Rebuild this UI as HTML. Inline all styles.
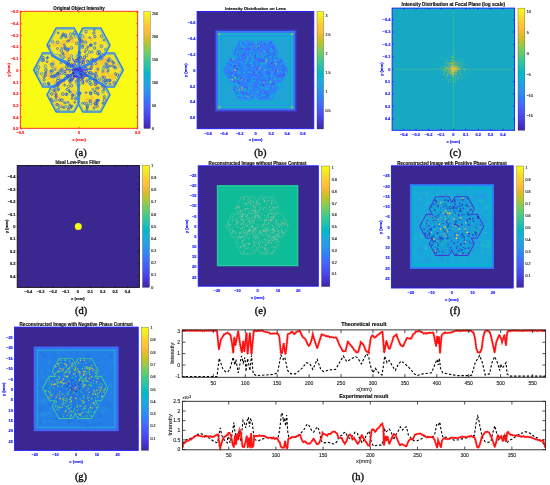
<!DOCTYPE html>
<html><head><meta charset="utf-8"><title>Figure</title>
<style>html,body{margin:0;padding:0;background:#fff;width:550px;height:485px;overflow:hidden}svg{display:block}</style>
</head><body>
<svg width="550" height="485" viewBox="0 0 550 485">
<rect width="550" height="485" fill="#fff"/>
<rect x="20.3" y="11.3" width="117.4" height="117" fill="#f9fb15"/>
<g transform="translate(78.5 70) scale(0.99 1.07) translate(-78.5 -70)">
<polygon points="123.75,70 114.55,54.07 96.16,54.07 86.96,70 96.16,85.93 114.55,85.93" fill="#f4e42a" stroke="#2f81fa" stroke-width="1.5" stroke-linejoin="round"/>
<polygon points="110.32,46.74 101.13,30.81 82.73,30.81 73.53,46.74 82.73,62.67 101.13,62.67" fill="#f4e42a" stroke="#2f81fa" stroke-width="1.5" stroke-linejoin="round"/>
<polygon points="83.47,46.74 74.27,30.81 55.88,30.81 46.68,46.74 55.88,62.67 74.27,62.67" fill="#f4e42a" stroke="#2f81fa" stroke-width="1.5" stroke-linejoin="round"/>
<polygon points="70.04,70 60.84,54.07 42.45,54.07 33.25,70 42.45,85.93 60.84,85.93" fill="#f4e42a" stroke="#2f81fa" stroke-width="1.5" stroke-linejoin="round"/>
<polygon points="83.47,93.26 74.27,77.33 55.87,77.33 46.68,93.26 55.87,109.19 74.27,109.19" fill="#f4e42a" stroke="#2f81fa" stroke-width="1.5" stroke-linejoin="round"/>
<polygon points="110.32,93.26 101.13,77.33 82.73,77.33 73.53,93.26 82.73,109.19 101.13,109.19" fill="#f4e42a" stroke="#2f81fa" stroke-width="1.5" stroke-linejoin="round"/>
<polygon points="122.05,70 113.7,55.54 97.01,55.54 88.66,70 97.01,84.46 113.7,84.46" fill="#f4e42a" stroke="#1caadf" stroke-width="0.5"/>
<polygon points="108.62,46.74 100.28,32.28 83.58,32.28 75.23,46.74 83.58,61.2 100.28,61.2" fill="#f4e42a" stroke="#1caadf" stroke-width="0.5"/>
<polygon points="81.77,46.74 73.42,32.28 56.73,32.28 48.38,46.74 56.72,61.2 73.42,61.2" fill="#f4e42a" stroke="#1caadf" stroke-width="0.5"/>
<polygon points="68.34,70 59.99,55.54 43.3,55.54 34.95,70 43.3,84.46 59.99,84.46" fill="#f4e42a" stroke="#1caadf" stroke-width="0.5"/>
<polygon points="81.77,93.26 73.42,78.8 56.72,78.8 48.38,93.26 56.72,107.72 73.42,107.72" fill="#f4e42a" stroke="#1caadf" stroke-width="0.5"/>
<polygon points="108.62,93.26 100.28,78.8 83.58,78.8 75.23,93.26 83.58,107.72 100.28,107.72" fill="#f4e42a" stroke="#1caadf" stroke-width="0.5"/>
<polygon points="90.16,63.27 78.5,56.54 66.84,63.27 66.84,76.73 78.5,83.46 90.16,76.73" fill="#e8d838"/>
<circle cx="102.37" cy="47.83" r="1.62" fill="#f5ba3a" opacity="0.6"/>
<circle cx="92.22" cy="96.13" r="1.92" fill="#f5ba3a" opacity="0.6"/>
<circle cx="108.89" cy="63.92" r="2.98" fill="#f5ba3a" opacity="0.6"/>
<circle cx="73.56" cy="90.05" r="2.17" fill="#f5ba3a" opacity="0.6"/>
<circle cx="52.85" cy="62.95" r="2.48" fill="#f5ba3a" opacity="0.6"/>
<circle cx="54.34" cy="45.64" r="2.47" fill="#f5ba3a" opacity="0.6"/>
<circle cx="53.05" cy="66.34" r="2.91" fill="#f5ba3a" opacity="0.6"/>
<circle cx="109.05" cy="75.11" r="2.09" fill="#f5ba3a" opacity="0.6"/>
<circle cx="91.38" cy="41.57" r="1.96" fill="#f5ba3a" opacity="0.6"/>
<circle cx="98.54" cy="89.11" r="1.99" fill="#f5ba3a" opacity="0.6"/>
<circle cx="60.7" cy="77.93" r="1.98" fill="#f5ba3a" opacity="0.6"/>
<circle cx="105.42" cy="62.25" r="2.77" fill="#f5ba3a" opacity="0.6"/>
<circle cx="48.91" cy="74.42" r="2.84" fill="#f5ba3a" opacity="0.6"/>
<circle cx="96.88" cy="85.79" r="1.95" fill="#f5ba3a" opacity="0.6"/>
<circle cx="79.26" cy="95.2" r="2" fill="#f5ba3a" opacity="0.6"/>
<circle cx="68.87" cy="40.17" r="2.32" fill="#f5ba3a" opacity="0.6"/>
<circle cx="102.98" cy="73.59" r="2.37" fill="#f5ba3a" opacity="0.6"/>
<circle cx="57.62" cy="74.34" r="2.39" fill="#f5ba3a" opacity="0.6"/>
<circle cx="106.48" cy="71.69" r="1.87" fill="#f5ba3a" opacity="0.6"/>
<circle cx="84.83" cy="42.84" r="1.53" fill="#f5ba3a" opacity="0.6"/>
<circle cx="65.54" cy="56.07" r="1.87" fill="#f5ba3a" opacity="0.6"/>
<circle cx="49.29" cy="77.64" r="1.61" fill="#f5ba3a" opacity="0.6"/>
<circle cx="56.35" cy="100.93" r="2.33" fill="#f5ba3a" opacity="0.6"/>
<circle cx="101.63" cy="47.34" r="1.61" fill="#f5ba3a" opacity="0.6"/>
<circle cx="47.7" cy="72.48" r="1.61" fill="#f5ba3a" opacity="0.6"/>
<circle cx="97.65" cy="65.9" r="2.45" fill="#f5ba3a" opacity="0.6"/>
<circle cx="62.39" cy="67.63" r="1.94" fill="#f5ba3a" opacity="0.6"/>
<circle cx="71.34" cy="41.77" r="2.69" fill="#f5ba3a" opacity="0.6"/>
<circle cx="79.42" cy="43.67" r="2.24" fill="#f5ba3a" opacity="0.6"/>
<circle cx="88.06" cy="98.69" r="2.79" fill="#f5ba3a" opacity="0.6"/>
<circle cx="94.62" cy="74.05" r="1.73" fill="#f5ba3a" opacity="0.6"/>
<circle cx="105.45" cy="71.5" r="2.25" fill="#f5ba3a" opacity="0.6"/>
<circle cx="62.32" cy="81.85" r="2.69" fill="#f5ba3a" opacity="0.6"/>
<circle cx="60.98" cy="102.45" r="1.62" fill="#f5ba3a" opacity="0.6"/>
<circle cx="100.57" cy="62.41" r="2.92" fill="#f5ba3a" opacity="0.6"/>
<circle cx="84.86" cy="40.27" r="1.76" fill="#f5ba3a" opacity="0.6"/>
<circle cx="96.96" cy="70.8" r="2.66" fill="#f5ba3a" opacity="0.6"/>
<circle cx="67.46" cy="56.15" r="2.98" fill="#f5ba3a" opacity="0.6"/>
<circle cx="72.43" cy="42.32" r="2.73" fill="#f5ba3a" opacity="0.6"/>
<circle cx="60.04" cy="69.98" r="1.98" fill="#f5ba3a" opacity="0.6"/>
<circle cx="62.69" cy="103.63" r="1.66" fill="#f5ba3a" opacity="0.6"/>
<circle cx="63.94" cy="44.03" r="2.27" fill="#f5ba3a" opacity="0.6"/>
<circle cx="94.29" cy="100.56" r="2.88" fill="#f5ba3a" opacity="0.6"/>
<circle cx="54.48" cy="90.4" r="1.94" fill="#f5ba3a" opacity="0.6"/>
<circle cx="101.95" cy="79.07" r="2.84" fill="#f5ba3a" opacity="0.6"/>
<circle cx="109.37" cy="58.06" r="1.71" fill="#f5ba3a" opacity="0.6"/>
<circle cx="64.05" cy="51.1" r="2.87" fill="#f5ba3a" opacity="0.6"/>
<circle cx="111.75" cy="79.41" r="1.55" fill="#f5ba3a" opacity="0.6"/>
<circle cx="45.5" cy="74.63" r="1.97" fill="#f5ba3a" opacity="0.6"/>
<circle cx="104.01" cy="58.96" r="2.85" fill="#f5ba3a" opacity="0.6"/>
<circle cx="84.91" cy="45" r="2.71" fill="#f5ba3a" opacity="0.6"/>
<circle cx="113.86" cy="75.83" r="2.86" fill="#f5ba3a" opacity="0.6"/>
<circle cx="116.97" cy="66.18" r="2.76" fill="#f5ba3a" opacity="0.6"/>
<circle cx="58.34" cy="95.97" r="2.62" fill="#f5ba3a" opacity="0.6"/>
<circle cx="55.1" cy="92.08" r="2.53" fill="#f5ba3a" opacity="0.6"/>
<circle cx="56.18" cy="67.92" r="1.77" fill="#f5ba3a" opacity="0.6"/>
<circle cx="52.72" cy="80.66" r="2.15" fill="#f5ba3a" opacity="0.6"/>
<circle cx="95.53" cy="84.65" r="1.74" fill="#f5ba3a" opacity="0.6"/>
<circle cx="56.7" cy="73.77" r="2.57" fill="#f5ba3a" opacity="0.6"/>
<circle cx="61.06" cy="47.05" r="2.5" fill="#f5ba3a" opacity="0.6"/>
<line x1="78.5" y1="70" x2="104.86" y2="55.68" stroke="#3f6eff" stroke-width="2.4" stroke-linecap="round"/>
<line x1="78.5" y1="70" x2="104.86" y2="55.68" stroke="#05b6ce" stroke-width="0.8"/>
<line x1="78.5" y1="70" x2="79.87" y2="40.03" stroke="#3f6eff" stroke-width="2.4" stroke-linecap="round"/>
<line x1="78.5" y1="70" x2="79.87" y2="40.03" stroke="#05b6ce" stroke-width="0.8"/>
<line x1="78.5" y1="70" x2="51.82" y2="56.28" stroke="#3f6eff" stroke-width="2.4" stroke-linecap="round"/>
<line x1="78.5" y1="70" x2="51.82" y2="56.28" stroke="#05b6ce" stroke-width="0.8"/>
<line x1="78.5" y1="70" x2="53.02" y2="85.83" stroke="#3f6eff" stroke-width="2.4" stroke-linecap="round"/>
<line x1="78.5" y1="70" x2="53.02" y2="85.83" stroke="#05b6ce" stroke-width="0.8"/>
<line x1="78.5" y1="70" x2="78.65" y2="100" stroke="#3f6eff" stroke-width="2.4" stroke-linecap="round"/>
<line x1="78.5" y1="70" x2="78.65" y2="100" stroke="#05b6ce" stroke-width="0.8"/>
<line x1="78.5" y1="70" x2="104.55" y2="84.89" stroke="#3f6eff" stroke-width="2.4" stroke-linecap="round"/>
<line x1="78.5" y1="70" x2="104.55" y2="84.89" stroke="#05b6ce" stroke-width="0.8"/>
<line x1="78.5" y1="70" x2="91.48" y2="69.2" stroke="#4367fd" stroke-width="1.2"/>
<line x1="78.5" y1="70" x2="85.09" y2="58.8" stroke="#4367fd" stroke-width="1.2"/>
<line x1="78.5" y1="70" x2="72.21" y2="58.63" stroke="#4367fd" stroke-width="1.2"/>
<line x1="78.5" y1="70" x2="65.51" y2="69.63" stroke="#4367fd" stroke-width="1.2"/>
<line x1="78.5" y1="70" x2="71.53" y2="80.97" stroke="#4367fd" stroke-width="1.2"/>
<line x1="78.5" y1="70" x2="84.04" y2="81.76" stroke="#4367fd" stroke-width="1.2"/>
<circle cx="79.3" cy="69.5" r="1.8" fill="none" stroke="#484aee" stroke-width="0.9"/>
<circle cx="73.5" cy="72.5" r="1.5" fill="#3e26a8"/>
<circle cx="65.37" cy="37.26" r="1.17" fill="none" stroke="#2060e0" stroke-width="0.75"/>
<circle cx="108.27" cy="60.75" r="1.23" fill="none" stroke="#2a72e8" stroke-width="0.75"/>
<circle cx="69.55" cy="80.18" r="1.05" fill="none" stroke="#2a48d0" stroke-width="0.75"/>
<circle cx="81.1" cy="70.08" r="0.97" fill="none" stroke="#2058dc" stroke-width="0.75"/>
<circle cx="95.38" cy="90.94" r="1.18" fill="none" stroke="#1d55d8" stroke-width="0.75"/>
<circle cx="54.82" cy="69.55" r="0.93" fill="none" stroke="#2a72e8" stroke-width="0.75"/>
<circle cx="76.58" cy="45.12" r="1.23" fill="none" stroke="#2060e0" stroke-width="0.75"/>
<circle cx="70.56" cy="75.47" r="1.24" fill="none" stroke="#3040c8" stroke-width="0.75"/>
<circle cx="58.16" cy="83.25" r="1.27" fill="none" stroke="#1d55d8" stroke-width="0.75"/>
<circle cx="95.93" cy="101.58" r="1.29" fill="none" stroke="#2060e0" stroke-width="0.75"/>
<circle cx="66.88" cy="88.22" r="1.13" fill="none" stroke="#2a72e8" stroke-width="0.75"/>
<circle cx="99.9" cy="78.56" r="1.36" fill="none" stroke="#2f86e8" stroke-width="0.75"/>
<circle cx="49.2" cy="47.43" r="0.88" fill="none" stroke="#3a58d8" stroke-width="0.75"/>
<circle cx="52.94" cy="76.29" r="1.29" fill="none" stroke="#2060e0" stroke-width="0.75"/>
<circle cx="94.94" cy="89.65" r="0.82" fill="none" stroke="#2a72e8" stroke-width="0.75"/>
<circle cx="64.74" cy="71.36" r="1.05" fill="none" stroke="#2a48d0" stroke-width="0.75"/>
<circle cx="106.37" cy="81.62" r="1.33" fill="none" stroke="#2060e0" stroke-width="0.75"/>
<circle cx="57.46" cy="107.36" r="1.22" fill="none" stroke="#2f86e8" stroke-width="0.75"/>
<circle cx="103.46" cy="100.94" r="1.05" fill="none" stroke="#1d55d8" stroke-width="0.75"/>
<circle cx="92.95" cy="88.14" r="0.94" fill="none" stroke="#2f86e8" stroke-width="0.75"/>
<circle cx="105.9" cy="63.93" r="0.88" fill="none" stroke="#2f86e8" stroke-width="0.75"/>
<circle cx="87.61" cy="61.69" r="1.1" fill="none" stroke="#2058dc" stroke-width="0.75"/>
<circle cx="55.71" cy="92.59" r="0.96" fill="none" stroke="#1d55d8" stroke-width="0.75"/>
<circle cx="90.04" cy="79.56" r="1.27" fill="none" stroke="#2a72e8" stroke-width="0.75"/>
<circle cx="59.02" cy="73.83" r="1.38" fill="none" stroke="#2a72e8" stroke-width="0.75"/>
<circle cx="57.98" cy="77.76" r="1.36" fill="none" stroke="#2f86e8" stroke-width="0.75"/>
<circle cx="55.95" cy="86.61" r="1.23" fill="none" stroke="#1d55d8" stroke-width="0.75"/>
<circle cx="104.84" cy="97.93" r="1.36" fill="none" stroke="#2060e0" stroke-width="0.75"/>
<circle cx="102.85" cy="76.38" r="0.81" fill="none" stroke="#3a58d8" stroke-width="0.75"/>
<circle cx="67.93" cy="50.46" r="0.82" fill="none" stroke="#2a72e8" stroke-width="0.75"/>
<circle cx="45.61" cy="70.03" r="1.34" fill="none" stroke="#2060e0" stroke-width="0.75"/>
<circle cx="85.07" cy="52.92" r="0.81" fill="none" stroke="#2060e0" stroke-width="0.75"/>
<circle cx="73.28" cy="65.43" r="1.11" fill="none" stroke="#2a48d0" stroke-width="0.75"/>
<circle cx="60.83" cy="60.9" r="0.82" fill="none" stroke="#2f86e8" stroke-width="0.75"/>
<circle cx="104.12" cy="86.6" r="0.92" fill="none" stroke="#3a58d8" stroke-width="0.75"/>
<circle cx="67.42" cy="43.2" r="0.97" fill="none" stroke="#3a58d8" stroke-width="0.75"/>
<circle cx="87.38" cy="104.54" r="1.1" fill="none" stroke="#2a72e8" stroke-width="0.75"/>
<circle cx="108.31" cy="70.99" r="1.04" fill="none" stroke="#2060e0" stroke-width="0.75"/>
<circle cx="108.78" cy="61.76" r="0.92" fill="none" stroke="#1d55d8" stroke-width="0.75"/>
<circle cx="60.88" cy="40.16" r="0.91" fill="none" stroke="#2f86e8" stroke-width="0.75"/>
<circle cx="89.36" cy="72.8" r="0.98" fill="none" stroke="#2058dc" stroke-width="0.75"/>
<circle cx="68.47" cy="63.29" r="1.06" fill="none" stroke="#3040c8" stroke-width="0.75"/>
<circle cx="69.93" cy="102.69" r="1.02" fill="none" stroke="#3a58d8" stroke-width="0.75"/>
<circle cx="86.14" cy="91.16" r="0.81" fill="none" stroke="#2060e0" stroke-width="0.75"/>
<circle cx="77.84" cy="92.24" r="1.2" fill="none" stroke="#2f86e8" stroke-width="0.75"/>
<circle cx="91.2" cy="83.46" r="1.2" fill="none" stroke="#3a58d8" stroke-width="0.75"/>
<circle cx="90.2" cy="82.1" r="1.3" fill="none" stroke="#2f86e8" stroke-width="0.75"/>
<circle cx="107.04" cy="79.54" r="1.01" fill="none" stroke="#2060e0" stroke-width="0.75"/>
<circle cx="64.88" cy="48.69" r="1.19" fill="none" stroke="#1d55d8" stroke-width="0.75"/>
<circle cx="97.33" cy="103.84" r="1.22" fill="none" stroke="#3a58d8" stroke-width="0.75"/>
<circle cx="82.5" cy="38.51" r="1.37" fill="none" stroke="#2f86e8" stroke-width="0.75"/>
<circle cx="108.63" cy="68.6" r="1.14" fill="none" stroke="#2f86e8" stroke-width="0.75"/>
<circle cx="79.43" cy="92.15" r="1.36" fill="none" stroke="#3a58d8" stroke-width="0.75"/>
<circle cx="71.5" cy="56.89" r="1.16" fill="none" stroke="#2f86e8" stroke-width="0.75"/>
<circle cx="95.74" cy="61.12" r="1.34" fill="none" stroke="#3a58d8" stroke-width="0.75"/>
<circle cx="95.6" cy="79.5" r="1.16" fill="none" stroke="#1d55d8" stroke-width="0.75"/>
<circle cx="52.15" cy="43.55" r="1.3" fill="none" stroke="#2f86e8" stroke-width="0.75"/>
<circle cx="80.6" cy="58.07" r="0.98" fill="none" stroke="#3040c8" stroke-width="0.75"/>
<circle cx="79.54" cy="91.42" r="1.16" fill="none" stroke="#2a72e8" stroke-width="0.75"/>
<circle cx="48.5" cy="83.85" r="0.95" fill="none" stroke="#2060e0" stroke-width="0.75"/>
<circle cx="97.82" cy="98.51" r="1.16" fill="none" stroke="#2060e0" stroke-width="0.75"/>
<circle cx="57.66" cy="79.92" r="1.27" fill="none" stroke="#3a58d8" stroke-width="0.75"/>
<circle cx="54.26" cy="75.52" r="1.34" fill="none" stroke="#1d55d8" stroke-width="0.75"/>
<circle cx="97.21" cy="101.11" r="1.1" fill="none" stroke="#1d55d8" stroke-width="0.75"/>
<circle cx="89.58" cy="53.4" r="1.22" fill="none" stroke="#2a72e8" stroke-width="0.75"/>
<circle cx="72.32" cy="93.67" r="1.22" fill="none" stroke="#1d55d8" stroke-width="0.75"/>
<circle cx="104.33" cy="41.94" r="1.03" fill="none" stroke="#3a58d8" stroke-width="0.75"/>
<circle cx="89.89" cy="39.74" r="0.83" fill="none" stroke="#2060e0" stroke-width="0.75"/>
<circle cx="88.12" cy="48.46" r="1.01" fill="none" stroke="#2060e0" stroke-width="0.75"/>
<circle cx="80.91" cy="37.3" r="0.95" fill="none" stroke="#2f86e8" stroke-width="0.75"/>
<circle cx="65.93" cy="92.75" r="1.25" fill="none" stroke="#2a72e8" stroke-width="0.75"/>
<circle cx="55.01" cy="89.74" r="1.03" fill="none" stroke="#2a72e8" stroke-width="0.75"/>
<circle cx="98.27" cy="52.4" r="1" fill="none" stroke="#2f86e8" stroke-width="0.75"/>
<circle cx="42.88" cy="60.68" r="1.33" fill="none" stroke="#2060e0" stroke-width="0.75"/>
<circle cx="87.32" cy="105.19" r="0.93" fill="none" stroke="#2060e0" stroke-width="0.75"/>
<circle cx="96.96" cy="98.5" r="1" fill="none" stroke="#2060e0" stroke-width="0.75"/>
<circle cx="64.24" cy="100.58" r="0.88" fill="none" stroke="#2a72e8" stroke-width="0.75"/>
<circle cx="41.87" cy="60.92" r="1.38" fill="none" stroke="#2f86e8" stroke-width="0.75"/>
<circle cx="78.05" cy="58.95" r="1" fill="none" stroke="#2a48d0" stroke-width="0.75"/>
<circle cx="107.47" cy="66.61" r="1.38" fill="none" stroke="#1d55d8" stroke-width="0.75"/>
<circle cx="85.73" cy="43.93" r="1.25" fill="none" stroke="#2f86e8" stroke-width="0.75"/>
<circle cx="97.95" cy="54.63" r="1.25" fill="none" stroke="#2a72e8" stroke-width="0.75"/>
<circle cx="86.97" cy="107.06" r="0.98" fill="none" stroke="#3a58d8" stroke-width="0.75"/>
<circle cx="62.17" cy="59.42" r="1.05" fill="none" stroke="#2f86e8" stroke-width="0.75"/>
<circle cx="69.44" cy="104.39" r="1.38" fill="none" stroke="#2060e0" stroke-width="0.75"/>
<circle cx="101.9" cy="38.53" r="1.36" fill="none" stroke="#3a58d8" stroke-width="0.75"/>
<circle cx="45.01" cy="66.64" r="1.36" fill="none" stroke="#2f86e8" stroke-width="0.75"/>
<circle cx="58.01" cy="35.38" r="0.83" fill="none" stroke="#1d55d8" stroke-width="0.75"/>
<circle cx="90.94" cy="92.14" r="1.18" fill="none" stroke="#1d55d8" stroke-width="0.75"/>
<circle cx="95.4" cy="101.28" r="1.23" fill="none" stroke="#3a58d8" stroke-width="0.75"/>
<circle cx="93.25" cy="60.02" r="0.93" fill="none" stroke="#1d55d8" stroke-width="0.75"/>
<circle cx="91.32" cy="46.75" r="1.23" fill="none" stroke="#2a72e8" stroke-width="0.75"/>
<circle cx="86.69" cy="56.39" r="1.25" fill="none" stroke="#2a72e8" stroke-width="0.75"/>
<circle cx="88.03" cy="75.45" r="0.8" fill="none" stroke="#2058dc" stroke-width="0.75"/>
<circle cx="71.63" cy="84.7" r="1.21" fill="none" stroke="#3a58d8" stroke-width="0.75"/>
<circle cx="97.83" cy="92.02" r="1.1" fill="none" stroke="#1d55d8" stroke-width="0.75"/>
<circle cx="98.51" cy="92.82" r="0.82" fill="none" stroke="#2a72e8" stroke-width="0.75"/>
<circle cx="106.83" cy="67.21" r="1.06" fill="none" stroke="#2a72e8" stroke-width="0.75"/>
<circle cx="36.88" cy="72.85" r="1.32" fill="none" stroke="#2f86e8" stroke-width="0.75"/>
<circle cx="73.37" cy="36.35" r="1.09" fill="none" stroke="#2f86e8" stroke-width="0.75"/>
<circle cx="69.01" cy="88.79" r="0.87" fill="none" stroke="#2a72e8" stroke-width="0.75"/>
<circle cx="99.55" cy="53.1" r="1.29" fill="none" stroke="#2a72e8" stroke-width="0.75"/>
<circle cx="60.74" cy="63.2" r="1.06" fill="none" stroke="#2a72e8" stroke-width="0.75"/>
<circle cx="55.46" cy="75.17" r="1.25" fill="none" stroke="#3a58d8" stroke-width="0.75"/>
<circle cx="63.12" cy="55.4" r="0.87" fill="none" stroke="#1d55d8" stroke-width="0.75"/>
<circle cx="86.11" cy="34.22" r="1.32" fill="none" stroke="#2a72e8" stroke-width="0.75"/>
<circle cx="92.31" cy="65.35" r="1.06" fill="none" stroke="#1d55d8" stroke-width="0.75"/>
<circle cx="47.46" cy="58.27" r="0.83" fill="none" stroke="#2f86e8" stroke-width="0.75"/>
<circle cx="92.18" cy="53.14" r="1.11" fill="none" stroke="#2f86e8" stroke-width="0.75"/>
<circle cx="60.25" cy="56.66" r="0.9" fill="none" stroke="#2a72e8" stroke-width="0.75"/>
<circle cx="62.69" cy="92.49" r="1.35" fill="none" stroke="#2060e0" stroke-width="0.75"/>
<circle cx="78.6" cy="72.36" r="0.93" fill="none" stroke="#2058dc" stroke-width="0.75"/>
<circle cx="62.71" cy="54.39" r="0.84" fill="none" stroke="#2060e0" stroke-width="0.75"/>
<circle cx="45.43" cy="72.15" r="0.84" fill="none" stroke="#2060e0" stroke-width="0.75"/>
<circle cx="104.2" cy="88.36" r="0.82" fill="none" stroke="#2a72e8" stroke-width="0.75"/>
<circle cx="100.82" cy="57.47" r="1" fill="none" stroke="#2060e0" stroke-width="0.75"/>
<circle cx="69.68" cy="66.79" r="1.17" fill="none" stroke="#2058dc" stroke-width="0.75"/>
<circle cx="95.45" cy="75.68" r="0.93" fill="none" stroke="#1d55d8" stroke-width="0.75"/>
<circle cx="70.46" cy="90.63" r="0.96" fill="none" stroke="#2f86e8" stroke-width="0.75"/>
<circle cx="82.64" cy="48.8" r="1.13" fill="none" stroke="#2a72e8" stroke-width="0.75"/>
<circle cx="90.46" cy="72.39" r="1.33" fill="none" stroke="#2a48d0" stroke-width="0.75"/>
<circle cx="110.23" cy="82.96" r="0.93" fill="none" stroke="#2060e0" stroke-width="0.75"/>
<circle cx="58.93" cy="105.41" r="0.94" fill="none" stroke="#2f86e8" stroke-width="0.75"/>
<circle cx="87.38" cy="103.08" r="1.22" fill="none" stroke="#2060e0" stroke-width="0.75"/>
<circle cx="114.05" cy="63.25" r="1" fill="none" stroke="#3a58d8" stroke-width="0.75"/>
<circle cx="94.39" cy="74.03" r="0.87" fill="none" stroke="#2f86e8" stroke-width="0.75"/>
<circle cx="98.94" cy="98.42" r="0.91" fill="none" stroke="#2060e0" stroke-width="0.75"/>
<circle cx="51.47" cy="92.33" r="1.26" fill="none" stroke="#1d55d8" stroke-width="0.75"/>
<circle cx="102.97" cy="71.29" r="0.93" fill="none" stroke="#2a72e8" stroke-width="0.75"/>
<circle cx="77.33" cy="61.29" r="1.34" fill="none" stroke="#2a48d0" stroke-width="0.75"/>
<circle cx="110.28" cy="66.24" r="0.84" fill="none" stroke="#2a72e8" stroke-width="0.75"/>
<circle cx="85.01" cy="74.65" r="1.33" fill="none" stroke="#2a48d0" stroke-width="0.75"/>
<circle cx="80.82" cy="73.8" r="0.84" fill="none" stroke="#3040c8" stroke-width="0.75"/>
<circle cx="70.2" cy="81.76" r="0.89" fill="none" stroke="#2060e0" stroke-width="0.75"/>
<circle cx="61.1" cy="52.07" r="1.25" fill="none" stroke="#2a72e8" stroke-width="0.75"/>
<circle cx="79.07" cy="77.81" r="0.83" fill="none" stroke="#2a48d0" stroke-width="0.75"/>
<circle cx="48" cy="82.37" r="1.07" fill="none" stroke="#1d55d8" stroke-width="0.75"/>
<circle cx="84.46" cy="58.09" r="1.2" fill="none" stroke="#2a48d0" stroke-width="0.75"/>
<circle cx="109.84" cy="59.45" r="0.83" fill="none" stroke="#2060e0" stroke-width="0.75"/>
<circle cx="75.28" cy="96.78" r="1.25" fill="none" stroke="#2060e0" stroke-width="0.75"/>
<circle cx="66.97" cy="92.57" r="0.85" fill="none" stroke="#1d55d8" stroke-width="0.75"/>
<circle cx="74.53" cy="35.29" r="1.36" fill="none" stroke="#2a72e8" stroke-width="0.75"/>
<circle cx="56.8" cy="102.39" r="1.12" fill="none" stroke="#1d55d8" stroke-width="0.75"/>
<circle cx="86.61" cy="50.74" r="1.23" fill="none" stroke="#2a72e8" stroke-width="0.75"/>
<circle cx="79.75" cy="91.68" r="1.26" fill="none" stroke="#2a72e8" stroke-width="0.75"/>
<circle cx="95.81" cy="63.98" r="1.01" fill="none" stroke="#3a58d8" stroke-width="0.75"/>
<circle cx="103.57" cy="68.71" r="1.26" fill="none" stroke="#2f86e8" stroke-width="0.75"/>
<circle cx="98" cy="69.22" r="1.03" fill="none" stroke="#3a58d8" stroke-width="0.75"/>
<circle cx="69.37" cy="90.23" r="0.85" fill="none" stroke="#1d55d8" stroke-width="0.75"/>
<circle cx="82.99" cy="73.12" r="1.3" fill="none" stroke="#3040c8" stroke-width="0.75"/>
<circle cx="83.28" cy="62.73" r="1.33" fill="none" stroke="#2a48d0" stroke-width="0.75"/>
<circle cx="94.03" cy="35.49" r="1.16" fill="none" stroke="#2060e0" stroke-width="0.75"/>
<circle cx="57.26" cy="49.98" r="0.94" fill="none" stroke="#3a58d8" stroke-width="0.75"/>
<circle cx="76.66" cy="96.54" r="1.33" fill="none" stroke="#2f86e8" stroke-width="0.75"/>
<circle cx="94.5" cy="32.64" r="0.98" fill="none" stroke="#2a72e8" stroke-width="0.75"/>
<circle cx="68.52" cy="85.27" r="1.25" fill="none" stroke="#2a72e8" stroke-width="0.75"/>
<circle cx="59.88" cy="70.71" r="1.05" fill="none" stroke="#2a72e8" stroke-width="0.75"/>
<circle cx="68.22" cy="106.69" r="1.01" fill="none" stroke="#3a58d8" stroke-width="0.75"/>
<circle cx="51.46" cy="71.88" r="1.37" fill="none" stroke="#2f86e8" stroke-width="0.75"/>
<circle cx="70.95" cy="105.11" r="0.81" fill="none" stroke="#1d55d8" stroke-width="0.75"/>
<circle cx="82.55" cy="44.17" r="0.98" fill="none" stroke="#2a72e8" stroke-width="0.75"/>
<circle cx="102" cy="55.26" r="1.14" fill="none" stroke="#2f86e8" stroke-width="0.75"/>
<circle cx="57.46" cy="73.67" r="1.23" fill="none" stroke="#1d55d8" stroke-width="0.75"/>
<circle cx="73.09" cy="93.52" r="0.9" fill="none" stroke="#1d55d8" stroke-width="0.75"/>
<circle cx="58.1" cy="88.67" r="0.88" fill="none" stroke="#2060e0" stroke-width="0.75"/>
<circle cx="70.5" cy="36.53" r="1.29" fill="none" stroke="#2a72e8" stroke-width="0.75"/>
<circle cx="50.93" cy="75.51" r="0.94" fill="none" stroke="#2a72e8" stroke-width="0.75"/>
<circle cx="81.47" cy="79.86" r="0.9" fill="none" stroke="#3040c8" stroke-width="0.75"/>
<circle cx="46.72" cy="62.2" r="0.99" fill="none" stroke="#3a58d8" stroke-width="0.75"/>
<circle cx="58.57" cy="87.69" r="0.89" fill="none" stroke="#2a72e8" stroke-width="0.75"/>
<circle cx="57.42" cy="44.15" r="1.33" fill="none" stroke="#2060e0" stroke-width="0.75"/>
<circle cx="66.53" cy="67.33" r="1.31" fill="none" stroke="#2058dc" stroke-width="0.75"/>
<circle cx="63.87" cy="79.57" r="0.99" fill="none" stroke="#1d55d8" stroke-width="0.75"/>
<circle cx="96.07" cy="73.15" r="1.09" fill="none" stroke="#2060e0" stroke-width="0.75"/>
<circle cx="95.7" cy="83.13" r="1.39" fill="none" stroke="#1d55d8" stroke-width="0.75"/>
<circle cx="61.79" cy="69.43" r="1.19" fill="none" stroke="#2a72e8" stroke-width="0.75"/>
<circle cx="63.12" cy="36.33" r="1.1" fill="none" stroke="#2a72e8" stroke-width="0.75"/>
<circle cx="41.22" cy="73.51" r="1.31" fill="none" stroke="#2f86e8" stroke-width="0.75"/>
<circle cx="96.86" cy="75.71" r="1.18" fill="none" stroke="#2a72e8" stroke-width="0.75"/>
<circle cx="95.22" cy="45.23" r="1.01" fill="none" stroke="#2060e0" stroke-width="0.75"/>
<circle cx="51.3" cy="76.12" r="0.91" fill="none" stroke="#3a58d8" stroke-width="0.75"/>
<circle cx="113.28" cy="62.96" r="0.82" fill="none" stroke="#2a72e8" stroke-width="0.75"/>
<circle cx="60.88" cy="80.44" r="1.33" fill="none" stroke="#1d55d8" stroke-width="0.75"/>
<circle cx="64.12" cy="79.15" r="0.84" fill="none" stroke="#2a72e8" stroke-width="0.75"/>
<circle cx="63.1" cy="37.37" r="1" fill="none" stroke="#3a58d8" stroke-width="0.75"/>
<circle cx="55.95" cy="94.43" r="0.95" fill="none" stroke="#2060e0" stroke-width="0.75"/>
<circle cx="91.02" cy="46.66" r="0.94" fill="none" stroke="#2a72e8" stroke-width="0.75"/>
<circle cx="94.76" cy="49.51" r="1.22" fill="none" stroke="#2060e0" stroke-width="0.75"/>
<circle cx="79.88" cy="53.88" r="0.92" fill="none" stroke="#1d55d8" stroke-width="0.75"/>
<circle cx="105.97" cy="82.78" r="0.93" fill="none" stroke="#2f86e8" stroke-width="0.75"/>
<circle cx="109.57" cy="79.61" r="1.33" fill="none" stroke="#1d55d8" stroke-width="0.75"/>
<circle cx="112.02" cy="61.42" r="0.9" fill="none" stroke="#2060e0" stroke-width="0.75"/>
<circle cx="94.7" cy="80.92" r="0.99" fill="none" stroke="#2f86e8" stroke-width="0.75"/>
<circle cx="81.01" cy="75.83" r="1.11" fill="none" stroke="#2058dc" stroke-width="0.75"/>
<circle cx="81.74" cy="60.39" r="1.16" fill="none" stroke="#2058dc" stroke-width="0.75"/>
<circle cx="114.55" cy="82.01" r="1.27" fill="none" stroke="#3a58d8" stroke-width="0.75"/>
<circle cx="79.27" cy="40.6" r="1.15" fill="none" stroke="#3a58d8" stroke-width="0.75"/>
<circle cx="52.71" cy="64.08" r="0.91" fill="none" stroke="#2a72e8" stroke-width="0.75"/>
<circle cx="82.66" cy="47.41" r="0.92" fill="none" stroke="#2060e0" stroke-width="0.75"/>
<circle cx="57.77" cy="72.73" r="0.97" fill="none" stroke="#1d55d8" stroke-width="0.75"/>
<circle cx="76.08" cy="61.25" r="1.26" fill="none" stroke="#2a48d0" stroke-width="0.75"/>
<circle cx="42.64" cy="58.55" r="1.26" fill="none" stroke="#2060e0" stroke-width="0.75"/>
<circle cx="92.48" cy="74" r="0.9" fill="none" stroke="#2a72e8" stroke-width="0.75"/>
<circle cx="82.55" cy="101.12" r="0.91" fill="none" stroke="#2a72e8" stroke-width="0.75"/>
<circle cx="98.7" cy="86.71" r="0.85" fill="none" stroke="#1d55d8" stroke-width="0.75"/>
<circle cx="95.01" cy="38.85" r="1.21" fill="none" stroke="#1d55d8" stroke-width="0.75"/>
<circle cx="63.61" cy="105.17" r="0.85" fill="none" stroke="#1d55d8" stroke-width="0.75"/>
<circle cx="67.8" cy="64.54" r="1.16" fill="none" stroke="#2a48d0" stroke-width="0.75"/>
<circle cx="43.92" cy="79.14" r="1.15" fill="none" stroke="#2060e0" stroke-width="0.75"/>
<circle cx="57.66" cy="85.1" r="0.93" fill="none" stroke="#3a58d8" stroke-width="0.75"/>
<circle cx="105.59" cy="79.38" r="1.13" fill="none" stroke="#2060e0" stroke-width="0.75"/>
<circle cx="67.6" cy="75.6" r="1.31" fill="none" stroke="#3040c8" stroke-width="0.75"/>
<circle cx="113.14" cy="66.34" r="1.14" fill="none" stroke="#1d55d8" stroke-width="0.75"/>
<circle cx="103.77" cy="78.92" r="1.09" fill="none" stroke="#2f86e8" stroke-width="0.75"/>
<circle cx="70.21" cy="79.57" r="0.99" fill="none" stroke="#2058dc" stroke-width="0.75"/>
<circle cx="38.07" cy="67.35" r="1.36" fill="none" stroke="#2a72e8" stroke-width="0.75"/>
<circle cx="55.44" cy="97.9" r="1.16" fill="none" stroke="#2f86e8" stroke-width="0.75"/>
<circle cx="54.95" cy="75.64" r="0.85" fill="none" stroke="#2a72e8" stroke-width="0.75"/>
<circle cx="65.62" cy="39.11" r="1.05" fill="none" stroke="#2060e0" stroke-width="0.75"/>
<circle cx="61.64" cy="104.37" r="0.96" fill="none" stroke="#2a72e8" stroke-width="0.75"/>
<circle cx="64.59" cy="84.26" r="0.81" fill="none" stroke="#1d55d8" stroke-width="0.75"/>
<circle cx="67.31" cy="51.35" r="1.35" fill="none" stroke="#1d55d8" stroke-width="0.75"/>
<circle cx="107.11" cy="64.66" r="0.99" fill="none" stroke="#2a72e8" stroke-width="0.75"/>
<circle cx="96.53" cy="82.21" r="1.32" fill="none" stroke="#3a58d8" stroke-width="0.75"/>
<circle cx="94.16" cy="105.42" r="1.05" fill="none" stroke="#2060e0" stroke-width="0.75"/>
<circle cx="48.83" cy="82.92" r="0.98" fill="none" stroke="#2a72e8" stroke-width="0.75"/>
<circle cx="67.93" cy="100.21" r="0.83" fill="none" stroke="#3a58d8" stroke-width="0.75"/>
<circle cx="104.25" cy="66.5" r="1.06" fill="none" stroke="#2f86e8" stroke-width="0.75"/>
<circle cx="75.89" cy="69.33" r="0.93" fill="none" stroke="#3040c8" stroke-width="0.75"/>
<circle cx="103.22" cy="90.2" r="1.26" fill="none" stroke="#2f86e8" stroke-width="0.75"/>
<circle cx="50.79" cy="64.62" r="1.1" fill="none" stroke="#2a72e8" stroke-width="0.75"/>
<circle cx="82.3" cy="76.46" r="1.17" fill="none" stroke="#2058dc" stroke-width="0.75"/>
<circle cx="46.81" cy="58.79" r="0.9" fill="none" stroke="#1d55d8" stroke-width="0.75"/>
<circle cx="102.58" cy="85.13" r="1.01" fill="none" stroke="#3a58d8" stroke-width="0.75"/>
<circle cx="105.46" cy="50.86" r="1.01" fill="none" stroke="#2f86e8" stroke-width="0.75"/>
<circle cx="90.61" cy="91.36" r="1.22" fill="none" stroke="#1d55d8" stroke-width="0.75"/>
<circle cx="115.84" cy="73.41" r="1.04" fill="none" stroke="#3a58d8" stroke-width="0.75"/>
<circle cx="64.24" cy="46.39" r="0.89" fill="none" stroke="#3a58d8" stroke-width="0.75"/>
<circle cx="86.22" cy="71.19" r="1.38" fill="none" stroke="#2a48d0" stroke-width="0.75"/>
<circle cx="71.93" cy="96.64" r="0.82" fill="none" stroke="#1d55d8" stroke-width="0.75"/>
<circle cx="96.63" cy="87.25" r="0.85" fill="none" stroke="#2060e0" stroke-width="0.75"/>
<circle cx="92.4" cy="73.33" r="0.82" fill="none" stroke="#2f86e8" stroke-width="0.75"/>
<circle cx="55.69" cy="95.29" r="1.08" fill="none" stroke="#3a58d8" stroke-width="0.75"/>
<circle cx="44.03" cy="83.02" r="1.22" fill="none" stroke="#2f86e8" stroke-width="0.75"/>
<circle cx="68.27" cy="75.43" r="1.28" fill="none" stroke="#2058dc" stroke-width="0.75"/>
<circle cx="91.3" cy="68.09" r="1.22" fill="none" stroke="#3040c8" stroke-width="0.75"/>
<circle cx="61.49" cy="49.92" r="0.81" fill="none" stroke="#2f86e8" stroke-width="0.75"/>
<circle cx="70.86" cy="78.59" r="1.23" fill="none" stroke="#2058dc" stroke-width="0.75"/>
<circle cx="62.06" cy="73.14" r="1.07" fill="none" stroke="#2f86e8" stroke-width="0.75"/>
<circle cx="73.86" cy="70.14" r="1.15" fill="none" stroke="#2a48d0" stroke-width="0.75"/>
<circle cx="71.04" cy="39.92" r="1.3" fill="none" stroke="#2a72e8" stroke-width="0.75"/>
<circle cx="69.04" cy="59.96" r="1.29" fill="none" stroke="#3040c8" stroke-width="0.75"/>
<circle cx="65.83" cy="38.46" r="0.94" fill="none" stroke="#2f86e8" stroke-width="0.75"/>
<circle cx="84.55" cy="101.21" r="0.98" fill="none" stroke="#2060e0" stroke-width="0.75"/>
<circle cx="103.89" cy="81.04" r="1.07" fill="none" stroke="#2a72e8" stroke-width="0.75"/>
<circle cx="99.41" cy="55.17" r="0.92" fill="none" stroke="#1d55d8" stroke-width="0.75"/>
<circle cx="64.87" cy="50.01" r="1.07" fill="none" stroke="#2060e0" stroke-width="0.75"/>
<circle cx="75.58" cy="38.24" r="1.37" fill="none" stroke="#2f86e8" stroke-width="0.75"/>
<circle cx="51.03" cy="97.3" r="1" fill="none" stroke="#1d55d8" stroke-width="0.75"/>
<circle cx="81.9" cy="42.71" r="1.14" fill="none" stroke="#3a58d8" stroke-width="0.75"/>
<circle cx="72.09" cy="103.66" r="0.81" fill="none" stroke="#1d55d8" stroke-width="0.75"/>
<circle cx="85.52" cy="74.88" r="1.33" fill="none" stroke="#2058dc" stroke-width="0.75"/>
<circle cx="68.66" cy="42.47" r="0.84" fill="none" stroke="#1d55d8" stroke-width="0.75"/>
<circle cx="100.79" cy="59.38" r="1.11" fill="none" stroke="#3a58d8" stroke-width="0.75"/>
<circle cx="95.01" cy="78.24" r="1.4" fill="none" stroke="#2060e0" stroke-width="0.75"/>
<circle cx="44.94" cy="73.48" r="0.99" fill="none" stroke="#1d55d8" stroke-width="0.75"/>
<circle cx="67.79" cy="50.6" r="1.39" fill="none" stroke="#2a72e8" stroke-width="0.75"/>
<circle cx="65.55" cy="100.64" r="0.88" fill="none" stroke="#2f86e8" stroke-width="0.75"/>
<circle cx="53.62" cy="88.94" r="1.12" fill="none" stroke="#1d55d8" stroke-width="0.75"/>
<circle cx="64.72" cy="73.2" r="1.13" fill="none" stroke="#3a58d8" stroke-width="0.75"/>
<circle cx="52.15" cy="66.69" r="1.08" fill="none" stroke="#2f86e8" stroke-width="0.75"/>
<circle cx="59.52" cy="98.07" r="1.13" fill="none" stroke="#1d55d8" stroke-width="0.75"/>
<circle cx="86.88" cy="80.42" r="1.11" fill="none" stroke="#2058dc" stroke-width="0.75"/>
<circle cx="101.55" cy="47.82" r="1.37" fill="none" stroke="#2f86e8" stroke-width="0.75"/>
<circle cx="61.81" cy="98.26" r="1.31" fill="none" stroke="#1d55d8" stroke-width="0.75"/>
<circle cx="90.58" cy="47" r="0.97" fill="none" stroke="#1d55d8" stroke-width="0.75"/>
<circle cx="52.06" cy="70.7" r="1.21" fill="none" stroke="#2a72e8" stroke-width="0.75"/>
<circle cx="97.31" cy="98.9" r="0.87" fill="none" stroke="#3a58d8" stroke-width="0.75"/>
<circle cx="102.33" cy="58.96" r="1.23" fill="none" stroke="#2f86e8" stroke-width="0.75"/>
<circle cx="76.87" cy="80.28" r="1.24" fill="none" stroke="#2058dc" stroke-width="0.75"/>
<circle cx="57.47" cy="82.53" r="1.33" fill="none" stroke="#3a58d8" stroke-width="0.75"/>
<circle cx="71.37" cy="49.36" r="1.29" fill="none" stroke="#3a58d8" stroke-width="0.75"/>
<circle cx="44.98" cy="75.39" r="1.02" fill="none" stroke="#1d55d8" stroke-width="0.75"/>
<circle cx="52.65" cy="99.22" r="0.83" fill="none" stroke="#2060e0" stroke-width="0.75"/>
<circle cx="71.5" cy="64.73" r="0.86" fill="none" stroke="#3040c8" stroke-width="0.75"/>
<circle cx="50.45" cy="70.88" r="0.88" fill="none" stroke="#3a58d8" stroke-width="0.75"/>
<circle cx="80.48" cy="42.59" r="0.91" fill="none" stroke="#3a58d8" stroke-width="0.75"/>
<circle cx="65.81" cy="104.16" r="1.11" fill="none" stroke="#2f86e8" stroke-width="0.75"/>
<circle cx="74.74" cy="100.23" r="0.82" fill="none" stroke="#1d55d8" stroke-width="0.75"/>
<circle cx="37.15" cy="70.09" r="1.37" fill="none" stroke="#2f86e8" stroke-width="0.75"/>
<circle cx="91.72" cy="60.44" r="1.07" fill="none" stroke="#3a58d8" stroke-width="0.75"/>
<circle cx="115.22" cy="67.34" r="0.97" fill="none" stroke="#2a72e8" stroke-width="0.75"/>
<circle cx="117.84" cy="74.72" r="1.27" fill="none" stroke="#1d55d8" stroke-width="0.75"/>
<circle cx="115.59" cy="67.93" r="1.31" fill="none" stroke="#2a72e8" stroke-width="0.75"/>
<circle cx="71.88" cy="78.03" r="0.91" fill="none" stroke="#2a48d0" stroke-width="0.75"/>
<circle cx="61.97" cy="38.27" r="1.13" fill="none" stroke="#2060e0" stroke-width="0.75"/>
<circle cx="86.58" cy="101.76" r="1.39" fill="none" stroke="#2f86e8" stroke-width="0.75"/>
<circle cx="58.39" cy="103.03" r="0.94" fill="none" stroke="#2a72e8" stroke-width="0.75"/>
<circle cx="104.49" cy="94.95" r="1.06" fill="none" stroke="#2060e0" stroke-width="0.75"/>
<circle cx="104.82" cy="76.85" r="1.03" fill="none" stroke="#3a58d8" stroke-width="0.75"/>
<circle cx="43.52" cy="76.68" r="0.97" fill="none" stroke="#3a58d8" stroke-width="0.75"/>
<circle cx="63.72" cy="58.09" r="1.08" fill="none" stroke="#2f86e8" stroke-width="0.75"/>
<circle cx="83.1" cy="82.44" r="0.86" fill="none" stroke="#3040c8" stroke-width="0.75"/>
<circle cx="85.99" cy="68.64" r="1.12" fill="none" stroke="#3040c8" stroke-width="0.75"/>
<circle cx="90.66" cy="101.42" r="1.33" fill="none" stroke="#2f86e8" stroke-width="0.75"/>
<circle cx="73.63" cy="70.01" r="1.24" fill="none" stroke="#3040c8" stroke-width="0.75"/>
<circle cx="61.96" cy="70.78" r="1.1" fill="none" stroke="#2a72e8" stroke-width="0.75"/>
<circle cx="110.34" cy="79.85" r="0.89" fill="none" stroke="#1d55d8" stroke-width="0.75"/>
<circle cx="90.33" cy="98.95" r="1.17" fill="none" stroke="#1d55d8" stroke-width="0.75"/>
<circle cx="83.06" cy="76.68" r="1.27" fill="none" stroke="#2a48d0" stroke-width="0.75"/>
<circle cx="82.93" cy="66.19" r="0.72" fill="#4758f8"/>
<circle cx="74.86" cy="71.85" r="1.39" fill="#484ef1"/>
<circle cx="81.81" cy="68.63" r="0.91" fill="#475af9"/>
<circle cx="76.45" cy="76.08" r="1.11" fill="#4742e6"/>
<circle cx="80.02" cy="67.88" r="0.68" fill="#4435d0"/>
<circle cx="79.04" cy="70.78" r="0.7" fill="#463de0"/>
<circle cx="82.95" cy="69.85" r="1.14" fill="#4269fe"/>
<circle cx="75.67" cy="74.4" r="1.05" fill="#465ffb"/>
<circle cx="75.74" cy="75.57" r="1.26" fill="#4367fd"/>
<circle cx="80.93" cy="74.17" r="1.29" fill="#4269fe"/>
<circle cx="81.24" cy="70.92" r="1.1" fill="#422fc0"/>
<circle cx="78.27" cy="70.13" r="0.89" fill="#4851f4"/>
<circle cx="84.26" cy="64.65" r="0.77" fill="#4367fd"/>
<circle cx="86.66" cy="69.65" r="0.85" fill="#3f6eff"/>
<circle cx="73.29" cy="74.62" r="0.61" fill="#4755f6"/>
<circle cx="81.59" cy="69.38" r="1.23" fill="#4852f4"/>
<circle cx="80.16" cy="68.7" r="1.26" fill="#463de0"/>
<circle cx="80.75" cy="77.51" r="0.68" fill="#402bb8"/>
<circle cx="74.18" cy="75.86" r="1.36" fill="#4331c7"/>
<circle cx="80.37" cy="62.88" r="0.74" fill="#473fe2"/>
<circle cx="76.42" cy="72.06" r="1.3" fill="#426afe"/>
<circle cx="76.03" cy="69.64" r="1.35" fill="#4535d2"/>
<circle cx="80.97" cy="74.16" r="1.37" fill="#4433cc"/>
<circle cx="74.11" cy="71.67" r="0.95" fill="#4563fd"/>
<circle cx="73.33" cy="65.9" r="1.14" fill="#4851f3"/>
<circle cx="85.45" cy="70.91" r="0.78" fill="#4758f8"/>
<circle cx="78.24" cy="69.83" r="1.12" fill="#4332ca"/>
<circle cx="69.71" cy="71.74" r="0.77" fill="#4759f8"/>
<circle cx="77.25" cy="76.54" r="1.39" fill="#4742e6"/>
<circle cx="82.58" cy="70.77" r="0.76" fill="#4538d8"/>
</g>
<rect x="20.3" y="11.3" width="117.4" height="117" fill="none" stroke="#ff2020" stroke-width="0.9"/>
<path d="M20.3 128.3v-1.6M20.3 11.3v1.6M79 128.3v-1.6M79 11.3v1.6M137.7 128.3v-1.6M137.7 11.3v1.6M20.3 12.05h1.6M137.7 12.05h-1.6M20.3 23.73h1.6M137.7 23.73h-1.6M20.3 35.41h1.6M137.7 35.41h-1.6M20.3 47.09h1.6M137.7 47.09h-1.6M20.3 58.77h1.6M137.7 58.77h-1.6M20.3 70.45h1.6M137.7 70.45h-1.6M20.3 82.13h1.6M137.7 82.13h-1.6M20.3 93.81h1.6M137.7 93.81h-1.6M20.3 105.49h1.6M137.7 105.49h-1.6M20.3 117.17h1.6M137.7 117.17h-1.6M20.3 128.85h1.6M137.7 128.85h-1.6" stroke="#ff2020" stroke-width="0.7" fill="none"/>
<text x="18.5" y="13.45" font-size="3.9" fill="#ff2020" text-anchor="end" font-family="'Liberation Sans',Arial,sans-serif" font-weight="bold" stroke="#ff2020" stroke-width="0.16">−0.5</text>
<text x="18.5" y="25.13" font-size="3.9" fill="#ff2020" text-anchor="end" font-family="'Liberation Sans',Arial,sans-serif" font-weight="bold" stroke="#ff2020" stroke-width="0.16">−0.4</text>
<text x="18.5" y="36.81" font-size="3.9" fill="#ff2020" text-anchor="end" font-family="'Liberation Sans',Arial,sans-serif" font-weight="bold" stroke="#ff2020" stroke-width="0.16">−0.3</text>
<text x="18.5" y="48.49" font-size="3.9" fill="#ff2020" text-anchor="end" font-family="'Liberation Sans',Arial,sans-serif" font-weight="bold" stroke="#ff2020" stroke-width="0.16">−0.2</text>
<text x="18.5" y="60.17" font-size="3.9" fill="#ff2020" text-anchor="end" font-family="'Liberation Sans',Arial,sans-serif" font-weight="bold" stroke="#ff2020" stroke-width="0.16">−0.1</text>
<text x="18.5" y="71.85" font-size="3.9" fill="#ff2020" text-anchor="end" font-family="'Liberation Sans',Arial,sans-serif" font-weight="bold" stroke="#ff2020" stroke-width="0.16">0</text>
<text x="18.5" y="83.53" font-size="3.9" fill="#ff2020" text-anchor="end" font-family="'Liberation Sans',Arial,sans-serif" font-weight="bold" stroke="#ff2020" stroke-width="0.16">0.1</text>
<text x="18.5" y="95.21" font-size="3.9" fill="#ff2020" text-anchor="end" font-family="'Liberation Sans',Arial,sans-serif" font-weight="bold" stroke="#ff2020" stroke-width="0.16">0.2</text>
<text x="18.5" y="106.89" font-size="3.9" fill="#ff2020" text-anchor="end" font-family="'Liberation Sans',Arial,sans-serif" font-weight="bold" stroke="#ff2020" stroke-width="0.16">0.3</text>
<text x="18.5" y="118.57" font-size="3.9" fill="#ff2020" text-anchor="end" font-family="'Liberation Sans',Arial,sans-serif" font-weight="bold" stroke="#ff2020" stroke-width="0.16">0.4</text>
<text x="18.5" y="130.25" font-size="3.9" fill="#ff2020" text-anchor="end" font-family="'Liberation Sans',Arial,sans-serif" font-weight="bold" stroke="#ff2020" stroke-width="0.16">0.5</text>
<text x="20.3" y="134.3" font-size="3.9" fill="#ff2020" text-anchor="middle" font-family="'Liberation Sans',Arial,sans-serif" font-weight="bold" stroke="#ff2020" stroke-width="0.16">−0.5</text>
<text x="79" y="134.3" font-size="3.9" fill="#ff2020" text-anchor="middle" font-family="'Liberation Sans',Arial,sans-serif" font-weight="bold" stroke="#ff2020" stroke-width="0.16">0</text>
<text x="137.7" y="134.3" font-size="3.9" fill="#ff2020" text-anchor="middle" font-family="'Liberation Sans',Arial,sans-serif" font-weight="bold" stroke="#ff2020" stroke-width="0.16">0.5</text>
<text x="79" y="140.8" font-size="4.2" fill="#ff2020" text-anchor="middle" font-family="'Liberation Sans',Arial,sans-serif" font-weight="bold" stroke="#ff2020" stroke-width="0.16">x (mm)</text>
<text x="10.4" y="70" font-size="4.2" fill="#ff2020" text-anchor="middle" font-family="'Liberation Sans',Arial,sans-serif" font-weight="bold" transform="rotate(-90 10.4 70)" stroke="#ff2020" stroke-width="0.16">y (mm)</text>
<text x="79" y="10" font-size="4.47" fill="#111" text-anchor="middle" font-family="'Liberation Sans',Arial,sans-serif" font-weight="bold" stroke="#111" stroke-width="0.16">Original Object Intensity</text>
<defs><linearGradient id="cba" x1="0" y1="0" x2="0" y2="1"><stop offset="0" stop-color="#f9fb15"/><stop offset="0.03" stop-color="#f6ef20"/><stop offset="0.06" stop-color="#f5e327"/><stop offset="0.09" stop-color="#f9d62d"/><stop offset="0.12" stop-color="#feca33"/><stop offset="0.16" stop-color="#febe3c"/><stop offset="0.19" stop-color="#f1ba37"/><stop offset="0.22" stop-color="#debc2a"/><stop offset="0.25" stop-color="#c8c129"/><stop offset="0.28" stop-color="#afc637"/><stop offset="0.31" stop-color="#94ca4a"/><stop offset="0.34" stop-color="#77cc60"/><stop offset="0.38" stop-color="#5ccc76"/><stop offset="0.41" stop-color="#44ca8a"/><stop offset="0.44" stop-color="#34c79c"/><stop offset="0.47" stop-color="#28c2ab"/><stop offset="0.5" stop-color="#12beb9"/><stop offset="0.53" stop-color="#01b9c6"/><stop offset="0.56" stop-color="#0cb3d3"/><stop offset="0.59" stop-color="#1aacdd"/><stop offset="0.62" stop-color="#21a3e3"/><stop offset="0.66" stop-color="#269ae9"/><stop offset="0.69" stop-color="#2c90f0"/><stop offset="0.72" stop-color="#2e85f8"/><stop offset="0.75" stop-color="#347afd"/><stop offset="0.78" stop-color="#3f6efe"/><stop offset="0.81" stop-color="#4562fc"/><stop offset="0.84" stop-color="#4757f7"/><stop offset="0.88" stop-color="#484cef"/><stop offset="0.91" stop-color="#4741e5"/><stop offset="0.94" stop-color="#4536d5"/><stop offset="0.97" stop-color="#422ebf"/><stop offset="1" stop-color="#3e26a8"/></linearGradient></defs>
<rect x="143.9" y="11.7" width="6.4" height="116.8" fill="url(#cba)" stroke="#333" stroke-width="0.3"/>
<text x="152.1" y="130.3" font-size="3.6" fill="#222" text-anchor="start" font-family="'Liberation Sans',Arial,sans-serif" stroke="#222" stroke-width="0.16">0</text>
<text x="152.1" y="107.2" font-size="3.6" fill="#222" text-anchor="start" font-family="'Liberation Sans',Arial,sans-serif" stroke="#222" stroke-width="0.16">50</text>
<text x="152.1" y="84.1" font-size="3.6" fill="#222" text-anchor="start" font-family="'Liberation Sans',Arial,sans-serif" stroke="#222" stroke-width="0.16">100</text>
<text x="152.1" y="61" font-size="3.6" fill="#222" text-anchor="start" font-family="'Liberation Sans',Arial,sans-serif" stroke="#222" stroke-width="0.16">150</text>
<text x="152.1" y="37.9" font-size="3.6" fill="#222" text-anchor="start" font-family="'Liberation Sans',Arial,sans-serif" stroke="#222" stroke-width="0.16">200</text>
<text x="152.1" y="14.8" font-size="3.6" fill="#222" text-anchor="start" font-family="'Liberation Sans',Arial,sans-serif" stroke="#222" stroke-width="0.16">250</text>
<rect x="197.1" y="11.5" width="116.7" height="117.2" fill="#3a278f"/>
<rect x="215.7" y="30.5" width="80" height="80.3" fill="none" stroke="#484aee" stroke-width="2.0" opacity="0.5"/>
<rect x="216.2" y="31" width="79" height="79.3" fill="#3876fe"/>
<rect x="218.2" y="33" width="75" height="75.3" fill="#22a4d8"/>
<rect x="219.3" y="34.1" width="72.8" height="73.1" fill="none" stroke="#12beb9" stroke-width="1.2"/>
<rect x="220.9" y="35.7" width="69.6" height="69.9" fill="none" stroke="#2e85f8" stroke-width="1.0" opacity="0.6"/>
<rect x="222.7" y="37.5" width="66" height="66.3" fill="none" stroke="#05b6ce" stroke-width="0.8"/>
<rect x="225.7" y="40.5" width="60" height="60.3" fill="none" stroke="#11b1d6" stroke-width="0.5" opacity="0.7"/>
<circle cx="219.3" cy="34.1" r="1.2" fill="#7acc5d"/>
<circle cx="292.1" cy="34.1" r="1.2" fill="#7acc5d"/>
<circle cx="219.3" cy="107.2" r="1.2" fill="#7acc5d"/>
<circle cx="292.1" cy="107.2" r="1.2" fill="#7acc5d"/>
<g transform="translate(255.6 70.4) scale(1 1.04) translate(-255.6 -70.4)">
<polygon points="290.2,70.4 282.4,56.88 266.79,56.88 258.98,70.4 266.79,83.92 282.4,83.92" fill="none" stroke="#01b8ca" stroke-width="0.6" opacity="0.8"/>
<polygon points="280.7,53.95 272.9,40.44 257.29,40.44 249.49,53.95 257.29,67.47 272.9,67.47" fill="none" stroke="#01b8ca" stroke-width="0.6" opacity="0.8"/>
<polygon points="261.71,53.95 253.91,40.44 238.3,40.44 230.5,53.95 238.3,67.47 253.91,67.47" fill="none" stroke="#01b8ca" stroke-width="0.6" opacity="0.8"/>
<polygon points="252.22,70.4 244.41,56.88 228.8,56.88 221,70.4 228.8,83.92 244.41,83.92" fill="none" stroke="#01b8ca" stroke-width="0.6" opacity="0.8"/>
<polygon points="261.71,86.85 253.91,73.33 238.3,73.33 230.5,86.85 238.3,100.36 253.91,100.36" fill="none" stroke="#01b8ca" stroke-width="0.6" opacity="0.8"/>
<polygon points="280.7,86.85 272.9,73.33 257.29,73.33 249.49,86.85 257.29,100.36 272.9,100.36" fill="none" stroke="#01b8ca" stroke-width="0.6" opacity="0.8"/>
<polygon points="288.4,70.4 281.5,58.44 267.69,58.44 260.78,70.4 267.69,82.36 281.5,82.36" fill="#249fe6" stroke="#2d8cf3" stroke-width="0.9"/>
<polygon points="278.9,53.95 272,41.99 258.19,41.99 251.29,53.95 258.19,65.91 272,65.91" fill="#249fe6" stroke="#2d8cf3" stroke-width="0.9"/>
<polygon points="259.91,53.95 253.01,41.99 239.2,41.99 232.3,53.95 239.2,65.91 253.01,65.91" fill="#249fe6" stroke="#2d8cf3" stroke-width="0.9"/>
<polygon points="250.42,70.4 243.51,58.44 229.7,58.44 222.8,70.4 229.7,82.36 243.51,82.36" fill="#249fe6" stroke="#2d8cf3" stroke-width="0.9"/>
<polygon points="259.91,86.85 253.01,74.89 239.2,74.89 232.3,86.85 239.2,98.81 253.01,98.81" fill="#249fe6" stroke="#2d8cf3" stroke-width="0.9"/>
<polygon points="278.9,86.85 272,74.89 258.19,74.89 251.29,86.85 258.19,98.81 272,98.81" fill="#249fe6" stroke="#2d8cf3" stroke-width="0.9"/>
<polygon points="287.6,70.4 281.1,59.13 268.09,59.13 261.58,70.4 268.09,81.67 281.1,81.67" fill="#2f81fa"/>
<polygon points="278.1,53.95 271.6,42.69 258.59,42.69 252.09,53.95 258.59,65.22 271.6,65.22" fill="#2f81fa"/>
<polygon points="259.11,53.95 252.61,42.69 239.6,42.69 233.1,53.95 239.6,65.22 252.61,65.22" fill="#2f81fa"/>
<polygon points="249.62,70.4 243.11,59.13 230.1,59.13 223.6,70.4 230.1,81.67 243.11,81.67" fill="#2f81fa"/>
<polygon points="259.11,86.85 252.61,75.58 239.6,75.58 233.1,86.85 239.6,98.11 252.61,98.11" fill="#2f81fa"/>
<polygon points="278.1,86.85 271.6,75.58 258.59,75.58 252.09,86.85 258.59,98.11 271.6,98.11" fill="#2f81fa"/>
<polygon points="265.11,64.91 255.6,59.42 246.09,64.91 246.09,75.89 255.6,81.38 265.11,75.89" fill="#2f81fa"/>
<circle cx="266.46" cy="58.12" r="0.96" fill="#15afd9"/>
<circle cx="262.38" cy="77.24" r="0.78" fill="#4661fc"/>
<circle cx="260.8" cy="48.54" r="0.9" fill="#18aedb"/>
<circle cx="251.16" cy="63.59" r="1.08" fill="#13b1d7"/>
<circle cx="284.36" cy="73.23" r="1.01" fill="#4561fc"/>
<circle cx="252.07" cy="55.57" r="1.05" fill="#01b9c8"/>
<circle cx="253.35" cy="58.78" r="0.82" fill="#02b7cb"/>
<circle cx="247.92" cy="95.47" r="0.65" fill="#e4bb2c"/>
<circle cx="257.25" cy="74.27" r="0.79" fill="#02bac4"/>
<circle cx="244.41" cy="47.15" r="0.51" fill="#3f6dfe"/>
<circle cx="266.77" cy="50.04" r="0.53" fill="#19addc"/>
<circle cx="270.6" cy="96.42" r="0.65" fill="#4758f8"/>
<circle cx="272.42" cy="88.94" r="0.72" fill="#01b8c9"/>
<circle cx="271.86" cy="84.17" r="0.86" fill="#4660fc"/>
<circle cx="253.13" cy="72.34" r="1.06" fill="#4367fd"/>
<circle cx="255.65" cy="91.62" r="0.63" fill="#4561fc"/>
<circle cx="246.25" cy="94.9" r="1" fill="#1caadf"/>
<circle cx="281.18" cy="67.9" r="0.84" fill="#4368fe"/>
<circle cx="259.93" cy="97.3" r="0.83" fill="#4464fd"/>
<circle cx="269.92" cy="69.54" r="0.71" fill="#0bb3d2"/>
<circle cx="237.8" cy="59.18" r="0.98" fill="#3d71ff"/>
<circle cx="268.37" cy="49.03" r="1.01" fill="#3f6fff"/>
<circle cx="255.87" cy="71.54" r="0.66" fill="#1baade"/>
<circle cx="265.29" cy="76.03" r="1.02" fill="#0db3d3"/>
<circle cx="243.56" cy="51.7" r="0.91" fill="#08b4d0"/>
<circle cx="263.49" cy="43.22" r="0.7" fill="#01b9c6"/>
<circle cx="276.11" cy="84.86" r="0.82" fill="#17aeda"/>
<circle cx="265.39" cy="55.88" r="0.77" fill="#19addb"/>
<circle cx="238.1" cy="94.43" r="0.97" fill="#1baade"/>
<circle cx="230.4" cy="71.83" r="0.74" fill="#10b2d5"/>
<circle cx="250.67" cy="84.29" r="0.52" fill="#1caadf"/>
<circle cx="262.98" cy="85.92" r="0.78" fill="#03b7cb"/>
<circle cx="230.84" cy="59.98" r="0.95" fill="#4757f7"/>
<circle cx="272.62" cy="85.76" r="0.57" fill="#53cc7d"/>
<circle cx="253.86" cy="52.83" r="0.6" fill="#02b7cb"/>
<circle cx="265.89" cy="58.64" r="0.93" fill="#01b9c6"/>
<circle cx="230.13" cy="67.06" r="0.86" fill="#406cfe"/>
<circle cx="261.04" cy="63.55" r="0.5" fill="#b4c534"/>
<circle cx="256.55" cy="47.61" r="0.88" fill="#406dfe"/>
<circle cx="262.39" cy="65.26" r="0.72" fill="#1fa6e2"/>
<circle cx="229.74" cy="79.04" r="0.9" fill="#09b4d1"/>
<circle cx="238.48" cy="66.86" r="0.98" fill="#0db3d3"/>
<circle cx="239.65" cy="76.24" r="1" fill="#475cfa"/>
<circle cx="263.55" cy="89.61" r="0.98" fill="#01bac5"/>
<circle cx="269.01" cy="54.82" r="0.94" fill="#08b4d0"/>
<circle cx="250.67" cy="72.08" r="0.64" fill="#01b8c9"/>
<circle cx="249.76" cy="45.52" r="0.64" fill="#465dfa"/>
<circle cx="269.92" cy="53.82" r="0.94" fill="#4852f4"/>
<circle cx="238.42" cy="52.31" r="1.05" fill="#15afd9"/>
<circle cx="256.93" cy="68.12" r="0.6" fill="#4853f5"/>
<circle cx="243.42" cy="79.47" r="1.03" fill="#406cfe"/>
<circle cx="251.36" cy="71.14" r="0.61" fill="#1babde"/>
<circle cx="250.35" cy="72" r="0.92" fill="#10b2d5"/>
<circle cx="274.97" cy="61.84" r="0.64" fill="#1aabdd"/>
<circle cx="262.67" cy="56.93" r="1.08" fill="#0cb3d3"/>
<circle cx="249.88" cy="69.5" r="0.69" fill="#3f6eff"/>
<circle cx="236.93" cy="76.08" r="1.03" fill="#02bac4"/>
<circle cx="235.91" cy="74.98" r="1.09" fill="#4758f8"/>
<circle cx="248.67" cy="68.05" r="0.55" fill="#1da9e0"/>
<circle cx="271.83" cy="63.68" r="0.98" fill="#4755f6"/>
<circle cx="265.79" cy="88.14" r="0.69" fill="#1aabdd"/>
<circle cx="269.91" cy="70.27" r="0.61" fill="#1aacdd"/>
<circle cx="246.49" cy="67.65" r="0.85" fill="#05b6ce"/>
<circle cx="274.72" cy="55.61" r="0.8" fill="#4852f4"/>
<circle cx="257.28" cy="68.96" r="1" fill="#4757f7"/>
<circle cx="242.59" cy="53.22" r="0.85" fill="#17aeda"/>
<circle cx="254.88" cy="55" r="0.69" fill="#465efb"/>
<circle cx="250.97" cy="81.86" r="1.05" fill="#0eb3d4"/>
<circle cx="282.39" cy="75.9" r="0.69" fill="#465efb"/>
<circle cx="232.98" cy="65.07" r="0.98" fill="#01b8c9"/>
<circle cx="265.08" cy="46.62" r="0.63" fill="#19addc"/>
<circle cx="242.57" cy="53.23" r="0.7" fill="#1ea7e1"/>
<circle cx="266.53" cy="81.99" r="0.81" fill="#1da8e0"/>
<circle cx="251.69" cy="71.94" r="1.08" fill="#4757f7"/>
<circle cx="230.77" cy="73.02" r="0.82" fill="#475af9"/>
<circle cx="229.75" cy="71.46" r="0.96" fill="#4368fe"/>
<circle cx="269.38" cy="54.86" r="0.67" fill="#04b6cd"/>
<circle cx="280.87" cy="67.9" r="0.85" fill="#1babde"/>
<circle cx="268.61" cy="64.27" r="0.56" fill="#18aedb"/>
<circle cx="260.3" cy="47.66" r="1.01" fill="#4851f3"/>
<circle cx="261.69" cy="94.84" r="0.7" fill="#04b6cc"/>
<circle cx="235.15" cy="71.05" r="0.88" fill="#4851f3"/>
<circle cx="254.48" cy="64.31" r="0.9" fill="#426afe"/>
<circle cx="268.75" cy="68.64" r="0.87" fill="#14b0d8"/>
<circle cx="271.32" cy="80.54" r="0.78" fill="#1ea7e1"/>
<circle cx="272.34" cy="92.93" r="1.01" fill="#06b5ce"/>
<circle cx="238" cy="78.16" r="0.54" fill="#4853f5"/>
<circle cx="249.37" cy="81.09" r="0.7" fill="#3e6fff"/>
<circle cx="269.14" cy="94.93" r="0.78" fill="#14b0d8"/>
<circle cx="265.21" cy="90.63" r="0.75" fill="#4466fd"/>
<circle cx="270.29" cy="77.21" r="0.79" fill="#4269fe"/>
<circle cx="272.69" cy="51.17" r="0.51" fill="#0eb2d4"/>
<circle cx="271.23" cy="75.92" r="1" fill="#1da8e0"/>
<circle cx="235.86" cy="89.87" r="0.79" fill="#4561fc"/>
<circle cx="232.42" cy="77.59" r="0.51" fill="#01b8ca"/>
<circle cx="251.4" cy="54.64" r="0.84" fill="#4466fd"/>
<circle cx="259.83" cy="68.29" r="0.74" fill="#f6ba3b"/>
<circle cx="254.67" cy="91.98" r="0.76" fill="#1aabdd"/>
<circle cx="265.74" cy="86.7" r="1.06" fill="#20a4e3"/>
<circle cx="254.64" cy="81.59" r="0.89" fill="#4465fd"/>
<circle cx="245.03" cy="55.48" r="0.57" fill="#3e70ff"/>
<circle cx="234.72" cy="86.42" r="0.84" fill="#06b5cf"/>
<circle cx="273.8" cy="64.29" r="0.57" fill="#475cfa"/>
<circle cx="266.8" cy="88.8" r="0.71" fill="#0eb3d4"/>
<circle cx="234" cy="62.83" r="0.55" fill="#416bfe"/>
<circle cx="253.34" cy="57.27" r="0.95" fill="#1fa6e2"/>
<circle cx="258.03" cy="62.87" r="0.9" fill="#4755f6"/>
<circle cx="251.94" cy="94.11" r="0.65" fill="#76cc61"/>
<circle cx="243.34" cy="79.94" r="0.69" fill="#475dfa"/>
<circle cx="254.56" cy="72.87" r="0.97" fill="#475dfa"/>
<circle cx="264.96" cy="89.33" r="0.57" fill="#4852f4"/>
<circle cx="265.42" cy="63.55" r="1" fill="#12b1d7"/>
<circle cx="264.13" cy="63.43" r="0.84" fill="#4466fd"/>
<circle cx="257.55" cy="92.86" r="0.64" fill="#4368fd"/>
<circle cx="274.66" cy="78.65" r="0.71" fill="#96ca49"/>
<circle cx="243.32" cy="53.31" r="0.5" fill="#01b9c7"/>
<circle cx="252.88" cy="53.26" r="0.61" fill="#4562fc"/>
<circle cx="247.87" cy="61.73" r="1.03" fill="#4367fd"/>
<circle cx="243.98" cy="43.35" r="0.55" fill="#02bac4"/>
<circle cx="252.87" cy="49.06" r="0.88" fill="#4758f8"/>
<circle cx="251.89" cy="57.09" r="0.78" fill="#14b0d8"/>
<circle cx="251.89" cy="79.34" r="0.65" fill="#04b6cd"/>
<circle cx="247.52" cy="61.19" r="1.09" fill="#02b7cb"/>
<circle cx="274.49" cy="53.32" r="1.03" fill="#484ff2"/>
<circle cx="275.35" cy="78.91" r="0.99" fill="#01b9c7"/>
<circle cx="249.22" cy="91.11" r="1.01" fill="#4757f7"/>
<circle cx="245.5" cy="94.63" r="1.01" fill="#02b7cb"/>
<circle cx="282.86" cy="70.57" r="1.04" fill="#4757f7"/>
<circle cx="271.12" cy="86.46" r="0.54" fill="#475bfa"/>
<circle cx="242.26" cy="78.24" r="1.05" fill="#465ffb"/>
<circle cx="266.52" cy="61.92" r="0.76" fill="#cbc129"/>
<circle cx="248.89" cy="49.59" r="0.75" fill="#4757f7"/>
<circle cx="246.05" cy="61.39" r="0.57" fill="#67cd6c"/>
<circle cx="272.34" cy="66.33" r="0.61" fill="#4853f5"/>
<circle cx="258.33" cy="53.55" r="0.86" fill="#0bb3d2"/>
<circle cx="276.95" cy="63.35" r="0.93" fill="#4563fd"/>
<circle cx="241.82" cy="79.22" r="0.85" fill="#88cb53"/>
<circle cx="239.66" cy="65.31" r="0.63" fill="#4367fd"/>
<circle cx="239.61" cy="60.33" r="0.98" fill="#416bfe"/>
<circle cx="239.37" cy="53.77" r="1.06" fill="#4851f3"/>
<circle cx="262.68" cy="59.93" r="1.05" fill="#3c72ff"/>
<circle cx="247.46" cy="87.54" r="0.74" fill="#13b0d7"/>
<circle cx="278.05" cy="65.91" r="0.54" fill="#4851f3"/>
<circle cx="273.44" cy="46.9" r="0.79" fill="#4563fd"/>
<circle cx="257.07" cy="92.5" r="0.82" fill="#01b8c9"/>
<circle cx="245.23" cy="87.56" r="0.87" fill="#15afd9"/>
<circle cx="262.66" cy="63.65" r="0.99" fill="#01b8c9"/>
<circle cx="253.92" cy="78.05" r="1.02" fill="#01b9c6"/>
<circle cx="243.88" cy="92.01" r="0.51" fill="#11b1d6"/>
<circle cx="261.84" cy="76.03" r="0.8" fill="#4759f8"/>
<circle cx="252.69" cy="64.75" r="0.83" fill="#484ef1"/>
<circle cx="267.1" cy="96.97" r="0.7" fill="#3c72ff"/>
<circle cx="230.38" cy="60.84" r="0.55" fill="#03b7cb"/>
<circle cx="266.46" cy="44.28" r="1.1" fill="#04b6cd"/>
<circle cx="239.06" cy="69.21" r="0.87" fill="#01b8c8"/>
<circle cx="259.36" cy="47.27" r="0.8" fill="#b2c535"/>
<circle cx="276.21" cy="71.86" r="0.75" fill="#4564fd"/>
<circle cx="267.24" cy="94.43" r="0.83" fill="#465efb"/>
<circle cx="232.56" cy="69.89" r="0.75" fill="#1da8e0"/>
<circle cx="247.86" cy="78.25" r="0.54" fill="#0eb2d4"/>
<circle cx="269.53" cy="70.85" r="0.52" fill="#4852f4"/>
<circle cx="263.74" cy="51.86" r="0.62" fill="#20a5e2"/>
<circle cx="247.75" cy="57.43" r="0.62" fill="#01b8c9"/>
<circle cx="251.18" cy="65.77" r="0.97" fill="#10b2d5"/>
<circle cx="249.08" cy="89.46" r="0.99" fill="#02b7cb"/>
<circle cx="275.54" cy="74.4" r="0.76" fill="#3e6fff"/>
<circle cx="253.86" cy="56.61" r="0.63" fill="#06b5cf"/>
<circle cx="238.26" cy="83.4" r="0.8" fill="#4850f2"/>
<circle cx="268.34" cy="80.53" r="0.76" fill="#4561fc"/>
<circle cx="236.53" cy="50.84" r="0.77" fill="#475af9"/>
<circle cx="260.71" cy="79.69" r="0.77" fill="#3d70ff"/>
<circle cx="263.63" cy="85.9" r="0.68" fill="#484ff2"/>
<circle cx="268.57" cy="68.81" r="0.54" fill="#484ff2"/>
<circle cx="264.29" cy="73.23" r="0.77" fill="#1aacdd"/>
<circle cx="253.29" cy="57.07" r="0.92" fill="#1ca9df"/>
<circle cx="236.97" cy="91.14" r="0.76" fill="#465dfa"/>
<circle cx="268.46" cy="56.15" r="0.56" fill="#465efb"/>
<circle cx="281.36" cy="74.81" r="0.72" fill="#4853f5"/>
<circle cx="250.01" cy="64.99" r="0.67" fill="#fdbd3d"/>
<circle cx="269.71" cy="67.54" r="0.69" fill="#465ffb"/>
<circle cx="265.79" cy="46.21" r="1.03" fill="#3c72ff"/>
<circle cx="268.55" cy="55.82" r="0.75" fill="#4850f3"/>
<circle cx="244.93" cy="72.83" r="0.67" fill="#19acdc"/>
<circle cx="248.71" cy="72.03" r="0.73" fill="#11b1d6"/>
<circle cx="273.02" cy="82.77" r="0.55" fill="#406dfe"/>
<circle cx="273.92" cy="67.05" r="0.6" fill="#4466fd"/>
<circle cx="252.69" cy="60.53" r="1.09" fill="#03b7cc"/>
<circle cx="253.89" cy="54.69" r="0.87" fill="#12b1d6"/>
<circle cx="235.81" cy="68.87" r="0.63" fill="#09b4d1"/>
<circle cx="235.9" cy="68.44" r="0.59" fill="#13b1d7"/>
<circle cx="260.29" cy="58.21" r="0.73" fill="#17aeda"/>
<circle cx="234.51" cy="77.12" r="0.72" fill="#6ecd67"/>
<circle cx="263" cy="80.56" r="0.78" fill="#4758f8"/>
<circle cx="243.3" cy="51.67" r="0.99" fill="#06b5cf"/>
<circle cx="236.27" cy="58.44" r="1.05" fill="#02bac4"/>
<circle cx="244.01" cy="54.78" r="1.02" fill="#4464fd"/>
<circle cx="269.95" cy="60.34" r="0.51" fill="#01b9c6"/>
<circle cx="251.8" cy="65.24" r="0.94" fill="#0cb3d3"/>
<circle cx="260.71" cy="46.84" r="0.97" fill="#4758f8"/>
<circle cx="233.23" cy="77.24" r="0.55" fill="#426afe"/>
<circle cx="261.24" cy="96.92" r="0.56" fill="#1aacdd"/>
<circle cx="264.89" cy="70.11" r="1.01" fill="#34c79c"/>
<circle cx="236.59" cy="83.43" r="0.85" fill="#13b1d7"/>
<circle cx="279.56" cy="76.24" r="0.51" fill="#05b6ce"/>
<circle cx="268.54" cy="71.93" r="0.81" fill="#4561fc"/>
<circle cx="238.62" cy="52.04" r="0.52" fill="#475af9"/>
<circle cx="232.45" cy="78.17" r="0.79" fill="#4757f7"/>
<circle cx="248.64" cy="66.31" r="1.06" fill="#4853f5"/>
<circle cx="253.98" cy="62.72" r="0.95" fill="#406dfe"/>
<circle cx="237.37" cy="52.74" r="1.01" fill="#08b4d1"/>
<circle cx="257.69" cy="90.71" r="0.73" fill="#02bbc3"/>
<circle cx="268.85" cy="64.1" r="0.88" fill="#3e6fff"/>
<circle cx="256.26" cy="71.68" r="0.5" fill="#02bac4"/>
<circle cx="273.68" cy="75.58" r="0.64" fill="#1ea7e1"/>
<circle cx="268.71" cy="85.41" r="0.74" fill="#1ea7e1"/>
<circle cx="254.23" cy="46.68" r="0.61" fill="#4853f5"/>
<circle cx="258.01" cy="77.81" r="0.63" fill="#bbc430"/>
<circle cx="230.13" cy="74.11" r="0.81" fill="#07b5d0"/>
<circle cx="251.59" cy="47.37" r="1.08" fill="#4661fc"/>
<circle cx="243.47" cy="80.67" r="1.04" fill="#3e6fff"/>
<circle cx="246.33" cy="60.16" r="0.73" fill="#15afd9"/>
<circle cx="282.65" cy="77.18" r="0.57" fill="#4367fd"/>
<circle cx="264.3" cy="89.91" r="1.01" fill="#1fa6e2"/>
<circle cx="280.94" cy="71" r="0.85" fill="#09b4d1"/>
<circle cx="245.39" cy="92.02" r="0.66" fill="#4660fc"/>
<circle cx="258.18" cy="77.42" r="0.65" fill="#01b9c8"/>
<circle cx="251.47" cy="65.24" r="0.54" fill="#13b0d7"/>
<circle cx="274.2" cy="48.81" r="0.76" fill="#01b9c7"/>
<circle cx="266.68" cy="57.26" r="0.56" fill="#01bac5"/>
<circle cx="239.38" cy="88.84" r="0.76" fill="#e4bb2c"/>
<circle cx="280.86" cy="64.18" r="0.91" fill="#05b6cd"/>
<circle cx="238.53" cy="50.55" r="0.85" fill="#1babde"/>
<circle cx="255.61" cy="56.39" r="0.75" fill="#484ef1"/>
<circle cx="256.72" cy="72.18" r="0.92" fill="#1babde"/>
<circle cx="249.4" cy="96.95" r="0.99" fill="#03b7cb"/>
<circle cx="231.7" cy="65.72" r="0.85" fill="#4465fd"/>
<circle cx="253.03" cy="62.26" r="0.65" fill="#01b8c9"/>
<circle cx="256.65" cy="66.56" r="0.81" fill="#01b8c9"/>
<circle cx="274.75" cy="79.84" r="0.78" fill="#4758f8"/>
<circle cx="233.99" cy="76.45" r="0.78" fill="#416cfe"/>
<circle cx="231.78" cy="60.86" r="0.65" fill="#4853f4"/>
<circle cx="260.07" cy="54.43" r="0.71" fill="#4564fd"/>
<circle cx="251.91" cy="68.12" r="0.7" fill="#465ffb"/>
<circle cx="250.67" cy="55.64" r="0.8" fill="#16afd9"/>
<circle cx="237.64" cy="86.44" r="0.83" fill="#78cc5f"/>
<circle cx="242.94" cy="92.16" r="0.92" fill="#4367fd"/>
<circle cx="260.01" cy="82.33" r="0.74" fill="#03bbc2"/>
<circle cx="239.42" cy="83.98" r="0.93" fill="#1fa6e2"/>
<circle cx="246.96" cy="92.61" r="0.91" fill="#1da9e0"/>
<circle cx="253.15" cy="80.86" r="0.96" fill="#01bac5"/>
<circle cx="259.19" cy="72.62" r="0.75" fill="#4755f6"/>
<circle cx="271.91" cy="65.27" r="0.51" fill="#03bbc3"/>
<circle cx="271.41" cy="80.2" r="0.72" fill="#1da8e0"/>
<circle cx="261.87" cy="78.35" r="0.96" fill="#4758f8"/>
<circle cx="263.04" cy="87.41" r="0.99" fill="#0cb3d3"/>
<circle cx="268.15" cy="61.62" r="0.93" fill="#4367fd"/>
<circle cx="274.69" cy="60.72" r="0.84" fill="#18addb"/>
<circle cx="233" cy="80.93" r="0.77" fill="#465efb"/>
<circle cx="265.15" cy="64.54" r="0.79" fill="#11b1d6"/>
<circle cx="275.32" cy="64.45" r="0.87" fill="#04bbc2"/>
<circle cx="281.95" cy="74.9" r="0.6" fill="#03b7cc"/>
<circle cx="249.52" cy="79.8" r="0.97" fill="#4757f7"/>
<circle cx="266.5" cy="81.11" r="0.92" fill="#18addb"/>
<circle cx="252.7" cy="45.72" r="0.99" fill="#4757f7"/>
<circle cx="262.32" cy="85.32" r="0.78" fill="#4368fe"/>
<circle cx="244.44" cy="43.55" r="1.08" fill="#0cb3d3"/>
<circle cx="261.99" cy="64.15" r="0.56" fill="#01b9c7"/>
<circle cx="282.42" cy="66.86" r="1" fill="#1ea7e1"/>
<circle cx="225.54" cy="69.98" r="0.69" fill="#0ab4d2"/>
<circle cx="244.71" cy="69.02" r="0.63" fill="#11b1d6"/>
<circle cx="279.61" cy="79.29" r="0.93" fill="#1aabdd"/>
<circle cx="260.41" cy="52.67" r="0.62" fill="#1da8e0"/>
<circle cx="262.79" cy="49.02" r="0.52" fill="#426afe"/>
<circle cx="243" cy="91.53" r="1" fill="#465efb"/>
<circle cx="259.96" cy="84.88" r="0.84" fill="#475af9"/>
<circle cx="253.38" cy="56.28" r="0.73" fill="#4367fd"/>
<circle cx="255.84" cy="75.08" r="0.83" fill="#4851f3"/>
<circle cx="239.07" cy="92.51" r="0.95" fill="#01b9c8"/>
<circle cx="239.1" cy="90.33" r="0.93" fill="#1aabdd"/>
<circle cx="269.8" cy="52.8" r="0.87" fill="#03b7cc"/>
<circle cx="261.1" cy="53.64" r="0.65" fill="#fbbc3d"/>
<circle cx="278.82" cy="76" r="1.09" fill="#4755f6"/>
<circle cx="256.29" cy="48.74" r="0.77" fill="#07b5d0"/>
<circle cx="249.57" cy="68.67" r="0.51" fill="#3d71ff"/>
<circle cx="246.75" cy="49.91" r="0.82" fill="#4562fc"/>
<circle cx="236.28" cy="83.21" r="0.97" fill="#1ea8e0"/>
<circle cx="262.97" cy="89.02" r="0.93" fill="#4465fd"/>
<circle cx="236.2" cy="50.23" r="0.83" fill="#4854f5"/>
<circle cx="248.91" cy="91.96" r="0.75" fill="#03bbc2"/>
<circle cx="243.11" cy="74.95" r="0.67" fill="#4466fd"/>
<circle cx="253.85" cy="46.19" r="0.77" fill="#01b9c8"/>
<circle cx="275.3" cy="72.1" r="0.95" fill="#475bf9"/>
<circle cx="274.73" cy="56.73" r="0.91" fill="#07b5cf"/>
<circle cx="236.94" cy="65.09" r="0.79" fill="#1babde"/>
<circle cx="231.64" cy="75.96" r="0.99" fill="#475dfa"/>
<circle cx="253.29" cy="51.08" r="0.53" fill="#0db3d3"/>
<circle cx="273.75" cy="48.25" r="0.88" fill="#4850f2"/>
<circle cx="238.22" cy="77.99" r="0.82" fill="#1caadf"/>
<circle cx="264.24" cy="89.88" r="0.99" fill="#406dfe"/>
<circle cx="264.88" cy="92.79" r="1.05" fill="#3d70ff"/>
<circle cx="262.9" cy="60.89" r="1.06" fill="#465dfa"/>
<circle cx="236.14" cy="73.8" r="0.99" fill="#416bfe"/>
<circle cx="264.48" cy="84.44" r="0.51" fill="#1fa6e2"/>
<circle cx="254.36" cy="57.28" r="0.77" fill="#0eb2d4"/>
<circle cx="246.14" cy="92.53" r="0.72" fill="#4851f3"/>
<circle cx="259.85" cy="94.69" r="0.67" fill="#4756f7"/>
<circle cx="283.11" cy="74.98" r="0.57" fill="#475cfa"/>
<circle cx="273.45" cy="53.11" r="0.56" fill="#19acdc"/>
<circle cx="245.03" cy="44.17" r="0.97" fill="#04b6cd"/>
<circle cx="235.55" cy="66.37" r="0.94" fill="#4466fd"/>
<circle cx="249.91" cy="80.43" r="0.52" fill="#04b6cd"/>
<circle cx="276.95" cy="59.79" r="1.05" fill="#4853f5"/>
<circle cx="245.67" cy="50.23" r="0.94" fill="#3f6dfe"/>
<circle cx="247.79" cy="65.35" r="0.7" fill="#1ea7e1"/>
<circle cx="272.6" cy="52.68" r="0.67" fill="#1ea7e1"/>
<circle cx="240.77" cy="72.98" r="0.94" fill="#4562fc"/>
<circle cx="234.95" cy="80.75" r="0.61" fill="#3f6dfe"/>
<circle cx="263.35" cy="83.82" r="0.93" fill="#4851f3"/>
<circle cx="257.98" cy="58.48" r="0.56" fill="#4758f8"/>
<circle cx="255.77" cy="53.62" r="0.82" fill="#3d70ff"/>
<circle cx="252.74" cy="64.39" r="0.55" fill="#09b4d1"/>
<circle cx="245.64" cy="63.59" r="0.97" fill="#09b4d1"/>
<circle cx="259.65" cy="86.19" r="0.59" fill="#406dfe"/>
<circle cx="240.18" cy="73.9" r="0.51" fill="#01bac5"/>
<circle cx="245.22" cy="52.91" r="1.05" fill="#3b72ff"/>
<circle cx="250.62" cy="82.51" r="0.78" fill="#416bfe"/>
<circle cx="247.93" cy="58.48" r="0.82" fill="#3fca8e"/>
<circle cx="240.64" cy="54.84" r="1.01" fill="#484ff2"/>
<circle cx="238.5" cy="71.52" r="0.6" fill="#01bac5"/>
<circle cx="250.25" cy="69.35" r="0.94" fill="#14b0d8"/>
<circle cx="275.15" cy="57.25" r="0.68" fill="#4850f3"/>
<circle cx="260.5" cy="72.14" r="0.58" fill="#3e6fff"/>
<circle cx="260.38" cy="59" r="1.05" fill="#3d70ff"/>
<circle cx="253.04" cy="44.15" r="0.59" fill="#1ea8e1"/>
<circle cx="277.24" cy="70.51" r="0.85" fill="#d7be28"/>
<circle cx="253.7" cy="79.29" r="0.91" fill="#01b8c9"/>
<circle cx="275.74" cy="85.41" r="0.8" fill="#04b6cd"/>
<circle cx="256.59" cy="85.56" r="0.93" fill="#426afe"/>
<circle cx="267.08" cy="52.48" r="1.07" fill="#465dfb"/>
<circle cx="259.57" cy="95.85" r="0.92" fill="#01b8ca"/>
<circle cx="258.57" cy="57.76" r="0.69" fill="#03b7cc"/>
<circle cx="283.44" cy="75.14" r="1.08" fill="#484ef1"/>
<circle cx="276.36" cy="70.52" r="1.01" fill="#4851f3"/>
<circle cx="239.92" cy="56.2" r="0.72" fill="#3e6fff"/>
<circle cx="263.28" cy="64.02" r="0.52" fill="#465ffb"/>
<circle cx="273.71" cy="50.88" r="0.74" fill="#01b9c7"/>
<circle cx="244.33" cy="57.12" r="0.51" fill="#1fa6e1"/>
<circle cx="253.52" cy="50.19" r="0.72" fill="#4854f5"/>
<circle cx="266.83" cy="94.75" r="0.55" fill="#18addb"/>
<circle cx="250.34" cy="52.87" r="0.71" fill="#16afd9"/>
<circle cx="248.11" cy="82.02" r="0.59" fill="#475af9"/>
<circle cx="242.58" cy="80.46" r="0.54" fill="#17aeda"/>
<circle cx="234.72" cy="88.92" r="0.91" fill="#4850f2"/>
<circle cx="250.43" cy="91.67" r="1.1" fill="#0bb3d2"/>
<circle cx="272.15" cy="68.88" r="0.58" fill="#0fb2d4"/>
<circle cx="262.81" cy="76.14" r="0.93" fill="#4466fd"/>
<circle cx="236.75" cy="84.53" r="1.07" fill="#07b5d0"/>
<circle cx="230.4" cy="80.91" r="0.62" fill="#06b5cf"/>
<circle cx="266.55" cy="80.47" r="0.65" fill="#19acdc"/>
<circle cx="249.94" cy="53.53" r="0.54" fill="#01b9c6"/>
<circle cx="269.45" cy="73.2" r="0.92" fill="#475cfa"/>
<circle cx="238.93" cy="53.93" r="1.03" fill="#13b0d7"/>
<circle cx="237.43" cy="81.15" r="0.79" fill="#4466fd"/>
<circle cx="267.11" cy="49.66" r="1.03" fill="#416bfe"/>
<circle cx="264.9" cy="56.42" r="0.8" fill="#04b6cd"/>
<circle cx="267.85" cy="94.49" r="0.88" fill="#3d71ff"/>
<circle cx="274.02" cy="54.35" r="0.53" fill="#4852f4"/>
<circle cx="230.35" cy="69.88" r="0.9" fill="#03bbc3"/>
<circle cx="235.56" cy="52.06" r="0.6" fill="#484ef1"/>
<circle cx="241.76" cy="43.81" r="0.68" fill="#17aeda"/>
<circle cx="276.01" cy="74.58" r="0.81" fill="#4758f8"/>
<circle cx="265.41" cy="57.09" r="0.94" fill="#4561fc"/>
<circle cx="243.47" cy="44.13" r="1.07" fill="#465ffb"/>
<circle cx="253.99" cy="80.48" r="0.89" fill="#4855f6"/>
<circle cx="262.53" cy="61.09" r="1.01" fill="#4756f7"/>
<circle cx="264.87" cy="44.75" r="0.79" fill="#484ff2"/>
<circle cx="257.89" cy="79.77" r="1.02" fill="#0fb2d5"/>
<circle cx="238.51" cy="78.35" r="1.07" fill="#04b6cd"/>
<circle cx="232.06" cy="67.93" r="0.72" fill="#18aedb"/>
<circle cx="262.45" cy="69.11" r="0.71" fill="#484ef1"/>
<circle cx="247.6" cy="80.13" r="0.98" fill="#01b8c8"/>
<circle cx="251.31" cy="51.25" r="0.75" fill="#0ab4d2"/>
<circle cx="245.23" cy="58.15" r="0.66" fill="#4852f4"/>
<circle cx="232.41" cy="76.1" r="0.99" fill="#1fa6e2"/>
<circle cx="253.74" cy="59.23" r="0.92" fill="#1fa6e2"/>
<circle cx="242.4" cy="88.92" r="1.09" fill="#9cc944"/>
<circle cx="236.8" cy="92.11" r="0.72" fill="#4269fe"/>
<circle cx="230.75" cy="74.45" r="0.94" fill="#4850f3"/>
<circle cx="261.59" cy="78.51" r="0.74" fill="#18addb"/>
<circle cx="271.2" cy="49.47" r="0.86" fill="#1caadf"/>
<circle cx="269.3" cy="71.64" r="0.85" fill="#416bfe"/>
<circle cx="257.97" cy="55.54" r="0.79" fill="#14b0d8"/>
<circle cx="273.07" cy="90.03" r="0.74" fill="#465dfb"/>
<circle cx="272.86" cy="57.73" r="0.97" fill="#484ef1"/>
<circle cx="270.72" cy="43.93" r="0.89" fill="#4853f5"/>
<circle cx="253.52" cy="79.64" r="0.7" fill="#1babde"/>
<circle cx="261.12" cy="92.25" r="1.05" fill="#3e6fff"/>
<circle cx="272.15" cy="93.76" r="0.67" fill="#406cfe"/>
<circle cx="250.65" cy="92.43" r="0.74" fill="#4564fd"/>
<circle cx="241.08" cy="78.26" r="0.97" fill="#4466fd"/>
<circle cx="279.47" cy="62.5" r="1.1" fill="#4564fd"/>
<circle cx="261.17" cy="52.77" r="1.09" fill="#416cfe"/>
<circle cx="278.43" cy="66.73" r="0.56" fill="#0fb2d4"/>
<circle cx="254.72" cy="80.38" r="0.95" fill="#05b6ce"/>
<circle cx="244.02" cy="90.42" r="0.56" fill="#0fb2d4"/>
<circle cx="252.99" cy="65.89" r="0.91" fill="#10b2d5"/>
<circle cx="270.04" cy="81.07" r="1.02" fill="#1aabdd"/>
<circle cx="269.02" cy="94.4" r="0.55" fill="#01b9c6"/>
<circle cx="275.38" cy="64.48" r="0.7" fill="#4466fd"/>
<circle cx="264.8" cy="93.68" r="1.07" fill="#1ea7e1"/>
<circle cx="257.36" cy="64.2" r="0.8" fill="#1caadf"/>
<circle cx="271.6" cy="95" r="0.89" fill="#14b0d8"/>
<circle cx="241.29" cy="83.2" r="0.87" fill="#3f6fff"/>
<circle cx="248.55" cy="66.09" r="0.71" fill="#3f6efe"/>
<circle cx="270.37" cy="81.67" r="0.85" fill="#e1bc2b"/>
<circle cx="232.3" cy="79.41" r="0.95" fill="#cfc028"/>
<circle cx="239.87" cy="87.32" r="0.54" fill="#12b1d6"/>
<circle cx="235.27" cy="70.27" r="0.82" fill="#febf3c"/>
<circle cx="245.9" cy="43.78" r="0.93" fill="#20a5e3"/>
<circle cx="251.32" cy="73.73" r="0.77" fill="#1babde"/>
<circle cx="236.95" cy="55.45" r="1.05" fill="#406cfe"/>
<circle cx="237.36" cy="69.27" r="1.09" fill="#484ff2"/>
<circle cx="257.12" cy="69.81" r="0.76" fill="#3d70ff"/>
<circle cx="257.4" cy="80" r="0.81" fill="#4367fd"/>
<circle cx="257.54" cy="90.89" r="0.81" fill="#1baade"/>
<circle cx="229.91" cy="67.92" r="1.08" fill="#01b9c6"/>
<circle cx="234.71" cy="77.86" r="1" fill="#1babde"/>
<circle cx="232.88" cy="73.3" r="0.97" fill="#4755f6"/>
<circle cx="244.99" cy="88.52" r="0.93" fill="#1aabdd"/>
<circle cx="262.71" cy="77.33" r="0.81" fill="#4562fc"/>
<circle cx="263.78" cy="63.79" r="0.96" fill="#19acdc"/>
<circle cx="239.59" cy="75.9" r="0.72" fill="#3d70ff"/>
<circle cx="237.19" cy="76.51" r="1.09" fill="#475bf9"/>
<circle cx="273.05" cy="69.49" r="0.81" fill="#4465fd"/>
<circle cx="262.31" cy="83.51" r="0.89" fill="#4758f8"/>
<circle cx="261.61" cy="65.06" r="0.9" fill="#1da8e0"/>
<circle cx="244.2" cy="72.32" r="0.93" fill="#04b6cc"/>
<circle cx="239.34" cy="55.19" r="1.09" fill="#4854f6"/>
<circle cx="275.49" cy="60.3" r="1.08" fill="#06b5cf"/>
<circle cx="269.74" cy="81.89" r="0.82" fill="#20a5e2"/>
<circle cx="253.39" cy="88.67" r="0.54" fill="#406dfe"/>
<circle cx="270.85" cy="97.28" r="0.55" fill="#4852f4"/>
<circle cx="249.72" cy="65.68" r="0.88" fill="#01b8ca"/>
<circle cx="262.81" cy="94.22" r="0.94" fill="#1caadf"/>
<circle cx="241.59" cy="86.94" r="0.77" fill="#8dcb4f"/>
<circle cx="264.9" cy="52.23" r="1" fill="#19addc"/>
<circle cx="280.87" cy="61.06" r="1.05" fill="#4465fd"/>
<circle cx="276.25" cy="54.8" r="0.96" fill="#1fa6e2"/>
<circle cx="254.97" cy="73.62" r="0.87" fill="#4465fd"/>
<circle cx="273.07" cy="55.29" r="0.53" fill="#11b1d6"/>
<circle cx="259.83" cy="71.6" r="0.66" fill="#4368fe"/>
<circle cx="261.23" cy="73.95" r="0.84" fill="#465efb"/>
<circle cx="251.27" cy="63.18" r="0.87" fill="#06b5cf"/>
<circle cx="248.79" cy="87.43" r="1.06" fill="#42ca8c"/>
<circle cx="267.26" cy="43.57" r="0.79" fill="#1da8e0"/>
<circle cx="250.05" cy="67.32" r="0.66" fill="#475cfa"/>
<circle cx="224.86" cy="70.24" r="0.7" fill="#4367fd"/>
<circle cx="257.69" cy="78.78" r="0.95" fill="#4853f5"/>
<circle cx="276.92" cy="55.15" r="0.69" fill="#1da8e0"/>
<circle cx="273.4" cy="63.81" r="0.92" fill="#1aacdd"/>
<circle cx="239.46" cy="80.93" r="0.64" fill="#01b8c8"/>
<circle cx="275.35" cy="55.58" r="0.62" fill="#475dfa"/>
<circle cx="247.63" cy="55.72" r="0.74" fill="#416bfe"/>
<circle cx="240.55" cy="93.84" r="0.54" fill="#1aacdd"/>
<circle cx="235.38" cy="88.62" r="0.57" fill="#475cfa"/>
<circle cx="260.08" cy="86.87" r="0.71" fill="#12b1d7"/>
<circle cx="268.13" cy="95.25" r="0.69" fill="#4563fd"/>
<circle cx="230.15" cy="64.75" r="1.01" fill="#1aabdd"/>
<circle cx="250.56" cy="64.83" r="0.91" fill="#4465fd"/>
<circle cx="228.11" cy="67.38" r="0.54" fill="#14b0d8"/>
<circle cx="232.78" cy="72.46" r="0.95" fill="#1da8e0"/>
<circle cx="275.85" cy="64.05" r="1" fill="#56cc7b"/>
<circle cx="268.8" cy="90.53" r="0.89" fill="#1fa6e2"/>
<circle cx="282.14" cy="65.73" r="0.9" fill="#465ffb"/>
<circle cx="238.77" cy="95.34" r="0.61" fill="#3f6eff"/>
<circle cx="255.55" cy="55.87" r="0.67" fill="#4853f4"/>
<circle cx="267.34" cy="93.65" r="0.72" fill="#475af9"/>
<circle cx="240.55" cy="54.41" r="0.75" fill="#09b4d1"/>
<circle cx="242.69" cy="52.32" r="0.87" fill="#465ffb"/>
<circle cx="245.5" cy="90" r="1.1" fill="#07b5d0"/>
<circle cx="237.99" cy="50.92" r="0.91" fill="#484ff2"/>
<circle cx="255.65" cy="72.28" r="0.64" fill="#15afd9"/>
<circle cx="245.21" cy="86.79" r="0.79" fill="#484ef1"/>
<circle cx="242.91" cy="69.52" r="0.83" fill="#416bfe"/>
<circle cx="254.3" cy="78.87" r="0.84" fill="#4755f6"/>
<circle cx="273.16" cy="60.11" r="0.53" fill="#4758f8"/>
<circle cx="283.8" cy="67.6" r="0.73" fill="#4850f2"/>
<circle cx="257.51" cy="50.11" r="1.06" fill="#3c72ff"/>
<circle cx="279.89" cy="76.58" r="0.61" fill="#01b9c7"/>
<circle cx="256.89" cy="56.61" r="0.74" fill="#1aacdd"/>
<circle cx="264.65" cy="82.1" r="0.92" fill="#406cfe"/>
<circle cx="273.39" cy="82.88" r="1.06" fill="#4757f7"/>
<circle cx="267.24" cy="71.86" r="0.93" fill="#4563fd"/>
<circle cx="260.94" cy="66.07" r="0.74" fill="#09b4d1"/>
<circle cx="258.25" cy="89.67" r="1.02" fill="#0cb3d3"/>
<circle cx="266.92" cy="88.07" r="0.98" fill="#03b7cc"/>
<circle cx="243.38" cy="76.93" r="0.76" fill="#04b6cd"/>
<circle cx="238.7" cy="75.34" r="0.62" fill="#4564fd"/>
<circle cx="270.16" cy="96.69" r="0.66" fill="#20a5e2"/>
<circle cx="259" cy="60.39" r="0.91" fill="#484ef1"/>
<circle cx="248.9" cy="76.73" r="0.6" fill="#4852f4"/>
<circle cx="271.97" cy="93.59" r="0.86" fill="#09b4d1"/>
<circle cx="244.32" cy="75.67" r="0.62" fill="#02bbc3"/>
<circle cx="263.91" cy="82.25" r="0.74" fill="#bbc430"/>
<circle cx="260.97" cy="68.17" r="0.5" fill="#4853f5"/>
<circle cx="273.91" cy="49.09" r="1.09" fill="#3f6eff"/>
<circle cx="252.7" cy="60.31" r="0.94" fill="#08b5d0"/>
<circle cx="240.73" cy="44.57" r="0.65" fill="#1fa5e2"/>
<circle cx="268.18" cy="51.26" r="0.7" fill="#426afe"/>
<circle cx="247.96" cy="65.35" r="0.75" fill="#4852f4"/>
<circle cx="268.7" cy="90.65" r="0.61" fill="#4660fc"/>
<circle cx="264.03" cy="52.3" r="0.5" fill="#b9c431"/>
<circle cx="232.4" cy="74.2" r="0.66" fill="#04bbc2"/>
<circle cx="247.04" cy="84.79" r="0.59" fill="#4757f7"/>
<circle cx="237.42" cy="82.6" r="0.85" fill="#0eb2d4"/>
<circle cx="246.53" cy="56.33" r="0.56" fill="#02bac4"/>
<circle cx="235.16" cy="86.68" r="0.9" fill="#4563fc"/>
<circle cx="255.86" cy="73.21" r="0.87" fill="#18addb"/>
<circle cx="258.49" cy="59.43" r="0.83" fill="#4368fe"/>
<circle cx="239.2" cy="91.42" r="0.59" fill="#02bac5"/>
<circle cx="239.14" cy="64.6" r="0.75" fill="#4757f7"/>
<circle cx="251.37" cy="47.24" r="0.69" fill="#0fb2d5"/>
<circle cx="255.62" cy="78.59" r="0.61" fill="#1babde"/>
<circle cx="257.52" cy="82.09" r="0.63" fill="#4367fd"/>
<circle cx="249.7" cy="69.91" r="0.77" fill="#484ff2"/>
<circle cx="248.33" cy="87.11" r="0.62" fill="#08b4d0"/>
<circle cx="271.23" cy="43.93" r="0.64" fill="#4466fd"/>
<circle cx="253.38" cy="82.99" r="0.56" fill="#10b2d5"/>
<circle cx="274.05" cy="80.83" r="0.67" fill="#1da8e0"/>
<circle cx="248.79" cy="91.84" r="0.78" fill="#4854f5"/>
<circle cx="262.79" cy="76.64" r="0.75" fill="#01b8c8"/>
<circle cx="261.59" cy="86.57" r="0.81" fill="#05b6cd"/>
<circle cx="268.96" cy="67.73" r="0.79" fill="#4758f8"/>
<circle cx="273.99" cy="65.35" r="0.74" fill="#4563fc"/>
<circle cx="271.01" cy="96.92" r="0.8" fill="#1fa5e2"/>
<circle cx="257.51" cy="47.88" r="1.05" fill="#0db3d4"/>
<circle cx="250.44" cy="64.07" r="0.68" fill="#1baade"/>
<circle cx="247.74" cy="87.66" r="1.06" fill="#465ffb"/>
<circle cx="242.75" cy="47.43" r="0.68" fill="#58cc79"/>
<circle cx="268.59" cy="45.82" r="0.86" fill="#3f6fff"/>
<circle cx="272.13" cy="72.48" r="1.06" fill="#1ea7e1"/>
<circle cx="269.37" cy="53.92" r="0.67" fill="#475cfa"/>
<circle cx="238.96" cy="82.43" r="1.02" fill="#4851f3"/>
<circle cx="251.62" cy="72.56" r="0.72" fill="#1baade"/>
<circle cx="249.5" cy="83.32" r="0.77" fill="#12b1d7"/>
<circle cx="276.07" cy="53.68" r="0.74" fill="#05b6ce"/>
<circle cx="246.05" cy="69.08" r="0.77" fill="#03b7cc"/>
<circle cx="261.62" cy="86.87" r="0.93" fill="#1caadf"/>
<circle cx="231.19" cy="62.91" r="0.94" fill="#0ab4d1"/>
<circle cx="263.34" cy="68.52" r="0.86" fill="#05b6ce"/>
<circle cx="239.17" cy="89.34" r="0.65" fill="#01bac5"/>
<circle cx="257.83" cy="48.3" r="1.05" fill="#20a5e3"/>
<circle cx="254.24" cy="88.63" r="0.77" fill="#3f6eff"/>
<circle cx="243.81" cy="66.4" r="0.89" fill="#0ab4d2"/>
<circle cx="252.26" cy="58.19" r="0.58" fill="#01b8c9"/>
<circle cx="263.04" cy="57.36" r="0.62" fill="#1da8e0"/>
<circle cx="250.69" cy="46.08" r="0.66" fill="#1fa6e2"/>
<circle cx="246.46" cy="78.58" r="0.72" fill="#0fb2d5"/>
<circle cx="245.79" cy="80.34" r="1.04" fill="#1aabdd"/>
<circle cx="241.98" cy="48.65" r="1.04" fill="#01b8ca"/>
<circle cx="229.11" cy="70.1" r="0.56" fill="#475af9"/>
<circle cx="252.95" cy="49.1" r="0.8" fill="#1fa6e1"/>
<circle cx="280.16" cy="75.75" r="0.68" fill="#4269fe"/>
<circle cx="272.2" cy="53.78" r="0.8" fill="#0cb3d3"/>
<circle cx="269.79" cy="82.89" r="0.62" fill="#0ab4d1"/>
<circle cx="273.15" cy="50.28" r="0.99" fill="#465ffb"/>
<circle cx="284.36" cy="67.6" r="0.79" fill="#426afe"/>
<circle cx="243.17" cy="95.73" r="0.62" fill="#1aabdd"/>
<circle cx="256.46" cy="73.52" r="0.96" fill="#1ea7e1"/>
<circle cx="266.73" cy="79.42" r="0.65" fill="#1aabdd"/>
<circle cx="246.75" cy="87.03" r="0.65" fill="#4367fd"/>
<circle cx="256.56" cy="47.66" r="1.01" fill="#1caadf"/>
<circle cx="260.98" cy="60.94" r="0.79" fill="#4465fd"/>
<circle cx="258.5" cy="48.53" r="0.94" fill="#484ff2"/>
<circle cx="239.76" cy="55.34" r="0.9" fill="#02bac5"/>
<circle cx="250.24" cy="64.11" r="0.51" fill="#03b7cc"/>
<circle cx="256.53" cy="90.26" r="0.62" fill="#406cfe"/>
<circle cx="239.86" cy="70.08" r="0.53" fill="#475af9"/>
<circle cx="243.14" cy="56.42" r="0.84" fill="#4561fc"/>
<circle cx="265.46" cy="91.93" r="0.94" fill="#4850f3"/>
<circle cx="254.12" cy="50.06" r="0.86" fill="#3e6fff"/>
<circle cx="259.25" cy="55.24" r="0.68" fill="#465ffb"/>
<circle cx="257.06" cy="93.04" r="0.73" fill="#4563fd"/>
<circle cx="276.03" cy="78.53" r="0.68" fill="#1da8e0"/>
<circle cx="252.43" cy="69.74" r="0.57" fill="#03b7cc"/>
<circle cx="258.62" cy="85.21" r="1.06" fill="#01bac5"/>
<circle cx="271.4" cy="79.25" r="0.8" fill="#15afd9"/>
<circle cx="257.2" cy="87.54" r="0.8" fill="#1fa6e2"/>
<circle cx="273.69" cy="57.51" r="0.92" fill="#03b7cc"/>
<circle cx="254.58" cy="85.1" r="0.78" fill="#4466fd"/>
<circle cx="239.67" cy="76.52" r="0.51" fill="#01b9c6"/>
<circle cx="280.71" cy="74.53" r="0.82" fill="#4368fe"/>
<circle cx="257.02" cy="62.71" r="0.62" fill="#1fa5e2"/>
<circle cx="255.66" cy="84.08" r="1.04" fill="#3f6eff"/>
<circle cx="279.09" cy="60.57" r="0.76" fill="#19addc"/>
<circle cx="266.73" cy="60.59" r="0.94" fill="#45cb89"/>
<circle cx="249.5" cy="77.38" r="0.82" fill="#426afe"/>
<circle cx="256.19" cy="67.08" r="0.54" fill="#4755f6"/>
<circle cx="272.87" cy="67.41" r="0.94" fill="#3f6efe"/>
<circle cx="267.83" cy="73.97" r="0.98" fill="#3c71ff"/>
<circle cx="251.89" cy="87.54" r="1.03" fill="#04b6cd"/>
<circle cx="242.54" cy="89.25" r="0.68" fill="#4759f8"/>
<circle cx="244.36" cy="48.24" r="1.1" fill="#1ca9df"/>
<circle cx="258.54" cy="74.29" r="0.64" fill="#12b1d6"/>
<circle cx="243.15" cy="55.88" r="0.65" fill="#4757f7"/>
<circle cx="269.05" cy="65.27" r="0.69" fill="#4759f8"/>
<circle cx="258.81" cy="56.7" r="0.87" fill="#0cb3d3"/>
<circle cx="267.23" cy="57.87" r="0.7" fill="#4850f3"/>
<circle cx="249.59" cy="74.23" r="1.1" fill="#4464fd"/>
<circle cx="253.42" cy="46.12" r="0.71" fill="#4466fd"/>
<circle cx="258.09" cy="75.62" r="0.85" fill="#4465fd"/>
<circle cx="268.24" cy="94.88" r="1.05" fill="#465efb"/>
<circle cx="240.83" cy="45.12" r="1.07" fill="#01b9c8"/>
<circle cx="285.63" cy="72.6" r="0.78" fill="#18addb"/>
<circle cx="280.4" cy="77.07" r="0.6" fill="#4757f7"/>
<circle cx="281.28" cy="76.91" r="0.66" fill="#1ea7e1"/>
<circle cx="270.07" cy="78.99" r="0.95" fill="#475cfa"/>
<circle cx="236.79" cy="51.28" r="1.1" fill="#08b5d0"/>
<circle cx="252.8" cy="74.02" r="0.99" fill="#475af9"/>
<circle cx="267.71" cy="68.16" r="0.56" fill="#06b5cf"/>
<circle cx="265.68" cy="53.89" r="1.01" fill="#1fa6e1"/>
<circle cx="271.1" cy="50.98" r="0.79" fill="#02bac4"/>
<circle cx="281.45" cy="66.94" r="1.01" fill="#3f6fff"/>
<circle cx="269.93" cy="51.56" r="0.8" fill="#1ea7e1"/>
<circle cx="233.19" cy="75.47" r="1.09" fill="#0db3d3"/>
<circle cx="272.76" cy="63.21" r="1" fill="#475af9"/>
<circle cx="230.39" cy="73.93" r="0.67" fill="#4369fe"/>
<circle cx="271.02" cy="57.22" r="0.85" fill="#01b7ca"/>
<circle cx="244.72" cy="62.22" r="0.76" fill="#10b2d5"/>
<circle cx="268.44" cy="87.26" r="0.65" fill="#03b7cc"/>
<circle cx="237.79" cy="86.93" r="0.67" fill="#406dfe"/>
<circle cx="260.77" cy="79.63" r="0.66" fill="#4756f6"/>
<circle cx="255.33" cy="67.04" r="0.79" fill="#4759f8"/>
<circle cx="251.38" cy="65.89" r="0.56" fill="#09b4d1"/>
<circle cx="240.91" cy="50.82" r="0.66" fill="#02bbc3"/>
<circle cx="257.82" cy="66.39" r="1.07" fill="#4269fe"/>
<circle cx="265.42" cy="80.51" r="0.93" fill="#475cfa"/>
<circle cx="236.01" cy="87.68" r="1.04" fill="#1fa6e2"/>
<circle cx="252.46" cy="64.46" r="0.55" fill="#01bac5"/>
<circle cx="235.41" cy="77.48" r="0.98" fill="#65cd6e"/>
<circle cx="267.1" cy="88.46" r="0.63" fill="#13b0d7"/>
<circle cx="276.13" cy="60.75" r="1.05" fill="#19addc"/>
<circle cx="258.56" cy="77.73" r="1.07" fill="#3d70ff"/>
<circle cx="270.25" cy="95.96" r="1.05" fill="#1da8e0"/>
<circle cx="248.98" cy="79.29" r="0.62" fill="#4660fb"/>
<circle cx="246.66" cy="84.41" r="0.54" fill="#10b2d5"/>
<circle cx="236.58" cy="56.75" r="1.03" fill="#465efb"/>
<circle cx="249.96" cy="65.14" r="0.81" fill="#4851f4"/>
<circle cx="256.49" cy="74.31" r="0.87" fill="#406dfe"/>
<circle cx="231.81" cy="72.41" r="0.97" fill="#4561fc"/>
<circle cx="272.3" cy="83.38" r="0.92" fill="#4466fd"/>
<circle cx="247.37" cy="94.13" r="0.52" fill="#4563fd"/>
<circle cx="273.29" cy="94.31" r="0.75" fill="#1da8e0"/>
<circle cx="261.48" cy="58.89" r="1.03" fill="#426afe"/>
<circle cx="254.69" cy="58.12" r="1.03" fill="#4755f6"/>
<circle cx="240.58" cy="51.52" r="0.74" fill="#03bbc3"/>
<circle cx="271.51" cy="84.79" r="0.76" fill="#416bfe"/>
<circle cx="239.92" cy="72.43" r="1.03" fill="#01b9c7"/>
<circle cx="244.78" cy="62.12" r="0.68" fill="#4757f7"/>
<circle cx="265.65" cy="87.96" r="0.98" fill="#17aeda"/>
<circle cx="234.24" cy="66.9" r="0.86" fill="#484ff2"/>
<circle cx="247.15" cy="93.07" r="0.86" fill="#475bf9"/>
<circle cx="253.24" cy="47.24" r="0.58" fill="#e5bb2c"/>
<circle cx="247.56" cy="79.77" r="1.02" fill="#4852f4"/>
<circle cx="275.79" cy="56.58" r="0.58" fill="#12b1d6"/>
<circle cx="266.52" cy="77.26" r="0.63" fill="#01b9c6"/>
<circle cx="269.94" cy="70.94" r="0.62" fill="#1ca9df"/>
<circle cx="228.96" cy="68.69" r="0.56" fill="#4466fd"/>
<circle cx="269.02" cy="52.82" r="0.77" fill="#4269fe"/>
<circle cx="249.61" cy="84.45" r="0.62" fill="#04b6cd"/>
<circle cx="241.25" cy="78.13" r="0.68" fill="#4758f8"/>
<circle cx="238.72" cy="66.08" r="0.69" fill="#484ef1"/>
<circle cx="235.42" cy="89.47" r="0.93" fill="#3c72ff"/>
<circle cx="249.06" cy="70.12" r="0.51" fill="#4562fc"/>
<circle cx="241.52" cy="49.52" r="1.03" fill="#4756f7"/>
<circle cx="236.8" cy="89.75" r="1.09" fill="#1da8e0"/>
<circle cx="230.32" cy="64.84" r="0.95" fill="#465dfa"/>
<circle cx="286.55" cy="69.67" r="0.91" fill="#406dfe"/>
<circle cx="265.41" cy="47.82" r="0.52" fill="#4465fd"/>
<circle cx="236.3" cy="56.79" r="1.09" fill="#08b5d0"/>
<circle cx="254.03" cy="72.04" r="0.9" fill="#475bf9"/>
<circle cx="280.12" cy="69.28" r="0.91" fill="#3c71ff"/>
<circle cx="234.76" cy="65.86" r="0.8" fill="#4755f6"/>
<circle cx="248.41" cy="91.67" r="0.92" fill="#18addb"/>
<circle cx="261.69" cy="58.12" r="0.72" fill="#1da9e0"/>
<circle cx="272.9" cy="47.91" r="1.05" fill="#4367fd"/>
<circle cx="257.04" cy="91.66" r="1" fill="#1fa6e1"/>
<circle cx="257.95" cy="87.36" r="0.63" fill="#426afe"/>
<circle cx="233.25" cy="59.72" r="0.89" fill="#3cc991"/>
<circle cx="261.55" cy="97.12" r="0.99" fill="#4465fd"/>
<circle cx="273.01" cy="54.21" r="1.08" fill="#4367fd"/>
<circle cx="248.78" cy="49.95" r="0.57" fill="#475cfa"/>
<circle cx="264.32" cy="55.34" r="0.58" fill="#0db3d3"/>
<circle cx="266.4" cy="83.02" r="0.64" fill="#465efb"/>
<circle cx="240.88" cy="94.7" r="1" fill="#01b9c8"/>
<circle cx="262.71" cy="82" r="0.77" fill="#19addc"/>
<circle cx="249.99" cy="58.59" r="1.1" fill="#3f6dfe"/>
<circle cx="240.25" cy="62.1" r="0.98" fill="#17aeda"/>
<circle cx="239.34" cy="44.24" r="0.64" fill="#406dfe"/>
<circle cx="250.72" cy="48.22" r="0.89" fill="#16afd9"/>
</g>
<rect x="197.1" y="11.5" width="116.7" height="117.2" fill="none" stroke="#1a1aff" stroke-width="0.9"/>
<path d="M208.1 128.7v-1.6M208.1 11.5v1.6M223.9 128.7v-1.6M223.9 11.5v1.6M239.7 128.7v-1.6M239.7 11.5v1.6M255.5 128.7v-1.6M255.5 11.5v1.6M271.3 128.7v-1.6M271.3 11.5v1.6M287.1 128.7v-1.6M287.1 11.5v1.6M302.9 128.7v-1.6M302.9 11.5v1.6M197.1 22.9h1.6M313.8 22.9h-1.6M197.1 38.7h1.6M313.8 38.7h-1.6M197.1 54.5h1.6M313.8 54.5h-1.6M197.1 70.3h1.6M313.8 70.3h-1.6M197.1 86.1h1.6M313.8 86.1h-1.6M197.1 101.9h1.6M313.8 101.9h-1.6M197.1 117.7h1.6M313.8 117.7h-1.6" stroke="#1a1aff" stroke-width="0.7" fill="none"/>
<text x="195.3" y="24.3" font-size="3.9" fill="#1a1aff" text-anchor="end" font-family="'Liberation Sans',Arial,sans-serif" font-weight="bold" stroke="#1a1aff" stroke-width="0.16">−0.6</text>
<text x="195.3" y="40.1" font-size="3.9" fill="#1a1aff" text-anchor="end" font-family="'Liberation Sans',Arial,sans-serif" font-weight="bold" stroke="#1a1aff" stroke-width="0.16">−0.4</text>
<text x="195.3" y="55.9" font-size="3.9" fill="#1a1aff" text-anchor="end" font-family="'Liberation Sans',Arial,sans-serif" font-weight="bold" stroke="#1a1aff" stroke-width="0.16">−0.2</text>
<text x="195.3" y="71.7" font-size="3.9" fill="#1a1aff" text-anchor="end" font-family="'Liberation Sans',Arial,sans-serif" font-weight="bold" stroke="#1a1aff" stroke-width="0.16">0</text>
<text x="195.3" y="87.5" font-size="3.9" fill="#1a1aff" text-anchor="end" font-family="'Liberation Sans',Arial,sans-serif" font-weight="bold" stroke="#1a1aff" stroke-width="0.16">0.2</text>
<text x="195.3" y="103.3" font-size="3.9" fill="#1a1aff" text-anchor="end" font-family="'Liberation Sans',Arial,sans-serif" font-weight="bold" stroke="#1a1aff" stroke-width="0.16">0.4</text>
<text x="195.3" y="119.1" font-size="3.9" fill="#1a1aff" text-anchor="end" font-family="'Liberation Sans',Arial,sans-serif" font-weight="bold" stroke="#1a1aff" stroke-width="0.16">0.6</text>
<text x="208.1" y="134.9" font-size="3.9" fill="#1a1aff" text-anchor="middle" font-family="'Liberation Sans',Arial,sans-serif" font-weight="bold" stroke="#1a1aff" stroke-width="0.16">−0.6</text>
<text x="223.9" y="134.9" font-size="3.9" fill="#1a1aff" text-anchor="middle" font-family="'Liberation Sans',Arial,sans-serif" font-weight="bold" stroke="#1a1aff" stroke-width="0.16">−0.4</text>
<text x="239.7" y="134.9" font-size="3.9" fill="#1a1aff" text-anchor="middle" font-family="'Liberation Sans',Arial,sans-serif" font-weight="bold" stroke="#1a1aff" stroke-width="0.16">−0.2</text>
<text x="255.5" y="134.9" font-size="3.9" fill="#1a1aff" text-anchor="middle" font-family="'Liberation Sans',Arial,sans-serif" font-weight="bold" stroke="#1a1aff" stroke-width="0.16">0</text>
<text x="271.3" y="134.9" font-size="3.9" fill="#1a1aff" text-anchor="middle" font-family="'Liberation Sans',Arial,sans-serif" font-weight="bold" stroke="#1a1aff" stroke-width="0.16">0.2</text>
<text x="287.1" y="134.9" font-size="3.9" fill="#1a1aff" text-anchor="middle" font-family="'Liberation Sans',Arial,sans-serif" font-weight="bold" stroke="#1a1aff" stroke-width="0.16">0.4</text>
<text x="302.9" y="134.9" font-size="3.9" fill="#1a1aff" text-anchor="middle" font-family="'Liberation Sans',Arial,sans-serif" font-weight="bold" stroke="#1a1aff" stroke-width="0.16">0.6</text>
<text x="255.5" y="140.7" font-size="4.2" fill="#1a1aff" text-anchor="middle" font-family="'Liberation Sans',Arial,sans-serif" font-weight="bold" stroke="#1a1aff" stroke-width="0.16">x (mm)</text>
<text x="186.8" y="70.3" font-size="4.2" fill="#1a1aff" text-anchor="middle" font-family="'Liberation Sans',Arial,sans-serif" font-weight="bold" transform="rotate(-90 186.8 70.3)" stroke="#1a1aff" stroke-width="0.16">y (mm)</text>
<text x="255.5" y="10.1" font-size="4.33" fill="#111" text-anchor="middle" font-family="'Liberation Sans',Arial,sans-serif" font-weight="bold" stroke="#111" stroke-width="0.16">Intensity Distribution on Lens</text>
<defs><linearGradient id="cbb" x1="0" y1="0" x2="0" y2="1"><stop offset="0" stop-color="#f9fb15"/><stop offset="0.03" stop-color="#f6ef20"/><stop offset="0.06" stop-color="#f5e327"/><stop offset="0.09" stop-color="#f9d62d"/><stop offset="0.12" stop-color="#feca33"/><stop offset="0.16" stop-color="#febe3c"/><stop offset="0.19" stop-color="#f1ba37"/><stop offset="0.22" stop-color="#debc2a"/><stop offset="0.25" stop-color="#c8c129"/><stop offset="0.28" stop-color="#afc637"/><stop offset="0.31" stop-color="#94ca4a"/><stop offset="0.34" stop-color="#77cc60"/><stop offset="0.38" stop-color="#5ccc76"/><stop offset="0.41" stop-color="#44ca8a"/><stop offset="0.44" stop-color="#34c79c"/><stop offset="0.47" stop-color="#28c2ab"/><stop offset="0.5" stop-color="#12beb9"/><stop offset="0.53" stop-color="#01b9c6"/><stop offset="0.56" stop-color="#0cb3d3"/><stop offset="0.59" stop-color="#1aacdd"/><stop offset="0.62" stop-color="#21a3e3"/><stop offset="0.66" stop-color="#269ae9"/><stop offset="0.69" stop-color="#2c90f0"/><stop offset="0.72" stop-color="#2e85f8"/><stop offset="0.75" stop-color="#347afd"/><stop offset="0.78" stop-color="#3f6efe"/><stop offset="0.81" stop-color="#4562fc"/><stop offset="0.84" stop-color="#4757f7"/><stop offset="0.88" stop-color="#484cef"/><stop offset="0.91" stop-color="#4741e5"/><stop offset="0.94" stop-color="#4536d5"/><stop offset="0.97" stop-color="#422ebf"/><stop offset="1" stop-color="#3e26a8"/></linearGradient></defs>
<rect x="317" y="11.7" width="6.6" height="117.3" fill="url(#cbb)" stroke="#333" stroke-width="0.3"/>
<text x="325.4" y="16.9" font-size="3.6" fill="#222" text-anchor="start" font-family="'Liberation Sans',Arial,sans-serif" stroke="#222" stroke-width="0.16">3</text>
<text x="325.4" y="36" font-size="3.6" fill="#222" text-anchor="start" font-family="'Liberation Sans',Arial,sans-serif" stroke="#222" stroke-width="0.16">2.5</text>
<text x="325.4" y="55.1" font-size="3.6" fill="#222" text-anchor="start" font-family="'Liberation Sans',Arial,sans-serif" stroke="#222" stroke-width="0.16">2</text>
<text x="325.4" y="74.2" font-size="3.6" fill="#222" text-anchor="start" font-family="'Liberation Sans',Arial,sans-serif" stroke="#222" stroke-width="0.16">1.5</text>
<text x="325.4" y="93.3" font-size="3.6" fill="#222" text-anchor="start" font-family="'Liberation Sans',Arial,sans-serif" stroke="#222" stroke-width="0.16">1</text>
<text x="325.4" y="112.4" font-size="3.6" fill="#222" text-anchor="start" font-family="'Liberation Sans',Arial,sans-serif" stroke="#222" stroke-width="0.16">0.5</text>
<rect x="392.1" y="8.1" width="122.5" height="122.2" fill="#17a8c4"/>
<defs><radialGradient id="blob"><stop offset="0" stop-color="#f9fb15" stop-opacity="1"/><stop offset="0.3" stop-color="#fec13a" stop-opacity="0.75"/><stop offset="1" stop-color="#71cd64" stop-opacity="0"/></radialGradient></defs>
<line x1="392.1" y1="69.2" x2="514.6" y2="69.2" stroke="#58cc79" stroke-width="0.8" opacity="0.6"/>
<line x1="453.35" y1="8.1" x2="453.35" y2="130.3" stroke="#58cc79" stroke-width="0.8" opacity="0.6"/>
<rect x="451.73" y="75.65" width="1" height="1" fill="#cfc028" opacity="0.32"/>
<rect x="452.8" y="73.81" width="1" height="1" fill="#fec338" opacity="0.44"/>
<rect x="443.67" y="70.07" width="1" height="1" fill="#67cd6c" opacity="0.49"/>
<rect x="442.28" y="67.15" width="1" height="1" fill="#99c946" opacity="0.32"/>
<rect x="448.22" y="65.72" width="1" height="1" fill="#9ac945" opacity="0.56"/>
<rect x="450.25" y="55.6" width="1" height="1" fill="#6ecd66" opacity="0.58"/>
<rect x="455.07" y="62.01" width="1" height="1" fill="#efba35" opacity="0.56"/>
<rect x="456.59" y="71.75" width="1" height="1" fill="#d9be28" opacity="0.49"/>
<rect x="446.44" y="68.41" width="1" height="1" fill="#b7c532" opacity="0.48"/>
<rect x="460.96" y="63.13" width="1" height="1" fill="#cac129" opacity="0.56"/>
<rect x="451.01" y="65.29" width="1" height="1" fill="#fec437" opacity="0.59"/>
<rect x="443.52" y="64.37" width="1" height="1" fill="#5ecd74" opacity="0.55"/>
<rect x="452.34" y="71" width="1" height="1" fill="#fcd030" opacity="0.6"/>
<rect x="452.27" y="70.83" width="1" height="1" fill="#ecba32" opacity="0.53"/>
<rect x="461.48" y="71.16" width="1" height="1" fill="#5ecc74" opacity="0.52"/>
<rect x="466.23" y="56.28" width="1" height="1" fill="#2fc5a2" opacity="0.6"/>
<rect x="460.64" y="72.79" width="1" height="1" fill="#5fcd73" opacity="0.36"/>
<rect x="449.94" y="66.28" width="1" height="1" fill="#b9c430" opacity="0.56"/>
<rect x="466.23" y="65.14" width="1" height="1" fill="#3dc990" opacity="0.44"/>
<rect x="447.44" y="61.83" width="1" height="1" fill="#acc739" opacity="0.49"/>
<rect x="445.95" y="68.4" width="1" height="1" fill="#dcbd29" opacity="0.37"/>
<rect x="460.66" y="67.6" width="1" height="1" fill="#b9c431" opacity="0.3"/>
<rect x="451.7" y="68.07" width="1" height="1" fill="#fec934" opacity="0.49"/>
<rect x="451.08" y="70.92" width="1" height="1" fill="#eabb30" opacity="0.51"/>
<rect x="455.13" y="69.02" width="1" height="1" fill="#fec537" opacity="0.59"/>
<rect x="447.72" y="68.12" width="1" height="1" fill="#ccc028" opacity="0.39"/>
<rect x="448.32" y="65.59" width="1" height="1" fill="#c9c129" opacity="0.53"/>
<rect x="452.75" y="62.7" width="1" height="1" fill="#acc738" opacity="0.54"/>
<rect x="442.9" y="69.44" width="1" height="1" fill="#55cc7c" opacity="0.4"/>
<rect x="456.35" y="62.66" width="1" height="1" fill="#e8bb2f" opacity="0.35"/>
<rect x="444.92" y="57.75" width="1" height="1" fill="#49cb85" opacity="0.37"/>
<rect x="453.64" y="80.52" width="1" height="1" fill="#9cc943" opacity="0.36"/>
<rect x="451.48" y="58.83" width="1" height="1" fill="#77cc60" opacity="0.34"/>
<rect x="452.7" y="75.1" width="1" height="1" fill="#bfc32d" opacity="0.43"/>
<rect x="456.17" y="66.89" width="1" height="1" fill="#b4c533" opacity="0.58"/>
<rect x="459.77" y="68.13" width="1" height="1" fill="#f2ba37" opacity="0.58"/>
<rect x="453.77" y="59.87" width="1" height="1" fill="#a4c83e" opacity="0.39"/>
<rect x="453.19" y="71.12" width="1" height="1" fill="#febf3b" opacity="0.39"/>
<rect x="466.35" y="72.63" width="1" height="1" fill="#60cd73" opacity="0.58"/>
<rect x="459.74" y="63.67" width="1" height="1" fill="#61cd71" opacity="0.52"/>
<rect x="448.41" y="67.45" width="1" height="1" fill="#d9bd28" opacity="0.58"/>
<rect x="450.16" y="72.86" width="1" height="1" fill="#fdbd3d" opacity="0.44"/>
<rect x="450.28" y="72.16" width="1" height="1" fill="#eabb30" opacity="0.55"/>
<rect x="454.77" y="62.72" width="1" height="1" fill="#eeba34" opacity="0.3"/>
<rect x="454.2" y="67.12" width="1" height="1" fill="#ebba32" opacity="0.38"/>
<rect x="446.34" y="72.12" width="1" height="1" fill="#dcbd29" opacity="0.3"/>
<rect x="454.72" y="69.02" width="1" height="1" fill="#f7db2a" opacity="0.56"/>
<rect x="452.43" y="74.27" width="1" height="1" fill="#c4c22b" opacity="0.49"/>
<rect x="450.13" y="71.95" width="1" height="1" fill="#d5be28" opacity="0.34"/>
<rect x="451.5" y="62.49" width="1" height="1" fill="#92ca4c" opacity="0.35"/>
<rect x="443.85" y="61.77" width="1" height="1" fill="#63cd70" opacity="0.54"/>
<rect x="447.15" y="71.31" width="1" height="1" fill="#cbc029" opacity="0.51"/>
<rect x="450.37" y="61.92" width="1" height="1" fill="#9ac945" opacity="0.46"/>
<rect x="459.01" y="71.67" width="1" height="1" fill="#bac430" opacity="0.56"/>
<rect x="443.08" y="78.56" width="1" height="1" fill="#70cd65" opacity="0.38"/>
<rect x="461.37" y="77.02" width="1" height="1" fill="#82cc58" opacity="0.57"/>
<rect x="447.61" y="59.51" width="1" height="1" fill="#8ccb50" opacity="0.33"/>
<rect x="456.47" y="68.81" width="1" height="1" fill="#fec13a" opacity="0.31"/>
<rect x="456.07" y="68.19" width="1" height="1" fill="#bfc32d" opacity="0.55"/>
<rect x="451.8" y="56.89" width="1" height="1" fill="#acc738" opacity="0.47"/>
<rect x="463.66" y="71.21" width="1" height="1" fill="#7acc5d" opacity="0.51"/>
<rect x="453.24" y="67.71" width="1" height="1" fill="#fabb3d" opacity="0.47"/>
<rect x="453.05" y="72.79" width="1" height="1" fill="#cec028" opacity="0.48"/>
<rect x="447.96" y="72.55" width="1" height="1" fill="#c0c32d" opacity="0.41"/>
<rect x="459.48" y="72.53" width="1" height="1" fill="#ecba32" opacity="0.42"/>
<rect x="458.15" y="77.13" width="1" height="1" fill="#b2c635" opacity="0.5"/>
<rect x="443.57" y="69.65" width="1" height="1" fill="#cec028" opacity="0.34"/>
<rect x="454.1" y="64.47" width="1" height="1" fill="#dfbc2a" opacity="0.52"/>
<rect x="455.77" y="70.21" width="1" height="1" fill="#e1bc2b" opacity="0.37"/>
<rect x="458.06" y="67.13" width="1" height="1" fill="#ecba33" opacity="0.42"/>
<rect x="448.43" y="66.1" width="1" height="1" fill="#bac430" opacity="0.31"/>
<rect x="449.89" y="71.39" width="1" height="1" fill="#dcbd29" opacity="0.4"/>
<rect x="465.25" y="84.4" width="1" height="1" fill="#2fc5a2" opacity="0.48"/>
<rect x="458.97" y="58.3" width="1" height="1" fill="#6fcd66" opacity="0.44"/>
<rect x="456.93" y="63.55" width="1" height="1" fill="#e1bc2b" opacity="0.59"/>
<rect x="453.46" y="73.42" width="1" height="1" fill="#f5ba3a" opacity="0.5"/>
<rect x="455.79" y="64.86" width="1" height="1" fill="#bbc42f" opacity="0.38"/>
<rect x="454.47" y="57.05" width="1" height="1" fill="#4ccb83" opacity="0.56"/>
<rect x="443.54" y="73.57" width="1" height="1" fill="#4bcb84" opacity="0.33"/>
<rect x="451.27" y="74.6" width="1" height="1" fill="#d7be28" opacity="0.5"/>
<rect x="445.41" y="69.24" width="1" height="1" fill="#91ca4c" opacity="0.48"/>
<rect x="446.54" y="73.86" width="1" height="1" fill="#77cc60" opacity="0.38"/>
<rect x="463.17" y="77.52" width="1" height="1" fill="#87cb54" opacity="0.33"/>
<rect x="444.98" y="76.65" width="1" height="1" fill="#9dc943" opacity="0.39"/>
<rect x="446.18" y="59" width="1" height="1" fill="#4dcc82" opacity="0.53"/>
<rect x="449.09" y="61.57" width="1" height="1" fill="#77cc5f" opacity="0.45"/>
<rect x="450.9" y="59.1" width="1" height="1" fill="#9ac945" opacity="0.35"/>
<rect x="450.07" y="65.71" width="1" height="1" fill="#fec537" opacity="0.5"/>
<rect x="453.53" y="73.58" width="1" height="1" fill="#f3ba39" opacity="0.48"/>
<rect x="448.53" y="62.95" width="1" height="1" fill="#a4c83e" opacity="0.35"/>
<rect x="452.89" y="59.94" width="1" height="1" fill="#c3c22b" opacity="0.41"/>
<rect x="454.28" y="68.45" width="1" height="1" fill="#fec13a" opacity="0.37"/>
<rect x="449.29" y="73.34" width="1" height="1" fill="#c6c22a" opacity="0.46"/>
<rect x="445.26" y="78.75" width="1" height="1" fill="#35c79a" opacity="0.38"/>
<rect x="454.89" y="66.8" width="1" height="1" fill="#d9bd28" opacity="0.36"/>
<rect x="452.35" y="56.76" width="1" height="1" fill="#8ecb4f" opacity="0.48"/>
<rect x="455.82" y="70.08" width="1" height="1" fill="#f8ba3d" opacity="0.36"/>
<rect x="454.98" y="71.07" width="1" height="1" fill="#fdcc32" opacity="0.58"/>
<rect x="444.72" y="65.91" width="1" height="1" fill="#b8c431" opacity="0.59"/>
<rect x="448.91" y="80.97" width="1" height="1" fill="#57cc7a" opacity="0.48"/>
<rect x="464" y="68.87" width="1" height="1" fill="#90ca4d" opacity="0.45"/>
<rect x="448.72" y="69.75" width="1" height="1" fill="#eabb30" opacity="0.31"/>
<rect x="448.57" y="63.11" width="1" height="1" fill="#c8c129" opacity="0.59"/>
<rect x="460.44" y="77.37" width="1" height="1" fill="#83cc57" opacity="0.32"/>
<rect x="453.12" y="71.3" width="1" height="1" fill="#fbbc3d" opacity="0.58"/>
<rect x="459.73" y="61.42" width="1" height="1" fill="#59cc79" opacity="0.56"/>
<rect x="462.1" y="64.13" width="1" height="1" fill="#a9c73a" opacity="0.4"/>
<rect x="464.6" y="63.33" width="1" height="1" fill="#51cc7f" opacity="0.53"/>
<rect x="454.34" y="69.92" width="1" height="1" fill="#dabd28" opacity="0.36"/>
<rect x="450.13" y="67.28" width="1" height="1" fill="#eeba34" opacity="0.49"/>
<rect x="442.19" y="71.13" width="1" height="1" fill="#6dcd67" opacity="0.35"/>
<rect x="451.67" y="62.6" width="1" height="1" fill="#bdc42f" opacity="0.46"/>
<rect x="452.93" y="69.17" width="1" height="1" fill="#f7ba3c" opacity="0.53"/>
<rect x="454.47" y="69.47" width="1" height="1" fill="#e5bb2d" opacity="0.42"/>
<rect x="456.12" y="69.16" width="1" height="1" fill="#f1ba37" opacity="0.32"/>
<rect x="443.72" y="69.72" width="1" height="1" fill="#5bcc76" opacity="0.42"/>
<rect x="469.48" y="71.51" width="1" height="1" fill="#2fc5a2" opacity="0.33"/>
<rect x="457.48" y="76.5" width="1" height="1" fill="#87cb54" opacity="0.34"/>
<rect x="452.52" y="80.87" width="1" height="1" fill="#60cd72" opacity="0.58"/>
<rect x="452.85" y="73.81" width="1" height="1" fill="#f9bb3d" opacity="0.49"/>
<rect x="461.04" y="74.17" width="1" height="1" fill="#cec028" opacity="0.48"/>
<rect x="456.45" y="69.1" width="1" height="1" fill="#bbc42f" opacity="0.32"/>
<rect x="456.37" y="66.15" width="1" height="1" fill="#fec835" opacity="0.44"/>
<rect x="466.24" y="61.05" width="1" height="1" fill="#2fc5a2" opacity="0.39"/>
<rect x="455.48" y="67.78" width="1" height="1" fill="#e5bb2d" opacity="0.55"/>
<rect x="447.52" y="70.26" width="1" height="1" fill="#fcbd3d" opacity="0.35"/>
<rect x="451.61" y="56.41" width="1" height="1" fill="#69cd6a" opacity="0.58"/>
<rect x="448.82" y="71.1" width="1" height="1" fill="#fabb3d" opacity="0.44"/>
<rect x="451.1" y="67.09" width="1" height="1" fill="#fec736" opacity="0.42"/>
<rect x="458.66" y="77.13" width="1" height="1" fill="#47cb87" opacity="0.44"/>
<rect x="451.55" y="66.06" width="1" height="1" fill="#ddbd29" opacity="0.55"/>
<rect x="462.38" y="59.59" width="1" height="1" fill="#4ecc81" opacity="0.57"/>
<rect x="449.71" y="74.1" width="1" height="1" fill="#93ca4b" opacity="0.42"/>
<rect x="459.51" y="73.87" width="1" height="1" fill="#70cd65" opacity="0.32"/>
<rect x="452.97" y="70.75" width="1" height="1" fill="#e0bc2a" opacity="0.49"/>
<rect x="457.54" y="69.04" width="1" height="1" fill="#fec537" opacity="0.37"/>
<rect x="442.93" y="74.18" width="1" height="1" fill="#84cc56" opacity="0.54"/>
<rect x="454.39" y="72.46" width="1" height="1" fill="#bac430" opacity="0.55"/>
<rect x="457.41" y="68.53" width="1" height="1" fill="#fec13a" opacity="0.33"/>
<rect x="454.93" y="80.75" width="1" height="1" fill="#75cc62" opacity="0.49"/>
<rect x="457" y="64.38" width="1" height="1" fill="#dbbd29" opacity="0.43"/>
<rect x="451.02" y="61.51" width="1" height="1" fill="#91ca4c" opacity="0.46"/>
<rect x="452.49" y="66.12" width="1" height="1" fill="#ecba32" opacity="0.45"/>
<rect x="452.73" y="61.39" width="1" height="1" fill="#cec028" opacity="0.48"/>
<rect x="459.17" y="68.67" width="1" height="1" fill="#c2c22b" opacity="0.33"/>
<rect x="463.07" y="67.89" width="1" height="1" fill="#bcc42f" opacity="0.6"/>
<rect x="460.16" y="65.33" width="1" height="1" fill="#a4c83e" opacity="0.58"/>
<rect x="459.96" y="66.37" width="1" height="1" fill="#dabd28" opacity="0.42"/>
<rect x="457.59" y="66.11" width="1" height="1" fill="#febe3c" opacity="0.36"/>
<rect x="452.45" y="76.85" width="1" height="1" fill="#c0c32d" opacity="0.31"/>
<rect x="451.73" y="75.53" width="1" height="1" fill="#adc638" opacity="0.52"/>
<rect x="452.14" y="71.65" width="1" height="1" fill="#e2bc2b" opacity="0.42"/>
<rect x="453.72" y="66.84" width="1" height="1" fill="#f8da2b" opacity="0.59"/>
<rect x="450.17" y="71.47" width="1" height="1" fill="#d9be28" opacity="0.44"/>
<rect x="446.93" y="67.1" width="1" height="1" fill="#f2ba38" opacity="0.39"/>
<rect x="461.78" y="61" width="1" height="1" fill="#51cc7f" opacity="0.37"/>
<rect x="456.29" y="68.92" width="1" height="1" fill="#f3ba39" opacity="0.46"/>
<rect x="456.27" y="70.67" width="1" height="1" fill="#e7bb2e" opacity="0.59"/>
<rect x="454.57" y="68.47" width="1" height="1" fill="#e7bb2e" opacity="0.3"/>
<rect x="451.74" y="70.49" width="1" height="1" fill="#febf3b" opacity="0.33"/>
<rect x="453.05" y="80.4" width="1" height="1" fill="#62cd70" opacity="0.38"/>
<rect x="445.54" y="67.41" width="1" height="1" fill="#e9bb2f" opacity="0.54"/>
<rect x="453.49" y="66.58" width="1" height="1" fill="#fcbd3d" opacity="0.55"/>
<rect x="452.12" y="72.58" width="1" height="1" fill="#b3c534" opacity="0.49"/>
<rect x="458.92" y="64.64" width="1" height="1" fill="#d0bf27" opacity="0.58"/>
<rect x="447.48" y="64.66" width="1" height="1" fill="#c7c12a" opacity="0.35"/>
<rect x="454.36" y="68.26" width="1" height="1" fill="#fbbc3d" opacity="0.41"/>
<rect x="455.18" y="61.96" width="1" height="1" fill="#f0ba36" opacity="0.35"/>
<rect x="446.22" y="67.78" width="1" height="1" fill="#ebba32" opacity="0.55"/>
<rect x="451.62" y="67.65" width="1" height="1" fill="#fec437" opacity="0.46"/>
<rect x="450.94" y="78.74" width="1" height="1" fill="#c2c22c" opacity="0.33"/>
<rect x="447.45" y="74.35" width="1" height="1" fill="#e2bc2b" opacity="0.59"/>
<rect x="457.8" y="82.47" width="1" height="1" fill="#2fc5a2" opacity="0.41"/>
<rect x="450.76" y="73.43" width="1" height="1" fill="#fec03a" opacity="0.58"/>
<rect x="448.72" y="72.01" width="1" height="1" fill="#acc738" opacity="0.38"/>
<rect x="456.98" y="70.94" width="1" height="1" fill="#bfc32d" opacity="0.32"/>
<rect x="452.31" y="56.3" width="1" height="1" fill="#74cd62" opacity="0.55"/>
<rect x="455.43" y="68.59" width="1" height="1" fill="#e5bb2d" opacity="0.44"/>
<rect x="453.69" y="70.2" width="1" height="1" fill="#f7dc2a" opacity="0.34"/>
<rect x="461.79" y="87.06" width="1" height="1" fill="#2fc5a2" opacity="0.49"/>
<rect x="453.11" y="67.95" width="1" height="1" fill="#f2ba38" opacity="0.55"/>
<rect x="468.62" y="73.69" width="1" height="1" fill="#31c6a0" opacity="0.41"/>
<rect x="458.52" y="68.62" width="1" height="1" fill="#a6c83d" opacity="0.34"/>
<rect x="455.26" y="68.46" width="1" height="1" fill="#dfbc2a" opacity="0.58"/>
<rect x="457.7" y="68.09" width="1" height="1" fill="#cfc028" opacity="0.59"/>
<rect x="451.22" y="63.3" width="1" height="1" fill="#97ca48" opacity="0.4"/>
<rect x="454.53" y="60.44" width="1" height="1" fill="#a4c83e" opacity="0.46"/>
<rect x="440.84" y="66.06" width="1" height="1" fill="#3eca8f" opacity="0.48"/>
<rect x="455.22" y="65.37" width="1" height="1" fill="#fec934" opacity="0.55"/>
<rect x="453.53" y="69.08" width="1" height="1" fill="#f5e426" opacity="0.42"/>
<rect x="453.67" y="69.42" width="1" height="1" fill="#f7db2b" opacity="0.54"/>
<rect x="449.72" y="61.41" width="1" height="1" fill="#d3bf27" opacity="0.33"/>
<rect x="449.44" y="70.02" width="1" height="1" fill="#f7ba3c" opacity="0.4"/>
<rect x="448.87" y="72.76" width="1" height="1" fill="#c3c22b" opacity="0.48"/>
<rect x="464.76" y="63.65" width="1" height="1" fill="#88cb53" opacity="0.39"/>
<rect x="452.44" y="72.01" width="1" height="1" fill="#f2ba37" opacity="0.52"/>
<rect x="449.61" y="64.51" width="1" height="1" fill="#fec03a" opacity="0.44"/>
<rect x="439.85" y="66.1" width="1" height="1" fill="#98c947" opacity="0.46"/>
<rect x="451.03" y="67.04" width="1" height="1" fill="#f5ba3a" opacity="0.55"/>
<rect x="464.73" y="73.35" width="1" height="1" fill="#4dcb82" opacity="0.59"/>
<rect x="454.66" y="76.7" width="1" height="1" fill="#dcbd29" opacity="0.43"/>
<rect x="451.37" y="62.72" width="1" height="1" fill="#b4c533" opacity="0.45"/>
<rect x="446.28" y="75.48" width="1" height="1" fill="#c9c129" opacity="0.48"/>
<rect x="446.19" y="69.9" width="1" height="1" fill="#93ca4b" opacity="0.32"/>
<rect x="452.52" y="70.26" width="1" height="1" fill="#fec239" opacity="0.58"/>
<rect x="451.89" y="56.53" width="1" height="1" fill="#96ca48" opacity="0.57"/>
<rect x="451.49" y="65.7" width="1" height="1" fill="#feca33" opacity="0.41"/>
<rect x="456.97" y="65.3" width="1" height="1" fill="#b3c534" opacity="0.55"/>
<rect x="454.19" y="69.49" width="1" height="1" fill="#f8ba3d" opacity="0.3"/>
<rect x="454.96" y="73.46" width="1" height="1" fill="#cec028" opacity="0.45"/>
<rect x="446.26" y="61.8" width="1" height="1" fill="#8ccb50" opacity="0.33"/>
<rect x="451.87" y="66.17" width="1" height="1" fill="#f3ba39" opacity="0.53"/>
<rect x="453.67" y="69.06" width="1" height="1" fill="#fec438" opacity="0.43"/>
<rect x="455.55" y="63.53" width="1" height="1" fill="#c9c129" opacity="0.47"/>
<rect x="454.78" y="74.89" width="1" height="1" fill="#91ca4c" opacity="0.49"/>
<rect x="451.3" y="67.34" width="1" height="1" fill="#d8be28" opacity="0.37"/>
<rect x="457.9" y="62.38" width="1" height="1" fill="#90ca4d" opacity="0.59"/>
<rect x="448.55" y="67.92" width="1" height="1" fill="#d0bf27" opacity="0.57"/>
<rect x="452.03" y="64.21" width="1" height="1" fill="#fabb3d" opacity="0.57"/>
<rect x="452.52" y="64.33" width="1" height="1" fill="#b2c635" opacity="0.43"/>
<rect x="457.39" y="81.06" width="1" height="1" fill="#37c897" opacity="0.55"/>
<rect x="463.35" y="78.53" width="1" height="1" fill="#39c994" opacity="0.36"/>
<rect x="445.96" y="68.71" width="1" height="1" fill="#e9bb30" opacity="0.55"/>
<rect x="449.49" y="69.18" width="1" height="1" fill="#d8be28" opacity="0.38"/>
<rect x="451.16" y="71.36" width="1" height="1" fill="#d8be28" opacity="0.43"/>
<rect x="453.14" y="78.78" width="1" height="1" fill="#62cd70" opacity="0.5"/>
<rect x="457.72" y="78.38" width="1" height="1" fill="#6ecd67" opacity="0.46"/>
<rect x="447.98" y="63.64" width="1" height="1" fill="#82cc57" opacity="0.54"/>
<rect x="444.32" y="69.23" width="1" height="1" fill="#85cb55" opacity="0.57"/>
<rect x="454.96" y="80.5" width="1" height="1" fill="#aec637" opacity="0.4"/>
<rect x="448.79" y="69.13" width="1" height="1" fill="#fbbc3d" opacity="0.4"/>
<rect x="450.16" y="67.15" width="1" height="1" fill="#f6ba3c" opacity="0.56"/>
<rect x="440.28" y="65.53" width="1" height="1" fill="#51cc7f" opacity="0.45"/>
<rect x="454.81" y="64.78" width="1" height="1" fill="#b6c532" opacity="0.53"/>
<rect x="448.39" y="81.67" width="1" height="1" fill="#81cc58" opacity="0.46"/>
<rect x="458.4" y="59.44" width="1" height="1" fill="#60cd72" opacity="0.3"/>
<rect x="452.29" y="62.69" width="1" height="1" fill="#cdc028" opacity="0.47"/>
<rect x="451.76" y="66.06" width="1" height="1" fill="#d0bf27" opacity="0.47"/>
<rect x="452.22" y="64.75" width="1" height="1" fill="#e0bc2a" opacity="0.36"/>
<rect x="450.11" y="67.27" width="1" height="1" fill="#c6c22a" opacity="0.44"/>
<rect x="453.13" y="71.5" width="1" height="1" fill="#fabb3d" opacity="0.58"/>
<rect x="446.34" y="68.06" width="1" height="1" fill="#8dcb50" opacity="0.38"/>
<rect x="455.88" y="67.53" width="1" height="1" fill="#fccf31" opacity="0.44"/>
<rect x="451.57" y="85.31" width="1" height="1" fill="#2fc5a2" opacity="0.47"/>
<rect x="454.29" y="73.09" width="1" height="1" fill="#fec636" opacity="0.54"/>
<rect x="455.28" y="67" width="1" height="1" fill="#fec239" opacity="0.53"/>
<rect x="459" y="68.53" width="1" height="1" fill="#e9bb30" opacity="0.35"/>
<rect x="451.91" y="76.39" width="1" height="1" fill="#a3c83f" opacity="0.56"/>
<rect x="442.94" y="68.44" width="1" height="1" fill="#84cc56" opacity="0.54"/>
<rect x="451.83" y="65.14" width="1" height="1" fill="#bbc42f" opacity="0.35"/>
<rect x="455.48" y="79.33" width="1" height="1" fill="#7ccc5c" opacity="0.59"/>
<rect x="451.96" y="62.49" width="1" height="1" fill="#8ecb4e" opacity="0.47"/>
<rect x="456.7" y="66.62" width="1" height="1" fill="#bfc32d" opacity="0.59"/>
<rect x="442.25" y="69.73" width="1" height="1" fill="#50cc7f" opacity="0.46"/>
<rect x="449.79" y="66.36" width="1" height="1" fill="#c4c22a" opacity="0.49"/>
<rect x="453.35" y="69.29" width="1" height="1" fill="#e9bb2f" opacity="0.54"/>
<rect x="432.85" y="74.4" width="1" height="1" fill="#2fc5a2" opacity="0.38"/>
<rect x="458.14" y="68.77" width="1" height="1" fill="#eeba34" opacity="0.35"/>
<rect x="451.35" y="85.16" width="1" height="1" fill="#2fc5a2" opacity="0.54"/>
<rect x="455.26" y="62.07" width="1" height="1" fill="#d4bf28" opacity="0.4"/>
<rect x="454.85" y="67.65" width="1" height="1" fill="#e5bb2d" opacity="0.42"/>
<rect x="444.96" y="68.03" width="1" height="1" fill="#bec32e" opacity="0.39"/>
<rect x="450.39" y="69.37" width="1" height="1" fill="#fdbd3d" opacity="0.38"/>
<rect x="445.15" y="63" width="1" height="1" fill="#b5c533" opacity="0.46"/>
<rect x="452.01" y="70.89" width="1" height="1" fill="#fdcc32" opacity="0.45"/>
<rect x="451.39" y="63.88" width="1" height="1" fill="#d6be28" opacity="0.34"/>
<rect x="455.9" y="74.11" width="1" height="1" fill="#fcbc3d" opacity="0.34"/>
<rect x="447.99" y="69.33" width="1" height="1" fill="#fec13a" opacity="0.42"/>
<rect x="463.84" y="68.76" width="1" height="1" fill="#b0c636" opacity="0.57"/>
<rect x="452.39" y="76.16" width="1" height="1" fill="#9ec942" opacity="0.39"/>
<rect x="455.48" y="78.24" width="1" height="1" fill="#4fcc81" opacity="0.59"/>
<rect x="452.57" y="67.22" width="1" height="1" fill="#fcd12f" opacity="0.45"/>
<rect x="461.3" y="73.53" width="1" height="1" fill="#94ca4a" opacity="0.59"/>
<rect x="445.71" y="66.25" width="1" height="1" fill="#adc638" opacity="0.51"/>
<rect x="447.22" y="73.31" width="1" height="1" fill="#c9c129" opacity="0.31"/>
<rect x="452.47" y="63.69" width="1" height="1" fill="#dabd28" opacity="0.38"/>
<rect x="446.58" y="60" width="1" height="1" fill="#bfc32d" opacity="0.44"/>
<rect x="457.68" y="69.02" width="1" height="1" fill="#e8bb2f" opacity="0.48"/>
<rect x="456.43" y="69.14" width="1" height="1" fill="#efba35" opacity="0.38"/>
<rect x="447.41" y="66.35" width="1" height="1" fill="#c9c129" opacity="0.31"/>
<rect x="452.89" y="62.52" width="1" height="1" fill="#e6bb2d" opacity="0.38"/>
<rect x="455.99" y="70.25" width="1" height="1" fill="#fbbc3d" opacity="0.52"/>
<rect x="451.69" y="69.63" width="1" height="1" fill="#fec13a" opacity="0.43"/>
<rect x="446.11" y="67.19" width="1" height="1" fill="#efba35" opacity="0.36"/>
<rect x="456.04" y="58.94" width="1" height="1" fill="#c9c129" opacity="0.34"/>
<rect x="455.53" y="66.74" width="1" height="1" fill="#f9bb3d" opacity="0.58"/>
<rect x="453.92" y="64.55" width="1" height="1" fill="#bec32e" opacity="0.36"/>
<rect x="447.85" y="71.36" width="1" height="1" fill="#cec028" opacity="0.58"/>
<rect x="458.65" y="68.37" width="1" height="1" fill="#c5c22a" opacity="0.59"/>
<rect x="456.83" y="68.12" width="1" height="1" fill="#ccc028" opacity="0.58"/>
<rect x="452.34" y="73.86" width="1" height="1" fill="#b9c430" opacity="0.46"/>
<rect x="446.64" y="73.31" width="1" height="1" fill="#99c946" opacity="0.55"/>
<rect x="453.08" y="56.67" width="1" height="1" fill="#37c897" opacity="0.38"/>
<rect x="467.75" y="68.19" width="1" height="1" fill="#6fcd66" opacity="0.47"/>
<rect x="467.09" y="69.6" width="1" height="1" fill="#32c69f" opacity="0.39"/>
<rect x="457.35" y="82.7" width="1" height="1" fill="#31c69f" opacity="0.5"/>
<rect x="451.96" y="72.53" width="1" height="1" fill="#f8ba3d" opacity="0.48"/>
<rect x="451.46" y="68.58" width="1" height="1" fill="#f8d92c" opacity="0.4"/>
<rect x="457.46" y="69.39" width="1" height="1" fill="#e6bb2d" opacity="0.42"/>
<rect x="450.95" y="75.96" width="1" height="1" fill="#dabd28" opacity="0.43"/>
<rect x="449.58" y="69.06" width="1" height="1" fill="#d1bf27" opacity="0.55"/>
<rect x="447.06" y="73.97" width="1" height="1" fill="#ddbd29" opacity="0.41"/>
<rect x="452.21" y="69.41" width="1" height="1" fill="#fec735" opacity="0.44"/>
<rect x="445.84" y="70.9" width="1" height="1" fill="#d5be28" opacity="0.36"/>
<rect x="462.65" y="77.3" width="1" height="1" fill="#36c799" opacity="0.54"/>
<rect x="439.91" y="68.12" width="1" height="1" fill="#89cb52" opacity="0.56"/>
<rect x="458.84" y="70.78" width="1" height="1" fill="#96ca48" opacity="0.53"/>
<rect x="452.42" y="57.12" width="1" height="1" fill="#b7c532" opacity="0.5"/>
<rect x="450.31" y="67.9" width="1" height="1" fill="#fcd030" opacity="0.33"/>
<rect x="452.51" y="78.83" width="1" height="1" fill="#49cb85" opacity="0.36"/>
<rect x="460.4" y="70.52" width="1" height="1" fill="#e7bb2e" opacity="0.36"/>
<rect x="452.5" y="59.66" width="1" height="1" fill="#c2c22c" opacity="0.51"/>
<rect x="434.81" y="67.98" width="1" height="1" fill="#2fc5a2" opacity="0.48"/>
<rect x="451.48" y="71.57" width="1" height="1" fill="#febe3c" opacity="0.34"/>
<rect x="456.82" y="56.45" width="1" height="1" fill="#3fca8e" opacity="0.37"/>
<rect x="451.75" y="71.34" width="1" height="1" fill="#f8ba3d" opacity="0.51"/>
<rect x="447.13" y="78.19" width="1" height="1" fill="#a1c840" opacity="0.39"/>
<rect x="452.65" y="59.37" width="1" height="1" fill="#8bcb51" opacity="0.59"/>
<rect x="453.47" y="71.62" width="1" height="1" fill="#e8bb2f" opacity="0.48"/>
<rect x="461.75" y="65.63" width="1" height="1" fill="#91ca4c" opacity="0.5"/>
<rect x="447.23" y="63.58" width="1" height="1" fill="#bac430" opacity="0.45"/>
<rect x="456.92" y="79.35" width="1" height="1" fill="#57cc7a" opacity="0.55"/>
<rect x="442.51" y="69.36" width="1" height="1" fill="#5ccc76" opacity="0.38"/>
<rect x="452.82" y="68.6" width="1" height="1" fill="#f8ba3d" opacity="0.36"/>
<rect x="444.79" y="71.04" width="1" height="1" fill="#8bcb50" opacity="0.5"/>
<rect x="452.68" y="68.39" width="1" height="1" fill="#fec636" opacity="0.45"/>
<rect x="452.43" y="74" width="1" height="1" fill="#e6bb2d" opacity="0.48"/>
<rect x="457.84" y="62.62" width="1" height="1" fill="#9dc943" opacity="0.32"/>
<rect x="447.58" y="74.8" width="1" height="1" fill="#9ac945" opacity="0.3"/>
<rect x="464.21" y="70" width="1" height="1" fill="#7ecc5a" opacity="0.37"/>
<rect x="451.31" y="66.96" width="1" height="1" fill="#feca34" opacity="0.37"/>
<rect x="456.2" y="72.85" width="1" height="1" fill="#bbc42f" opacity="0.56"/>
<rect x="449.61" y="66.93" width="1" height="1" fill="#e7bb2e" opacity="0.51"/>
<rect x="454.36" y="55.08" width="1" height="1" fill="#66cd6d" opacity="0.49"/>
<rect x="452.26" y="74.22" width="1" height="1" fill="#a6c73c" opacity="0.35"/>
<rect x="461.72" y="74.75" width="1" height="1" fill="#70cd65" opacity="0.56"/>
<rect x="448" y="57.12" width="1" height="1" fill="#31c69f" opacity="0.38"/>
<rect x="444.11" y="72.86" width="1" height="1" fill="#c6c22a" opacity="0.52"/>
<rect x="450.82" y="62.95" width="1" height="1" fill="#cfc028" opacity="0.52"/>
<rect x="448.68" y="73.14" width="1" height="1" fill="#dbbd29" opacity="0.37"/>
<rect x="462.25" y="68.7" width="1" height="1" fill="#96ca49" opacity="0.36"/>
<rect x="436.44" y="71.39" width="1" height="1" fill="#4fcc81" opacity="0.48"/>
<rect x="455.76" y="66.09" width="1" height="1" fill="#fec239" opacity="0.55"/>
<rect x="453.24" y="62.23" width="1" height="1" fill="#a2c840" opacity="0.5"/>
<rect x="450.85" y="62.81" width="1" height="1" fill="#bbc430" opacity="0.39"/>
<rect x="449.54" y="63.3" width="1" height="1" fill="#d2bf27" opacity="0.43"/>
<rect x="447.55" y="68.14" width="1" height="1" fill="#fec13a" opacity="0.57"/>
<rect x="452.1" y="72.9" width="1" height="1" fill="#fabb3d" opacity="0.55"/>
<rect x="455.21" y="78.81" width="1" height="1" fill="#89cb52" opacity="0.41"/>
<rect x="443.93" y="71.67" width="1" height="1" fill="#bac430" opacity="0.59"/>
<rect x="454.5" y="65.26" width="1" height="1" fill="#f3ba39" opacity="0.56"/>
<rect x="451.71" y="62.22" width="1" height="1" fill="#afc637" opacity="0.49"/>
<rect x="452.71" y="84.9" width="1" height="1" fill="#4bcb83" opacity="0.44"/>
<rect x="446.92" y="73.94" width="1" height="1" fill="#81cc58" opacity="0.56"/>
<rect x="453.02" y="65.99" width="1" height="1" fill="#fdcb33" opacity="0.3"/>
<rect x="450.59" y="68.87" width="1" height="1" fill="#f6ba3b" opacity="0.57"/>
<rect x="448.15" y="79.66" width="1" height="1" fill="#56cc7b" opacity="0.57"/>
<rect x="468.19" y="76.83" width="1" height="1" fill="#2fc5a2" opacity="0.38"/>
<rect x="458.96" y="74.09" width="1" height="1" fill="#dabd28" opacity="0.48"/>
<rect x="453.46" y="56.57" width="1" height="1" fill="#71cd64" opacity="0.49"/>
<rect x="436" y="79.77" width="1" height="1" fill="#30c5a1" opacity="0.3"/>
<rect x="454.1" y="67.93" width="1" height="1" fill="#e9bb2f" opacity="0.53"/>
<rect x="450.38" y="72.84" width="1" height="1" fill="#fbbc3d" opacity="0.36"/>
<rect x="448.89" y="71.05" width="1" height="1" fill="#acc738" opacity="0.51"/>
<rect x="448.82" y="80.31" width="1" height="1" fill="#3eca8f" opacity="0.43"/>
<rect x="459.02" y="67.76" width="1" height="1" fill="#9fc942" opacity="0.37"/>
<rect x="450.5" y="82.07" width="1" height="1" fill="#2fc5a2" opacity="0.56"/>
<rect x="455.52" y="63.24" width="1" height="1" fill="#95ca49" opacity="0.35"/>
<rect x="455.95" y="69.21" width="1" height="1" fill="#fec537" opacity="0.56"/>
<rect x="457.17" y="61.65" width="1" height="1" fill="#dabd28" opacity="0.51"/>
<rect x="451.56" y="69.35" width="1" height="1" fill="#e1bc2b" opacity="0.37"/>
<rect x="465.35" y="80.59" width="1" height="1" fill="#2fc5a2" opacity="0.52"/>
<rect x="454.87" y="82.1" width="1" height="1" fill="#8fcb4e" opacity="0.38"/>
<rect x="454.5" y="60.7" width="1" height="1" fill="#a1c840" opacity="0.48"/>
<rect x="442.75" y="69.67" width="1" height="1" fill="#51cc7f" opacity="0.58"/>
<rect x="453.03" y="81.6" width="1" height="1" fill="#86cb54" opacity="0.59"/>
<rect x="451.14" y="63.58" width="1" height="1" fill="#f8ba3d" opacity="0.33"/>
<rect x="450.91" y="67.43" width="1" height="1" fill="#fad62d" opacity="0.39"/>
<rect x="458.46" y="68.87" width="1" height="1" fill="#ebba31" opacity="0.6"/>
<rect x="460.2" y="59.11" width="1" height="1" fill="#86cb55" opacity="0.42"/>
<rect x="448.32" y="68.46" width="1" height="1" fill="#f9bb3d" opacity="0.4"/>
<rect x="444.1" y="66.07" width="1" height="1" fill="#6acd6a" opacity="0.38"/>
<rect x="455.08" y="78.14" width="1" height="1" fill="#d0bf27" opacity="0.42"/>
<rect x="441.08" y="58.42" width="1" height="1" fill="#37c897" opacity="0.53"/>
<rect x="455.5" y="76.09" width="1" height="1" fill="#bdc32e" opacity="0.44"/>
<rect x="462.59" y="62.45" width="1" height="1" fill="#9ec943" opacity="0.34"/>
<rect x="442.16" y="57.69" width="1" height="1" fill="#2fc5a2" opacity="0.35"/>
<rect x="445.78" y="76" width="1" height="1" fill="#97ca48" opacity="0.42"/>
<rect x="435.4" y="61.52" width="1" height="1" fill="#2fc5a2" opacity="0.54"/>
<rect x="450.74" y="60.1" width="1" height="1" fill="#c2c22c" opacity="0.56"/>
<rect x="452.13" y="65.23" width="1" height="1" fill="#ecba32" opacity="0.33"/>
<rect x="452.27" y="55.07" width="1" height="1" fill="#31c5a1" opacity="0.33"/>
<rect x="442.61" y="68.97" width="1" height="1" fill="#6bcd69" opacity="0.52"/>
<rect x="450.1" y="79.81" width="1" height="1" fill="#3dc990" opacity="0.48"/>
<rect x="444.45" y="68.9" width="1" height="1" fill="#b8c431" opacity="0.41"/>
<rect x="453.65" y="65.03" width="1" height="1" fill="#b5c533" opacity="0.59"/>
<rect x="456.06" y="71.19" width="1" height="1" fill="#fabb3d" opacity="0.35"/>
<rect x="450.16" y="63.27" width="1" height="1" fill="#e0bc2a" opacity="0.58"/>
<rect x="446.54" y="62.13" width="1" height="1" fill="#81cc58" opacity="0.49"/>
<rect x="446.4" y="64.77" width="1" height="1" fill="#d6be28" opacity="0.36"/>
<rect x="454.59" y="68.46" width="1" height="1" fill="#edba33" opacity="0.6"/>
<rect x="452.45" y="67.41" width="1" height="1" fill="#feca34" opacity="0.3"/>
<rect x="448.08" y="82.66" width="1" height="1" fill="#70cd65" opacity="0.34"/>
<rect x="459.14" y="77.66" width="1" height="1" fill="#45cb88" opacity="0.32"/>
<rect x="452.87" y="74.88" width="1" height="1" fill="#c7c12a" opacity="0.47"/>
<rect x="458.46" y="66.77" width="1" height="1" fill="#cec028" opacity="0.56"/>
<rect x="456" y="67.8" width="1" height="1" fill="#fdcb33" opacity="0.55"/>
<rect x="451.35" y="71.31" width="1" height="1" fill="#fdcc32" opacity="0.43"/>
<rect x="454.92" y="72.87" width="1" height="1" fill="#fec03b" opacity="0.34"/>
<rect x="447.27" y="63.14" width="1" height="1" fill="#b2c534" opacity="0.42"/>
<rect x="454.08" y="63.25" width="1" height="1" fill="#b7c531" opacity="0.57"/>
<rect x="443.56" y="67.09" width="1" height="1" fill="#a1c840" opacity="0.33"/>
<rect x="456.17" y="73.66" width="1" height="1" fill="#fdbd3d" opacity="0.54"/>
<rect x="464.14" y="74.52" width="1" height="1" fill="#50cc80" opacity="0.3"/>
<rect x="454.69" y="67.84" width="1" height="1" fill="#fbbc3d" opacity="0.57"/>
<rect x="449.16" y="79.37" width="1" height="1" fill="#6ccd68" opacity="0.6"/>
<rect x="459.27" y="60.79" width="1" height="1" fill="#5ecc74" opacity="0.51"/>
<rect x="444.5" y="69.61" width="1" height="1" fill="#8ecb4f" opacity="0.36"/>
<rect x="450.79" y="70.98" width="1" height="1" fill="#fbd22f" opacity="0.45"/>
<rect x="450.89" y="71.83" width="1" height="1" fill="#ddbd29" opacity="0.55"/>
<circle cx="453.35" cy="69.2" r="4.0" fill="url(#blob)"/>
<circle cx="453.35" cy="69.2" r="1.1" fill="#f7b030"/>
<rect x="392.1" y="8.1" width="122.5" height="122.2" fill="none" stroke="#1a1aff" stroke-width="0.9"/>
<path d="M403.75 130.3v-1.6M403.75 8.1v1.6M416.15 130.3v-1.6M416.15 8.1v1.6M428.55 130.3v-1.6M428.55 8.1v1.6M440.95 130.3v-1.6M440.95 8.1v1.6M453.35 130.3v-1.6M453.35 8.1v1.6M465.75 130.3v-1.6M465.75 8.1v1.6M478.15 130.3v-1.6M478.15 8.1v1.6M490.55 130.3v-1.6M490.55 8.1v1.6M502.95 130.3v-1.6M502.95 8.1v1.6M392.1 19.6h1.6M514.6 19.6h-1.6M392.1 32h1.6M514.6 32h-1.6M392.1 44.4h1.6M514.6 44.4h-1.6M392.1 56.8h1.6M514.6 56.8h-1.6M392.1 69.2h1.6M514.6 69.2h-1.6M392.1 81.6h1.6M514.6 81.6h-1.6M392.1 94h1.6M514.6 94h-1.6M392.1 106.4h1.6M514.6 106.4h-1.6M392.1 118.8h1.6M514.6 118.8h-1.6" stroke="#1a1aff" stroke-width="0.7" fill="none"/>
<text x="390.3" y="21" font-size="3.9" fill="#1a1aff" text-anchor="end" font-family="'Liberation Sans',Arial,sans-serif" font-weight="bold" stroke="#1a1aff" stroke-width="0.16">−0.4</text>
<text x="390.3" y="33.4" font-size="3.9" fill="#1a1aff" text-anchor="end" font-family="'Liberation Sans',Arial,sans-serif" font-weight="bold" stroke="#1a1aff" stroke-width="0.16">−0.3</text>
<text x="390.3" y="45.8" font-size="3.9" fill="#1a1aff" text-anchor="end" font-family="'Liberation Sans',Arial,sans-serif" font-weight="bold" stroke="#1a1aff" stroke-width="0.16">−0.2</text>
<text x="390.3" y="58.2" font-size="3.9" fill="#1a1aff" text-anchor="end" font-family="'Liberation Sans',Arial,sans-serif" font-weight="bold" stroke="#1a1aff" stroke-width="0.16">−0.1</text>
<text x="390.3" y="70.6" font-size="3.9" fill="#1a1aff" text-anchor="end" font-family="'Liberation Sans',Arial,sans-serif" font-weight="bold" stroke="#1a1aff" stroke-width="0.16">0</text>
<text x="390.3" y="83" font-size="3.9" fill="#1a1aff" text-anchor="end" font-family="'Liberation Sans',Arial,sans-serif" font-weight="bold" stroke="#1a1aff" stroke-width="0.16">0.1</text>
<text x="390.3" y="95.4" font-size="3.9" fill="#1a1aff" text-anchor="end" font-family="'Liberation Sans',Arial,sans-serif" font-weight="bold" stroke="#1a1aff" stroke-width="0.16">0.2</text>
<text x="390.3" y="107.8" font-size="3.9" fill="#1a1aff" text-anchor="end" font-family="'Liberation Sans',Arial,sans-serif" font-weight="bold" stroke="#1a1aff" stroke-width="0.16">0.3</text>
<text x="390.3" y="120.2" font-size="3.9" fill="#1a1aff" text-anchor="end" font-family="'Liberation Sans',Arial,sans-serif" font-weight="bold" stroke="#1a1aff" stroke-width="0.16">0.4</text>
<text x="403.75" y="136.3" font-size="3.9" fill="#1a1aff" text-anchor="middle" font-family="'Liberation Sans',Arial,sans-serif" font-weight="bold" stroke="#1a1aff" stroke-width="0.16">−0.4</text>
<text x="416.15" y="136.3" font-size="3.9" fill="#1a1aff" text-anchor="middle" font-family="'Liberation Sans',Arial,sans-serif" font-weight="bold" stroke="#1a1aff" stroke-width="0.16">−0.3</text>
<text x="428.55" y="136.3" font-size="3.9" fill="#1a1aff" text-anchor="middle" font-family="'Liberation Sans',Arial,sans-serif" font-weight="bold" stroke="#1a1aff" stroke-width="0.16">−0.2</text>
<text x="440.95" y="136.3" font-size="3.9" fill="#1a1aff" text-anchor="middle" font-family="'Liberation Sans',Arial,sans-serif" font-weight="bold" stroke="#1a1aff" stroke-width="0.16">−0.1</text>
<text x="453.35" y="136.3" font-size="3.9" fill="#1a1aff" text-anchor="middle" font-family="'Liberation Sans',Arial,sans-serif" font-weight="bold" stroke="#1a1aff" stroke-width="0.16">0</text>
<text x="465.75" y="136.3" font-size="3.9" fill="#1a1aff" text-anchor="middle" font-family="'Liberation Sans',Arial,sans-serif" font-weight="bold" stroke="#1a1aff" stroke-width="0.16">0.1</text>
<text x="478.15" y="136.3" font-size="3.9" fill="#1a1aff" text-anchor="middle" font-family="'Liberation Sans',Arial,sans-serif" font-weight="bold" stroke="#1a1aff" stroke-width="0.16">0.2</text>
<text x="490.55" y="136.3" font-size="3.9" fill="#1a1aff" text-anchor="middle" font-family="'Liberation Sans',Arial,sans-serif" font-weight="bold" stroke="#1a1aff" stroke-width="0.16">0.3</text>
<text x="502.95" y="136.3" font-size="3.9" fill="#1a1aff" text-anchor="middle" font-family="'Liberation Sans',Arial,sans-serif" font-weight="bold" stroke="#1a1aff" stroke-width="0.16">0.4</text>
<text x="453.35" y="142.8" font-size="4.2" fill="#1a1aff" text-anchor="middle" font-family="'Liberation Sans',Arial,sans-serif" font-weight="bold" stroke="#1a1aff" stroke-width="0.16">x (mm)</text>
<text x="382.9" y="69.2" font-size="4.2" fill="#1a1aff" text-anchor="middle" font-family="'Liberation Sans',Arial,sans-serif" font-weight="bold" transform="rotate(-90 382.9 69.2)" stroke="#1a1aff" stroke-width="0.16">y (mm)</text>
<text x="453.35" y="6.1" font-size="4.66" fill="#111" text-anchor="middle" font-family="'Liberation Sans',Arial,sans-serif" font-weight="bold" stroke="#111" stroke-width="0.16">Intensity Distribution at Focal Plane (log scale)</text>
<defs><linearGradient id="cbc" x1="0" y1="0" x2="0" y2="1"><stop offset="0" stop-color="#f9fb15"/><stop offset="0.03" stop-color="#f6ef20"/><stop offset="0.06" stop-color="#f5e327"/><stop offset="0.09" stop-color="#f9d62d"/><stop offset="0.12" stop-color="#feca33"/><stop offset="0.16" stop-color="#febe3c"/><stop offset="0.19" stop-color="#f1ba37"/><stop offset="0.22" stop-color="#debc2a"/><stop offset="0.25" stop-color="#c8c129"/><stop offset="0.28" stop-color="#afc637"/><stop offset="0.31" stop-color="#94ca4a"/><stop offset="0.34" stop-color="#77cc60"/><stop offset="0.38" stop-color="#5ccc76"/><stop offset="0.41" stop-color="#44ca8a"/><stop offset="0.44" stop-color="#34c79c"/><stop offset="0.47" stop-color="#28c2ab"/><stop offset="0.5" stop-color="#12beb9"/><stop offset="0.53" stop-color="#01b9c6"/><stop offset="0.56" stop-color="#0cb3d3"/><stop offset="0.59" stop-color="#1aacdd"/><stop offset="0.62" stop-color="#21a3e3"/><stop offset="0.66" stop-color="#269ae9"/><stop offset="0.69" stop-color="#2c90f0"/><stop offset="0.72" stop-color="#2e85f8"/><stop offset="0.75" stop-color="#347afd"/><stop offset="0.78" stop-color="#3f6efe"/><stop offset="0.81" stop-color="#4562fc"/><stop offset="0.84" stop-color="#4757f7"/><stop offset="0.88" stop-color="#484cef"/><stop offset="0.91" stop-color="#4741e5"/><stop offset="0.94" stop-color="#4536d5"/><stop offset="0.97" stop-color="#422ebf"/><stop offset="1" stop-color="#3e26a8"/></linearGradient></defs>
<rect x="518" y="8.1" width="6.9" height="122.2" fill="url(#cbc)" stroke="#333" stroke-width="0.3"/>
<text x="526.7" y="12.9" font-size="3.6" fill="#222" text-anchor="start" font-family="'Liberation Sans',Arial,sans-serif" stroke="#222" stroke-width="0.16">10</text>
<text x="526.7" y="33.8" font-size="3.6" fill="#222" text-anchor="start" font-family="'Liberation Sans',Arial,sans-serif" stroke="#222" stroke-width="0.16">5</text>
<text x="526.7" y="54.7" font-size="3.6" fill="#222" text-anchor="start" font-family="'Liberation Sans',Arial,sans-serif" stroke="#222" stroke-width="0.16">0</text>
<text x="526.7" y="75.6" font-size="3.6" fill="#222" text-anchor="start" font-family="'Liberation Sans',Arial,sans-serif" stroke="#222" stroke-width="0.16">−5</text>
<text x="526.7" y="96.5" font-size="3.6" fill="#222" text-anchor="start" font-family="'Liberation Sans',Arial,sans-serif" stroke="#222" stroke-width="0.16">−10</text>
<text x="526.7" y="117.4" font-size="3.6" fill="#222" text-anchor="start" font-family="'Liberation Sans',Arial,sans-serif" stroke="#222" stroke-width="0.16">−15</text>
<rect x="17.2" y="165.5" width="122.2" height="121.9" fill="#3a278f"/>
<circle cx="78.3" cy="226.6" r="3.5" fill="#f9fb15"/>
<rect x="17.2" y="165.5" width="122.2" height="121.9" fill="none" stroke="#111" stroke-width="0.9"/>
<path d="M28.3 287.4v-1.6M28.3 165.5v1.6M40.7 287.4v-1.6M40.7 165.5v1.6M53.1 287.4v-1.6M53.1 165.5v1.6M65.5 287.4v-1.6M65.5 165.5v1.6M77.9 287.4v-1.6M77.9 165.5v1.6M90.3 287.4v-1.6M90.3 165.5v1.6M102.7 287.4v-1.6M102.7 165.5v1.6M115.1 287.4v-1.6M115.1 165.5v1.6M127.5 287.4v-1.6M127.5 165.5v1.6M17.2 176.9h1.6M139.4 176.9h-1.6M17.2 189.3h1.6M139.4 189.3h-1.6M17.2 201.7h1.6M139.4 201.7h-1.6M17.2 214.1h1.6M139.4 214.1h-1.6M17.2 226.5h1.6M139.4 226.5h-1.6M17.2 238.9h1.6M139.4 238.9h-1.6M17.2 251.3h1.6M139.4 251.3h-1.6M17.2 263.7h1.6M139.4 263.7h-1.6M17.2 276.1h1.6M139.4 276.1h-1.6" stroke="#111" stroke-width="0.7" fill="none"/>
<text x="15.4" y="178.3" font-size="3.9" fill="#111" text-anchor="end" font-family="'Liberation Sans',Arial,sans-serif" font-weight="bold" stroke="#111" stroke-width="0.16">−0.4</text>
<text x="15.4" y="190.7" font-size="3.9" fill="#111" text-anchor="end" font-family="'Liberation Sans',Arial,sans-serif" font-weight="bold" stroke="#111" stroke-width="0.16">−0.3</text>
<text x="15.4" y="203.1" font-size="3.9" fill="#111" text-anchor="end" font-family="'Liberation Sans',Arial,sans-serif" font-weight="bold" stroke="#111" stroke-width="0.16">−0.2</text>
<text x="15.4" y="215.5" font-size="3.9" fill="#111" text-anchor="end" font-family="'Liberation Sans',Arial,sans-serif" font-weight="bold" stroke="#111" stroke-width="0.16">−0.1</text>
<text x="15.4" y="227.9" font-size="3.9" fill="#111" text-anchor="end" font-family="'Liberation Sans',Arial,sans-serif" font-weight="bold" stroke="#111" stroke-width="0.16">0</text>
<text x="15.4" y="240.3" font-size="3.9" fill="#111" text-anchor="end" font-family="'Liberation Sans',Arial,sans-serif" font-weight="bold" stroke="#111" stroke-width="0.16">0.1</text>
<text x="15.4" y="252.7" font-size="3.9" fill="#111" text-anchor="end" font-family="'Liberation Sans',Arial,sans-serif" font-weight="bold" stroke="#111" stroke-width="0.16">0.2</text>
<text x="15.4" y="265.1" font-size="3.9" fill="#111" text-anchor="end" font-family="'Liberation Sans',Arial,sans-serif" font-weight="bold" stroke="#111" stroke-width="0.16">0.3</text>
<text x="15.4" y="277.5" font-size="3.9" fill="#111" text-anchor="end" font-family="'Liberation Sans',Arial,sans-serif" font-weight="bold" stroke="#111" stroke-width="0.16">0.4</text>
<text x="28.3" y="293.4" font-size="3.9" fill="#111" text-anchor="middle" font-family="'Liberation Sans',Arial,sans-serif" font-weight="bold" stroke="#111" stroke-width="0.16">−0.4</text>
<text x="40.7" y="293.4" font-size="3.9" fill="#111" text-anchor="middle" font-family="'Liberation Sans',Arial,sans-serif" font-weight="bold" stroke="#111" stroke-width="0.16">−0.3</text>
<text x="53.1" y="293.4" font-size="3.9" fill="#111" text-anchor="middle" font-family="'Liberation Sans',Arial,sans-serif" font-weight="bold" stroke="#111" stroke-width="0.16">−0.2</text>
<text x="65.5" y="293.4" font-size="3.9" fill="#111" text-anchor="middle" font-family="'Liberation Sans',Arial,sans-serif" font-weight="bold" stroke="#111" stroke-width="0.16">−0.1</text>
<text x="77.9" y="293.4" font-size="3.9" fill="#111" text-anchor="middle" font-family="'Liberation Sans',Arial,sans-serif" font-weight="bold" stroke="#111" stroke-width="0.16">0</text>
<text x="90.3" y="293.4" font-size="3.9" fill="#111" text-anchor="middle" font-family="'Liberation Sans',Arial,sans-serif" font-weight="bold" stroke="#111" stroke-width="0.16">0.1</text>
<text x="102.7" y="293.4" font-size="3.9" fill="#111" text-anchor="middle" font-family="'Liberation Sans',Arial,sans-serif" font-weight="bold" stroke="#111" stroke-width="0.16">0.2</text>
<text x="115.1" y="293.4" font-size="3.9" fill="#111" text-anchor="middle" font-family="'Liberation Sans',Arial,sans-serif" font-weight="bold" stroke="#111" stroke-width="0.16">0.3</text>
<text x="127.5" y="293.4" font-size="3.9" fill="#111" text-anchor="middle" font-family="'Liberation Sans',Arial,sans-serif" font-weight="bold" stroke="#111" stroke-width="0.16">0.4</text>
<text x="77.9" y="300.2" font-size="4.2" fill="#111" text-anchor="middle" font-family="'Liberation Sans',Arial,sans-serif" font-weight="bold" stroke="#111" stroke-width="0.16">x (mm)</text>
<text x="8.2" y="226.5" font-size="4.2" fill="#111" text-anchor="middle" font-family="'Liberation Sans',Arial,sans-serif" font-weight="bold" transform="rotate(-90 8.2 226.5)" stroke="#111" stroke-width="0.16">y (mm)</text>
<text x="77.9" y="164.3" font-size="4.5" fill="#111" text-anchor="middle" font-family="'Liberation Sans',Arial,sans-serif" font-weight="bold" stroke="#111" stroke-width="0.16">Ideal Low-Pass Filter</text>
<defs><linearGradient id="cbd" x1="0" y1="0" x2="0" y2="1"><stop offset="0" stop-color="#f9fb15"/><stop offset="0.03" stop-color="#f6ef20"/><stop offset="0.06" stop-color="#f5e327"/><stop offset="0.09" stop-color="#f9d62d"/><stop offset="0.12" stop-color="#feca33"/><stop offset="0.16" stop-color="#febe3c"/><stop offset="0.19" stop-color="#f1ba37"/><stop offset="0.22" stop-color="#debc2a"/><stop offset="0.25" stop-color="#c8c129"/><stop offset="0.28" stop-color="#afc637"/><stop offset="0.31" stop-color="#94ca4a"/><stop offset="0.34" stop-color="#77cc60"/><stop offset="0.38" stop-color="#5ccc76"/><stop offset="0.41" stop-color="#44ca8a"/><stop offset="0.44" stop-color="#34c79c"/><stop offset="0.47" stop-color="#28c2ab"/><stop offset="0.5" stop-color="#12beb9"/><stop offset="0.53" stop-color="#01b9c6"/><stop offset="0.56" stop-color="#0cb3d3"/><stop offset="0.59" stop-color="#1aacdd"/><stop offset="0.62" stop-color="#21a3e3"/><stop offset="0.66" stop-color="#269ae9"/><stop offset="0.69" stop-color="#2c90f0"/><stop offset="0.72" stop-color="#2e85f8"/><stop offset="0.75" stop-color="#347afd"/><stop offset="0.78" stop-color="#3f6efe"/><stop offset="0.81" stop-color="#4562fc"/><stop offset="0.84" stop-color="#4757f7"/><stop offset="0.88" stop-color="#484cef"/><stop offset="0.91" stop-color="#4741e5"/><stop offset="0.94" stop-color="#4536d5"/><stop offset="0.97" stop-color="#422ebf"/><stop offset="1" stop-color="#3e26a8"/></linearGradient></defs>
<rect x="142.5" y="165.3" width="7" height="122.1" fill="url(#cbd)" stroke="#333" stroke-width="0.3"/>
<text x="151.3" y="288.5" font-size="3.6" fill="#222" text-anchor="start" font-family="'Liberation Sans',Arial,sans-serif" stroke="#222" stroke-width="0.16">0</text>
<text x="151.3" y="276.34" font-size="3.6" fill="#222" text-anchor="start" font-family="'Liberation Sans',Arial,sans-serif" stroke="#222" stroke-width="0.16">0.1</text>
<text x="151.3" y="264.18" font-size="3.6" fill="#222" text-anchor="start" font-family="'Liberation Sans',Arial,sans-serif" stroke="#222" stroke-width="0.16">0.2</text>
<text x="151.3" y="252.02" font-size="3.6" fill="#222" text-anchor="start" font-family="'Liberation Sans',Arial,sans-serif" stroke="#222" stroke-width="0.16">0.3</text>
<text x="151.3" y="239.86" font-size="3.6" fill="#222" text-anchor="start" font-family="'Liberation Sans',Arial,sans-serif" stroke="#222" stroke-width="0.16">0.4</text>
<text x="151.3" y="227.7" font-size="3.6" fill="#222" text-anchor="start" font-family="'Liberation Sans',Arial,sans-serif" stroke="#222" stroke-width="0.16">0.5</text>
<text x="151.3" y="215.54" font-size="3.6" fill="#222" text-anchor="start" font-family="'Liberation Sans',Arial,sans-serif" stroke="#222" stroke-width="0.16">0.6</text>
<text x="151.3" y="203.38" font-size="3.6" fill="#222" text-anchor="start" font-family="'Liberation Sans',Arial,sans-serif" stroke="#222" stroke-width="0.16">0.7</text>
<text x="151.3" y="191.22" font-size="3.6" fill="#222" text-anchor="start" font-family="'Liberation Sans',Arial,sans-serif" stroke="#222" stroke-width="0.16">0.8</text>
<text x="151.3" y="179.06" font-size="3.6" fill="#222" text-anchor="start" font-family="'Liberation Sans',Arial,sans-serif" stroke="#222" stroke-width="0.16">0.9</text>
<text x="151.3" y="166.9" font-size="3.6" fill="#222" text-anchor="start" font-family="'Liberation Sans',Arial,sans-serif" stroke="#222" stroke-width="0.16">1</text>
<rect x="198.2" y="165.8" width="120.1" height="120.4" fill="#3a278f"/>
<rect x="216.8" y="185" width="81.6" height="81.3" fill="#0fbc98"/>
<rect x="217.7" y="185.9" width="79.8" height="79.5" fill="none" stroke="#40d8a0" stroke-width="0.8" opacity="0.7"/>
<g transform="translate(257.2 225.4) scale(1 1.06) translate(-257.2 -225.4)">
<polygon points="288.4,225.4 282.06,214.42 269.38,214.42 263.03,225.4 269.38,236.38 282.06,236.38" fill="none" stroke="#86c8a4" stroke-width="0.7" opacity="0.55"/>
<polygon points="279.14,209.36 272.8,198.38 260.12,198.38 253.78,209.36 260.12,220.35 272.8,220.35" fill="none" stroke="#86c8a4" stroke-width="0.7" opacity="0.55"/>
<polygon points="260.62,209.36 254.28,198.38 241.6,198.38 235.26,209.36 241.6,220.35 254.28,220.35" fill="none" stroke="#86c8a4" stroke-width="0.7" opacity="0.55"/>
<polygon points="251.37,225.4 245.02,214.42 232.34,214.42 226,225.4 232.34,236.38 245.02,236.38" fill="none" stroke="#86c8a4" stroke-width="0.7" opacity="0.55"/>
<polygon points="260.62,241.44 254.28,230.45 241.6,230.45 235.26,241.44 241.6,252.42 254.28,252.42" fill="none" stroke="#86c8a4" stroke-width="0.7" opacity="0.55"/>
<polygon points="279.14,241.44 272.8,230.45 260.12,230.45 253.78,241.44 260.12,252.42 272.8,252.42" fill="none" stroke="#86c8a4" stroke-width="0.7" opacity="0.55"/>
<circle cx="264.87" cy="240.49" r="0.48" fill="#9cc4a2" opacity="0.75"/>
<circle cx="272.17" cy="251.75" r="0.6" fill="#9cc4a2" opacity="0.75"/>
<circle cx="255.27" cy="209.59" r="0.47" fill="#9cc4a2" opacity="0.75"/>
<circle cx="259.93" cy="230.01" r="0.51" fill="#9cc4a2" opacity="0.75"/>
<circle cx="243.44" cy="251.38" r="0.7" fill="#9cc4a2" opacity="0.75"/>
<circle cx="273.78" cy="204.16" r="0.57" fill="#9cc4a2" opacity="0.75"/>
<circle cx="264.53" cy="202.11" r="0.62" fill="#9cc4a2" opacity="0.75"/>
<circle cx="239.07" cy="207.65" r="0.45" fill="#5fb598" opacity="0.75"/>
<circle cx="259.65" cy="236.5" r="0.41" fill="#9cc4a2" opacity="0.75"/>
<circle cx="248.54" cy="204.56" r="0.45" fill="#9cc4a2" opacity="0.75"/>
<circle cx="244.8" cy="231.83" r="0.53" fill="#9cc4a2" opacity="0.75"/>
<circle cx="247.08" cy="213.54" r="0.42" fill="#5fb598" opacity="0.75"/>
<circle cx="277.08" cy="224.2" r="0.37" fill="#9cc4a2" opacity="0.75"/>
<circle cx="245.71" cy="224.23" r="0.65" fill="#9cc4a2" opacity="0.75"/>
<circle cx="272.79" cy="246.92" r="0.43" fill="#5fb598" opacity="0.75"/>
<circle cx="248.85" cy="230.3" r="0.74" fill="#9cc4a2" opacity="0.75"/>
<circle cx="238.26" cy="241.36" r="0.63" fill="#9cc4a2" opacity="0.75"/>
<circle cx="247.49" cy="216.34" r="0.75" fill="#9cc4a2" opacity="0.75"/>
<circle cx="258.74" cy="242.6" r="0.71" fill="#9cc4a2" opacity="0.75"/>
<circle cx="264.12" cy="251.49" r="0.4" fill="#9cc4a2" opacity="0.75"/>
<circle cx="247.21" cy="251.87" r="0.63" fill="#9cc4a2" opacity="0.75"/>
<circle cx="260.02" cy="213.7" r="0.39" fill="#5fb598" opacity="0.75"/>
<circle cx="245.77" cy="205.27" r="0.72" fill="#9cc4a2" opacity="0.75"/>
<circle cx="251.33" cy="209.01" r="0.38" fill="#5fb598" opacity="0.75"/>
<circle cx="263.06" cy="245.76" r="0.75" fill="#5fb598" opacity="0.75"/>
<circle cx="254.43" cy="220.52" r="0.64" fill="#9cc4a2" opacity="0.75"/>
<circle cx="228.04" cy="225" r="0.6" fill="#5fb598" opacity="0.75"/>
<circle cx="265.34" cy="243.37" r="0.55" fill="#9cc4a2" opacity="0.75"/>
<circle cx="232.65" cy="221.32" r="0.41" fill="#5fb598" opacity="0.75"/>
<circle cx="244.4" cy="222.48" r="0.63" fill="#5fb598" opacity="0.75"/>
<circle cx="256.46" cy="239.72" r="0.41" fill="#9cc4a2" opacity="0.75"/>
<circle cx="255.89" cy="212.36" r="0.62" fill="#9cc4a2" opacity="0.75"/>
<circle cx="251.2" cy="203.34" r="0.54" fill="#9cc4a2" opacity="0.75"/>
<circle cx="248.55" cy="243.25" r="0.66" fill="#5fb598" opacity="0.75"/>
<circle cx="274.35" cy="237.54" r="0.64" fill="#9cc4a2" opacity="0.75"/>
<circle cx="267.43" cy="241.6" r="0.55" fill="#9cc4a2" opacity="0.75"/>
<circle cx="248.68" cy="238.16" r="0.54" fill="#9cc4a2" opacity="0.75"/>
<circle cx="243.53" cy="224.51" r="0.54" fill="#5fb598" opacity="0.75"/>
<circle cx="274.03" cy="237.31" r="0.67" fill="#9cc4a2" opacity="0.75"/>
<circle cx="241.64" cy="236.11" r="0.62" fill="#5fb598" opacity="0.75"/>
<circle cx="254.89" cy="245.16" r="0.49" fill="#5fb598" opacity="0.75"/>
<circle cx="266.4" cy="243.97" r="0.73" fill="#9cc4a2" opacity="0.75"/>
<circle cx="247.71" cy="234.39" r="0.6" fill="#9cc4a2" opacity="0.75"/>
<circle cx="272.04" cy="245.88" r="0.54" fill="#9cc4a2" opacity="0.75"/>
<circle cx="247.84" cy="246.8" r="0.69" fill="#9cc4a2" opacity="0.75"/>
<circle cx="258.33" cy="227.23" r="0.71" fill="#9cc4a2" opacity="0.75"/>
<circle cx="284.49" cy="223.98" r="0.67" fill="#9cc4a2" opacity="0.75"/>
<circle cx="269.14" cy="239.11" r="0.42" fill="#5fb598" opacity="0.75"/>
<circle cx="271.57" cy="204.92" r="0.58" fill="#9cc4a2" opacity="0.75"/>
<circle cx="274.7" cy="230.44" r="0.71" fill="#9cc4a2" opacity="0.75"/>
<circle cx="267.53" cy="220.46" r="0.62" fill="#5fb598" opacity="0.75"/>
<circle cx="264.92" cy="242.54" r="0.48" fill="#9cc4a2" opacity="0.75"/>
<circle cx="265.74" cy="239.15" r="0.57" fill="#9cc4a2" opacity="0.75"/>
<circle cx="253.52" cy="234.77" r="0.56" fill="#5fb598" opacity="0.75"/>
<circle cx="239.67" cy="237" r="0.63" fill="#9cc4a2" opacity="0.75"/>
<circle cx="255.43" cy="208.32" r="0.62" fill="#9cc4a2" opacity="0.75"/>
<circle cx="245.8" cy="205.53" r="0.5" fill="#9cc4a2" opacity="0.75"/>
<circle cx="255.04" cy="217.93" r="0.5" fill="#5fb598" opacity="0.75"/>
<circle cx="264.18" cy="231.03" r="0.51" fill="#5fb598" opacity="0.75"/>
<circle cx="243.38" cy="219.79" r="0.47" fill="#9cc4a2" opacity="0.75"/>
<circle cx="264.29" cy="200.12" r="0.48" fill="#9cc4a2" opacity="0.75"/>
<circle cx="260.02" cy="215.38" r="0.7" fill="#5fb598" opacity="0.75"/>
<circle cx="277.08" cy="220.35" r="0.52" fill="#9cc4a2" opacity="0.75"/>
<circle cx="276.73" cy="234.28" r="0.7" fill="#5fb598" opacity="0.75"/>
<circle cx="249.05" cy="203.07" r="0.45" fill="#9cc4a2" opacity="0.75"/>
<circle cx="263.19" cy="229.38" r="0.55" fill="#9cc4a2" opacity="0.75"/>
<circle cx="263.98" cy="216.11" r="0.43" fill="#9cc4a2" opacity="0.75"/>
<circle cx="232.73" cy="229.51" r="0.4" fill="#9cc4a2" opacity="0.75"/>
<circle cx="264.39" cy="202.98" r="0.59" fill="#9cc4a2" opacity="0.75"/>
<circle cx="265.28" cy="249.82" r="0.72" fill="#5fb598" opacity="0.75"/>
<circle cx="249.45" cy="221.14" r="0.62" fill="#9cc4a2" opacity="0.75"/>
<circle cx="240.12" cy="212.39" r="0.65" fill="#9cc4a2" opacity="0.75"/>
<circle cx="263.18" cy="210.41" r="0.7" fill="#9cc4a2" opacity="0.75"/>
<circle cx="287.21" cy="225.17" r="0.63" fill="#5fb598" opacity="0.75"/>
<circle cx="251.93" cy="214.12" r="0.63" fill="#5fb598" opacity="0.75"/>
<circle cx="287.42" cy="224.89" r="0.49" fill="#9cc4a2" opacity="0.75"/>
<circle cx="243.87" cy="223.96" r="0.5" fill="#5fb598" opacity="0.75"/>
<circle cx="233.61" cy="232.99" r="0.36" fill="#9cc4a2" opacity="0.75"/>
<circle cx="253.67" cy="212.49" r="0.47" fill="#9cc4a2" opacity="0.75"/>
<circle cx="274.78" cy="245.79" r="0.7" fill="#9cc4a2" opacity="0.75"/>
<circle cx="274.79" cy="209.53" r="0.39" fill="#9cc4a2" opacity="0.75"/>
<circle cx="242.7" cy="203.86" r="0.49" fill="#5fb598" opacity="0.75"/>
<circle cx="263.94" cy="223.82" r="0.53" fill="#9cc4a2" opacity="0.75"/>
<circle cx="266.24" cy="231.88" r="0.56" fill="#9cc4a2" opacity="0.75"/>
<circle cx="272.39" cy="201.57" r="0.51" fill="#9cc4a2" opacity="0.75"/>
<circle cx="273.45" cy="212.96" r="0.73" fill="#5fb598" opacity="0.75"/>
<circle cx="259.29" cy="215.17" r="0.39" fill="#9cc4a2" opacity="0.75"/>
<circle cx="244.52" cy="227.26" r="0.66" fill="#9cc4a2" opacity="0.75"/>
<circle cx="254.97" cy="216.73" r="0.65" fill="#5fb598" opacity="0.75"/>
<circle cx="272.49" cy="231.07" r="0.41" fill="#5fb598" opacity="0.75"/>
<circle cx="281.41" cy="228.24" r="0.43" fill="#9cc4a2" opacity="0.75"/>
<circle cx="252.69" cy="230.12" r="0.65" fill="#5fb598" opacity="0.75"/>
<circle cx="270.19" cy="233.65" r="0.47" fill="#9cc4a2" opacity="0.75"/>
<circle cx="250.05" cy="218.65" r="0.64" fill="#9cc4a2" opacity="0.75"/>
<circle cx="244.5" cy="245.99" r="0.53" fill="#5fb598" opacity="0.75"/>
<circle cx="269.34" cy="221.21" r="0.4" fill="#5fb598" opacity="0.75"/>
<circle cx="243.87" cy="242.92" r="0.7" fill="#5fb598" opacity="0.75"/>
<circle cx="255.85" cy="228.46" r="0.45" fill="#9cc4a2" opacity="0.75"/>
<circle cx="235.58" cy="230.76" r="0.53" fill="#9cc4a2" opacity="0.75"/>
<circle cx="240.35" cy="245.34" r="0.72" fill="#9cc4a2" opacity="0.75"/>
<circle cx="275.41" cy="235.61" r="0.69" fill="#9cc4a2" opacity="0.75"/>
<circle cx="270.46" cy="202.6" r="0.55" fill="#5fb598" opacity="0.75"/>
<circle cx="244.25" cy="251.48" r="0.4" fill="#9cc4a2" opacity="0.75"/>
<circle cx="235.34" cy="232.3" r="0.69" fill="#9cc4a2" opacity="0.75"/>
<circle cx="251.83" cy="204.26" r="0.66" fill="#5fb598" opacity="0.75"/>
<circle cx="232.75" cy="217.86" r="0.66" fill="#9cc4a2" opacity="0.75"/>
<circle cx="261.9" cy="240.52" r="0.65" fill="#9cc4a2" opacity="0.75"/>
<circle cx="252.94" cy="213.83" r="0.44" fill="#9cc4a2" opacity="0.75"/>
<circle cx="263.45" cy="224.75" r="0.72" fill="#9cc4a2" opacity="0.75"/>
<circle cx="235.43" cy="233.6" r="0.36" fill="#9cc4a2" opacity="0.75"/>
<circle cx="260.63" cy="232.94" r="0.75" fill="#9cc4a2" opacity="0.75"/>
<circle cx="242.43" cy="228.62" r="0.55" fill="#9cc4a2" opacity="0.75"/>
<circle cx="241.86" cy="241.04" r="0.6" fill="#9cc4a2" opacity="0.75"/>
<circle cx="240.63" cy="217.36" r="0.55" fill="#5fb598" opacity="0.75"/>
<circle cx="271.97" cy="205.39" r="0.7" fill="#5fb598" opacity="0.75"/>
<circle cx="270.51" cy="235.07" r="0.64" fill="#5fb598" opacity="0.75"/>
<circle cx="263.06" cy="209.09" r="0.43" fill="#9cc4a2" opacity="0.75"/>
<circle cx="280.72" cy="224.18" r="0.46" fill="#9cc4a2" opacity="0.75"/>
<circle cx="246.17" cy="243.9" r="0.73" fill="#9cc4a2" opacity="0.75"/>
<circle cx="264.99" cy="216.31" r="0.68" fill="#5fb598" opacity="0.75"/>
<circle cx="240.67" cy="215" r="0.51" fill="#9cc4a2" opacity="0.75"/>
<circle cx="264.3" cy="215.96" r="0.42" fill="#9cc4a2" opacity="0.75"/>
<circle cx="250.07" cy="202.71" r="0.63" fill="#9cc4a2" opacity="0.75"/>
<circle cx="277.86" cy="234.63" r="0.59" fill="#9cc4a2" opacity="0.75"/>
<circle cx="276.2" cy="221.24" r="0.61" fill="#5fb598" opacity="0.75"/>
<circle cx="279.14" cy="226.49" r="0.66" fill="#9cc4a2" opacity="0.75"/>
<circle cx="262.98" cy="229.97" r="0.58" fill="#9cc4a2" opacity="0.75"/>
<circle cx="272.19" cy="218.88" r="0.46" fill="#9cc4a2" opacity="0.75"/>
<circle cx="281.49" cy="224.21" r="0.38" fill="#9cc4a2" opacity="0.75"/>
<circle cx="264.65" cy="220.95" r="0.73" fill="#9cc4a2" opacity="0.75"/>
<circle cx="249.38" cy="218.27" r="0.57" fill="#9cc4a2" opacity="0.75"/>
<circle cx="241.85" cy="211.51" r="0.7" fill="#9cc4a2" opacity="0.75"/>
<circle cx="240.67" cy="224.28" r="0.52" fill="#9cc4a2" opacity="0.75"/>
<circle cx="268.91" cy="236.25" r="0.74" fill="#5fb598" opacity="0.75"/>
<circle cx="244.16" cy="236.29" r="0.41" fill="#5fb598" opacity="0.75"/>
<circle cx="271.51" cy="204.39" r="0.61" fill="#9cc4a2" opacity="0.75"/>
<circle cx="248.73" cy="213.66" r="0.63" fill="#9cc4a2" opacity="0.75"/>
<circle cx="255.21" cy="211.87" r="0.65" fill="#9cc4a2" opacity="0.75"/>
<circle cx="271.7" cy="239" r="0.58" fill="#9cc4a2" opacity="0.75"/>
<circle cx="236.19" cy="209.21" r="0.71" fill="#5fb598" opacity="0.75"/>
<circle cx="266.3" cy="221.07" r="0.65" fill="#9cc4a2" opacity="0.75"/>
<circle cx="258.38" cy="216.04" r="0.64" fill="#9cc4a2" opacity="0.75"/>
<circle cx="282.08" cy="224.85" r="0.57" fill="#9cc4a2" opacity="0.75"/>
<circle cx="241.94" cy="219.63" r="0.54" fill="#9cc4a2" opacity="0.75"/>
<circle cx="237.19" cy="225.94" r="0.38" fill="#9cc4a2" opacity="0.75"/>
<circle cx="251.11" cy="227.35" r="0.44" fill="#9cc4a2" opacity="0.75"/>
<circle cx="232.74" cy="228.02" r="0.48" fill="#9cc4a2" opacity="0.75"/>
<circle cx="283.49" cy="231.53" r="0.36" fill="#5fb598" opacity="0.75"/>
<circle cx="256.36" cy="229.86" r="0.37" fill="#5fb598" opacity="0.75"/>
<circle cx="249.5" cy="233.21" r="0.52" fill="#9cc4a2" opacity="0.75"/>
<circle cx="271.28" cy="251.17" r="0.52" fill="#9cc4a2" opacity="0.75"/>
<circle cx="245.19" cy="222.22" r="0.37" fill="#9cc4a2" opacity="0.75"/>
<circle cx="277.57" cy="208.18" r="0.35" fill="#9cc4a2" opacity="0.75"/>
<circle cx="252.75" cy="230.2" r="0.63" fill="#5fb598" opacity="0.75"/>
<circle cx="238.47" cy="212.05" r="0.42" fill="#9cc4a2" opacity="0.75"/>
<circle cx="249.32" cy="200.35" r="0.73" fill="#9cc4a2" opacity="0.75"/>
<circle cx="252.24" cy="213.79" r="0.4" fill="#9cc4a2" opacity="0.75"/>
<circle cx="272.94" cy="228.9" r="0.7" fill="#9cc4a2" opacity="0.75"/>
<circle cx="281.92" cy="235.02" r="0.62" fill="#5fb598" opacity="0.75"/>
<circle cx="273.41" cy="230.06" r="0.6" fill="#9cc4a2" opacity="0.75"/>
<circle cx="253.59" cy="245.17" r="0.54" fill="#9cc4a2" opacity="0.75"/>
<circle cx="271.43" cy="237.95" r="0.54" fill="#9cc4a2" opacity="0.75"/>
<circle cx="242.7" cy="244.87" r="0.74" fill="#9cc4a2" opacity="0.75"/>
<circle cx="249.86" cy="202.33" r="0.55" fill="#5fb598" opacity="0.75"/>
<circle cx="242.39" cy="236.38" r="0.55" fill="#9cc4a2" opacity="0.75"/>
<circle cx="273.66" cy="228.97" r="0.62" fill="#9cc4a2" opacity="0.75"/>
<circle cx="234.12" cy="216.49" r="0.43" fill="#9cc4a2" opacity="0.75"/>
<circle cx="264.19" cy="208.62" r="0.54" fill="#9cc4a2" opacity="0.75"/>
<circle cx="252.76" cy="216.81" r="0.49" fill="#5fb598" opacity="0.75"/>
<circle cx="262.47" cy="245.8" r="0.55" fill="#9cc4a2" opacity="0.75"/>
<circle cx="271.35" cy="200.15" r="0.53" fill="#9cc4a2" opacity="0.75"/>
<circle cx="259.09" cy="204.88" r="0.55" fill="#9cc4a2" opacity="0.75"/>
<circle cx="270.27" cy="222.04" r="0.58" fill="#9cc4a2" opacity="0.75"/>
<circle cx="283.1" cy="222.97" r="0.62" fill="#9cc4a2" opacity="0.75"/>
<circle cx="253.09" cy="221.74" r="0.63" fill="#9cc4a2" opacity="0.75"/>
<circle cx="263.19" cy="200.66" r="0.61" fill="#9cc4a2" opacity="0.75"/>
<circle cx="276.81" cy="220.37" r="0.54" fill="#9cc4a2" opacity="0.75"/>
<circle cx="250.51" cy="207.65" r="0.36" fill="#9cc4a2" opacity="0.75"/>
<circle cx="243.29" cy="206.75" r="0.53" fill="#5fb598" opacity="0.75"/>
<circle cx="261.1" cy="216.48" r="0.67" fill="#5fb598" opacity="0.75"/>
<circle cx="272.87" cy="209.27" r="0.67" fill="#5fb598" opacity="0.75"/>
<circle cx="247.95" cy="209.69" r="0.43" fill="#9cc4a2" opacity="0.75"/>
<circle cx="279.03" cy="232.77" r="0.41" fill="#5fb598" opacity="0.75"/>
<circle cx="251.01" cy="203.13" r="0.43" fill="#9cc4a2" opacity="0.75"/>
<circle cx="277.9" cy="224.78" r="0.41" fill="#5fb598" opacity="0.75"/>
<circle cx="268.61" cy="248.06" r="0.43" fill="#9cc4a2" opacity="0.75"/>
<circle cx="264.88" cy="244.14" r="0.59" fill="#5fb598" opacity="0.75"/>
<circle cx="257.93" cy="230.81" r="0.37" fill="#9cc4a2" opacity="0.75"/>
<circle cx="237.53" cy="218.48" r="0.56" fill="#9cc4a2" opacity="0.75"/>
<circle cx="245.47" cy="218.09" r="0.56" fill="#5fb598" opacity="0.75"/>
<circle cx="255.71" cy="238.09" r="0.68" fill="#5fb598" opacity="0.75"/>
<circle cx="269.23" cy="236.02" r="0.48" fill="#9cc4a2" opacity="0.75"/>
<circle cx="259.49" cy="244.04" r="0.54" fill="#9cc4a2" opacity="0.75"/>
<circle cx="248.64" cy="231.24" r="0.6" fill="#9cc4a2" opacity="0.75"/>
<circle cx="268.4" cy="226.79" r="0.65" fill="#5fb598" opacity="0.75"/>
<circle cx="243.73" cy="199.05" r="0.64" fill="#9cc4a2" opacity="0.75"/>
<circle cx="262.22" cy="241.6" r="0.48" fill="#5fb598" opacity="0.75"/>
<circle cx="270.58" cy="213.34" r="0.61" fill="#9cc4a2" opacity="0.75"/>
<circle cx="273.01" cy="236" r="0.7" fill="#9cc4a2" opacity="0.75"/>
<circle cx="268.91" cy="246.51" r="0.56" fill="#9cc4a2" opacity="0.75"/>
<circle cx="272.09" cy="232.33" r="0.68" fill="#9cc4a2" opacity="0.75"/>
<circle cx="239.03" cy="226.44" r="0.65" fill="#5fb598" opacity="0.75"/>
<circle cx="250.35" cy="205.32" r="0.56" fill="#9cc4a2" opacity="0.75"/>
<circle cx="266.75" cy="250.33" r="0.54" fill="#9cc4a2" opacity="0.75"/>
<circle cx="282.79" cy="232.48" r="0.67" fill="#5fb598" opacity="0.75"/>
<circle cx="250.13" cy="201" r="0.36" fill="#9cc4a2" opacity="0.75"/>
<circle cx="268.98" cy="228.73" r="0.54" fill="#9cc4a2" opacity="0.75"/>
<circle cx="270.63" cy="217.54" r="0.53" fill="#9cc4a2" opacity="0.75"/>
<circle cx="245.07" cy="210.9" r="0.45" fill="#5fb598" opacity="0.75"/>
<circle cx="264.82" cy="250.19" r="0.58" fill="#5fb598" opacity="0.75"/>
<circle cx="236.45" cy="233.69" r="0.43" fill="#9cc4a2" opacity="0.75"/>
<circle cx="273.83" cy="208.22" r="0.6" fill="#5fb598" opacity="0.75"/>
<circle cx="229.91" cy="229.51" r="0.52" fill="#9cc4a2" opacity="0.75"/>
<circle cx="271.43" cy="220.21" r="0.5" fill="#9cc4a2" opacity="0.75"/>
<circle cx="252.54" cy="227.2" r="0.74" fill="#9cc4a2" opacity="0.75"/>
<circle cx="243.52" cy="231.97" r="0.69" fill="#5fb598" opacity="0.75"/>
<circle cx="261.1" cy="231.86" r="0.52" fill="#9cc4a2" opacity="0.75"/>
<circle cx="263.1" cy="234.53" r="0.68" fill="#5fb598" opacity="0.75"/>
<circle cx="269.07" cy="239.68" r="0.51" fill="#9cc4a2" opacity="0.75"/>
<circle cx="229.83" cy="224.45" r="0.64" fill="#9cc4a2" opacity="0.75"/>
<circle cx="245.87" cy="247.26" r="0.46" fill="#9cc4a2" opacity="0.75"/>
<circle cx="240.29" cy="237.68" r="0.62" fill="#9cc4a2" opacity="0.75"/>
<circle cx="278.46" cy="223.95" r="0.72" fill="#9cc4a2" opacity="0.75"/>
<circle cx="235.48" cy="232.62" r="0.54" fill="#5fb598" opacity="0.75"/>
<circle cx="271.94" cy="245.14" r="0.41" fill="#9cc4a2" opacity="0.75"/>
<circle cx="276.15" cy="238.7" r="0.74" fill="#9cc4a2" opacity="0.75"/>
<circle cx="249.36" cy="222.82" r="0.41" fill="#9cc4a2" opacity="0.75"/>
<circle cx="268.46" cy="240.56" r="0.36" fill="#5fb598" opacity="0.75"/>
<circle cx="231.23" cy="219.36" r="0.51" fill="#5fb598" opacity="0.75"/>
<circle cx="259.91" cy="217.61" r="0.68" fill="#9cc4a2" opacity="0.75"/>
<circle cx="233.34" cy="231.46" r="0.47" fill="#9cc4a2" opacity="0.75"/>
<circle cx="249.36" cy="236.86" r="0.46" fill="#9cc4a2" opacity="0.75"/>
<circle cx="273.41" cy="239.21" r="0.45" fill="#9cc4a2" opacity="0.75"/>
<circle cx="244.47" cy="201.49" r="0.53" fill="#9cc4a2" opacity="0.75"/>
<circle cx="255.89" cy="216.3" r="0.74" fill="#9cc4a2" opacity="0.75"/>
<circle cx="272.01" cy="251.51" r="0.4" fill="#5fb598" opacity="0.75"/>
<circle cx="249.84" cy="212.33" r="0.47" fill="#9cc4a2" opacity="0.75"/>
<circle cx="257.12" cy="237.68" r="0.47" fill="#5fb598" opacity="0.75"/>
<circle cx="275.23" cy="230.12" r="0.72" fill="#9cc4a2" opacity="0.75"/>
<circle cx="244.47" cy="215.23" r="0.39" fill="#9cc4a2" opacity="0.75"/>
<circle cx="278.92" cy="226.6" r="0.63" fill="#9cc4a2" opacity="0.75"/>
<circle cx="240.84" cy="235.77" r="0.46" fill="#9cc4a2" opacity="0.75"/>
<circle cx="231.99" cy="224" r="0.37" fill="#9cc4a2" opacity="0.75"/>
<circle cx="273.79" cy="216.73" r="0.68" fill="#9cc4a2" opacity="0.75"/>
<circle cx="254.59" cy="218.09" r="0.54" fill="#9cc4a2" opacity="0.75"/>
<circle cx="253.62" cy="223.65" r="0.64" fill="#9cc4a2" opacity="0.75"/>
<circle cx="250.51" cy="242.77" r="0.5" fill="#5fb598" opacity="0.75"/>
<circle cx="253.12" cy="231.24" r="0.47" fill="#9cc4a2" opacity="0.75"/>
<circle cx="282.31" cy="234.46" r="0.61" fill="#5fb598" opacity="0.75"/>
<circle cx="251.79" cy="248.75" r="0.37" fill="#9cc4a2" opacity="0.75"/>
<circle cx="273.19" cy="249.85" r="0.7" fill="#9cc4a2" opacity="0.75"/>
<circle cx="252.3" cy="211.1" r="0.51" fill="#9cc4a2" opacity="0.75"/>
<circle cx="255.32" cy="212.08" r="0.47" fill="#9cc4a2" opacity="0.75"/>
<circle cx="267.59" cy="201.9" r="0.72" fill="#9cc4a2" opacity="0.75"/>
<circle cx="236.56" cy="222.76" r="0.74" fill="#9cc4a2" opacity="0.75"/>
<circle cx="263.37" cy="202.71" r="0.38" fill="#9cc4a2" opacity="0.75"/>
<circle cx="237.53" cy="220.97" r="0.5" fill="#9cc4a2" opacity="0.75"/>
<circle cx="242.64" cy="241.24" r="0.38" fill="#5fb598" opacity="0.75"/>
<circle cx="249.27" cy="242.57" r="0.71" fill="#9cc4a2" opacity="0.75"/>
<circle cx="235.48" cy="226.54" r="0.38" fill="#5fb598" opacity="0.75"/>
<circle cx="266.15" cy="217.6" r="0.42" fill="#9cc4a2" opacity="0.75"/>
<circle cx="249.01" cy="224.01" r="0.44" fill="#9cc4a2" opacity="0.75"/>
<circle cx="241.03" cy="229.69" r="0.36" fill="#9cc4a2" opacity="0.75"/>
<circle cx="242.42" cy="228.23" r="0.66" fill="#9cc4a2" opacity="0.75"/>
<circle cx="271.64" cy="202.54" r="0.55" fill="#9cc4a2" opacity="0.75"/>
<circle cx="256.02" cy="238.24" r="0.67" fill="#5fb598" opacity="0.75"/>
<circle cx="252.14" cy="225.66" r="0.7" fill="#9cc4a2" opacity="0.75"/>
<circle cx="264.1" cy="243.68" r="0.41" fill="#5fb598" opacity="0.75"/>
<circle cx="229.5" cy="225.43" r="0.38" fill="#5fb598" opacity="0.75"/>
<circle cx="244.58" cy="222.28" r="0.47" fill="#5fb598" opacity="0.75"/>
<circle cx="249.12" cy="227.28" r="0.46" fill="#5fb598" opacity="0.75"/>
<circle cx="244.83" cy="204.6" r="0.55" fill="#9cc4a2" opacity="0.75"/>
<circle cx="254" cy="240.14" r="0.55" fill="#9cc4a2" opacity="0.75"/>
<circle cx="258.99" cy="218.46" r="0.41" fill="#9cc4a2" opacity="0.75"/>
<circle cx="260.43" cy="245.97" r="0.56" fill="#9cc4a2" opacity="0.75"/>
<circle cx="234.61" cy="216.1" r="0.49" fill="#9cc4a2" opacity="0.75"/>
<circle cx="256.84" cy="229.51" r="0.43" fill="#9cc4a2" opacity="0.75"/>
<circle cx="238.94" cy="222.53" r="0.45" fill="#5fb598" opacity="0.75"/>
<circle cx="247.35" cy="203.17" r="0.43" fill="#9cc4a2" opacity="0.75"/>
<circle cx="243.21" cy="243.1" r="0.38" fill="#9cc4a2" opacity="0.75"/>
<circle cx="272.25" cy="210.56" r="0.57" fill="#9cc4a2" opacity="0.75"/>
<circle cx="277.74" cy="233.25" r="0.4" fill="#5fb598" opacity="0.75"/>
<circle cx="250.25" cy="233.44" r="0.47" fill="#9cc4a2" opacity="0.75"/>
<circle cx="241.33" cy="210.64" r="0.51" fill="#5fb598" opacity="0.75"/>
<circle cx="280.69" cy="221.57" r="0.65" fill="#5fb598" opacity="0.75"/>
<circle cx="272.16" cy="229.22" r="0.57" fill="#9cc4a2" opacity="0.75"/>
<circle cx="277.42" cy="225.05" r="0.55" fill="#9cc4a2" opacity="0.75"/>
<circle cx="262.74" cy="201.53" r="0.62" fill="#5fb598" opacity="0.75"/>
<circle cx="271" cy="232.35" r="0.72" fill="#5fb598" opacity="0.75"/>
<circle cx="264.19" cy="208.02" r="0.61" fill="#5fb598" opacity="0.75"/>
<circle cx="254.72" cy="234.69" r="0.47" fill="#9cc4a2" opacity="0.75"/>
<circle cx="273.08" cy="210.34" r="0.42" fill="#5fb598" opacity="0.75"/>
<circle cx="273.31" cy="226.38" r="0.55" fill="#9cc4a2" opacity="0.75"/>
<circle cx="282.28" cy="223.25" r="0.74" fill="#9cc4a2" opacity="0.75"/>
<circle cx="248.01" cy="199.14" r="0.43" fill="#5fb598" opacity="0.75"/>
<circle cx="252.53" cy="232.99" r="0.6" fill="#9cc4a2" opacity="0.75"/>
<circle cx="266.6" cy="205.11" r="0.7" fill="#9cc4a2" opacity="0.75"/>
<circle cx="234.66" cy="224.85" r="0.46" fill="#9cc4a2" opacity="0.75"/>
<circle cx="268.88" cy="222.1" r="0.43" fill="#9cc4a2" opacity="0.75"/>
<circle cx="261.77" cy="251.12" r="0.54" fill="#9cc4a2" opacity="0.75"/>
<circle cx="256.81" cy="227.65" r="0.4" fill="#9cc4a2" opacity="0.75"/>
<circle cx="282.17" cy="228.85" r="0.58" fill="#5fb598" opacity="0.75"/>
<circle cx="267.33" cy="220.38" r="0.67" fill="#5fb598" opacity="0.75"/>
<circle cx="274.94" cy="246.36" r="0.58" fill="#5fb598" opacity="0.75"/>
<circle cx="244.32" cy="200.93" r="0.48" fill="#9cc4a2" opacity="0.75"/>
<circle cx="242.17" cy="216.51" r="0.71" fill="#9cc4a2" opacity="0.75"/>
<circle cx="265.27" cy="234.18" r="0.6" fill="#9cc4a2" opacity="0.75"/>
<circle cx="274.04" cy="215.19" r="0.37" fill="#9cc4a2" opacity="0.75"/>
<circle cx="232.42" cy="233.64" r="0.67" fill="#5fb598" opacity="0.75"/>
<circle cx="278.69" cy="230.55" r="0.52" fill="#5fb598" opacity="0.75"/>
<circle cx="249.97" cy="233.91" r="0.37" fill="#5fb598" opacity="0.75"/>
<circle cx="271.18" cy="210.47" r="0.62" fill="#5fb598" opacity="0.75"/>
<circle cx="251.48" cy="214.75" r="0.53" fill="#9cc4a2" opacity="0.75"/>
<circle cx="270.73" cy="219.82" r="0.68" fill="#9cc4a2" opacity="0.75"/>
<circle cx="244.81" cy="205.44" r="0.42" fill="#5fb598" opacity="0.75"/>
<circle cx="281.93" cy="225.8" r="0.7" fill="#9cc4a2" opacity="0.75"/>
<circle cx="232.5" cy="220.17" r="0.57" fill="#9cc4a2" opacity="0.75"/>
<circle cx="261.25" cy="212.29" r="0.47" fill="#5fb598" opacity="0.75"/>
<circle cx="232.73" cy="226.12" r="0.46" fill="#5fb598" opacity="0.75"/>
<circle cx="253.3" cy="211.18" r="0.51" fill="#9cc4a2" opacity="0.75"/>
<circle cx="252.7" cy="207.26" r="0.73" fill="#9cc4a2" opacity="0.75"/>
<circle cx="249.82" cy="233.75" r="0.39" fill="#9cc4a2" opacity="0.75"/>
<circle cx="276.6" cy="227.21" r="0.49" fill="#9cc4a2" opacity="0.75"/>
<circle cx="284.59" cy="223.28" r="0.41" fill="#5fb598" opacity="0.75"/>
<circle cx="253.65" cy="251.46" r="0.45" fill="#5fb598" opacity="0.75"/>
<circle cx="261.82" cy="225.41" r="0.44" fill="#9cc4a2" opacity="0.75"/>
<circle cx="243.73" cy="240.64" r="0.35" fill="#9cc4a2" opacity="0.75"/>
<circle cx="241.99" cy="223.56" r="0.73" fill="#9cc4a2" opacity="0.75"/>
<circle cx="273.33" cy="231.94" r="0.45" fill="#9cc4a2" opacity="0.75"/>
<circle cx="269.37" cy="239.69" r="0.61" fill="#9cc4a2" opacity="0.75"/>
<circle cx="231.6" cy="222.05" r="0.42" fill="#9cc4a2" opacity="0.75"/>
<circle cx="264.66" cy="247.7" r="0.63" fill="#9cc4a2" opacity="0.75"/>
<circle cx="232.57" cy="230.42" r="0.57" fill="#9cc4a2" opacity="0.75"/>
<circle cx="241.72" cy="216.43" r="0.57" fill="#9cc4a2" opacity="0.75"/>
<circle cx="247" cy="231.12" r="0.72" fill="#5fb598" opacity="0.75"/>
<circle cx="265.88" cy="224.7" r="0.58" fill="#9cc4a2" opacity="0.75"/>
<circle cx="243.6" cy="215.03" r="0.51" fill="#5fb598" opacity="0.75"/>
<circle cx="252.21" cy="220.07" r="0.58" fill="#5fb598" opacity="0.75"/>
<circle cx="266.88" cy="241.44" r="0.53" fill="#9cc4a2" opacity="0.75"/>
<circle cx="279.23" cy="235.47" r="0.64" fill="#9cc4a2" opacity="0.75"/>
<circle cx="252.26" cy="246.47" r="0.49" fill="#9cc4a2" opacity="0.75"/>
<circle cx="268.17" cy="215.41" r="0.43" fill="#5fb598" opacity="0.75"/>
<circle cx="271.67" cy="225.72" r="0.47" fill="#5fb598" opacity="0.75"/>
<circle cx="270.4" cy="232.54" r="0.37" fill="#5fb598" opacity="0.75"/>
<circle cx="275.35" cy="242.34" r="0.54" fill="#5fb598" opacity="0.75"/>
<circle cx="259.4" cy="224.06" r="0.39" fill="#9cc4a2" opacity="0.75"/>
<circle cx="240.86" cy="245.94" r="0.67" fill="#9cc4a2" opacity="0.75"/>
<circle cx="266.62" cy="218.22" r="0.39" fill="#9cc4a2" opacity="0.75"/>
<circle cx="266.23" cy="208.49" r="0.66" fill="#5fb598" opacity="0.75"/>
<circle cx="266.97" cy="230.48" r="0.38" fill="#9cc4a2" opacity="0.75"/>
<circle cx="272.39" cy="225.64" r="0.72" fill="#9cc4a2" opacity="0.75"/>
<circle cx="253.14" cy="213.32" r="0.38" fill="#5fb598" opacity="0.75"/>
<circle cx="271.88" cy="217.46" r="0.68" fill="#9cc4a2" opacity="0.75"/>
<circle cx="263.24" cy="241.48" r="0.63" fill="#5fb598" opacity="0.75"/>
<circle cx="253.74" cy="237.02" r="0.68" fill="#9cc4a2" opacity="0.75"/>
<circle cx="254.59" cy="221.56" r="0.64" fill="#5fb598" opacity="0.75"/>
<circle cx="276.1" cy="223.94" r="0.67" fill="#9cc4a2" opacity="0.75"/>
<circle cx="275.62" cy="242.09" r="0.51" fill="#5fb598" opacity="0.75"/>
<circle cx="264.91" cy="246.29" r="0.75" fill="#5fb598" opacity="0.75"/>
<circle cx="264.32" cy="238.88" r="0.55" fill="#5fb598" opacity="0.75"/>
<circle cx="279.1" cy="232.72" r="0.7" fill="#9cc4a2" opacity="0.75"/>
<circle cx="232.25" cy="217.25" r="0.4" fill="#9cc4a2" opacity="0.75"/>
<circle cx="244.72" cy="239.68" r="0.4" fill="#9cc4a2" opacity="0.75"/>
<circle cx="250.26" cy="204.56" r="0.58" fill="#9cc4a2" opacity="0.75"/>
<circle cx="269.01" cy="207.74" r="0.61" fill="#5fb598" opacity="0.75"/>
<circle cx="251.12" cy="222.34" r="0.73" fill="#9cc4a2" opacity="0.75"/>
<circle cx="254.44" cy="242.1" r="0.73" fill="#9cc4a2" opacity="0.75"/>
<circle cx="269.27" cy="247.88" r="0.49" fill="#5fb598" opacity="0.75"/>
<circle cx="268.62" cy="241.79" r="0.74" fill="#9cc4a2" opacity="0.75"/>
<circle cx="275.49" cy="220.16" r="0.67" fill="#5fb598" opacity="0.75"/>
<circle cx="267.17" cy="235.28" r="0.48" fill="#9cc4a2" opacity="0.75"/>
<circle cx="253.67" cy="206.1" r="0.73" fill="#9cc4a2" opacity="0.75"/>
<circle cx="246.43" cy="209.82" r="0.4" fill="#5fb598" opacity="0.75"/>
<circle cx="268.55" cy="242.21" r="0.58" fill="#9cc4a2" opacity="0.75"/>
<circle cx="237.99" cy="227.49" r="0.67" fill="#9cc4a2" opacity="0.75"/>
<circle cx="278.43" cy="217.02" r="0.41" fill="#9cc4a2" opacity="0.75"/>
<circle cx="231.91" cy="231.99" r="0.65" fill="#9cc4a2" opacity="0.75"/>
<circle cx="248.61" cy="203.18" r="0.55" fill="#9cc4a2" opacity="0.75"/>
<circle cx="235.29" cy="220.74" r="0.75" fill="#9cc4a2" opacity="0.75"/>
<circle cx="273.24" cy="224.01" r="0.46" fill="#5fb598" opacity="0.75"/>
<circle cx="276.13" cy="222.36" r="0.73" fill="#9cc4a2" opacity="0.75"/>
<circle cx="283.33" cy="232.14" r="0.5" fill="#5fb598" opacity="0.75"/>
<circle cx="259.51" cy="204.85" r="0.62" fill="#9cc4a2" opacity="0.75"/>
<circle cx="252.61" cy="221.68" r="0.66" fill="#9cc4a2" opacity="0.75"/>
<circle cx="277.34" cy="208.53" r="0.57" fill="#9cc4a2" opacity="0.75"/>
<circle cx="244.39" cy="245.16" r="0.66" fill="#9cc4a2" opacity="0.75"/>
<circle cx="230.42" cy="227.71" r="0.39" fill="#9cc4a2" opacity="0.75"/>
<circle cx="239.7" cy="235.71" r="0.37" fill="#5fb598" opacity="0.75"/>
<circle cx="263.09" cy="200.09" r="0.43" fill="#9cc4a2" opacity="0.75"/>
<circle cx="271.57" cy="219.62" r="0.45" fill="#9cc4a2" opacity="0.75"/>
<circle cx="246.01" cy="247.65" r="0.6" fill="#9cc4a2" opacity="0.75"/>
<circle cx="274.59" cy="213.52" r="0.57" fill="#5fb598" opacity="0.75"/>
<circle cx="268.29" cy="201.91" r="0.41" fill="#9cc4a2" opacity="0.75"/>
<circle cx="265.98" cy="251.36" r="0.43" fill="#9cc4a2" opacity="0.75"/>
<circle cx="258.02" cy="223.5" r="0.35" fill="#5fb598" opacity="0.75"/>
<circle cx="253.65" cy="203.63" r="0.74" fill="#9cc4a2" opacity="0.75"/>
<circle cx="243.36" cy="222.25" r="0.68" fill="#9cc4a2" opacity="0.75"/>
<circle cx="241.2" cy="212.31" r="0.43" fill="#5fb598" opacity="0.75"/>
<circle cx="247.37" cy="207.24" r="0.4" fill="#9cc4a2" opacity="0.75"/>
<circle cx="268.55" cy="223.01" r="0.62" fill="#9cc4a2" opacity="0.75"/>
<circle cx="246.47" cy="237.01" r="0.44" fill="#9cc4a2" opacity="0.75"/>
<circle cx="254.26" cy="248.6" r="0.6" fill="#9cc4a2" opacity="0.75"/>
<circle cx="243.82" cy="210.69" r="0.59" fill="#5fb598" opacity="0.75"/>
<circle cx="277.29" cy="225.55" r="0.36" fill="#5fb598" opacity="0.75"/>
<circle cx="247.64" cy="225.83" r="0.74" fill="#9cc4a2" opacity="0.75"/>
<circle cx="278.78" cy="229.75" r="0.58" fill="#9cc4a2" opacity="0.75"/>
<circle cx="254.17" cy="235.19" r="0.7" fill="#9cc4a2" opacity="0.75"/>
<circle cx="264.38" cy="219.5" r="0.39" fill="#9cc4a2" opacity="0.75"/>
<circle cx="252.6" cy="202.42" r="0.53" fill="#9cc4a2" opacity="0.75"/>
<circle cx="253.4" cy="249.05" r="0.43" fill="#5fb598" opacity="0.75"/>
<circle cx="245.1" cy="216.99" r="0.56" fill="#9cc4a2" opacity="0.75"/>
<circle cx="263.65" cy="231.04" r="0.65" fill="#9cc4a2" opacity="0.75"/>
<circle cx="236.94" cy="222.02" r="0.72" fill="#5fb598" opacity="0.75"/>
<circle cx="243.75" cy="235.17" r="0.45" fill="#9cc4a2" opacity="0.75"/>
<circle cx="269.28" cy="226.03" r="0.37" fill="#5fb598" opacity="0.75"/>
<circle cx="264.65" cy="247.08" r="0.74" fill="#9cc4a2" opacity="0.75"/>
<circle cx="237.07" cy="223.81" r="0.74" fill="#9cc4a2" opacity="0.75"/>
<circle cx="245.94" cy="233.2" r="0.7" fill="#5fb598" opacity="0.75"/>
<circle cx="249.12" cy="243.11" r="0.72" fill="#9cc4a2" opacity="0.75"/>
<circle cx="250.35" cy="247.67" r="0.55" fill="#9cc4a2" opacity="0.75"/>
<circle cx="272.64" cy="239.58" r="0.73" fill="#9cc4a2" opacity="0.75"/>
<circle cx="254.56" cy="211.54" r="0.58" fill="#9cc4a2" opacity="0.75"/>
<circle cx="236.82" cy="219.89" r="0.42" fill="#9cc4a2" opacity="0.75"/>
<circle cx="284.15" cy="219.28" r="0.47" fill="#9cc4a2" opacity="0.75"/>
<circle cx="241.93" cy="232.85" r="0.51" fill="#9cc4a2" opacity="0.75"/>
<circle cx="253.29" cy="232.49" r="0.64" fill="#9cc4a2" opacity="0.75"/>
<circle cx="254.36" cy="212.07" r="0.73" fill="#5fb598" opacity="0.75"/>
<circle cx="267.12" cy="209.41" r="0.45" fill="#9cc4a2" opacity="0.75"/>
<circle cx="257.16" cy="230.45" r="0.63" fill="#5fb598" opacity="0.75"/>
<circle cx="274.59" cy="213.32" r="0.41" fill="#9cc4a2" opacity="0.75"/>
<circle cx="247.14" cy="232.38" r="0.6" fill="#9cc4a2" opacity="0.75"/>
<circle cx="228.83" cy="225.37" r="0.72" fill="#9cc4a2" opacity="0.75"/>
<circle cx="243.06" cy="227.03" r="0.63" fill="#9cc4a2" opacity="0.75"/>
<circle cx="239.79" cy="222.66" r="0.71" fill="#5fb598" opacity="0.75"/>
<circle cx="245.46" cy="209.66" r="0.74" fill="#9cc4a2" opacity="0.75"/>
<circle cx="274.84" cy="210.11" r="0.68" fill="#5fb598" opacity="0.75"/>
<circle cx="270.92" cy="224.84" r="0.39" fill="#9cc4a2" opacity="0.75"/>
<circle cx="271.52" cy="239.84" r="0.62" fill="#5fb598" opacity="0.75"/>
<circle cx="282.89" cy="228.97" r="0.36" fill="#5fb598" opacity="0.75"/>
<circle cx="249.92" cy="229.97" r="0.61" fill="#9cc4a2" opacity="0.75"/>
<circle cx="242.22" cy="222.75" r="0.41" fill="#9cc4a2" opacity="0.75"/>
<circle cx="241.43" cy="217.17" r="0.55" fill="#9cc4a2" opacity="0.75"/>
<circle cx="285.72" cy="224.59" r="0.71" fill="#5fb598" opacity="0.75"/>
<circle cx="262.97" cy="214.31" r="0.42" fill="#9cc4a2" opacity="0.75"/>
<circle cx="250.5" cy="213.99" r="0.59" fill="#5fb598" opacity="0.75"/>
<circle cx="265.58" cy="247.56" r="0.74" fill="#5fb598" opacity="0.75"/>
<circle cx="275.33" cy="212.62" r="0.37" fill="#9cc4a2" opacity="0.75"/>
<circle cx="262.47" cy="208.43" r="0.41" fill="#5fb598" opacity="0.75"/>
<circle cx="240.25" cy="207.01" r="0.38" fill="#5fb598" opacity="0.75"/>
<circle cx="267.46" cy="230.66" r="0.6" fill="#9cc4a2" opacity="0.75"/>
<circle cx="243.58" cy="239.79" r="0.73" fill="#5fb598" opacity="0.75"/>
<circle cx="233.42" cy="231.14" r="0.64" fill="#9cc4a2" opacity="0.75"/>
<circle cx="269.99" cy="239.9" r="0.57" fill="#9cc4a2" opacity="0.75"/>
<circle cx="265.26" cy="237.31" r="0.36" fill="#9cc4a2" opacity="0.75"/>
<circle cx="255.06" cy="228.22" r="0.63" fill="#9cc4a2" opacity="0.75"/>
<circle cx="247.63" cy="223.85" r="0.53" fill="#5fb598" opacity="0.75"/>
<circle cx="258.57" cy="246.54" r="0.5" fill="#5fb598" opacity="0.75"/>
<circle cx="244.85" cy="229.13" r="0.67" fill="#5fb598" opacity="0.75"/>
<circle cx="263.78" cy="235.1" r="0.44" fill="#9cc4a2" opacity="0.75"/>
<circle cx="245.48" cy="211.62" r="0.54" fill="#9cc4a2" opacity="0.75"/>
<circle cx="255.35" cy="231.7" r="0.38" fill="#9cc4a2" opacity="0.75"/>
<circle cx="266.23" cy="202.55" r="0.45" fill="#5fb598" opacity="0.75"/>
<circle cx="253.84" cy="229.16" r="0.66" fill="#9cc4a2" opacity="0.75"/>
<circle cx="257.12" cy="212.59" r="0.59" fill="#9cc4a2" opacity="0.75"/>
<circle cx="236.07" cy="219.17" r="0.56" fill="#9cc4a2" opacity="0.75"/>
<circle cx="247.94" cy="237.57" r="0.49" fill="#5fb598" opacity="0.75"/>
<circle cx="240.28" cy="211.74" r="0.7" fill="#9cc4a2" opacity="0.75"/>
<circle cx="281.85" cy="221.79" r="0.4" fill="#5fb598" opacity="0.75"/>
<circle cx="242.07" cy="224.16" r="0.53" fill="#9cc4a2" opacity="0.75"/>
<circle cx="256.27" cy="203.53" r="0.59" fill="#9cc4a2" opacity="0.75"/>
<circle cx="267.63" cy="239.18" r="0.71" fill="#9cc4a2" opacity="0.75"/>
<circle cx="255.78" cy="227.73" r="0.69" fill="#9cc4a2" opacity="0.75"/>
<circle cx="246.65" cy="236.9" r="0.38" fill="#9cc4a2" opacity="0.75"/>
<circle cx="248.95" cy="232.67" r="0.56" fill="#5fb598" opacity="0.75"/>
<circle cx="264.32" cy="236.01" r="0.58" fill="#5fb598" opacity="0.75"/>
<circle cx="270.27" cy="238.14" r="0.43" fill="#9cc4a2" opacity="0.75"/>
<circle cx="240.39" cy="232.52" r="0.58" fill="#9cc4a2" opacity="0.75"/>
<circle cx="273.07" cy="208.35" r="0.63" fill="#9cc4a2" opacity="0.75"/>
<circle cx="256.71" cy="226.88" r="0.39" fill="#5fb598" opacity="0.75"/>
<circle cx="271.07" cy="241.95" r="0.67" fill="#9cc4a2" opacity="0.75"/>
<circle cx="253.64" cy="229.55" r="0.68" fill="#9cc4a2" opacity="0.75"/>
<circle cx="266.68" cy="227.88" r="0.62" fill="#9cc4a2" opacity="0.75"/>
<circle cx="235.15" cy="224.56" r="0.47" fill="#9cc4a2" opacity="0.75"/>
<circle cx="264.4" cy="237.81" r="0.45" fill="#9cc4a2" opacity="0.75"/>
<circle cx="252.6" cy="251.2" r="0.56" fill="#5fb598" opacity="0.75"/>
<circle cx="246.82" cy="242.24" r="0.42" fill="#9cc4a2" opacity="0.75"/>
<circle cx="259.18" cy="235.85" r="0.47" fill="#9cc4a2" opacity="0.75"/>
<circle cx="265.78" cy="248.19" r="0.42" fill="#9cc4a2" opacity="0.75"/>
<circle cx="256.8" cy="224.99" r="0.41" fill="#9cc4a2" opacity="0.75"/>
<circle cx="267.02" cy="229.26" r="0.74" fill="#9cc4a2" opacity="0.75"/>
<circle cx="245.89" cy="225.38" r="0.65" fill="#9cc4a2" opacity="0.75"/>
<circle cx="244.63" cy="244.86" r="0.55" fill="#9cc4a2" opacity="0.75"/>
<circle cx="241.06" cy="235.85" r="0.73" fill="#9cc4a2" opacity="0.75"/>
<circle cx="261.47" cy="250.14" r="0.73" fill="#5fb598" opacity="0.75"/>
<circle cx="255.75" cy="214.71" r="0.7" fill="#9cc4a2" opacity="0.75"/>
<circle cx="242.17" cy="216.9" r="0.74" fill="#9cc4a2" opacity="0.75"/>
<circle cx="248.11" cy="209.79" r="0.58" fill="#9cc4a2" opacity="0.75"/>
<circle cx="244.3" cy="233.45" r="0.53" fill="#5fb598" opacity="0.75"/>
<circle cx="258.68" cy="210.98" r="0.74" fill="#5fb598" opacity="0.75"/>
<circle cx="232.57" cy="221.61" r="0.41" fill="#9cc4a2" opacity="0.75"/>
<circle cx="273.8" cy="228.07" r="0.63" fill="#9cc4a2" opacity="0.75"/>
<circle cx="281.86" cy="220.67" r="0.71" fill="#5fb598" opacity="0.75"/>
<circle cx="272" cy="244.81" r="0.4" fill="#9cc4a2" opacity="0.75"/>
<circle cx="245.01" cy="199.36" r="0.62" fill="#5fb598" opacity="0.75"/>
<circle cx="252.63" cy="226.69" r="0.75" fill="#9cc4a2" opacity="0.75"/>
<circle cx="254.29" cy="213.57" r="0.68" fill="#9cc4a2" opacity="0.75"/>
<circle cx="285.14" cy="223.86" r="0.49" fill="#9cc4a2" opacity="0.75"/>
<circle cx="245.2" cy="242.72" r="0.39" fill="#9cc4a2" opacity="0.75"/>
<circle cx="241.24" cy="220.58" r="0.52" fill="#9cc4a2" opacity="0.75"/>
<circle cx="258.67" cy="236.21" r="0.43" fill="#9cc4a2" opacity="0.75"/>
<circle cx="267.94" cy="226.73" r="0.4" fill="#9cc4a2" opacity="0.75"/>
<circle cx="248.88" cy="203.4" r="0.45" fill="#5fb598" opacity="0.75"/>
<circle cx="268.1" cy="215.24" r="0.52" fill="#9cc4a2" opacity="0.75"/>
<circle cx="240.57" cy="213.77" r="0.57" fill="#5fb598" opacity="0.75"/>
<circle cx="256.75" cy="207.28" r="0.68" fill="#5fb598" opacity="0.75"/>
<circle cx="279.19" cy="224.34" r="0.7" fill="#5fb598" opacity="0.75"/>
<circle cx="281.56" cy="230.28" r="0.7" fill="#9cc4a2" opacity="0.75"/>
<circle cx="244.18" cy="238.69" r="0.59" fill="#9cc4a2" opacity="0.75"/>
<circle cx="278.22" cy="231.23" r="0.72" fill="#9cc4a2" opacity="0.75"/>
<circle cx="239.04" cy="208.83" r="0.75" fill="#9cc4a2" opacity="0.75"/>
<circle cx="229.97" cy="226.76" r="0.49" fill="#5fb598" opacity="0.75"/>
<circle cx="237.32" cy="222" r="0.58" fill="#9cc4a2" opacity="0.75"/>
<circle cx="256.69" cy="243.12" r="0.4" fill="#5fb598" opacity="0.75"/>
<circle cx="280.01" cy="224.32" r="0.43" fill="#9cc4a2" opacity="0.75"/>
<circle cx="266.91" cy="250.9" r="0.68" fill="#9cc4a2" opacity="0.75"/>
<circle cx="247.69" cy="215.73" r="0.54" fill="#9cc4a2" opacity="0.75"/>
<circle cx="236.68" cy="208.24" r="0.72" fill="#9cc4a2" opacity="0.75"/>
<circle cx="258.21" cy="217.46" r="0.62" fill="#9cc4a2" opacity="0.75"/>
<circle cx="242.66" cy="219.91" r="0.63" fill="#9cc4a2" opacity="0.75"/>
<circle cx="272.14" cy="241.18" r="0.42" fill="#9cc4a2" opacity="0.75"/>
<circle cx="264.36" cy="223.91" r="0.65" fill="#5fb598" opacity="0.75"/>
<circle cx="271.06" cy="220.91" r="0.56" fill="#9cc4a2" opacity="0.75"/>
<circle cx="238.13" cy="207.89" r="0.72" fill="#9cc4a2" opacity="0.75"/>
<circle cx="243.4" cy="242.95" r="0.74" fill="#9cc4a2" opacity="0.75"/>
<circle cx="256.73" cy="204.83" r="0.7" fill="#5fb598" opacity="0.75"/>
<circle cx="228.9" cy="222.85" r="0.58" fill="#9cc4a2" opacity="0.75"/>
<circle cx="239.79" cy="234.08" r="0.42" fill="#9cc4a2" opacity="0.75"/>
<circle cx="248.38" cy="212.79" r="0.36" fill="#5fb598" opacity="0.75"/>
<circle cx="244.87" cy="232.1" r="0.51" fill="#9cc4a2" opacity="0.75"/>
<circle cx="257.4" cy="224.64" r="0.53" fill="#5fb598" opacity="0.75"/>
<circle cx="268.47" cy="223.73" r="0.64" fill="#9cc4a2" opacity="0.75"/>
<circle cx="285.08" cy="221.57" r="0.61" fill="#9cc4a2" opacity="0.75"/>
<circle cx="264.79" cy="230.98" r="0.73" fill="#9cc4a2" opacity="0.75"/>
<circle cx="275.28" cy="238.62" r="0.71" fill="#9cc4a2" opacity="0.75"/>
<circle cx="238.07" cy="220.21" r="0.41" fill="#5fb598" opacity="0.75"/>
<circle cx="268.89" cy="214.72" r="0.43" fill="#9cc4a2" opacity="0.75"/>
<circle cx="248.33" cy="221.41" r="0.45" fill="#9cc4a2" opacity="0.75"/>
<circle cx="268.17" cy="250.83" r="0.67" fill="#5fb598" opacity="0.75"/>
<circle cx="269.74" cy="207.88" r="0.71" fill="#9cc4a2" opacity="0.75"/>
<circle cx="262.24" cy="234.39" r="0.61" fill="#9cc4a2" opacity="0.75"/>
<circle cx="243.93" cy="249.67" r="0.75" fill="#9cc4a2" opacity="0.75"/>
<circle cx="264.06" cy="238.5" r="0.61" fill="#9cc4a2" opacity="0.75"/>
<circle cx="243.93" cy="232.77" r="0.48" fill="#9cc4a2" opacity="0.75"/>
<circle cx="271.99" cy="214.31" r="0.54" fill="#9cc4a2" opacity="0.75"/>
<circle cx="242.55" cy="214.82" r="0.5" fill="#9cc4a2" opacity="0.75"/>
<circle cx="255.41" cy="229.27" r="0.61" fill="#9cc4a2" opacity="0.75"/>
<circle cx="266.92" cy="210.55" r="0.4" fill="#9cc4a2" opacity="0.75"/>
<circle cx="262.32" cy="231.56" r="0.62" fill="#5fb598" opacity="0.75"/>
<circle cx="256.98" cy="220.51" r="0.52" fill="#9cc4a2" opacity="0.75"/>
<circle cx="255.4" cy="217.39" r="0.6" fill="#9cc4a2" opacity="0.75"/>
<circle cx="273.43" cy="230.09" r="0.54" fill="#5fb598" opacity="0.75"/>
<circle cx="258.85" cy="240.92" r="0.5" fill="#9cc4a2" opacity="0.75"/>
<circle cx="260.16" cy="230.92" r="0.36" fill="#9cc4a2" opacity="0.75"/>
<circle cx="261.95" cy="201.36" r="0.43" fill="#9cc4a2" opacity="0.75"/>
<circle cx="247.81" cy="202.24" r="0.42" fill="#9cc4a2" opacity="0.75"/>
<circle cx="276.89" cy="240.87" r="0.72" fill="#9cc4a2" opacity="0.75"/>
<circle cx="273.66" cy="218.35" r="0.55" fill="#9cc4a2" opacity="0.75"/>
<circle cx="239.45" cy="235.89" r="0.46" fill="#5fb598" opacity="0.75"/>
<circle cx="269.46" cy="211.26" r="0.64" fill="#9cc4a2" opacity="0.75"/>
<circle cx="275.32" cy="230.92" r="0.36" fill="#9cc4a2" opacity="0.75"/>
<circle cx="271.62" cy="221.36" r="0.36" fill="#5fb598" opacity="0.75"/>
<circle cx="262.21" cy="213.06" r="0.36" fill="#9cc4a2" opacity="0.75"/>
<circle cx="240.38" cy="228.42" r="0.56" fill="#9cc4a2" opacity="0.75"/>
<circle cx="263.9" cy="250.96" r="0.47" fill="#5fb598" opacity="0.75"/>
<circle cx="263.69" cy="225.38" r="0.73" fill="#5fb598" opacity="0.75"/>
<circle cx="266.62" cy="233.38" r="0.56" fill="#5fb598" opacity="0.75"/>
<circle cx="251.45" cy="210.84" r="0.63" fill="#9cc4a2" opacity="0.75"/>
<circle cx="268.58" cy="218.34" r="0.41" fill="#9cc4a2" opacity="0.75"/>
<circle cx="248.4" cy="237.04" r="0.39" fill="#9cc4a2" opacity="0.75"/>
<circle cx="266.94" cy="224.79" r="0.59" fill="#9cc4a2" opacity="0.75"/>
<circle cx="247.91" cy="241.07" r="0.38" fill="#9cc4a2" opacity="0.75"/>
<circle cx="268.39" cy="220.77" r="0.53" fill="#5fb598" opacity="0.75"/>
<circle cx="259.47" cy="247.76" r="0.71" fill="#5fb598" opacity="0.75"/>
<circle cx="276.38" cy="227.46" r="0.45" fill="#5fb598" opacity="0.75"/>
<circle cx="267.46" cy="234.25" r="0.46" fill="#9cc4a2" opacity="0.75"/>
<circle cx="250.31" cy="201.98" r="0.56" fill="#9cc4a2" opacity="0.75"/>
<circle cx="257.1" cy="241.3" r="0.57" fill="#9cc4a2" opacity="0.75"/>
<circle cx="247.57" cy="209.33" r="0.67" fill="#9cc4a2" opacity="0.75"/>
<circle cx="242.58" cy="239.78" r="0.66" fill="#9cc4a2" opacity="0.75"/>
<circle cx="282.47" cy="231.2" r="0.35" fill="#9cc4a2" opacity="0.75"/>
<circle cx="239.73" cy="232.25" r="0.7" fill="#9cc4a2" opacity="0.75"/>
<circle cx="242.06" cy="225" r="0.45" fill="#9cc4a2" opacity="0.75"/>
<circle cx="230.58" cy="229.12" r="0.48" fill="#9cc4a2" opacity="0.75"/>
<circle cx="268.16" cy="213.98" r="0.47" fill="#9cc4a2" opacity="0.75"/>
<circle cx="262.3" cy="227.09" r="0.75" fill="#9cc4a2" opacity="0.75"/>
<circle cx="275.24" cy="230.16" r="0.4" fill="#9cc4a2" opacity="0.75"/>
<circle cx="265.82" cy="229.38" r="0.48" fill="#9cc4a2" opacity="0.75"/>
<circle cx="281.79" cy="232.2" r="0.55" fill="#9cc4a2" opacity="0.75"/>
<circle cx="249.47" cy="201.3" r="0.68" fill="#5fb598" opacity="0.75"/>
<circle cx="273.72" cy="238.51" r="0.42" fill="#9cc4a2" opacity="0.75"/>
<circle cx="255.34" cy="211.1" r="0.39" fill="#9cc4a2" opacity="0.75"/>
<circle cx="254.91" cy="207.31" r="0.6" fill="#5fb598" opacity="0.75"/>
<circle cx="271.54" cy="218.34" r="0.45" fill="#5fb598" opacity="0.75"/>
<circle cx="255.58" cy="236.88" r="0.71" fill="#9cc4a2" opacity="0.75"/>
<circle cx="243.05" cy="231.29" r="0.4" fill="#9cc4a2" opacity="0.75"/>
<circle cx="238.74" cy="208.01" r="0.64" fill="#9cc4a2" opacity="0.75"/>
<circle cx="260.04" cy="220.89" r="0.6" fill="#5fb598" opacity="0.75"/>
<circle cx="247.4" cy="200.83" r="0.36" fill="#9cc4a2" opacity="0.75"/>
<circle cx="248.59" cy="246.36" r="0.45" fill="#9cc4a2" opacity="0.75"/>
<circle cx="237.5" cy="221.12" r="0.69" fill="#5fb598" opacity="0.75"/>
<circle cx="236.43" cy="209.78" r="0.51" fill="#9cc4a2" opacity="0.75"/>
<circle cx="246.9" cy="204.55" r="0.57" fill="#9cc4a2" opacity="0.75"/>
<circle cx="268.42" cy="226.82" r="0.47" fill="#5fb598" opacity="0.75"/>
<circle cx="244.15" cy="210.09" r="0.47" fill="#9cc4a2" opacity="0.75"/>
<circle cx="258.61" cy="210.13" r="0.62" fill="#5fb598" opacity="0.75"/>
<circle cx="274.18" cy="210.85" r="0.37" fill="#9cc4a2" opacity="0.75"/>
<circle cx="283.97" cy="223.64" r="0.61" fill="#9cc4a2" opacity="0.75"/>
<circle cx="281.2" cy="223.16" r="0.39" fill="#9cc4a2" opacity="0.75"/>
<circle cx="259.76" cy="210.34" r="0.49" fill="#9cc4a2" opacity="0.75"/>
<circle cx="273.27" cy="217.15" r="0.74" fill="#9cc4a2" opacity="0.75"/>
<circle cx="242.76" cy="220.24" r="0.52" fill="#5fb598" opacity="0.75"/>
<circle cx="249.11" cy="230.56" r="0.72" fill="#9cc4a2" opacity="0.75"/>
<circle cx="268.97" cy="237.04" r="0.54" fill="#9cc4a2" opacity="0.75"/>
<circle cx="275.3" cy="222.92" r="0.39" fill="#9cc4a2" opacity="0.75"/>
<circle cx="260.43" cy="231.53" r="0.63" fill="#9cc4a2" opacity="0.75"/>
<circle cx="245.19" cy="235.65" r="0.58" fill="#5fb598" opacity="0.75"/>
<circle cx="277.59" cy="229.04" r="0.6" fill="#9cc4a2" opacity="0.75"/>
<circle cx="242.02" cy="200.48" r="0.7" fill="#5fb598" opacity="0.75"/>
<circle cx="241.6" cy="202.14" r="0.53" fill="#5fb598" opacity="0.75"/>
<circle cx="264.68" cy="202.34" r="0.73" fill="#9cc4a2" opacity="0.75"/>
<circle cx="278" cy="234.77" r="0.75" fill="#9cc4a2" opacity="0.75"/>
<circle cx="271.59" cy="210.89" r="0.7" fill="#9cc4a2" opacity="0.75"/>
<circle cx="252.38" cy="217.9" r="0.66" fill="#9cc4a2" opacity="0.75"/>
<circle cx="250.46" cy="251.13" r="0.46" fill="#9cc4a2" opacity="0.75"/>
<circle cx="253.21" cy="244.07" r="0.4" fill="#9cc4a2" opacity="0.75"/>
<circle cx="265.36" cy="199.36" r="0.42" fill="#5fb598" opacity="0.75"/>
<circle cx="239.14" cy="230.26" r="0.57" fill="#5fb598" opacity="0.75"/>
<circle cx="275.26" cy="208.74" r="0.74" fill="#9cc4a2" opacity="0.75"/>
<circle cx="241.58" cy="217.73" r="0.42" fill="#5fb598" opacity="0.75"/>
<circle cx="254.64" cy="220.41" r="0.4" fill="#9cc4a2" opacity="0.75"/>
<circle cx="283.72" cy="232.14" r="0.69" fill="#9cc4a2" opacity="0.75"/>
<circle cx="243.36" cy="215.67" r="0.46" fill="#9cc4a2" opacity="0.75"/>
<circle cx="257.68" cy="204.22" r="0.39" fill="#5fb598" opacity="0.75"/>
<circle cx="266.96" cy="248.32" r="0.65" fill="#9cc4a2" opacity="0.75"/>
<circle cx="282.08" cy="231.46" r="0.66" fill="#9cc4a2" opacity="0.75"/>
<circle cx="250" cy="229.14" r="0.69" fill="#9cc4a2" opacity="0.75"/>
<circle cx="260.67" cy="205.21" r="0.5" fill="#5fb598" opacity="0.75"/>
<circle cx="259.72" cy="225.23" r="0.53" fill="#9cc4a2" opacity="0.75"/>
<circle cx="238.31" cy="221.83" r="0.63" fill="#9cc4a2" opacity="0.75"/>
<circle cx="278.18" cy="234.23" r="0.58" fill="#9cc4a2" opacity="0.75"/>
</g>
<rect x="198.2" y="165.8" width="120.1" height="120.4" fill="none" stroke="#1a1aff" stroke-width="0.9"/>
<path d="M216.92 286.2v-1.6M216.92 165.8v1.6M237.26 286.2v-1.6M237.26 165.8v1.6M257.6 286.2v-1.6M257.6 165.8v1.6M277.94 286.2v-1.6M277.94 165.8v1.6M298.28 286.2v-1.6M298.28 165.8v1.6M198.2 175.5h1.6M318.3 175.5h-1.6M198.2 185.67h1.6M318.3 185.67h-1.6M198.2 195.84h1.6M318.3 195.84h-1.6M198.2 206.01h1.6M318.3 206.01h-1.6M198.2 216.18h1.6M318.3 216.18h-1.6M198.2 226.35h1.6M318.3 226.35h-1.6M198.2 236.52h1.6M318.3 236.52h-1.6M198.2 246.69h1.6M318.3 246.69h-1.6M198.2 256.86h1.6M318.3 256.86h-1.6M198.2 267.03h1.6M318.3 267.03h-1.6M198.2 277.2h1.6M318.3 277.2h-1.6" stroke="#1a1aff" stroke-width="0.7" fill="none"/>
<text x="196.4" y="176.9" font-size="3.9" fill="#1a1aff" text-anchor="end" font-family="'Liberation Sans',Arial,sans-serif" font-weight="bold" stroke="#1a1aff" stroke-width="0.16">−25</text>
<text x="196.4" y="187.07" font-size="3.9" fill="#1a1aff" text-anchor="end" font-family="'Liberation Sans',Arial,sans-serif" font-weight="bold" stroke="#1a1aff" stroke-width="0.16">−20</text>
<text x="196.4" y="197.24" font-size="3.9" fill="#1a1aff" text-anchor="end" font-family="'Liberation Sans',Arial,sans-serif" font-weight="bold" stroke="#1a1aff" stroke-width="0.16">−15</text>
<text x="196.4" y="207.41" font-size="3.9" fill="#1a1aff" text-anchor="end" font-family="'Liberation Sans',Arial,sans-serif" font-weight="bold" stroke="#1a1aff" stroke-width="0.16">−10</text>
<text x="196.4" y="217.58" font-size="3.9" fill="#1a1aff" text-anchor="end" font-family="'Liberation Sans',Arial,sans-serif" font-weight="bold" stroke="#1a1aff" stroke-width="0.16">−5</text>
<text x="196.4" y="227.75" font-size="3.9" fill="#1a1aff" text-anchor="end" font-family="'Liberation Sans',Arial,sans-serif" font-weight="bold" stroke="#1a1aff" stroke-width="0.16">0</text>
<text x="196.4" y="237.92" font-size="3.9" fill="#1a1aff" text-anchor="end" font-family="'Liberation Sans',Arial,sans-serif" font-weight="bold" stroke="#1a1aff" stroke-width="0.16">5</text>
<text x="196.4" y="248.09" font-size="3.9" fill="#1a1aff" text-anchor="end" font-family="'Liberation Sans',Arial,sans-serif" font-weight="bold" stroke="#1a1aff" stroke-width="0.16">10</text>
<text x="196.4" y="258.26" font-size="3.9" fill="#1a1aff" text-anchor="end" font-family="'Liberation Sans',Arial,sans-serif" font-weight="bold" stroke="#1a1aff" stroke-width="0.16">15</text>
<text x="196.4" y="268.43" font-size="3.9" fill="#1a1aff" text-anchor="end" font-family="'Liberation Sans',Arial,sans-serif" font-weight="bold" stroke="#1a1aff" stroke-width="0.16">20</text>
<text x="196.4" y="278.6" font-size="3.9" fill="#1a1aff" text-anchor="end" font-family="'Liberation Sans',Arial,sans-serif" font-weight="bold" stroke="#1a1aff" stroke-width="0.16">25</text>
<text x="216.92" y="292.2" font-size="3.9" fill="#1a1aff" text-anchor="middle" font-family="'Liberation Sans',Arial,sans-serif" font-weight="bold" stroke="#1a1aff" stroke-width="0.16">−20</text>
<text x="237.26" y="292.2" font-size="3.9" fill="#1a1aff" text-anchor="middle" font-family="'Liberation Sans',Arial,sans-serif" font-weight="bold" stroke="#1a1aff" stroke-width="0.16">−10</text>
<text x="257.6" y="292.2" font-size="3.9" fill="#1a1aff" text-anchor="middle" font-family="'Liberation Sans',Arial,sans-serif" font-weight="bold" stroke="#1a1aff" stroke-width="0.16">0</text>
<text x="277.94" y="292.2" font-size="3.9" fill="#1a1aff" text-anchor="middle" font-family="'Liberation Sans',Arial,sans-serif" font-weight="bold" stroke="#1a1aff" stroke-width="0.16">10</text>
<text x="298.28" y="292.2" font-size="3.9" fill="#1a1aff" text-anchor="middle" font-family="'Liberation Sans',Arial,sans-serif" font-weight="bold" stroke="#1a1aff" stroke-width="0.16">20</text>
<text x="257.6" y="299" font-size="4.2" fill="#1a1aff" text-anchor="middle" font-family="'Liberation Sans',Arial,sans-serif" font-weight="bold" stroke="#1a1aff" stroke-width="0.16">x (mm)</text>
<text x="188.2" y="226.35" font-size="4.2" fill="#1a1aff" text-anchor="middle" font-family="'Liberation Sans',Arial,sans-serif" font-weight="bold" transform="rotate(-90 188.2 226.35)" stroke="#1a1aff" stroke-width="0.16">y (mm)</text>
<text x="257.6" y="164.6" font-size="4.54" fill="#111" text-anchor="middle" font-family="'Liberation Sans',Arial,sans-serif" font-weight="bold" stroke="#111" stroke-width="0.16">Reconstructed Image without Phase Contrast</text>
<defs><linearGradient id="cbe" x1="0" y1="0" x2="0" y2="1"><stop offset="0" stop-color="#f9fb15"/><stop offset="0.03" stop-color="#f6ef20"/><stop offset="0.06" stop-color="#f5e327"/><stop offset="0.09" stop-color="#f9d62d"/><stop offset="0.12" stop-color="#feca33"/><stop offset="0.16" stop-color="#febe3c"/><stop offset="0.19" stop-color="#f1ba37"/><stop offset="0.22" stop-color="#debc2a"/><stop offset="0.25" stop-color="#c8c129"/><stop offset="0.28" stop-color="#afc637"/><stop offset="0.31" stop-color="#94ca4a"/><stop offset="0.34" stop-color="#77cc60"/><stop offset="0.38" stop-color="#5ccc76"/><stop offset="0.41" stop-color="#44ca8a"/><stop offset="0.44" stop-color="#34c79c"/><stop offset="0.47" stop-color="#28c2ab"/><stop offset="0.5" stop-color="#12beb9"/><stop offset="0.53" stop-color="#01b9c6"/><stop offset="0.56" stop-color="#0cb3d3"/><stop offset="0.59" stop-color="#1aacdd"/><stop offset="0.62" stop-color="#21a3e3"/><stop offset="0.66" stop-color="#269ae9"/><stop offset="0.69" stop-color="#2c90f0"/><stop offset="0.72" stop-color="#2e85f8"/><stop offset="0.75" stop-color="#347afd"/><stop offset="0.78" stop-color="#3f6efe"/><stop offset="0.81" stop-color="#4562fc"/><stop offset="0.84" stop-color="#4757f7"/><stop offset="0.88" stop-color="#484cef"/><stop offset="0.91" stop-color="#4741e5"/><stop offset="0.94" stop-color="#4536d5"/><stop offset="0.97" stop-color="#422ebf"/><stop offset="1" stop-color="#3e26a8"/></linearGradient></defs>
<rect x="321.5" y="166" width="8.4" height="120.6" fill="url(#cbe)" stroke="#333" stroke-width="0.3"/>
<text x="331.7" y="275.3" font-size="3.6" fill="#222" text-anchor="start" font-family="'Liberation Sans',Arial,sans-serif" stroke="#222" stroke-width="0.16">0.1</text>
<text x="331.7" y="263.5" font-size="3.6" fill="#222" text-anchor="start" font-family="'Liberation Sans',Arial,sans-serif" stroke="#222" stroke-width="0.16">0.2</text>
<text x="331.7" y="251.7" font-size="3.6" fill="#222" text-anchor="start" font-family="'Liberation Sans',Arial,sans-serif" stroke="#222" stroke-width="0.16">0.3</text>
<text x="331.7" y="239.9" font-size="3.6" fill="#222" text-anchor="start" font-family="'Liberation Sans',Arial,sans-serif" stroke="#222" stroke-width="0.16">0.4</text>
<text x="331.7" y="228.1" font-size="3.6" fill="#222" text-anchor="start" font-family="'Liberation Sans',Arial,sans-serif" stroke="#222" stroke-width="0.16">0.5</text>
<text x="331.7" y="216.3" font-size="3.6" fill="#222" text-anchor="start" font-family="'Liberation Sans',Arial,sans-serif" stroke="#222" stroke-width="0.16">0.6</text>
<text x="331.7" y="204.5" font-size="3.6" fill="#222" text-anchor="start" font-family="'Liberation Sans',Arial,sans-serif" stroke="#222" stroke-width="0.16">0.7</text>
<text x="331.7" y="192.7" font-size="3.6" fill="#222" text-anchor="start" font-family="'Liberation Sans',Arial,sans-serif" stroke="#222" stroke-width="0.16">0.8</text>
<text x="331.7" y="180.9" font-size="3.6" fill="#222" text-anchor="start" font-family="'Liberation Sans',Arial,sans-serif" stroke="#222" stroke-width="0.16">0.9</text>
<text x="331.7" y="169.1" font-size="3.6" fill="#222" text-anchor="start" font-family="'Liberation Sans',Arial,sans-serif" stroke="#222" stroke-width="0.16">1</text>
<rect x="391.4" y="165.8" width="121.8" height="122.2" fill="#3a278f"/>
<rect x="409.9" y="184.2" width="84" height="84.7" fill="#2f81fa"/>
<rect x="411.9" y="186.2" width="80" height="80.7" fill="#17a9da"/>
<rect x="413.7" y="188" width="76.4" height="77.1" fill="none" stroke="#01b9c6" stroke-width="1.6" opacity="0.85"/>
<circle cx="473.61" cy="250.6" r="1.73" fill="#2a8ee8" opacity="0.35"/>
<circle cx="414.93" cy="238.71" r="1.71" fill="#30c0c0" opacity="0.35"/>
<circle cx="442.51" cy="246.73" r="1.41" fill="#30c0c0" opacity="0.35"/>
<circle cx="468.91" cy="220.13" r="1.81" fill="#30c0c0" opacity="0.35"/>
<circle cx="429.18" cy="230.56" r="2.21" fill="#2a8ee8" opacity="0.35"/>
<circle cx="474.35" cy="240.42" r="2.27" fill="#2a8ee8" opacity="0.35"/>
<circle cx="421.79" cy="248.98" r="2.21" fill="#2a8ee8" opacity="0.35"/>
<circle cx="421.84" cy="203.93" r="1.95" fill="#2a8ee8" opacity="0.35"/>
<circle cx="485.3" cy="233.17" r="1.3" fill="#30c0c0" opacity="0.35"/>
<circle cx="441.57" cy="258.88" r="2.36" fill="#2a8ee8" opacity="0.35"/>
<circle cx="462.6" cy="241.33" r="2.21" fill="#30c0c0" opacity="0.35"/>
<circle cx="417" cy="216.19" r="1.9" fill="#2a8ee8" opacity="0.35"/>
<circle cx="458.5" cy="195.9" r="2.32" fill="#2a8ee8" opacity="0.35"/>
<circle cx="423.55" cy="238.71" r="1.47" fill="#2a8ee8" opacity="0.35"/>
<circle cx="450.7" cy="199.52" r="1.31" fill="#30c0c0" opacity="0.35"/>
<circle cx="466.57" cy="190.14" r="2.17" fill="#2a8ee8" opacity="0.35"/>
<circle cx="439.54" cy="256.76" r="1.93" fill="#2a8ee8" opacity="0.35"/>
<circle cx="442.83" cy="218.27" r="1.19" fill="#30c0c0" opacity="0.35"/>
<circle cx="418.88" cy="220.79" r="2.12" fill="#2a8ee8" opacity="0.35"/>
<circle cx="487.49" cy="207.52" r="2.47" fill="#30c0c0" opacity="0.35"/>
<circle cx="464.5" cy="255.65" r="1.67" fill="#30c0c0" opacity="0.35"/>
<circle cx="473.81" cy="227.8" r="1.71" fill="#30c0c0" opacity="0.35"/>
<circle cx="445.17" cy="195.62" r="2.12" fill="#2a8ee8" opacity="0.35"/>
<circle cx="450.99" cy="247.77" r="1.26" fill="#2a8ee8" opacity="0.35"/>
<circle cx="424.04" cy="233.23" r="1.54" fill="#2a8ee8" opacity="0.35"/>
<circle cx="448.31" cy="258.49" r="1.38" fill="#2a8ee8" opacity="0.35"/>
<circle cx="479.97" cy="234.93" r="1.4" fill="#2a8ee8" opacity="0.35"/>
<circle cx="450.31" cy="199.82" r="1.57" fill="#2a8ee8" opacity="0.35"/>
<circle cx="474.45" cy="213.36" r="1.99" fill="#30c0c0" opacity="0.35"/>
<circle cx="483.21" cy="217.29" r="1.9" fill="#2a8ee8" opacity="0.35"/>
<circle cx="444.37" cy="225.65" r="2.19" fill="#30c0c0" opacity="0.35"/>
<circle cx="436.42" cy="189.66" r="1.67" fill="#2a8ee8" opacity="0.35"/>
<circle cx="417.13" cy="246.99" r="1.17" fill="#30c0c0" opacity="0.35"/>
<circle cx="441.69" cy="259.3" r="2.28" fill="#2a8ee8" opacity="0.35"/>
<circle cx="429.15" cy="259.97" r="1.92" fill="#2a8ee8" opacity="0.35"/>
<circle cx="472.79" cy="249.97" r="1.74" fill="#2a8ee8" opacity="0.35"/>
<circle cx="422.31" cy="216.24" r="1.22" fill="#30c0c0" opacity="0.35"/>
<circle cx="459.79" cy="199.98" r="1.94" fill="#2a8ee8" opacity="0.35"/>
<circle cx="422.7" cy="237.42" r="1.69" fill="#30c0c0" opacity="0.35"/>
<circle cx="461.46" cy="241.59" r="1.19" fill="#30c0c0" opacity="0.35"/>
<circle cx="421.08" cy="235.37" r="2.37" fill="#30c0c0" opacity="0.35"/>
<circle cx="481" cy="222.96" r="2.04" fill="#30c0c0" opacity="0.35"/>
<circle cx="425.04" cy="259.67" r="2.36" fill="#2a8ee8" opacity="0.35"/>
<circle cx="472.51" cy="222.6" r="1.41" fill="#30c0c0" opacity="0.35"/>
<circle cx="419.61" cy="248.97" r="2.47" fill="#2a8ee8" opacity="0.35"/>
<circle cx="484.44" cy="195.45" r="2.29" fill="#2a8ee8" opacity="0.35"/>
<circle cx="486.4" cy="221.37" r="2.38" fill="#2a8ee8" opacity="0.35"/>
<circle cx="421.24" cy="250.18" r="1.96" fill="#2a8ee8" opacity="0.35"/>
<circle cx="417.32" cy="202.14" r="1.56" fill="#2a8ee8" opacity="0.35"/>
<circle cx="488.38" cy="246.36" r="2.42" fill="#30c0c0" opacity="0.35"/>
<circle cx="440.32" cy="195" r="2.1" fill="#2a8ee8" opacity="0.35"/>
<circle cx="455.39" cy="223.86" r="1.74" fill="#2a8ee8" opacity="0.35"/>
<circle cx="420.37" cy="228.06" r="1.05" fill="#2a8ee8" opacity="0.35"/>
<circle cx="426.02" cy="210.24" r="1.23" fill="#2a8ee8" opacity="0.35"/>
<circle cx="443.63" cy="205.86" r="1.33" fill="#2a8ee8" opacity="0.35"/>
<circle cx="482.28" cy="220.51" r="1.24" fill="#2a8ee8" opacity="0.35"/>
<circle cx="432.68" cy="231.96" r="2.18" fill="#2a8ee8" opacity="0.35"/>
<circle cx="428.82" cy="213.5" r="1.57" fill="#2a8ee8" opacity="0.35"/>
<circle cx="444.32" cy="263.71" r="1.83" fill="#30c0c0" opacity="0.35"/>
<circle cx="467.91" cy="237.39" r="2.21" fill="#2a8ee8" opacity="0.35"/>
<circle cx="464.23" cy="261.85" r="1.25" fill="#30c0c0" opacity="0.35"/>
<circle cx="443.37" cy="193.76" r="1.06" fill="#30c0c0" opacity="0.35"/>
<circle cx="423.38" cy="242.32" r="1.15" fill="#2a8ee8" opacity="0.35"/>
<circle cx="417.28" cy="229.74" r="2.18" fill="#2a8ee8" opacity="0.35"/>
<circle cx="456.73" cy="258.09" r="1.44" fill="#2a8ee8" opacity="0.35"/>
<circle cx="468.49" cy="253.76" r="1.25" fill="#30c0c0" opacity="0.35"/>
<circle cx="423.78" cy="197.58" r="2.47" fill="#2a8ee8" opacity="0.35"/>
<circle cx="482.97" cy="245.23" r="2.01" fill="#30c0c0" opacity="0.35"/>
<circle cx="463.07" cy="210.64" r="1.67" fill="#2a8ee8" opacity="0.35"/>
<circle cx="478.49" cy="247.38" r="2.18" fill="#2a8ee8" opacity="0.35"/>
<circle cx="458.72" cy="208.24" r="2.19" fill="#30c0c0" opacity="0.35"/>
<circle cx="488.54" cy="242.1" r="2.03" fill="#30c0c0" opacity="0.35"/>
<circle cx="421.83" cy="233.67" r="1.05" fill="#2a8ee8" opacity="0.35"/>
<circle cx="423.57" cy="260.05" r="1.04" fill="#30c0c0" opacity="0.35"/>
<circle cx="485.04" cy="221.74" r="2.25" fill="#2a8ee8" opacity="0.35"/>
<circle cx="425.22" cy="189.93" r="1.1" fill="#2a8ee8" opacity="0.35"/>
<circle cx="476.2" cy="195.74" r="1.89" fill="#2a8ee8" opacity="0.35"/>
<circle cx="424.7" cy="220.52" r="1.27" fill="#30c0c0" opacity="0.35"/>
<circle cx="443.31" cy="233.56" r="1.85" fill="#30c0c0" opacity="0.35"/>
<circle cx="450.45" cy="209.38" r="1.21" fill="#30c0c0" opacity="0.35"/>
<circle cx="429.15" cy="222.7" r="2.21" fill="#2a8ee8" opacity="0.35"/>
<circle cx="485.06" cy="249.67" r="1.77" fill="#2a8ee8" opacity="0.35"/>
<circle cx="458.76" cy="224.59" r="2.29" fill="#2a8ee8" opacity="0.35"/>
<circle cx="466.28" cy="249.83" r="1.71" fill="#30c0c0" opacity="0.35"/>
<circle cx="481.45" cy="200.73" r="2.38" fill="#30c0c0" opacity="0.35"/>
<circle cx="478.17" cy="214.43" r="1.38" fill="#2a8ee8" opacity="0.35"/>
<circle cx="442.35" cy="253.07" r="1.54" fill="#2a8ee8" opacity="0.35"/>
<circle cx="437.46" cy="195.37" r="1.93" fill="#30c0c0" opacity="0.35"/>
<circle cx="483.47" cy="195.86" r="1.57" fill="#2a8ee8" opacity="0.35"/>
<circle cx="482.27" cy="251.72" r="1.78" fill="#30c0c0" opacity="0.35"/>
<circle cx="453.4" cy="247.2" r="1.73" fill="#2a8ee8" opacity="0.35"/>
<circle cx="488.49" cy="252.08" r="1.89" fill="#30c0c0" opacity="0.35"/>
<circle cx="462.96" cy="248.79" r="1.1" fill="#2a8ee8" opacity="0.35"/>
<circle cx="423" cy="234.25" r="2.08" fill="#2a8ee8" opacity="0.35"/>
<circle cx="452.28" cy="197.69" r="2.03" fill="#30c0c0" opacity="0.35"/>
<circle cx="421.31" cy="262.41" r="2" fill="#2a8ee8" opacity="0.35"/>
<circle cx="440.88" cy="201.02" r="2.09" fill="#30c0c0" opacity="0.35"/>
<circle cx="427.86" cy="202.95" r="1.94" fill="#30c0c0" opacity="0.35"/>
<circle cx="469.58" cy="223.4" r="1.17" fill="#30c0c0" opacity="0.35"/>
<circle cx="448.61" cy="249.24" r="1.86" fill="#30c0c0" opacity="0.35"/>
<circle cx="486.76" cy="235.96" r="2.37" fill="#2a8ee8" opacity="0.35"/>
<circle cx="415.01" cy="255.12" r="1.04" fill="#30c0c0" opacity="0.35"/>
<circle cx="448.63" cy="193.78" r="1.41" fill="#30c0c0" opacity="0.35"/>
<circle cx="443.32" cy="235.8" r="1.15" fill="#30c0c0" opacity="0.35"/>
<circle cx="442.51" cy="251.41" r="1.22" fill="#30c0c0" opacity="0.35"/>
<circle cx="449.61" cy="219.41" r="1.03" fill="#2a8ee8" opacity="0.35"/>
<circle cx="476.92" cy="196.96" r="1.67" fill="#2a8ee8" opacity="0.35"/>
<circle cx="488.46" cy="261.62" r="2.02" fill="#2a8ee8" opacity="0.35"/>
<circle cx="420.11" cy="198.24" r="2.06" fill="#30c0c0" opacity="0.35"/>
<circle cx="488.09" cy="253.57" r="1.66" fill="#2a8ee8" opacity="0.35"/>
<circle cx="455" cy="215.04" r="1.82" fill="#30c0c0" opacity="0.35"/>
<circle cx="448.42" cy="262.5" r="2.08" fill="#2a8ee8" opacity="0.35"/>
<circle cx="470.17" cy="238.62" r="1.93" fill="#2a8ee8" opacity="0.35"/>
<circle cx="479.94" cy="226.2" r="1.81" fill="#2a8ee8" opacity="0.35"/>
<circle cx="417.52" cy="190.24" r="1.31" fill="#2a8ee8" opacity="0.35"/>
<circle cx="426.3" cy="193.55" r="2.09" fill="#30c0c0" opacity="0.35"/>
<circle cx="480.17" cy="205.46" r="2.09" fill="#2a8ee8" opacity="0.35"/>
<circle cx="421.57" cy="254.56" r="1.54" fill="#2a8ee8" opacity="0.35"/>
<circle cx="428.46" cy="258.25" r="1.33" fill="#2a8ee8" opacity="0.35"/>
<circle cx="455.38" cy="216.03" r="1.98" fill="#2a8ee8" opacity="0.35"/>
<circle cx="446.72" cy="232.87" r="1.93" fill="#30c0c0" opacity="0.35"/>
<circle cx="434.82" cy="236.87" r="2.46" fill="#2a8ee8" opacity="0.35"/>
<circle cx="462.56" cy="251.72" r="1.38" fill="#2a8ee8" opacity="0.35"/>
<circle cx="486.7" cy="211.66" r="1.64" fill="#2a8ee8" opacity="0.35"/>
<circle cx="488.39" cy="229.92" r="2.34" fill="#2a8ee8" opacity="0.35"/>
<circle cx="435.44" cy="237.74" r="1.48" fill="#30c0c0" opacity="0.35"/>
<circle cx="452.47" cy="195.04" r="1.17" fill="#2a8ee8" opacity="0.35"/>
<circle cx="454.39" cy="202.39" r="1.39" fill="#2a8ee8" opacity="0.35"/>
<circle cx="434.58" cy="212.3" r="1.58" fill="#2a8ee8" opacity="0.35"/>
<circle cx="478" cy="242.78" r="2.11" fill="#2a8ee8" opacity="0.35"/>
<circle cx="451.57" cy="243.49" r="2.34" fill="#2a8ee8" opacity="0.35"/>
<circle cx="416.01" cy="193" r="1.77" fill="#30c0c0" opacity="0.35"/>
<circle cx="426.25" cy="247.75" r="1.96" fill="#30c0c0" opacity="0.35"/>
<circle cx="481.58" cy="197.22" r="2.19" fill="#2a8ee8" opacity="0.35"/>
<circle cx="423.68" cy="218.98" r="1.73" fill="#2a8ee8" opacity="0.35"/>
<circle cx="435.3" cy="202.31" r="1.2" fill="#2a8ee8" opacity="0.35"/>
<circle cx="416.66" cy="205.45" r="1.49" fill="#2a8ee8" opacity="0.35"/>
<circle cx="466.29" cy="234.92" r="1.73" fill="#2a8ee8" opacity="0.35"/>
<circle cx="460.38" cy="203.61" r="1.27" fill="#2a8ee8" opacity="0.35"/>
<circle cx="464.42" cy="199.6" r="1.33" fill="#2a8ee8" opacity="0.35"/>
<g transform="translate(451.8 226.2) scale(1 1.06) translate(-451.8 -226.2)">
<polygon points="483.8,226.2 477.3,214.93 464.29,214.93 457.78,226.2 464.29,237.47 477.3,237.47" fill="#1a9ddc" stroke="#4536d3" stroke-width="1.0"/>
<polygon points="474.3,209.75 467.8,198.49 454.79,198.49 448.29,209.75 454.79,221.02 467.8,221.02" fill="#1a9ddc" stroke="#4536d3" stroke-width="1.0"/>
<polygon points="455.31,209.75 448.81,198.49 435.8,198.49 429.3,209.75 435.8,221.02 448.81,221.02" fill="#1a9ddc" stroke="#4536d3" stroke-width="1.0"/>
<polygon points="445.82,226.2 439.31,214.93 426.3,214.93 419.8,226.2 426.3,237.47 439.31,237.47" fill="#1a9ddc" stroke="#4536d3" stroke-width="1.0"/>
<polygon points="455.31,242.65 448.81,231.38 435.8,231.38 429.3,242.65 435.8,253.91 448.81,253.91" fill="#1a9ddc" stroke="#4536d3" stroke-width="1.0"/>
<polygon points="474.3,242.65 467.8,231.38 454.79,231.38 448.29,242.65 454.79,253.91 467.8,253.91" fill="#1a9ddc" stroke="#4536d3" stroke-width="1.0"/>
<polygon points="483.1,226.2 476.95,215.54 464.64,215.54 458.48,226.2 464.64,236.86 476.95,236.86" fill="#1a9ddc"/>
<polygon points="473.6,209.75 467.45,199.09 455.14,199.09 448.99,209.75 455.14,220.41 467.45,220.41" fill="#1a9ddc"/>
<polygon points="454.61,209.75 448.46,199.09 436.15,199.09 430,209.75 436.15,220.41 448.46,220.41" fill="#1a9ddc"/>
<polygon points="445.12,226.2 438.96,215.54 426.65,215.54 420.5,226.2 426.65,236.86 438.96,236.86" fill="#1a9ddc"/>
<polygon points="454.61,242.65 448.46,231.99 436.15,231.99 430,242.65 436.15,253.31 448.46,253.31" fill="#1a9ddc"/>
<polygon points="473.6,242.65 467.45,231.99 455.14,231.99 448.99,242.65 455.14,253.31 467.45,253.31" fill="#1a9ddc"/>
<polygon points="461.31,220.71 451.8,215.22 442.29,220.71 442.29,231.69 451.8,237.18 461.31,231.69" fill="#1a9ddc"/>
<circle cx="455.89" cy="235.64" r="0.6" fill="#2450d8"/>
<circle cx="457.71" cy="232.35" r="0.86" fill="#2060e0"/>
<circle cx="466.97" cy="220.24" r="0.8" fill="#3040b8"/>
<circle cx="445.18" cy="231.13" r="0.63" fill="#3040b8"/>
<circle cx="427.45" cy="235.43" r="0.74" fill="#2a3cc0"/>
<circle cx="477.59" cy="217.49" r="0.87" fill="#2a3cc0"/>
<circle cx="451.74" cy="210.4" r="0.98" fill="#0bbdbd"/>
<circle cx="478.01" cy="218.31" r="1" fill="#2a3cc0"/>
<circle cx="442.88" cy="239.81" r="0.49" fill="#2ac3a9"/>
<circle cx="443.64" cy="252.12" r="0.69" fill="#2450d8"/>
<circle cx="446.12" cy="231.9" r="0.6" fill="#3040b8"/>
<circle cx="439.31" cy="231.92" r="0.52" fill="#2450d8"/>
<circle cx="456.65" cy="237.54" r="1" fill="#fccf31"/>
<circle cx="449.79" cy="215.17" r="0.87" fill="#24c1ae"/>
<circle cx="458.66" cy="224.99" r="0.61" fill="#e1bc2b"/>
<circle cx="460.62" cy="235.14" r="0.51" fill="#2450d8"/>
<circle cx="452.77" cy="216.68" r="0.66" fill="#2060e0"/>
<circle cx="443" cy="252.48" r="0.78" fill="#2060e0"/>
<circle cx="457.35" cy="201.56" r="0.45" fill="#2060e0"/>
<circle cx="441.99" cy="235.85" r="0.69" fill="#1dc0b2"/>
<circle cx="459" cy="228.54" r="0.83" fill="#f5e725"/>
<circle cx="472.89" cy="233.14" r="0.61" fill="#14bfb8"/>
<circle cx="436.71" cy="244.22" r="0.92" fill="#2dc4a5"/>
<circle cx="459.43" cy="220.96" r="0.92" fill="#02bbc3"/>
<circle cx="449.91" cy="207.37" r="0.91" fill="#2a3cc0"/>
<circle cx="442.64" cy="217.86" r="0.55" fill="#10beba"/>
<circle cx="443.5" cy="242.56" r="0.5" fill="#3040b8"/>
<circle cx="460.63" cy="212.08" r="0.9" fill="#3040b8"/>
<circle cx="455.74" cy="226.31" r="0.76" fill="#f8ba3d"/>
<circle cx="462.93" cy="235.09" r="0.82" fill="#2450d8"/>
<circle cx="462.53" cy="206.55" r="0.97" fill="#0ebebb"/>
<circle cx="456.21" cy="225.04" r="0.49" fill="#2060e0"/>
<circle cx="440.93" cy="237.01" r="0.64" fill="#3040b8"/>
<circle cx="448.02" cy="243.3" r="0.71" fill="#2450d8"/>
<circle cx="440.68" cy="228.91" r="0.89" fill="#feca33"/>
<circle cx="438.77" cy="232.61" r="0.49" fill="#01b9c8"/>
<circle cx="452.56" cy="207.96" r="0.68" fill="#27c2ac"/>
<circle cx="433.09" cy="220.63" r="0.6" fill="#2a3cc0"/>
<circle cx="457.84" cy="236.07" r="0.59" fill="#2060e0"/>
<circle cx="458.11" cy="226.08" r="1" fill="#3040b8"/>
<circle cx="447.54" cy="249.84" r="0.7" fill="#01b9c6"/>
<circle cx="432.56" cy="239.11" r="0.97" fill="#2450d8"/>
<circle cx="437.9" cy="213.44" r="0.81" fill="#08bcbf"/>
<circle cx="447.86" cy="206.77" r="0.94" fill="#0dbdbc"/>
<circle cx="434.7" cy="221.8" r="0.9" fill="#2060e0"/>
<circle cx="468.16" cy="235.94" r="0.69" fill="#16bfb7"/>
<circle cx="439.95" cy="240.47" r="0.95" fill="#18bfb6"/>
<circle cx="445.79" cy="217.12" r="0.65" fill="#f7ba3c"/>
<circle cx="445.95" cy="212.51" r="0.52" fill="#f8d92b"/>
<circle cx="457.94" cy="236.18" r="0.84" fill="#01b8ca"/>
<circle cx="458.83" cy="226.29" r="0.86" fill="#3040b8"/>
<circle cx="423.98" cy="228.42" r="0.47" fill="#2450d8"/>
<circle cx="433.31" cy="213.73" r="0.77" fill="#2cc4a6"/>
<circle cx="442.21" cy="202.98" r="0.83" fill="#21c1b1"/>
<circle cx="460.25" cy="199.72" r="0.49" fill="#11beba"/>
<circle cx="460.87" cy="232.48" r="0.53" fill="#28c3aa"/>
<circle cx="459.77" cy="207.56" r="0.82" fill="#2450d8"/>
<circle cx="440.05" cy="207.1" r="0.47" fill="#bcc42f"/>
<circle cx="444.29" cy="230.26" r="0.72" fill="#2060e0"/>
<circle cx="461.75" cy="248.76" r="0.74" fill="#2a3cc0"/>
<circle cx="458.56" cy="227.73" r="0.72" fill="#2450d8"/>
<circle cx="435.69" cy="204.98" r="0.84" fill="#2450d8"/>
<circle cx="431.1" cy="217.08" r="0.75" fill="#2a3cc0"/>
<circle cx="438.08" cy="244.11" r="0.99" fill="#3040b8"/>
<circle cx="470.87" cy="223.17" r="0.68" fill="#2a3cc0"/>
<circle cx="445.75" cy="227.36" r="0.62" fill="#2bc3a8"/>
<circle cx="456.98" cy="215.13" r="0.64" fill="#27c2ac"/>
<circle cx="460.65" cy="218.58" r="0.98" fill="#febe3c"/>
<circle cx="455.67" cy="232.4" r="0.48" fill="#2450d8"/>
<circle cx="435.6" cy="249.94" r="0.95" fill="#fec934"/>
<circle cx="446.93" cy="226.74" r="0.66" fill="#3040b8"/>
<circle cx="426.65" cy="226.94" r="0.46" fill="#3040b8"/>
<circle cx="441.06" cy="233.39" r="0.69" fill="#1ec0b2"/>
<circle cx="463.72" cy="200.63" r="0.47" fill="#2060e0"/>
<circle cx="466.55" cy="244.23" r="0.81" fill="#0dbdbb"/>
<circle cx="464.22" cy="239.39" r="0.72" fill="#2060e0"/>
<circle cx="469" cy="233.3" r="0.81" fill="#3040b8"/>
<circle cx="435.49" cy="203.5" r="0.83" fill="#02bac4"/>
<circle cx="434.96" cy="250.56" r="0.77" fill="#3040b8"/>
<circle cx="460.6" cy="243.36" r="0.62" fill="#2450d8"/>
<circle cx="445.41" cy="241.67" r="0.64" fill="#2fc5a3"/>
<circle cx="456.03" cy="211.64" r="0.5" fill="#2a3cc0"/>
<circle cx="436.24" cy="234.78" r="0.99" fill="#1fc0b2"/>
<circle cx="443.21" cy="213.72" r="0.72" fill="#acc739"/>
<circle cx="445.48" cy="235.02" r="0.73" fill="#2fc5a3"/>
<circle cx="432.6" cy="231.7" r="0.9" fill="#08bcbf"/>
<circle cx="434.72" cy="226.92" r="0.68" fill="#2a3cc0"/>
<circle cx="433.64" cy="235.1" r="0.75" fill="#2a3cc0"/>
<circle cx="463.99" cy="214.94" r="0.85" fill="#2060e0"/>
<circle cx="461.98" cy="248.35" r="0.54" fill="#2a3cc0"/>
<circle cx="456.21" cy="252.81" r="0.88" fill="#3040b8"/>
<circle cx="470.2" cy="224.23" r="0.58" fill="#2450d8"/>
<circle cx="460.85" cy="243.52" r="0.97" fill="#2a3cc0"/>
<circle cx="471.23" cy="218.06" r="0.84" fill="#11beb9"/>
<circle cx="432.66" cy="216.37" r="0.5" fill="#2060e0"/>
<circle cx="445.85" cy="214.84" r="0.91" fill="#2450d8"/>
<circle cx="466.78" cy="206.49" r="0.92" fill="#2a3cc0"/>
<circle cx="471.77" cy="223.53" r="1" fill="#24c1ae"/>
<circle cx="447.29" cy="215.34" r="0.6" fill="#2a3cc0"/>
<circle cx="446.39" cy="210.93" r="0.78" fill="#c2c22c"/>
<circle cx="463.4" cy="246.28" r="0.67" fill="#2450d8"/>
<circle cx="440.11" cy="222.36" r="0.65" fill="#27c2ac"/>
<circle cx="437.34" cy="241.28" r="0.91" fill="#2060e0"/>
<circle cx="435.65" cy="210.15" r="0.57" fill="#01b9c7"/>
<circle cx="453.7" cy="211.67" r="0.55" fill="#2450d8"/>
<circle cx="435.25" cy="201.66" r="0.98" fill="#3040b8"/>
<circle cx="453.1" cy="228.62" r="0.65" fill="#2ac3a9"/>
<circle cx="460.19" cy="239.26" r="0.46" fill="#05bbc1"/>
<circle cx="448.82" cy="245.95" r="0.79" fill="#0ebebb"/>
<circle cx="439.97" cy="241.2" r="0.48" fill="#3040b8"/>
<circle cx="455.04" cy="224.4" r="0.92" fill="#2a3cc0"/>
<circle cx="453.28" cy="225.78" r="0.54" fill="#fcbd3d"/>
<circle cx="457.81" cy="226.91" r="0.78" fill="#25c2ad"/>
<circle cx="472.95" cy="233.7" r="0.9" fill="#2060e0"/>
<circle cx="442.74" cy="250.23" r="0.78" fill="#2450d8"/>
<circle cx="441.06" cy="238.07" r="0.47" fill="#2450d8"/>
<circle cx="464.5" cy="239.07" r="0.84" fill="#2060e0"/>
<circle cx="469.25" cy="240.69" r="0.85" fill="#2450d8"/>
<circle cx="471.7" cy="208.86" r="0.75" fill="#a2c83f"/>
<circle cx="458.35" cy="249.22" r="0.94" fill="#2060e0"/>
<circle cx="425.03" cy="227.65" r="0.62" fill="#2cc4a7"/>
<circle cx="475.98" cy="233.94" r="0.72" fill="#3040b8"/>
<circle cx="423.8" cy="228.5" r="0.77" fill="#2060e0"/>
<circle cx="438.52" cy="223.06" r="0.62" fill="#2060e0"/>
<circle cx="468.1" cy="251.49" r="0.78" fill="#2a3cc0"/>
<circle cx="472.96" cy="234.77" r="0.9" fill="#2450d8"/>
<circle cx="457.06" cy="234.73" r="0.98" fill="#febe3c"/>
<circle cx="445.8" cy="248.17" r="0.51" fill="#3040b8"/>
<circle cx="435.22" cy="221.43" r="0.96" fill="#2ac3a9"/>
<circle cx="443.59" cy="229.52" r="0.72" fill="#2060e0"/>
<circle cx="443.56" cy="242.18" r="0.74" fill="#08bcbf"/>
<circle cx="463.22" cy="252.07" r="0.95" fill="#3040b8"/>
<circle cx="459.19" cy="213.18" r="0.83" fill="#06bcc0"/>
<circle cx="471.4" cy="210.27" r="0.69" fill="#2450d8"/>
<circle cx="462.26" cy="233.41" r="0.81" fill="#2a3cc0"/>
<circle cx="432.65" cy="224.91" r="0.93" fill="#01b8ca"/>
<circle cx="446.92" cy="222.76" r="0.81" fill="#3040b8"/>
<circle cx="446.93" cy="217.5" r="0.61" fill="#2060e0"/>
<circle cx="443.54" cy="207.57" r="0.69" fill="#2a3cc0"/>
<circle cx="429.28" cy="233.18" r="0.81" fill="#3040b8"/>
<circle cx="428.8" cy="225.75" r="0.73" fill="#2a3cc0"/>
<circle cx="439.21" cy="244.61" r="0.46" fill="#26c2ac"/>
<circle cx="454.55" cy="236.18" r="0.48" fill="#2450d8"/>
<circle cx="451.64" cy="235.2" r="0.48" fill="#13beb8"/>
<circle cx="459.03" cy="250.18" r="0.6" fill="#2060e0"/>
<circle cx="447.08" cy="221.37" r="0.73" fill="#3040b8"/>
<circle cx="459.84" cy="210.71" r="0.85" fill="#2450d8"/>
<circle cx="434.1" cy="226.25" r="0.51" fill="#2a3cc0"/>
<circle cx="426.56" cy="223.85" r="0.65" fill="#2a3cc0"/>
<circle cx="448.24" cy="224.35" r="0.89" fill="#2450d8"/>
<circle cx="448.7" cy="229.92" r="0.46" fill="#2060e0"/>
<circle cx="447.48" cy="237.54" r="0.95" fill="#2a3cc0"/>
<circle cx="438" cy="207.2" r="0.92" fill="#3040b8"/>
<circle cx="450.57" cy="212.42" r="0.59" fill="#2060e0"/>
<circle cx="439.61" cy="236.29" r="0.56" fill="#3040b8"/>
<circle cx="455.04" cy="205.1" r="0.79" fill="#2a3cc0"/>
<circle cx="435.7" cy="240.33" r="0.82" fill="#3040b8"/>
<circle cx="441.17" cy="239.84" r="0.62" fill="#2a3cc0"/>
<circle cx="476.86" cy="224.99" r="0.46" fill="#3040b8"/>
<circle cx="429.94" cy="235.4" r="0.74" fill="#2a3cc0"/>
<circle cx="463.75" cy="237.1" r="0.58" fill="#2060e0"/>
<circle cx="471.22" cy="222.47" r="0.96" fill="#01b8c9"/>
<circle cx="454.2" cy="242.34" r="0.92" fill="#3040b8"/>
<circle cx="437.77" cy="219.32" r="0.84" fill="#ecba32"/>
<circle cx="459.05" cy="211.87" r="0.81" fill="#2060e0"/>
<circle cx="449.45" cy="206.53" r="0.95" fill="#2cc4a6"/>
<circle cx="448.96" cy="237.47" r="0.93" fill="#2060e0"/>
<circle cx="430.75" cy="235.99" r="0.71" fill="#12beb9"/>
<circle cx="455.9" cy="209.09" r="0.66" fill="#2a3cc0"/>
<circle cx="427.33" cy="221.07" r="0.71" fill="#3040b8"/>
<circle cx="469.88" cy="219.29" r="0.95" fill="#2a3cc0"/>
<circle cx="455.82" cy="229.68" r="0.62" fill="#2ec4a4"/>
<circle cx="425.32" cy="232.31" r="0.6" fill="#3040b8"/>
<circle cx="452.82" cy="209.03" r="0.81" fill="#2a3cc0"/>
<circle cx="463.82" cy="253" r="0.71" fill="#0dbdbb"/>
<circle cx="439.01" cy="226.14" r="0.79" fill="#2450d8"/>
<circle cx="432.14" cy="243.88" r="0.93" fill="#2060e0"/>
<circle cx="441.73" cy="243.63" r="0.68" fill="#15bfb8"/>
<circle cx="445.04" cy="205.89" r="0.58" fill="#3040b8"/>
<circle cx="447.36" cy="210.16" r="0.46" fill="#3040b8"/>
<circle cx="473.27" cy="221.36" r="0.82" fill="#2060e0"/>
<circle cx="443.43" cy="202.73" r="0.63" fill="#20c1b1"/>
<circle cx="461.94" cy="224.65" r="0.88" fill="#2a3cc0"/>
<circle cx="448.54" cy="215.74" r="0.51" fill="#f9bb3d"/>
<circle cx="449.77" cy="238.48" r="0.75" fill="#2a3cc0"/>
<circle cx="474.99" cy="230.41" r="0.46" fill="#f7dc2a"/>
<circle cx="431.96" cy="210.4" r="0.87" fill="#09bcbe"/>
<circle cx="461.62" cy="236.72" r="0.55" fill="#3040b8"/>
<circle cx="464.77" cy="248.22" r="0.94" fill="#1dc0b3"/>
<circle cx="459.76" cy="201.62" r="0.47" fill="#2060e0"/>
<circle cx="468.43" cy="204.09" r="0.5" fill="#01b8c9"/>
<circle cx="436.82" cy="246.78" r="0.58" fill="#3040b8"/>
<circle cx="443.99" cy="233.45" r="0.64" fill="#bfc32e"/>
<circle cx="433.55" cy="240.8" r="0.98" fill="#3040b8"/>
<circle cx="446.19" cy="207.53" r="0.62" fill="#2450d8"/>
<circle cx="463.18" cy="237.33" r="0.58" fill="#12beb9"/>
<circle cx="454.77" cy="213.76" r="0.7" fill="#2a3cc0"/>
<circle cx="436.26" cy="251.54" r="0.66" fill="#2a3cc0"/>
<circle cx="429.9" cy="219" r="0.89" fill="#01b8ca"/>
<circle cx="434.32" cy="207.57" r="0.84" fill="#0dbdbb"/>
<circle cx="455.99" cy="221.88" r="0.96" fill="#2a3cc0"/>
<circle cx="462.92" cy="237.71" r="0.69" fill="#04b6cd"/>
<circle cx="433.26" cy="205.71" r="0.83" fill="#2450d8"/>
<circle cx="426.9" cy="218.42" r="0.53" fill="#27c2ab"/>
<circle cx="472.63" cy="242.24" r="0.73" fill="#2060e0"/>
<circle cx="429.07" cy="233.85" r="0.8" fill="#2a3cc0"/>
<circle cx="452.34" cy="218.08" r="0.46" fill="#c8c129"/>
<circle cx="441.63" cy="237.69" r="0.75" fill="#2060e0"/>
<circle cx="440.3" cy="213.07" r="0.7" fill="#2450d8"/>
<circle cx="474.46" cy="232.7" r="0.99" fill="#01b8c9"/>
<circle cx="447.83" cy="208.84" r="0.55" fill="#2060e0"/>
<circle cx="435.23" cy="244.26" r="0.57" fill="#18bfb6"/>
<circle cx="432.69" cy="235.33" r="0.92" fill="#05bbc1"/>
<circle cx="430.83" cy="219.16" r="0.76" fill="#0bbdbc"/>
<circle cx="457.37" cy="207.93" r="0.83" fill="#2450d8"/>
<circle cx="448.39" cy="214.7" r="0.97" fill="#f1ba37"/>
<circle cx="471.12" cy="235.53" r="0.62" fill="#21c1b0"/>
<circle cx="468.95" cy="235.62" r="0.87" fill="#2060e0"/>
<circle cx="435.62" cy="235.8" r="0.81" fill="#09bcbe"/>
<circle cx="449.04" cy="209.23" r="0.83" fill="#2060e0"/>
<circle cx="447.88" cy="207.01" r="0.47" fill="#2a3cc0"/>
<circle cx="452.2" cy="217.18" r="0.81" fill="#03b7cc"/>
<circle cx="477" cy="230.72" r="0.79" fill="#05b6ce"/>
<circle cx="435.31" cy="246" r="0.76" fill="#2450d8"/>
<circle cx="463.3" cy="209.31" r="0.93" fill="#2450d8"/>
<circle cx="451.15" cy="211.23" r="0.8" fill="#2bc3a8"/>
<circle cx="428.63" cy="230.61" r="0.52" fill="#2450d8"/>
<circle cx="461.95" cy="215.78" r="0.55" fill="#3040b8"/>
<circle cx="429.94" cy="228.81" r="0.83" fill="#2060e0"/>
<circle cx="450.42" cy="223.42" r="0.56" fill="#2060e0"/>
<circle cx="446.37" cy="209.74" r="0.52" fill="#2450d8"/>
<circle cx="465.33" cy="230.02" r="0.71" fill="#2060e0"/>
<circle cx="445.29" cy="226.9" r="0.98" fill="#fec537"/>
<circle cx="464.95" cy="247.36" r="0.95" fill="#2060e0"/>
<circle cx="480.31" cy="226.58" r="0.64" fill="#21c1b1"/>
<circle cx="448.25" cy="215.08" r="0.56" fill="#2a3cc0"/>
<circle cx="452.53" cy="213.29" r="0.86" fill="#01b8c9"/>
<circle cx="451.42" cy="240.3" r="0.67" fill="#3040b8"/>
<circle cx="468.46" cy="212.83" r="0.58" fill="#3040b8"/>
<circle cx="464.52" cy="242.7" r="0.59" fill="#3040b8"/>
<circle cx="441.48" cy="230.43" r="0.99" fill="#20c1b1"/>
<circle cx="466.47" cy="217.81" r="0.46" fill="#2fc5a3"/>
<circle cx="442.52" cy="244.28" r="0.99" fill="#01b8ca"/>
<circle cx="453.69" cy="209.9" r="0.65" fill="#3040b8"/>
<circle cx="472.69" cy="218.98" r="0.75" fill="#2a3cc0"/>
<circle cx="470.62" cy="241.13" r="0.52" fill="#2dc4a5"/>
<circle cx="460.37" cy="252.04" r="0.57" fill="#febe3c"/>
<circle cx="472.24" cy="228.77" r="0.63" fill="#16bfb7"/>
<circle cx="431.95" cy="243.87" r="0.69" fill="#3040b8"/>
<circle cx="469.69" cy="215.61" r="0.98" fill="#2060e0"/>
<circle cx="437.18" cy="226.92" r="0.83" fill="#11beba"/>
<circle cx="446.07" cy="235.07" r="0.86" fill="#d4bf28"/>
<circle cx="448.13" cy="221.54" r="0.6" fill="#cdc028"/>
<circle cx="448.15" cy="245.63" r="0.54" fill="#2a3cc0"/>
<circle cx="465.07" cy="215.47" r="0.49" fill="#2450d8"/>
<circle cx="430.74" cy="229.64" r="0.96" fill="#3040b8"/>
<circle cx="449.98" cy="213.86" r="0.86" fill="#f9d72c"/>
<circle cx="451.86" cy="220.47" r="0.95" fill="#19bfb5"/>
<circle cx="447.78" cy="225.95" r="0.77" fill="#01b9c8"/>
<circle cx="450" cy="210.51" r="0.71" fill="#2450d8"/>
<circle cx="464.09" cy="236.64" r="0.92" fill="#2a3cc0"/>
<circle cx="470.53" cy="213.97" r="0.98" fill="#05b6ce"/>
<circle cx="442.92" cy="230.09" r="0.52" fill="#3040b8"/>
<circle cx="459.7" cy="218.45" r="0.97" fill="#20c1b1"/>
<circle cx="441.95" cy="229.91" r="0.57" fill="#2a3cc0"/>
<circle cx="443.41" cy="204.34" r="0.77" fill="#04b6cd"/>
<circle cx="468.24" cy="215.06" r="0.82" fill="#2a3cc0"/>
<circle cx="448.29" cy="202.25" r="0.94" fill="#2a3cc0"/>
<circle cx="435.87" cy="251.18" r="0.52" fill="#2450d8"/>
<circle cx="453.3" cy="207.52" r="0.72" fill="#2060e0"/>
<circle cx="456.94" cy="209.24" r="0.53" fill="#2450d8"/>
<circle cx="439.01" cy="215.01" r="0.49" fill="#3040b8"/>
<circle cx="465.46" cy="240.91" r="0.64" fill="#fdcd32"/>
<circle cx="436.81" cy="248.07" r="0.68" fill="#2060e0"/>
<circle cx="424.28" cy="227.75" r="0.55" fill="#2bc3a8"/>
<circle cx="431.91" cy="236.19" r="0.82" fill="#2a3cc0"/>
<circle cx="425.33" cy="233.71" r="0.92" fill="#2a3cc0"/>
<circle cx="439.47" cy="210.14" r="0.55" fill="#02b7cb"/>
<circle cx="449.99" cy="210.54" r="0.64" fill="#03bbc3"/>
<circle cx="463.75" cy="250.01" r="0.61" fill="#01b9c7"/>
<circle cx="437.3" cy="218.37" r="0.94" fill="#08bcbf"/>
<circle cx="439.6" cy="245.64" r="0.83" fill="#05b6ce"/>
<circle cx="448.12" cy="216.7" r="0.83" fill="#1ac0b5"/>
<circle cx="439.28" cy="224.34" r="0.89" fill="#e1bc2b"/>
<circle cx="462.32" cy="205.91" r="0.87" fill="#2a3cc0"/>
<circle cx="447.7" cy="214.1" r="0.89" fill="#efba35"/>
<circle cx="457.94" cy="238.3" r="0.58" fill="#2a3cc0"/>
<circle cx="462.43" cy="224.93" r="0.45" fill="#02bbc3"/>
<circle cx="431.53" cy="232.12" r="0.58" fill="#cbc029"/>
<circle cx="450.81" cy="209.64" r="0.65" fill="#2a3cc0"/>
<circle cx="450.79" cy="246.58" r="0.91" fill="#2450d8"/>
<circle cx="468.3" cy="210.73" r="0.95" fill="#18bfb6"/>
<circle cx="452.9" cy="208.3" r="0.47" fill="#2450d8"/>
<circle cx="468.6" cy="207.9" r="0.7" fill="#2060e0"/>
<circle cx="464.01" cy="213.21" r="0.69" fill="#2ac3a9"/>
<circle cx="428.99" cy="232.62" r="0.73" fill="#2060e0"/>
<circle cx="464.72" cy="215.5" r="0.47" fill="#08bcbf"/>
<circle cx="440.5" cy="203.99" r="0.92" fill="#b5c533"/>
<circle cx="460.49" cy="247.62" r="0.92" fill="#2450d8"/>
<circle cx="480.87" cy="225.27" r="0.63" fill="#3040b8"/>
<circle cx="454.46" cy="201.91" r="0.68" fill="#3040b8"/>
<circle cx="436.64" cy="249.9" r="0.76" fill="#2060e0"/>
<circle cx="443.54" cy="226.45" r="0.72" fill="#1ec0b2"/>
<circle cx="466.99" cy="239.74" r="0.49" fill="#2450d8"/>
<circle cx="428.38" cy="224" r="0.64" fill="#2ec4a5"/>
<circle cx="461.51" cy="206.37" r="0.81" fill="#2060e0"/>
<circle cx="441.13" cy="230.84" r="0.86" fill="#05b6cd"/>
<circle cx="467.77" cy="214.35" r="0.81" fill="#3040b8"/>
<circle cx="437.7" cy="248.2" r="0.9" fill="#2450d8"/>
<circle cx="457.56" cy="232.41" r="0.51" fill="#07bcbf"/>
<circle cx="447.71" cy="231.49" r="0.63" fill="#f8d92b"/>
<circle cx="438.23" cy="216.26" r="0.89" fill="#2450d8"/>
<circle cx="444.81" cy="218.55" r="0.48" fill="#05b6cd"/>
<circle cx="467.35" cy="200.26" r="0.75" fill="#2a3cc0"/>
<circle cx="468.7" cy="225.18" r="0.88" fill="#2a3cc0"/>
<circle cx="440.31" cy="236.58" r="0.51" fill="#23c1af"/>
<circle cx="432.09" cy="233.36" r="0.57" fill="#04b6cd"/>
<circle cx="458.34" cy="216.2" r="0.7" fill="#2060e0"/>
<circle cx="454.47" cy="233.69" r="0.6" fill="#2450d8"/>
<circle cx="477.63" cy="231.17" r="0.61" fill="#1ec0b2"/>
<circle cx="451.27" cy="208.19" r="0.64" fill="#2060e0"/>
<circle cx="476.81" cy="236.23" r="0.65" fill="#08bcbe"/>
<circle cx="457.86" cy="241.51" r="0.56" fill="#3040b8"/>
<circle cx="437.22" cy="233.7" r="0.55" fill="#3040b8"/>
<circle cx="461.48" cy="247.12" r="0.72" fill="#01b9c8"/>
<circle cx="440.44" cy="237.81" r="1" fill="#2a3cc0"/>
<circle cx="436.39" cy="210.35" r="0.8" fill="#10beba"/>
<circle cx="437.47" cy="232.8" r="0.8" fill="#2a3cc0"/>
<circle cx="473.4" cy="221.24" r="0.59" fill="#2a3cc0"/>
<circle cx="440.83" cy="218.31" r="0.97" fill="#2ec4a4"/>
<circle cx="445.48" cy="201.49" r="0.75" fill="#2a3cc0"/>
<circle cx="470.26" cy="210.88" r="0.97" fill="#2450d8"/>
<circle cx="434.2" cy="248.67" r="0.48" fill="#2a3cc0"/>
<circle cx="434.03" cy="238.2" r="0.86" fill="#fabb3d"/>
<circle cx="439.51" cy="250.21" r="0.67" fill="#2450d8"/>
<circle cx="445.87" cy="247.05" r="0.64" fill="#23c1af"/>
<circle cx="454.74" cy="202.79" r="0.85" fill="#2a3cc0"/>
<circle cx="443.16" cy="223.39" r="0.74" fill="#3040b8"/>
<circle cx="453.91" cy="208.59" r="0.79" fill="#2a3cc0"/>
<circle cx="435.75" cy="220.74" r="0.63" fill="#3040b8"/>
<circle cx="470.68" cy="242.02" r="0.56" fill="#3040b8"/>
<circle cx="467.88" cy="218.94" r="0.48" fill="#3040b8"/>
<circle cx="460.16" cy="209.8" r="0.8" fill="#2a3cc0"/>
<circle cx="432.6" cy="217.86" r="0.66" fill="#3040b8"/>
<circle cx="429.59" cy="232.34" r="0.67" fill="#2060e0"/>
<circle cx="449.42" cy="238.19" r="0.91" fill="#0dbdbb"/>
<circle cx="435.44" cy="217.06" r="0.67" fill="#3040b8"/>
<circle cx="445.16" cy="205.07" r="0.56" fill="#2450d8"/>
<circle cx="468.18" cy="232.87" r="0.62" fill="#3040b8"/>
<circle cx="433.3" cy="235.23" r="0.71" fill="#2450d8"/>
<circle cx="424.23" cy="224.13" r="0.92" fill="#1cc0b3"/>
<circle cx="456.56" cy="246.98" r="0.81" fill="#2450d8"/>
<circle cx="473.61" cy="232.15" r="1" fill="#22c1af"/>
<circle cx="431.49" cy="207.94" r="0.73" fill="#3040b8"/>
<circle cx="462.73" cy="199.88" r="0.84" fill="#f5e227"/>
<circle cx="480.23" cy="227.57" r="0.84" fill="#26c2ac"/>
<circle cx="440.29" cy="237.11" r="0.86" fill="#2450d8"/>
<circle cx="448.02" cy="220.01" r="0.59" fill="#2a3cc0"/>
<circle cx="467.36" cy="232.03" r="0.85" fill="#f5e526"/>
<circle cx="434.74" cy="210.83" r="0.85" fill="#3040b8"/>
<circle cx="444.9" cy="212.19" r="0.94" fill="#2ec5a4"/>
<circle cx="441.61" cy="236.28" r="0.58" fill="#2a3cc0"/>
<circle cx="443.71" cy="251.99" r="0.7" fill="#2bc3a7"/>
<circle cx="436.3" cy="202.86" r="0.85" fill="#3040b8"/>
<circle cx="475.68" cy="232.59" r="0.97" fill="#3040b8"/>
<circle cx="424.57" cy="228.76" r="0.61" fill="#2a3cc0"/>
<circle cx="447.99" cy="226.36" r="0.94" fill="#3040b8"/>
<circle cx="476.41" cy="235.34" r="0.56" fill="#2a3cc0"/>
<circle cx="459.55" cy="219.96" r="0.92" fill="#2060e0"/>
<circle cx="454.51" cy="207.35" r="0.81" fill="#2450d8"/>
<circle cx="445.39" cy="219.56" r="0.58" fill="#febe3c"/>
<circle cx="442.53" cy="242.86" r="0.9" fill="#22c1af"/>
<circle cx="456.8" cy="224.98" r="0.93" fill="#2450d8"/>
<circle cx="447.31" cy="201.76" r="0.53" fill="#2060e0"/>
<circle cx="457.19" cy="245.09" r="0.68" fill="#2450d8"/>
<circle cx="468.15" cy="235.7" r="0.78" fill="#2060e0"/>
<circle cx="446.13" cy="217.57" r="0.52" fill="#2450d8"/>
<circle cx="437.94" cy="211.37" r="0.93" fill="#08bcbf"/>
<circle cx="426.54" cy="222.82" r="0.46" fill="#0dbdbb"/>
<circle cx="457.01" cy="231.23" r="0.53" fill="#02bac3"/>
<circle cx="443.83" cy="201.4" r="0.69" fill="#2450d8"/>
<circle cx="467.6" cy="222.3" r="0.86" fill="#2060e0"/>
<circle cx="446.53" cy="218.65" r="1" fill="#0ebebb"/>
<circle cx="435.73" cy="247.24" r="0.97" fill="#04b6cd"/>
<circle cx="442.62" cy="238.16" r="0.89" fill="#3040b8"/>
<circle cx="458.85" cy="209.9" r="0.95" fill="#05bbc1"/>
<circle cx="467.87" cy="249.58" r="1" fill="#1ec0b2"/>
<circle cx="463.71" cy="242.25" r="0.5" fill="#3040b8"/>
<circle cx="462.78" cy="201.25" r="0.98" fill="#3040b8"/>
<circle cx="464.32" cy="208.59" r="0.67" fill="#0ebebb"/>
<circle cx="465.2" cy="228.94" r="0.85" fill="#c7c12a"/>
<circle cx="440.65" cy="209.16" r="0.57" fill="#2060e0"/>
<circle cx="436.75" cy="240.14" r="0.79" fill="#28c2ab"/>
<circle cx="438.41" cy="239.12" r="0.87" fill="#2450d8"/>
<circle cx="423.74" cy="221.54" r="0.61" fill="#2ac3a9"/>
<circle cx="458.84" cy="215.48" r="0.88" fill="#2a3cc0"/>
<circle cx="442.77" cy="230.4" r="0.65" fill="#02b7ca"/>
<circle cx="465.91" cy="222.86" r="0.73" fill="#f5e825"/>
<circle cx="443.57" cy="222.14" r="0.57" fill="#11beb9"/>
<circle cx="446.28" cy="247.86" r="0.66" fill="#0ebdbb"/>
<circle cx="455.19" cy="201.01" r="0.96" fill="#2060e0"/>
<circle cx="463.23" cy="244.01" r="0.86" fill="#14beb8"/>
<circle cx="461.91" cy="250.64" r="0.47" fill="#2450d8"/>
<circle cx="468.76" cy="246.86" r="0.89" fill="#3040b8"/>
<circle cx="446.94" cy="229.96" r="0.78" fill="#b9c430"/>
<circle cx="434.09" cy="236.79" r="0.56" fill="#2060e0"/>
<circle cx="443.18" cy="200.34" r="0.8" fill="#05bbc1"/>
<circle cx="465.52" cy="236.82" r="0.62" fill="#2cc4a7"/>
<circle cx="437.7" cy="240.13" r="0.98" fill="#23c1af"/>
<circle cx="436.54" cy="200.39" r="0.83" fill="#22c1b0"/>
<circle cx="449.03" cy="248.79" r="0.62" fill="#2060e0"/>
<circle cx="471.97" cy="207.75" r="0.49" fill="#3040b8"/>
<circle cx="445.76" cy="239.97" r="0.99" fill="#22c1b0"/>
<circle cx="431.11" cy="228.27" r="0.92" fill="#2450d8"/>
<circle cx="459.61" cy="204.8" r="0.61" fill="#3040b8"/>
<circle cx="437.82" cy="218.72" r="0.51" fill="#2450d8"/>
<circle cx="427.62" cy="230.78" r="0.67" fill="#2060e0"/>
<circle cx="461.91" cy="233.93" r="0.95" fill="#2060e0"/>
<circle cx="454.46" cy="215.62" r="0.75" fill="#28c2ab"/>
<circle cx="447.18" cy="234.67" r="0.84" fill="#2450d8"/>
<circle cx="431.49" cy="217.07" r="0.83" fill="#febd3c"/>
<circle cx="466.35" cy="206.91" r="0.77" fill="#3040b8"/>
<circle cx="475.21" cy="231.7" r="0.92" fill="#3040b8"/>
<circle cx="476.46" cy="227.61" r="0.6" fill="#2a3cc0"/>
<circle cx="450.06" cy="230.23" r="0.72" fill="#2060e0"/>
<circle cx="454.06" cy="219.42" r="0.8" fill="#efba35"/>
<circle cx="436.99" cy="218.39" r="0.65" fill="#2a3cc0"/>
<circle cx="431.49" cy="217.45" r="0.75" fill="#2060e0"/>
<circle cx="475.18" cy="229.55" r="0.45" fill="#25c2ae"/>
<circle cx="435.12" cy="229.38" r="0.89" fill="#2ec5a3"/>
</g>
<rect x="391.4" y="165.8" width="121.8" height="122.2" fill="none" stroke="#1a1aff" stroke-width="0.9"/>
<path d="M410.9 288v-1.6M410.9 165.8v1.6M431.4 288v-1.6M431.4 165.8v1.6M451.9 288v-1.6M451.9 165.8v1.6M472.4 288v-1.6M472.4 165.8v1.6M492.9 288v-1.6M492.9 165.8v1.6M391.4 176.05h1.6M513.2 176.05h-1.6M391.4 186.3h1.6M513.2 186.3h-1.6M391.4 196.55h1.6M513.2 196.55h-1.6M391.4 206.8h1.6M513.2 206.8h-1.6M391.4 217.05h1.6M513.2 217.05h-1.6M391.4 227.3h1.6M513.2 227.3h-1.6M391.4 237.55h1.6M513.2 237.55h-1.6M391.4 247.8h1.6M513.2 247.8h-1.6M391.4 258.05h1.6M513.2 258.05h-1.6M391.4 268.3h1.6M513.2 268.3h-1.6M391.4 278.55h1.6M513.2 278.55h-1.6" stroke="#1a1aff" stroke-width="0.7" fill="none"/>
<text x="389.6" y="177.45" font-size="3.9" fill="#1a1aff" text-anchor="end" font-family="'Liberation Sans',Arial,sans-serif" font-weight="bold" stroke="#1a1aff" stroke-width="0.16">−25</text>
<text x="389.6" y="187.7" font-size="3.9" fill="#1a1aff" text-anchor="end" font-family="'Liberation Sans',Arial,sans-serif" font-weight="bold" stroke="#1a1aff" stroke-width="0.16">−20</text>
<text x="389.6" y="197.95" font-size="3.9" fill="#1a1aff" text-anchor="end" font-family="'Liberation Sans',Arial,sans-serif" font-weight="bold" stroke="#1a1aff" stroke-width="0.16">−15</text>
<text x="389.6" y="208.2" font-size="3.9" fill="#1a1aff" text-anchor="end" font-family="'Liberation Sans',Arial,sans-serif" font-weight="bold" stroke="#1a1aff" stroke-width="0.16">−10</text>
<text x="389.6" y="218.45" font-size="3.9" fill="#1a1aff" text-anchor="end" font-family="'Liberation Sans',Arial,sans-serif" font-weight="bold" stroke="#1a1aff" stroke-width="0.16">−5</text>
<text x="389.6" y="228.7" font-size="3.9" fill="#1a1aff" text-anchor="end" font-family="'Liberation Sans',Arial,sans-serif" font-weight="bold" stroke="#1a1aff" stroke-width="0.16">0</text>
<text x="389.6" y="238.95" font-size="3.9" fill="#1a1aff" text-anchor="end" font-family="'Liberation Sans',Arial,sans-serif" font-weight="bold" stroke="#1a1aff" stroke-width="0.16">5</text>
<text x="389.6" y="249.2" font-size="3.9" fill="#1a1aff" text-anchor="end" font-family="'Liberation Sans',Arial,sans-serif" font-weight="bold" stroke="#1a1aff" stroke-width="0.16">10</text>
<text x="389.6" y="259.45" font-size="3.9" fill="#1a1aff" text-anchor="end" font-family="'Liberation Sans',Arial,sans-serif" font-weight="bold" stroke="#1a1aff" stroke-width="0.16">15</text>
<text x="389.6" y="269.7" font-size="3.9" fill="#1a1aff" text-anchor="end" font-family="'Liberation Sans',Arial,sans-serif" font-weight="bold" stroke="#1a1aff" stroke-width="0.16">20</text>
<text x="389.6" y="279.95" font-size="3.9" fill="#1a1aff" text-anchor="end" font-family="'Liberation Sans',Arial,sans-serif" font-weight="bold" stroke="#1a1aff" stroke-width="0.16">25</text>
<text x="410.9" y="294" font-size="3.9" fill="#1a1aff" text-anchor="middle" font-family="'Liberation Sans',Arial,sans-serif" font-weight="bold" stroke="#1a1aff" stroke-width="0.16">−20</text>
<text x="431.4" y="294" font-size="3.9" fill="#1a1aff" text-anchor="middle" font-family="'Liberation Sans',Arial,sans-serif" font-weight="bold" stroke="#1a1aff" stroke-width="0.16">−10</text>
<text x="451.9" y="294" font-size="3.9" fill="#1a1aff" text-anchor="middle" font-family="'Liberation Sans',Arial,sans-serif" font-weight="bold" stroke="#1a1aff" stroke-width="0.16">0</text>
<text x="472.4" y="294" font-size="3.9" fill="#1a1aff" text-anchor="middle" font-family="'Liberation Sans',Arial,sans-serif" font-weight="bold" stroke="#1a1aff" stroke-width="0.16">10</text>
<text x="492.9" y="294" font-size="3.9" fill="#1a1aff" text-anchor="middle" font-family="'Liberation Sans',Arial,sans-serif" font-weight="bold" stroke="#1a1aff" stroke-width="0.16">20</text>
<text x="451.9" y="300.8" font-size="4.2" fill="#1a1aff" text-anchor="middle" font-family="'Liberation Sans',Arial,sans-serif" font-weight="bold" stroke="#1a1aff" stroke-width="0.16">x (mm)</text>
<text x="381.7" y="227.3" font-size="4.2" fill="#1a1aff" text-anchor="middle" font-family="'Liberation Sans',Arial,sans-serif" font-weight="bold" transform="rotate(-90 381.7 227.3)" stroke="#1a1aff" stroke-width="0.16">y (mm)</text>
<text x="451.9" y="164.6" font-size="4.54" fill="#111" text-anchor="middle" font-family="'Liberation Sans',Arial,sans-serif" font-weight="bold" stroke="#111" stroke-width="0.16">Reconstructed Image with Positive Phase Contrast</text>
<defs><linearGradient id="cbf" x1="0" y1="0" x2="0" y2="1"><stop offset="0" stop-color="#f9fb15"/><stop offset="0.03" stop-color="#f6ef20"/><stop offset="0.06" stop-color="#f5e327"/><stop offset="0.09" stop-color="#f9d62d"/><stop offset="0.12" stop-color="#feca33"/><stop offset="0.16" stop-color="#febe3c"/><stop offset="0.19" stop-color="#f1ba37"/><stop offset="0.22" stop-color="#debc2a"/><stop offset="0.25" stop-color="#c8c129"/><stop offset="0.28" stop-color="#afc637"/><stop offset="0.31" stop-color="#94ca4a"/><stop offset="0.34" stop-color="#77cc60"/><stop offset="0.38" stop-color="#5ccc76"/><stop offset="0.41" stop-color="#44ca8a"/><stop offset="0.44" stop-color="#34c79c"/><stop offset="0.47" stop-color="#28c2ab"/><stop offset="0.5" stop-color="#12beb9"/><stop offset="0.53" stop-color="#01b9c6"/><stop offset="0.56" stop-color="#0cb3d3"/><stop offset="0.59" stop-color="#1aacdd"/><stop offset="0.62" stop-color="#21a3e3"/><stop offset="0.66" stop-color="#269ae9"/><stop offset="0.69" stop-color="#2c90f0"/><stop offset="0.72" stop-color="#2e85f8"/><stop offset="0.75" stop-color="#347afd"/><stop offset="0.78" stop-color="#3f6efe"/><stop offset="0.81" stop-color="#4562fc"/><stop offset="0.84" stop-color="#4757f7"/><stop offset="0.88" stop-color="#484cef"/><stop offset="0.91" stop-color="#4741e5"/><stop offset="0.94" stop-color="#4536d5"/><stop offset="0.97" stop-color="#422ebf"/><stop offset="1" stop-color="#3e26a8"/></linearGradient></defs>
<rect x="516.7" y="166" width="7" height="121.4" fill="url(#cbf)" stroke="#333" stroke-width="0.3"/>
<text x="525.5" y="276.7" font-size="3.6" fill="#222" text-anchor="start" font-family="'Liberation Sans',Arial,sans-serif" stroke="#222" stroke-width="0.16">0.1</text>
<text x="525.5" y="264.7" font-size="3.6" fill="#222" text-anchor="start" font-family="'Liberation Sans',Arial,sans-serif" stroke="#222" stroke-width="0.16">0.2</text>
<text x="525.5" y="252.7" font-size="3.6" fill="#222" text-anchor="start" font-family="'Liberation Sans',Arial,sans-serif" stroke="#222" stroke-width="0.16">0.3</text>
<text x="525.5" y="240.7" font-size="3.6" fill="#222" text-anchor="start" font-family="'Liberation Sans',Arial,sans-serif" stroke="#222" stroke-width="0.16">0.4</text>
<text x="525.5" y="228.7" font-size="3.6" fill="#222" text-anchor="start" font-family="'Liberation Sans',Arial,sans-serif" stroke="#222" stroke-width="0.16">0.5</text>
<text x="525.5" y="216.7" font-size="3.6" fill="#222" text-anchor="start" font-family="'Liberation Sans',Arial,sans-serif" stroke="#222" stroke-width="0.16">0.6</text>
<text x="525.5" y="204.7" font-size="3.6" fill="#222" text-anchor="start" font-family="'Liberation Sans',Arial,sans-serif" stroke="#222" stroke-width="0.16">0.7</text>
<text x="525.5" y="192.7" font-size="3.6" fill="#222" text-anchor="start" font-family="'Liberation Sans',Arial,sans-serif" stroke="#222" stroke-width="0.16">0.8</text>
<text x="525.5" y="180.7" font-size="3.6" fill="#222" text-anchor="start" font-family="'Liberation Sans',Arial,sans-serif" stroke="#222" stroke-width="0.16">0.9</text>
<text x="525.5" y="168.7" font-size="3.6" fill="#222" text-anchor="start" font-family="'Liberation Sans',Arial,sans-serif" stroke="#222" stroke-width="0.16">1</text>
<rect x="14.6" y="327.1" width="123.6" height="123.3" fill="#3a278f"/>
<rect x="33.7" y="346.5" width="84.9" height="84.7" fill="#4367fd"/>
<rect x="35.7" y="348.5" width="80.9" height="80.7" fill="#2480e6"/>
<rect x="37.5" y="350.3" width="77.3" height="77.1" fill="none" stroke="#2a9ee0" stroke-width="1.6" opacity="0.85"/>
<circle cx="62.96" cy="362.77" r="1.98" fill="#2068e0" opacity="0.3"/>
<circle cx="78.84" cy="378.82" r="1.09" fill="#2a9ae0" opacity="0.3"/>
<circle cx="41.51" cy="383.89" r="1.1" fill="#2068e0" opacity="0.3"/>
<circle cx="70.5" cy="413.27" r="1.19" fill="#2068e0" opacity="0.3"/>
<circle cx="85.69" cy="422.29" r="1.87" fill="#2068e0" opacity="0.3"/>
<circle cx="111.82" cy="354.98" r="2.29" fill="#2068e0" opacity="0.3"/>
<circle cx="49.5" cy="360.3" r="1.46" fill="#2a9ae0" opacity="0.3"/>
<circle cx="52.24" cy="394.95" r="1.96" fill="#2068e0" opacity="0.3"/>
<circle cx="79.73" cy="356.19" r="1.09" fill="#2068e0" opacity="0.3"/>
<circle cx="89.66" cy="383.44" r="1.47" fill="#2a9ae0" opacity="0.3"/>
<circle cx="72.64" cy="373.89" r="2.19" fill="#2a9ae0" opacity="0.3"/>
<circle cx="56.98" cy="394.41" r="1.79" fill="#2a9ae0" opacity="0.3"/>
<circle cx="93.34" cy="373.01" r="2.47" fill="#2068e0" opacity="0.3"/>
<circle cx="70.02" cy="408.06" r="1.23" fill="#2068e0" opacity="0.3"/>
<circle cx="41.64" cy="401.42" r="2.15" fill="#2a9ae0" opacity="0.3"/>
<circle cx="104.27" cy="374.94" r="2.04" fill="#2a9ae0" opacity="0.3"/>
<circle cx="82.13" cy="385.58" r="2.26" fill="#2a9ae0" opacity="0.3"/>
<circle cx="74.21" cy="401.11" r="1.09" fill="#2a9ae0" opacity="0.3"/>
<circle cx="87.17" cy="425.68" r="2.23" fill="#2068e0" opacity="0.3"/>
<circle cx="67.6" cy="401.45" r="1.03" fill="#2068e0" opacity="0.3"/>
<circle cx="51.29" cy="360.25" r="1.09" fill="#2a9ae0" opacity="0.3"/>
<circle cx="48.39" cy="370" r="1.59" fill="#2a9ae0" opacity="0.3"/>
<circle cx="44.74" cy="385.05" r="1.82" fill="#2a9ae0" opacity="0.3"/>
<circle cx="100.06" cy="416.04" r="1.42" fill="#2068e0" opacity="0.3"/>
<circle cx="65.57" cy="417.55" r="2.44" fill="#2068e0" opacity="0.3"/>
<circle cx="51.9" cy="368.83" r="1.35" fill="#2068e0" opacity="0.3"/>
<circle cx="82.83" cy="371.13" r="1.01" fill="#2068e0" opacity="0.3"/>
<circle cx="66.36" cy="393.81" r="2.43" fill="#2a9ae0" opacity="0.3"/>
<circle cx="77.31" cy="397.63" r="2.01" fill="#2068e0" opacity="0.3"/>
<circle cx="106.08" cy="409.76" r="2.31" fill="#2a9ae0" opacity="0.3"/>
<circle cx="68.09" cy="381.3" r="1.16" fill="#2a9ae0" opacity="0.3"/>
<circle cx="43.36" cy="356.53" r="1.31" fill="#2068e0" opacity="0.3"/>
<circle cx="64.17" cy="355.43" r="1" fill="#2068e0" opacity="0.3"/>
<circle cx="46.3" cy="378.66" r="1.04" fill="#2a9ae0" opacity="0.3"/>
<circle cx="84.69" cy="362.6" r="1.38" fill="#2068e0" opacity="0.3"/>
<circle cx="65.98" cy="360.68" r="2.27" fill="#2a9ae0" opacity="0.3"/>
<circle cx="73.6" cy="387.64" r="1.13" fill="#2068e0" opacity="0.3"/>
<circle cx="64.36" cy="371.28" r="2.24" fill="#2068e0" opacity="0.3"/>
<circle cx="40.43" cy="422.54" r="1.79" fill="#2068e0" opacity="0.3"/>
<circle cx="79.38" cy="353.52" r="1.79" fill="#2a9ae0" opacity="0.3"/>
<circle cx="103.36" cy="403.51" r="1.39" fill="#2068e0" opacity="0.3"/>
<circle cx="51.21" cy="409.16" r="1.8" fill="#2a9ae0" opacity="0.3"/>
<circle cx="63.39" cy="368.16" r="2.22" fill="#2a9ae0" opacity="0.3"/>
<circle cx="102.56" cy="411.71" r="2.23" fill="#2a9ae0" opacity="0.3"/>
<circle cx="55.68" cy="390.17" r="1.53" fill="#2068e0" opacity="0.3"/>
<circle cx="40.79" cy="372.37" r="1.39" fill="#2a9ae0" opacity="0.3"/>
<circle cx="110.34" cy="384.91" r="2.41" fill="#2a9ae0" opacity="0.3"/>
<circle cx="110.23" cy="378.74" r="1.33" fill="#2068e0" opacity="0.3"/>
<circle cx="53.43" cy="366.77" r="1.94" fill="#2a9ae0" opacity="0.3"/>
<circle cx="101.65" cy="387.32" r="1.98" fill="#2a9ae0" opacity="0.3"/>
<circle cx="45.05" cy="400.85" r="2.36" fill="#2a9ae0" opacity="0.3"/>
<circle cx="94.89" cy="387.21" r="1.27" fill="#2a9ae0" opacity="0.3"/>
<circle cx="63.61" cy="411.32" r="2.46" fill="#2068e0" opacity="0.3"/>
<circle cx="68.76" cy="422.23" r="2.09" fill="#2068e0" opacity="0.3"/>
<circle cx="48.22" cy="362.79" r="2.36" fill="#2a9ae0" opacity="0.3"/>
<circle cx="49.65" cy="413.24" r="2.47" fill="#2a9ae0" opacity="0.3"/>
<circle cx="64.95" cy="392.48" r="1.2" fill="#2068e0" opacity="0.3"/>
<circle cx="111.42" cy="400.03" r="1.79" fill="#2a9ae0" opacity="0.3"/>
<circle cx="71.19" cy="416.62" r="2.24" fill="#2068e0" opacity="0.3"/>
<circle cx="57.56" cy="373.38" r="1.36" fill="#2a9ae0" opacity="0.3"/>
<circle cx="58.13" cy="382.8" r="1.2" fill="#2a9ae0" opacity="0.3"/>
<circle cx="65.2" cy="385.72" r="1.88" fill="#2a9ae0" opacity="0.3"/>
<circle cx="70.21" cy="420.05" r="1.75" fill="#2a9ae0" opacity="0.3"/>
<circle cx="77.91" cy="352.9" r="1.66" fill="#2068e0" opacity="0.3"/>
<circle cx="38.99" cy="411.2" r="1.26" fill="#2068e0" opacity="0.3"/>
<circle cx="93.02" cy="393.07" r="1.49" fill="#2a9ae0" opacity="0.3"/>
<circle cx="80.3" cy="410.09" r="1.16" fill="#2a9ae0" opacity="0.3"/>
<circle cx="57.31" cy="372.19" r="2.16" fill="#2a9ae0" opacity="0.3"/>
<circle cx="80.77" cy="408.27" r="2.37" fill="#2068e0" opacity="0.3"/>
<circle cx="84.58" cy="389.26" r="1.77" fill="#2a9ae0" opacity="0.3"/>
<circle cx="72.58" cy="391.34" r="1.72" fill="#2a9ae0" opacity="0.3"/>
<circle cx="91.07" cy="416.98" r="2.41" fill="#2068e0" opacity="0.3"/>
<circle cx="80.61" cy="421.96" r="2.26" fill="#2068e0" opacity="0.3"/>
<circle cx="47.81" cy="384.53" r="1.11" fill="#2068e0" opacity="0.3"/>
<circle cx="44.18" cy="401.51" r="2.18" fill="#2a9ae0" opacity="0.3"/>
<circle cx="50.27" cy="404.99" r="1.99" fill="#2068e0" opacity="0.3"/>
<circle cx="104.82" cy="423.78" r="1.33" fill="#2a9ae0" opacity="0.3"/>
<circle cx="68.53" cy="387.9" r="2.48" fill="#2a9ae0" opacity="0.3"/>
<circle cx="50.79" cy="383.73" r="1.77" fill="#2068e0" opacity="0.3"/>
<circle cx="53.36" cy="375.29" r="2.08" fill="#2068e0" opacity="0.3"/>
<circle cx="80.2" cy="384.4" r="1.03" fill="#2068e0" opacity="0.3"/>
<circle cx="85.43" cy="389.77" r="1.1" fill="#2a9ae0" opacity="0.3"/>
<circle cx="97.75" cy="424.09" r="1.16" fill="#2068e0" opacity="0.3"/>
<circle cx="41.67" cy="409.69" r="1.41" fill="#2068e0" opacity="0.3"/>
<circle cx="70.33" cy="419.58" r="2.23" fill="#2068e0" opacity="0.3"/>
<circle cx="49.89" cy="420.16" r="1.86" fill="#2a9ae0" opacity="0.3"/>
<circle cx="45.4" cy="355.8" r="2.03" fill="#2068e0" opacity="0.3"/>
<circle cx="44.12" cy="421.59" r="1.95" fill="#2a9ae0" opacity="0.3"/>
<circle cx="44.97" cy="415.46" r="1.1" fill="#2a9ae0" opacity="0.3"/>
<circle cx="72.69" cy="376.83" r="1.83" fill="#2a9ae0" opacity="0.3"/>
<circle cx="58.76" cy="361.15" r="1.79" fill="#2068e0" opacity="0.3"/>
<circle cx="46.9" cy="363.56" r="1.08" fill="#2068e0" opacity="0.3"/>
<circle cx="62.07" cy="374.28" r="2.14" fill="#2068e0" opacity="0.3"/>
<circle cx="76.16" cy="364.79" r="1.52" fill="#2068e0" opacity="0.3"/>
<circle cx="57.46" cy="352.65" r="2.1" fill="#2a9ae0" opacity="0.3"/>
<circle cx="52.89" cy="386.96" r="2.4" fill="#2068e0" opacity="0.3"/>
<circle cx="100.04" cy="383.78" r="1.74" fill="#2a9ae0" opacity="0.3"/>
<circle cx="68.14" cy="389.35" r="2.03" fill="#2a9ae0" opacity="0.3"/>
<circle cx="64.37" cy="413.67" r="2.06" fill="#2a9ae0" opacity="0.3"/>
<circle cx="69.01" cy="377.46" r="1.08" fill="#2068e0" opacity="0.3"/>
<circle cx="44" cy="406.84" r="1.38" fill="#2068e0" opacity="0.3"/>
<circle cx="45.03" cy="414.34" r="2.31" fill="#2a9ae0" opacity="0.3"/>
<circle cx="59.82" cy="369.59" r="1.44" fill="#2068e0" opacity="0.3"/>
<circle cx="50.5" cy="384.8" r="1.39" fill="#2a9ae0" opacity="0.3"/>
<circle cx="111.55" cy="392.37" r="1.37" fill="#2a9ae0" opacity="0.3"/>
<circle cx="61.89" cy="378.14" r="1" fill="#2068e0" opacity="0.3"/>
<circle cx="74.25" cy="389.06" r="1.3" fill="#2a9ae0" opacity="0.3"/>
<circle cx="39.07" cy="371.23" r="1.13" fill="#2068e0" opacity="0.3"/>
<circle cx="41.82" cy="353.18" r="1.46" fill="#2068e0" opacity="0.3"/>
<circle cx="82.56" cy="391.03" r="2.13" fill="#2a9ae0" opacity="0.3"/>
<circle cx="92.33" cy="417.17" r="1.58" fill="#2068e0" opacity="0.3"/>
<circle cx="112.46" cy="362.66" r="2.09" fill="#2a9ae0" opacity="0.3"/>
<circle cx="41.98" cy="413.9" r="2.34" fill="#2a9ae0" opacity="0.3"/>
<circle cx="93.67" cy="412.17" r="1.21" fill="#2a9ae0" opacity="0.3"/>
<circle cx="76.48" cy="413.87" r="2.21" fill="#2a9ae0" opacity="0.3"/>
<circle cx="82.45" cy="418.19" r="2.02" fill="#2a9ae0" opacity="0.3"/>
<circle cx="55.92" cy="353.83" r="1.2" fill="#2068e0" opacity="0.3"/>
<circle cx="46.56" cy="413.94" r="1.84" fill="#2a9ae0" opacity="0.3"/>
<circle cx="85.6" cy="402.35" r="1.73" fill="#2068e0" opacity="0.3"/>
<circle cx="98.45" cy="407.4" r="1.75" fill="#2a9ae0" opacity="0.3"/>
<circle cx="88.08" cy="356.43" r="2.11" fill="#2068e0" opacity="0.3"/>
<circle cx="44.28" cy="371.34" r="2.09" fill="#2068e0" opacity="0.3"/>
<circle cx="94.11" cy="424.39" r="1.74" fill="#2068e0" opacity="0.3"/>
<circle cx="74.58" cy="402.57" r="2.15" fill="#2a9ae0" opacity="0.3"/>
<circle cx="86.84" cy="357.29" r="1.22" fill="#2068e0" opacity="0.3"/>
<circle cx="94.37" cy="374.24" r="1.85" fill="#2068e0" opacity="0.3"/>
<circle cx="43.24" cy="371.58" r="2.01" fill="#2a9ae0" opacity="0.3"/>
<circle cx="89.31" cy="373.23" r="1.77" fill="#2068e0" opacity="0.3"/>
<circle cx="73.63" cy="360.35" r="2.34" fill="#2068e0" opacity="0.3"/>
<circle cx="111.96" cy="421.44" r="1.03" fill="#2068e0" opacity="0.3"/>
<circle cx="100.11" cy="423.82" r="1.67" fill="#2068e0" opacity="0.3"/>
<circle cx="54.42" cy="422.14" r="1.32" fill="#2a9ae0" opacity="0.3"/>
<circle cx="49.32" cy="390.65" r="2.43" fill="#2068e0" opacity="0.3"/>
<circle cx="100.13" cy="389.5" r="2.33" fill="#2a9ae0" opacity="0.3"/>
<circle cx="56.03" cy="418.56" r="1.73" fill="#2068e0" opacity="0.3"/>
<circle cx="38.97" cy="388.23" r="1.68" fill="#2068e0" opacity="0.3"/>
<circle cx="49.24" cy="377.19" r="1.47" fill="#2a9ae0" opacity="0.3"/>
<circle cx="38.83" cy="407.58" r="2.26" fill="#2068e0" opacity="0.3"/>
<circle cx="108.09" cy="404.76" r="2.35" fill="#2068e0" opacity="0.3"/>
<circle cx="66.58" cy="380.85" r="2.5" fill="#2a9ae0" opacity="0.3"/>
<g transform="translate(75.3 388.6) scale(1 1.06) translate(-75.3 -388.6)">
<polygon points="107.8,388.6 101.19,377.16 87.98,377.16 81.38,388.6 87.98,400.04 101.19,400.04" fill="#2278e4" stroke="#3bc992" stroke-width="1.15"/>
<polygon points="98.16,371.9 91.55,360.45 78.34,360.45 71.73,371.9 78.34,383.34 91.55,383.34" fill="#2278e4" stroke="#3bc992" stroke-width="1.15"/>
<polygon points="78.87,371.9 72.26,360.45 59.05,360.45 52.44,371.9 59.05,383.34 72.26,383.34" fill="#2278e4" stroke="#3bc992" stroke-width="1.15"/>
<polygon points="69.22,388.6 62.62,377.16 49.41,377.16 42.8,388.6 49.41,400.04 62.62,400.04" fill="#2278e4" stroke="#3bc992" stroke-width="1.15"/>
<polygon points="78.87,405.3 72.26,393.86 59.05,393.86 52.44,405.3 59.05,416.75 72.26,416.75" fill="#2278e4" stroke="#3bc992" stroke-width="1.15"/>
<polygon points="98.16,405.3 91.55,393.86 78.34,393.86 71.73,405.3 78.34,416.75 91.55,416.75" fill="#2278e4" stroke="#3bc992" stroke-width="1.15"/>
<polygon points="107.2,388.6 100.89,377.68 88.28,377.68 81.98,388.6 88.28,399.52 100.89,399.52" fill="#2278e4"/>
<polygon points="97.56,371.9 91.25,360.97 78.64,360.97 72.33,371.9 78.64,382.82 91.25,382.82" fill="#2278e4"/>
<polygon points="78.27,371.9 71.96,360.97 59.35,360.97 53.04,371.9 59.35,382.82 71.96,382.82" fill="#2278e4"/>
<polygon points="68.62,388.6 62.32,377.68 49.71,377.68 43.4,388.6 49.71,399.52 62.32,399.52" fill="#2278e4"/>
<polygon points="78.27,405.3 71.96,394.38 59.35,394.38 53.04,405.3 59.35,416.23 71.96,416.23" fill="#2278e4"/>
<polygon points="97.56,405.3 91.25,394.38 78.64,394.38 72.33,405.3 78.64,416.23 91.25,416.23" fill="#2278e4"/>
<polygon points="84.89,383.06 75.3,377.52 65.71,383.06 65.71,394.14 75.3,399.68 84.89,394.14" fill="#2278e4"/>
<circle cx="59.01" cy="373.37" r="0.51" fill="#bbc42f"/>
<circle cx="76.01" cy="368.44" r="0.6" fill="#19bfb5"/>
<circle cx="83.81" cy="415.47" r="0.53" fill="#04bbc2"/>
<circle cx="103.95" cy="391.8" r="0.65" fill="#eabb30"/>
<circle cx="90.4" cy="385.41" r="0.65" fill="#06bcc0"/>
<circle cx="91.72" cy="397.99" r="0.7" fill="#24c1ae"/>
<circle cx="73.49" cy="378.44" r="0.74" fill="#02bac3"/>
<circle cx="62.16" cy="404.14" r="0.53" fill="#7fcc5a"/>
<circle cx="85.44" cy="375.65" r="0.43" fill="#7ecc5b"/>
<circle cx="79.03" cy="381.73" r="0.72" fill="#6ccd68"/>
<circle cx="75.11" cy="370.4" r="0.55" fill="#9fc942"/>
<circle cx="72.05" cy="365.17" r="0.48" fill="#5acc78"/>
<circle cx="65.03" cy="362.02" r="0.85" fill="#01bac5"/>
<circle cx="58.34" cy="372.89" r="0.72" fill="#2bc3a7"/>
<circle cx="79.83" cy="413.77" r="0.45" fill="#acc738"/>
<circle cx="91.53" cy="382.93" r="0.49" fill="#59cc78"/>
<circle cx="69.7" cy="390.17" r="0.81" fill="#2fc5a3"/>
<circle cx="67.3" cy="378.08" r="0.82" fill="#0ebdbb"/>
<circle cx="75.52" cy="397.03" r="0.51" fill="#422ebe"/>
<circle cx="60.42" cy="372.25" r="0.41" fill="#3ac994"/>
<circle cx="68.78" cy="385.08" r="0.53" fill="#422ebe"/>
<circle cx="101.02" cy="386.86" r="0.69" fill="#41ca8c"/>
<circle cx="76.75" cy="400.43" r="0.48" fill="#3ac994"/>
<circle cx="84.88" cy="405.81" r="0.73" fill="#7bcc5d"/>
<circle cx="72.53" cy="391.95" r="0.77" fill="#422ebe"/>
<circle cx="84.76" cy="375.85" r="0.57" fill="#1bc0b4"/>
<circle cx="84.16" cy="401.51" r="0.77" fill="#5fcd73"/>
<circle cx="76.89" cy="393.99" r="0.66" fill="#39c895"/>
<circle cx="68.03" cy="370.63" r="0.72" fill="#42ca8b"/>
<circle cx="62.4" cy="386.04" r="0.62" fill="#75cc61"/>
<circle cx="100.25" cy="386.99" r="0.53" fill="#01bac5"/>
<circle cx="58.06" cy="372.16" r="0.71" fill="#aec637"/>
<circle cx="70.1" cy="372.82" r="0.84" fill="#5fcd73"/>
<circle cx="64.77" cy="383.44" r="0.6" fill="#ddbd29"/>
<circle cx="87.17" cy="368.98" r="0.4" fill="#3bc992"/>
<circle cx="94.61" cy="404.14" r="0.75" fill="#8fcb4e"/>
<circle cx="75.62" cy="369.44" r="0.7" fill="#aac73a"/>
<circle cx="96.1" cy="371.1" r="0.55" fill="#d4bf28"/>
<circle cx="57.19" cy="405.53" r="0.77" fill="#06bcc0"/>
<circle cx="75.02" cy="368.28" r="0.53" fill="#c4c22b"/>
<circle cx="57.32" cy="383.21" r="0.56" fill="#67cd6c"/>
<circle cx="52.31" cy="381.67" r="0.55" fill="#fbbc3d"/>
<circle cx="85.99" cy="380.71" r="0.81" fill="#45cb88"/>
<circle cx="67.1" cy="377.66" r="0.83" fill="#38c896"/>
<circle cx="60.99" cy="378.95" r="0.43" fill="#2ec4a4"/>
<circle cx="65.98" cy="409.5" r="0.53" fill="#43ca8a"/>
<circle cx="96.23" cy="384.21" r="0.62" fill="#13beb8"/>
<circle cx="46" cy="386.88" r="0.55" fill="#01b8c8"/>
<circle cx="55.35" cy="379.78" r="0.48" fill="#23c1af"/>
<circle cx="69.5" cy="408.87" r="0.44" fill="#1cc0b4"/>
<circle cx="91.37" cy="414.51" r="0.66" fill="#bec32e"/>
<circle cx="64.84" cy="373.8" r="0.65" fill="#6dcd68"/>
<circle cx="59.84" cy="402.68" r="0.48" fill="#2ac3a8"/>
<circle cx="63.37" cy="374.02" r="0.45" fill="#0ebdbb"/>
<circle cx="58" cy="386.99" r="0.44" fill="#89cb53"/>
<circle cx="67.92" cy="372.42" r="0.62" fill="#0bbdbd"/>
<circle cx="70.75" cy="388.18" r="0.66" fill="#422ebe"/>
<circle cx="94.97" cy="404.1" r="0.63" fill="#01bac5"/>
<circle cx="96.28" cy="406.33" r="0.58" fill="#adc638"/>
<circle cx="82.27" cy="377.41" r="0.79" fill="#33c69d"/>
<circle cx="63.57" cy="379.62" r="0.74" fill="#fdbd3d"/>
<circle cx="55.63" cy="405.04" r="0.72" fill="#ecba32"/>
<circle cx="60.02" cy="361.57" r="0.58" fill="#fabb3d"/>
<circle cx="49.07" cy="388.5" r="0.65" fill="#03bbc2"/>
<circle cx="88.94" cy="385.15" r="0.75" fill="#86cb55"/>
<circle cx="58.02" cy="383.19" r="0.57" fill="#c9c129"/>
<circle cx="83.12" cy="399.92" r="0.5" fill="#dbbd28"/>
<circle cx="91.42" cy="411.15" r="0.59" fill="#2ec5a4"/>
<circle cx="85.99" cy="363.98" r="0.79" fill="#40ca8d"/>
<circle cx="79.65" cy="380.34" r="0.79" fill="#e0bc2a"/>
<circle cx="90.77" cy="369.05" r="0.55" fill="#31c6a0"/>
<circle cx="58.88" cy="372.05" r="0.77" fill="#a1c840"/>
<circle cx="80.39" cy="377.31" r="0.73" fill="#33c79d"/>
<circle cx="75.78" cy="371.14" r="0.42" fill="#02bac4"/>
<circle cx="95.35" cy="398.57" r="0.65" fill="#02bac3"/>
<circle cx="73.66" cy="409.34" r="0.82" fill="#0ebdbb"/>
<circle cx="99.1" cy="385.29" r="0.49" fill="#edba33"/>
<circle cx="59.7" cy="406.66" r="0.66" fill="#5bcc76"/>
<circle cx="81.55" cy="396.4" r="0.45" fill="#07bcbf"/>
<circle cx="56.95" cy="380.07" r="0.65" fill="#d8be28"/>
<circle cx="59.37" cy="395.06" r="0.57" fill="#f1ba37"/>
<circle cx="85.16" cy="369.32" r="0.64" fill="#38c896"/>
<circle cx="86.89" cy="368.13" r="0.83" fill="#9bc945"/>
<circle cx="63.09" cy="369.32" r="0.47" fill="#f1ba37"/>
<circle cx="94.49" cy="391.72" r="0.76" fill="#7acc5d"/>
<circle cx="68.49" cy="391.86" r="0.77" fill="#1ec0b2"/>
<circle cx="84.35" cy="362.02" r="0.61" fill="#edba34"/>
<circle cx="69.44" cy="374.51" r="0.58" fill="#2ec4a4"/>
<circle cx="63.1" cy="392.92" r="0.43" fill="#81cc58"/>
<circle cx="66.45" cy="368.92" r="0.8" fill="#01b9c7"/>
<circle cx="90.12" cy="369.34" r="0.48" fill="#b3c534"/>
<circle cx="70.34" cy="409.42" r="0.66" fill="#9dc943"/>
<circle cx="69.2" cy="413.48" r="0.4" fill="#18bfb6"/>
<circle cx="72.76" cy="366.67" r="0.41" fill="#fcbd3d"/>
<circle cx="84.44" cy="415.24" r="0.42" fill="#d5be28"/>
<circle cx="48.59" cy="396.54" r="0.52" fill="#b9c431"/>
<circle cx="66.9" cy="388.89" r="0.52" fill="#29c3aa"/>
<circle cx="49.87" cy="387.98" r="0.83" fill="#01b8c8"/>
<circle cx="101.57" cy="396.42" r="0.65" fill="#3cc991"/>
<circle cx="93.88" cy="370.53" r="0.75" fill="#2fc5a3"/>
<circle cx="69.09" cy="411.11" r="0.56" fill="#e7bb2e"/>
<circle cx="56.98" cy="382.08" r="0.79" fill="#31c69f"/>
<circle cx="76.46" cy="381.03" r="0.54" fill="#34c79b"/>
<circle cx="89.92" cy="414.42" r="0.63" fill="#19bfb5"/>
<circle cx="81.77" cy="391.85" r="0.65" fill="#62cd70"/>
<circle cx="83.56" cy="376" r="0.55" fill="#fcbd3d"/>
<circle cx="70.1" cy="393.97" r="0.62" fill="#422ebe"/>
<circle cx="70.47" cy="398.92" r="0.51" fill="#9cc944"/>
<circle cx="71.84" cy="384.59" r="0.46" fill="#422ebe"/>
<circle cx="74.62" cy="371.39" r="0.79" fill="#aec637"/>
<circle cx="92.43" cy="406.8" r="0.66" fill="#78cc5f"/>
<circle cx="72.59" cy="367.77" r="0.43" fill="#94ca4a"/>
<circle cx="51.15" cy="384.09" r="0.73" fill="#42ca8c"/>
<circle cx="48.76" cy="384.83" r="0.55" fill="#2cc4a6"/>
<circle cx="84.17" cy="361.45" r="0.44" fill="#c7c12a"/>
<circle cx="90.48" cy="406.65" r="0.84" fill="#e4bb2c"/>
<circle cx="75.56" cy="380.66" r="0.59" fill="#01b9c6"/>
<circle cx="90.39" cy="409.07" r="0.62" fill="#11beba"/>
<circle cx="91.95" cy="366.42" r="0.52" fill="#77cc60"/>
<circle cx="56.34" cy="373.19" r="0.52" fill="#0abdbd"/>
<circle cx="75.69" cy="376.84" r="0.58" fill="#cac129"/>
<circle cx="86.98" cy="414.3" r="0.79" fill="#08bcbe"/>
<circle cx="50.28" cy="390.6" r="0.73" fill="#2dc4a5"/>
<circle cx="84.16" cy="379.49" r="0.44" fill="#3dc991"/>
<circle cx="99.54" cy="392.19" r="0.55" fill="#7ccc5c"/>
<circle cx="80.5" cy="413.46" r="0.64" fill="#2fc5a2"/>
<circle cx="83.74" cy="381.73" r="0.82" fill="#98ca47"/>
<circle cx="94.65" cy="373.31" r="0.74" fill="#1fc0b2"/>
<circle cx="66.22" cy="405.8" r="0.71" fill="#62cd71"/>
<circle cx="71.55" cy="367.59" r="0.59" fill="#cec028"/>
<circle cx="96.09" cy="372.59" r="0.55" fill="#c9c129"/>
<circle cx="80.88" cy="399.24" r="0.52" fill="#5acc77"/>
<circle cx="82.84" cy="384.2" r="0.82" fill="#47cb87"/>
<circle cx="49.71" cy="379.31" r="0.43" fill="#34c79c"/>
<circle cx="57.38" cy="394.03" r="0.55" fill="#75cc61"/>
<circle cx="81.09" cy="369.37" r="0.46" fill="#02bac5"/>
<circle cx="83.36" cy="386.97" r="0.77" fill="#bfc32d"/>
<circle cx="58.63" cy="365.81" r="0.66" fill="#30c5a1"/>
<circle cx="68.93" cy="373.28" r="0.67" fill="#e0bc2a"/>
<circle cx="79.35" cy="378.87" r="0.52" fill="#35c799"/>
<circle cx="84.76" cy="384.94" r="0.75" fill="#e4bb2c"/>
<circle cx="45.66" cy="390.65" r="0.84" fill="#8ecb4f"/>
<circle cx="69.19" cy="371.55" r="0.64" fill="#03bbc2"/>
<circle cx="55.77" cy="395.63" r="0.4" fill="#d3bf27"/>
<circle cx="75.75" cy="397.8" r="0.75" fill="#fdbd3d"/>
<circle cx="62.91" cy="375.62" r="0.5" fill="#02bac5"/>
<circle cx="93.69" cy="402.6" r="0.41" fill="#62cd70"/>
<circle cx="91.24" cy="386.34" r="0.63" fill="#07bcbf"/>
<circle cx="91.01" cy="385.51" r="0.82" fill="#74cd62"/>
<circle cx="64.61" cy="404.83" r="0.48" fill="#40ca8d"/>
<circle cx="87.98" cy="411.05" r="0.47" fill="#e5bb2d"/>
<circle cx="89.06" cy="373.39" r="0.51" fill="#27c2ac"/>
<circle cx="78.8" cy="384.44" r="0.69" fill="#422ebe"/>
<circle cx="94.05" cy="390.11" r="0.76" fill="#97ca48"/>
<circle cx="60.04" cy="397.83" r="0.81" fill="#debc2a"/>
<circle cx="59.72" cy="371.45" r="0.43" fill="#1fc0b2"/>
<circle cx="91.3" cy="377.35" r="0.79" fill="#c4c22b"/>
<circle cx="83.8" cy="401.13" r="0.58" fill="#42ca8b"/>
<circle cx="73.32" cy="410.68" r="0.68" fill="#89cb53"/>
<circle cx="88.15" cy="411.84" r="0.52" fill="#85cb56"/>
<circle cx="71.22" cy="403.2" r="0.49" fill="#2fc5a2"/>
<circle cx="79.87" cy="376.1" r="0.53" fill="#0abdbd"/>
<circle cx="56.58" cy="396.57" r="0.66" fill="#f0ba36"/>
<circle cx="65.22" cy="365.32" r="0.79" fill="#e1bc2b"/>
<circle cx="87.82" cy="397.3" r="0.77" fill="#99c946"/>
<circle cx="88.11" cy="403.99" r="0.62" fill="#05bbc1"/>
<circle cx="66.42" cy="409.24" r="0.71" fill="#24c1af"/>
<circle cx="84.02" cy="409.73" r="0.66" fill="#09bdbe"/>
<circle cx="83.85" cy="374.78" r="0.8" fill="#e5bb2d"/>
<circle cx="92.03" cy="369.42" r="0.79" fill="#f0ba36"/>
<circle cx="63.54" cy="383.64" r="0.85" fill="#5ccc76"/>
<circle cx="61.17" cy="402.62" r="0.45" fill="#01b8c9"/>
<circle cx="66.72" cy="376.95" r="0.81" fill="#dfbc2a"/>
<circle cx="105.46" cy="388.84" r="0.44" fill="#d7be28"/>
<circle cx="98.14" cy="396.29" r="0.44" fill="#f6ba3b"/>
<circle cx="71.17" cy="406.35" r="0.72" fill="#46cb88"/>
<circle cx="65.34" cy="401.9" r="0.41" fill="#e7bb2e"/>
<circle cx="77.76" cy="370.18" r="0.71" fill="#b9c430"/>
<circle cx="74.75" cy="407.89" r="0.5" fill="#6bcd69"/>
<circle cx="54.79" cy="388.25" r="0.41" fill="#15bfb7"/>
<circle cx="65.37" cy="410.17" r="0.8" fill="#b6c532"/>
<circle cx="61.24" cy="370.06" r="0.46" fill="#7acc5e"/>
<circle cx="88.27" cy="388.49" r="0.71" fill="#dfbc2a"/>
<circle cx="49.95" cy="397.47" r="0.63" fill="#9dc943"/>
<circle cx="88.12" cy="407.25" r="0.62" fill="#19bfb5"/>
<circle cx="83.62" cy="379.22" r="0.5" fill="#3dc990"/>
<circle cx="68.88" cy="381.75" r="0.73" fill="#79cc5e"/>
<circle cx="56.2" cy="373.21" r="0.52" fill="#5fcd73"/>
<circle cx="101.38" cy="388.68" r="0.63" fill="#c2c22b"/>
<circle cx="67.45" cy="413.56" r="0.56" fill="#d8be28"/>
<circle cx="57.98" cy="386.06" r="0.69" fill="#c1c32c"/>
<circle cx="77.35" cy="405.14" r="0.71" fill="#3dc991"/>
<circle cx="91.74" cy="398.11" r="0.72" fill="#96ca48"/>
<circle cx="65.45" cy="377.33" r="0.59" fill="#1dc0b3"/>
<circle cx="85.84" cy="404.33" r="0.57" fill="#72cd63"/>
<circle cx="53.82" cy="384.62" r="0.85" fill="#cbc129"/>
<circle cx="93.07" cy="393.75" r="0.82" fill="#ccc028"/>
<circle cx="50.99" cy="386.13" r="0.57" fill="#7ecc5b"/>
<circle cx="88.51" cy="410.94" r="0.45" fill="#37c898"/>
<circle cx="58.89" cy="377.33" r="0.81" fill="#d9be28"/>
<circle cx="76.74" cy="366.56" r="0.55" fill="#2ac3a8"/>
<circle cx="64.12" cy="368.4" r="0.54" fill="#01b8ca"/>
<circle cx="49.41" cy="381.08" r="0.74" fill="#28c2ab"/>
<circle cx="90.46" cy="384.37" r="0.67" fill="#0cbdbc"/>
<circle cx="55.55" cy="397.57" r="0.68" fill="#1cc0b3"/>
<circle cx="68.74" cy="407.52" r="0.72" fill="#bdc32e"/>
<circle cx="87.87" cy="388.63" r="0.68" fill="#16bfb7"/>
<circle cx="83.9" cy="386.21" r="0.68" fill="#83cc57"/>
<circle cx="52.02" cy="395.34" r="0.68" fill="#f5ba3a"/>
<circle cx="69.11" cy="404.26" r="0.61" fill="#29c3aa"/>
<circle cx="101.82" cy="384.05" r="0.61" fill="#72cd63"/>
<circle cx="80.11" cy="404.79" r="0.82" fill="#bdc32f"/>
<circle cx="70.18" cy="370.96" r="0.64" fill="#0cbdbc"/>
<circle cx="89.74" cy="413.31" r="0.48" fill="#24c1ae"/>
<circle cx="93.11" cy="401.61" r="0.69" fill="#3eca8f"/>
<circle cx="84.5" cy="385.6" r="0.79" fill="#a2c83f"/>
<circle cx="63.15" cy="396.94" r="0.77" fill="#02bbc3"/>
<circle cx="49.16" cy="383.37" r="0.47" fill="#6acd6a"/>
<circle cx="93.65" cy="402.45" r="0.56" fill="#28c3aa"/>
<circle cx="83.72" cy="372.35" r="0.6" fill="#a5c83d"/>
<circle cx="70.33" cy="385.69" r="0.85" fill="#23c1af"/>
<circle cx="83.2" cy="382.71" r="0.62" fill="#35c79a"/>
<circle cx="54.7" cy="398.64" r="0.47" fill="#1bc0b4"/>
<circle cx="93.38" cy="381.37" r="0.63" fill="#a0c841"/>
<circle cx="103.94" cy="389.85" r="0.55" fill="#5bcc77"/>
<circle cx="49.37" cy="393.45" r="0.49" fill="#01b9c7"/>
<circle cx="77.97" cy="402.72" r="0.48" fill="#10beba"/>
<circle cx="76.09" cy="397.65" r="0.55" fill="#ecba32"/>
<circle cx="96.68" cy="390.01" r="0.44" fill="#3bc992"/>
<circle cx="56.46" cy="400.58" r="0.49" fill="#e7bb2e"/>
<circle cx="68.31" cy="405.68" r="0.68" fill="#5fcd73"/>
<circle cx="60.63" cy="382.08" r="0.6" fill="#dbbd29"/>
<circle cx="70.14" cy="401.49" r="0.53" fill="#d2bf27"/>
<circle cx="65.69" cy="373.34" r="0.76" fill="#a3c83f"/>
<circle cx="57.39" cy="404.3" r="0.66" fill="#08bcbf"/>
<circle cx="103.9" cy="390.36" r="0.84" fill="#1cc0b4"/>
<circle cx="57.03" cy="408.2" r="0.7" fill="#64cd6f"/>
<circle cx="68.28" cy="369.88" r="0.74" fill="#bdc32e"/>
<circle cx="95.42" cy="397.33" r="0.62" fill="#35c79a"/>
<circle cx="73.3" cy="392.63" r="0.41" fill="#24c2ae"/>
<circle cx="65.75" cy="397.62" r="0.61" fill="#20c1b1"/>
<circle cx="73.23" cy="375.23" r="0.61" fill="#22c1af"/>
<circle cx="78.44" cy="364.24" r="0.62" fill="#ebba31"/>
<circle cx="96.99" cy="379.16" r="0.7" fill="#1fc0b2"/>
<circle cx="67.25" cy="372.58" r="0.42" fill="#2bc3a8"/>
<circle cx="70.5" cy="368.18" r="0.75" fill="#02bbc3"/>
<circle cx="61.08" cy="372.02" r="0.5" fill="#eaba30"/>
<circle cx="62.42" cy="387.27" r="0.45" fill="#e1bc2b"/>
<circle cx="70.65" cy="397.52" r="0.65" fill="#d7be28"/>
<circle cx="85.65" cy="379.66" r="0.72" fill="#61cd71"/>
<circle cx="85.44" cy="372.35" r="0.71" fill="#c7c12a"/>
<circle cx="57.99" cy="406.56" r="0.85" fill="#3cc991"/>
<circle cx="65.32" cy="366.02" r="0.47" fill="#bcc42f"/>
<circle cx="82.34" cy="406.88" r="0.4" fill="#10beba"/>
<circle cx="86.25" cy="414.2" r="0.52" fill="#89cb52"/>
<circle cx="94.02" cy="410.62" r="0.79" fill="#28c2ab"/>
<circle cx="77.3" cy="404.32" r="0.59" fill="#93ca4b"/>
<circle cx="71.31" cy="413.47" r="0.79" fill="#3bc992"/>
<circle cx="78.88" cy="373.29" r="0.52" fill="#61cd71"/>
<circle cx="58.02" cy="365.16" r="0.64" fill="#b2c635"/>
<circle cx="73.16" cy="365.49" r="0.62" fill="#1bc0b4"/>
<circle cx="74.74" cy="388.48" r="0.76" fill="#422ebe"/>
<circle cx="77.87" cy="412.19" r="0.81" fill="#01b9c7"/>
<circle cx="73.22" cy="392.67" r="0.54" fill="#a8c73b"/>
<circle cx="86.04" cy="410.74" r="0.65" fill="#8dcb4f"/>
<circle cx="67.17" cy="383.32" r="0.76" fill="#dbbd29"/>
<circle cx="84.21" cy="397.45" r="0.76" fill="#24c1af"/>
<circle cx="75.99" cy="387.6" r="0.82" fill="#f1ba37"/>
<circle cx="89.48" cy="396.74" r="0.43" fill="#d0bf27"/>
<circle cx="64.81" cy="412.11" r="0.42" fill="#01b9c6"/>
<circle cx="66.6" cy="386.94" r="0.67" fill="#422ebe"/>
<circle cx="76.96" cy="406.19" r="0.82" fill="#37c897"/>
<circle cx="56.5" cy="384.39" r="0.62" fill="#31c6a0"/>
<circle cx="70.26" cy="392.11" r="0.53" fill="#422ebe"/>
<circle cx="96.6" cy="382.34" r="0.78" fill="#f6ba3b"/>
<circle cx="75.54" cy="373.76" r="0.49" fill="#69cd6b"/>
<circle cx="85.35" cy="407.58" r="0.75" fill="#20c1b1"/>
<circle cx="64.31" cy="376.71" r="0.7" fill="#f5ba3a"/>
<circle cx="62.25" cy="394.22" r="0.71" fill="#62cd71"/>
<circle cx="84.06" cy="407.07" r="0.71" fill="#ecba33"/>
<circle cx="100.36" cy="391.55" r="0.53" fill="#c7c12a"/>
<circle cx="85.57" cy="407.39" r="0.54" fill="#05bbc1"/>
<circle cx="101.94" cy="395.86" r="0.81" fill="#edba33"/>
<circle cx="82.89" cy="396.84" r="0.47" fill="#46cb88"/>
<circle cx="88.07" cy="394.86" r="0.58" fill="#a2c83f"/>
<circle cx="87.06" cy="369.91" r="0.69" fill="#c1c32d"/>
<circle cx="86.16" cy="385.86" r="0.44" fill="#debd29"/>
<circle cx="85.42" cy="380.08" r="0.59" fill="#02bac3"/>
<circle cx="79.34" cy="372.87" r="0.77" fill="#f7ba3c"/>
<circle cx="62.43" cy="383.52" r="0.85" fill="#29c3aa"/>
<circle cx="63.5" cy="384.09" r="0.53" fill="#e1bc2b"/>
<circle cx="95.47" cy="393.5" r="0.62" fill="#02bac5"/>
<circle cx="102.51" cy="385.12" r="0.62" fill="#2dc4a5"/>
<circle cx="69.61" cy="362.73" r="0.64" fill="#72cd64"/>
<circle cx="84.69" cy="369.9" r="0.52" fill="#3bc993"/>
<circle cx="89.56" cy="371.85" r="0.5" fill="#01b8c8"/>
<circle cx="90.48" cy="368.28" r="0.67" fill="#19bfb5"/>
<circle cx="89.18" cy="411.71" r="0.82" fill="#01b9c7"/>
<circle cx="90.23" cy="361.58" r="0.55" fill="#88cb53"/>
<circle cx="83.66" cy="402.2" r="0.73" fill="#e6bb2d"/>
<circle cx="63.02" cy="403.51" r="0.53" fill="#c3c22b"/>
<circle cx="66.69" cy="393.47" r="0.44" fill="#37c898"/>
<circle cx="71.32" cy="400.1" r="0.67" fill="#5ecc74"/>
<circle cx="66.41" cy="398.02" r="0.63" fill="#d1bf27"/>
<circle cx="83.73" cy="383.27" r="0.46" fill="#1abfb5"/>
<circle cx="67.87" cy="407.21" r="0.57" fill="#06bcc0"/>
<circle cx="79.64" cy="375.11" r="0.48" fill="#17bfb6"/>
<circle cx="88.51" cy="409.88" r="0.78" fill="#26c2ad"/>
<circle cx="64.38" cy="395.48" r="0.47" fill="#f2ba37"/>
<circle cx="81.87" cy="376.16" r="0.45" fill="#bfc32d"/>
<circle cx="70.66" cy="413.83" r="0.45" fill="#77cc60"/>
<circle cx="67.28" cy="400.61" r="0.64" fill="#9fc941"/>
<circle cx="81.92" cy="414.35" r="0.49" fill="#7fcc5a"/>
<circle cx="95.29" cy="374.52" r="0.46" fill="#f1ba37"/>
<circle cx="70.26" cy="394.23" r="0.63" fill="#01b8c9"/>
<circle cx="79.97" cy="373.9" r="0.82" fill="#e7bb2d"/>
<circle cx="87.3" cy="415.49" r="0.66" fill="#0bbdbd"/>
<circle cx="65.35" cy="361.63" r="0.74" fill="#8bcb51"/>
<circle cx="78.79" cy="407.93" r="0.41" fill="#bcc42f"/>
<circle cx="55.83" cy="404.86" r="0.53" fill="#01bac5"/>
<circle cx="82.25" cy="400.15" r="0.66" fill="#c9c129"/>
<circle cx="73.05" cy="369.53" r="0.75" fill="#01b9c6"/>
<circle cx="59.36" cy="404.92" r="0.51" fill="#46cb88"/>
<circle cx="94.26" cy="385.98" r="0.42" fill="#32c69f"/>
<circle cx="92.99" cy="371.24" r="0.77" fill="#e9bb30"/>
<circle cx="80.47" cy="414.4" r="0.61" fill="#01b8c9"/>
<circle cx="100.33" cy="390.02" r="0.82" fill="#a7c73c"/>
<circle cx="73.78" cy="394.41" r="0.44" fill="#422ebe"/>
<circle cx="66.38" cy="392.79" r="0.73" fill="#05bbc1"/>
<circle cx="68.96" cy="389.72" r="0.55" fill="#422ebe"/>
<circle cx="49.7" cy="397.23" r="0.49" fill="#98c946"/>
<circle cx="81.62" cy="378.52" r="0.84" fill="#37c897"/>
<circle cx="99.1" cy="387.71" r="0.62" fill="#e5bb2d"/>
<circle cx="79.67" cy="373.1" r="0.81" fill="#2fc5a3"/>
<circle cx="93.45" cy="383.79" r="0.49" fill="#3bc993"/>
<circle cx="55.86" cy="367.85" r="0.75" fill="#dcbd29"/>
<circle cx="79.03" cy="412.69" r="0.56" fill="#fbbc3d"/>
<circle cx="81.67" cy="381.93" r="0.7" fill="#03bbc2"/>
<circle cx="59.52" cy="392.79" r="0.77" fill="#3fca8e"/>
<circle cx="86.33" cy="381.65" r="0.74" fill="#38c897"/>
<circle cx="71.94" cy="366.48" r="0.67" fill="#ebba31"/>
<circle cx="59.43" cy="378.98" r="0.75" fill="#13beb8"/>
<circle cx="93.91" cy="402.22" r="0.83" fill="#f9bb3d"/>
<circle cx="86.8" cy="375.52" r="0.45" fill="#37c898"/>
<circle cx="81.25" cy="405.36" r="0.51" fill="#0bbdbc"/>
<circle cx="59.51" cy="364.17" r="0.49" fill="#86cb55"/>
<circle cx="74.09" cy="367.06" r="0.62" fill="#32c69f"/>
<circle cx="58.3" cy="365.4" r="0.72" fill="#e6bb2d"/>
<circle cx="89.42" cy="368.78" r="0.76" fill="#42ca8b"/>
<circle cx="51.88" cy="385.17" r="0.77" fill="#67cd6c"/>
<circle cx="97.55" cy="396.94" r="0.69" fill="#18bfb6"/>
<circle cx="72.2" cy="378.19" r="0.67" fill="#37c897"/>
<circle cx="96.3" cy="387.14" r="0.4" fill="#5bcc77"/>
<circle cx="83.63" cy="365.38" r="0.45" fill="#20c1b1"/>
<circle cx="89.19" cy="392.07" r="0.67" fill="#99c946"/>
<circle cx="60.12" cy="382.87" r="0.5" fill="#edba34"/>
<circle cx="53.71" cy="388.02" r="0.68" fill="#68cd6c"/>
<circle cx="63.47" cy="414.81" r="0.52" fill="#23c1af"/>
<circle cx="86.24" cy="369.83" r="0.7" fill="#02bbc3"/>
<circle cx="73.83" cy="374.71" r="0.71" fill="#ebba31"/>
<circle cx="59.56" cy="369.21" r="0.48" fill="#fabb3d"/>
<circle cx="90.02" cy="375.18" r="0.56" fill="#f3ba38"/>
<circle cx="95.26" cy="378.26" r="0.67" fill="#1ec0b2"/>
<circle cx="96.9" cy="390.33" r="0.62" fill="#27c2ab"/>
<circle cx="54.88" cy="384.39" r="0.84" fill="#ecba32"/>
<circle cx="79.94" cy="365.07" r="0.47" fill="#58cc79"/>
<circle cx="54.51" cy="406.18" r="0.48" fill="#24c1af"/>
<circle cx="89.06" cy="368.89" r="0.76" fill="#9dc943"/>
<circle cx="82.36" cy="388.31" r="0.45" fill="#3cc992"/>
<circle cx="60.6" cy="369.49" r="0.63" fill="#f7ba3d"/>
<circle cx="82.61" cy="402.1" r="0.8" fill="#01b9c6"/>
<circle cx="95.55" cy="393.99" r="0.68" fill="#fabb3d"/>
<circle cx="90.43" cy="382.63" r="0.56" fill="#2fc5a3"/>
<circle cx="101.96" cy="387.08" r="0.57" fill="#d6be28"/>
<circle cx="66.66" cy="366.73" r="0.81" fill="#9fc942"/>
<circle cx="71.77" cy="389.62" r="0.84" fill="#422ebe"/>
<circle cx="63.66" cy="402.33" r="0.78" fill="#2bc3a8"/>
<circle cx="67.59" cy="404.94" r="0.6" fill="#3eca8f"/>
<circle cx="104.81" cy="388.26" r="0.73" fill="#01b8c8"/>
<circle cx="76.17" cy="390.58" r="0.55" fill="#422ebe"/>
<circle cx="59.08" cy="409.21" r="0.83" fill="#04bbc2"/>
<circle cx="88.23" cy="368.78" r="0.66" fill="#01b9c7"/>
<circle cx="80.27" cy="390.09" r="0.58" fill="#2fc5a2"/>
<circle cx="88.47" cy="362.79" r="0.53" fill="#12beb9"/>
<circle cx="74.88" cy="388.65" r="0.64" fill="#fcbc3d"/>
<circle cx="60.98" cy="364.03" r="0.69" fill="#31c6a0"/>
<circle cx="69.17" cy="365" r="0.57" fill="#33c69d"/>
<circle cx="81.27" cy="412.07" r="0.71" fill="#76cc60"/>
<circle cx="52.37" cy="393.33" r="0.66" fill="#37c897"/>
<circle cx="91.33" cy="366.78" r="0.56" fill="#bbc42f"/>
<circle cx="68.07" cy="383.43" r="0.79" fill="#422ebe"/>
<circle cx="97.38" cy="390.27" r="0.73" fill="#95ca49"/>
<circle cx="93.3" cy="378.11" r="0.42" fill="#a3c83f"/>
<circle cx="58.42" cy="377.88" r="0.84" fill="#08bcbf"/>
<circle cx="46.28" cy="389.73" r="0.54" fill="#08bcbe"/>
<circle cx="59" cy="383.54" r="0.54" fill="#6ccd69"/>
<circle cx="83.92" cy="379.79" r="0.52" fill="#a3c83f"/>
<circle cx="70.95" cy="388.91" r="0.83" fill="#422ebe"/>
<circle cx="84.5" cy="373.38" r="0.49" fill="#23c1af"/>
<circle cx="86.9" cy="373.87" r="0.78" fill="#36c898"/>
<circle cx="83.18" cy="372.39" r="0.54" fill="#e2bc2b"/>
<circle cx="76.62" cy="384.29" r="0.61" fill="#31c6a0"/>
<circle cx="62.65" cy="398.19" r="0.74" fill="#9fc942"/>
<circle cx="50.62" cy="394.73" r="0.81" fill="#90ca4d"/>
<circle cx="104.95" cy="389.5" r="0.68" fill="#e4bb2c"/>
<circle cx="60.25" cy="386.42" r="0.42" fill="#2cc4a7"/>
<circle cx="77.5" cy="365.75" r="0.56" fill="#0fbeba"/>
<circle cx="61.88" cy="382.53" r="0.51" fill="#c1c32c"/>
<circle cx="61.54" cy="371.92" r="0.74" fill="#20c1b1"/>
<circle cx="48.51" cy="391.61" r="0.76" fill="#94ca4a"/>
<circle cx="97.38" cy="395.75" r="0.69" fill="#2fc5a3"/>
<circle cx="79.86" cy="398.37" r="0.71" fill="#1ec0b2"/>
<circle cx="55.88" cy="402.27" r="0.82" fill="#19bfb6"/>
<circle cx="72.76" cy="391.72" r="0.58" fill="#19bfb5"/>
<circle cx="82.63" cy="386.58" r="0.48" fill="#29c3aa"/>
<circle cx="62.98" cy="371.85" r="0.63" fill="#3eca8f"/>
<circle cx="57.2" cy="389.41" r="0.46" fill="#63cd6f"/>
<circle cx="67.71" cy="394.17" r="0.59" fill="#eeba34"/>
<circle cx="78.98" cy="388.04" r="0.7" fill="#1fc0b2"/>
<circle cx="62.01" cy="406.29" r="0.66" fill="#edba34"/>
<circle cx="99.43" cy="384.7" r="0.75" fill="#05bbc1"/>
<circle cx="71.39" cy="403.9" r="0.7" fill="#27c2ac"/>
<circle cx="65.71" cy="400" r="0.8" fill="#34c79b"/>
<circle cx="82.86" cy="411.35" r="0.77" fill="#3dc990"/>
<circle cx="96.18" cy="389.75" r="0.46" fill="#32c69e"/>
<circle cx="90.82" cy="404.41" r="0.68" fill="#64cd6f"/>
<circle cx="92.18" cy="386.99" r="0.67" fill="#10beba"/>
<circle cx="93.82" cy="402.16" r="0.5" fill="#69cd6b"/>
<circle cx="92.57" cy="394.18" r="0.7" fill="#38c897"/>
<circle cx="79.98" cy="383.26" r="0.56" fill="#01b9c6"/>
<circle cx="82.28" cy="380.77" r="0.78" fill="#58cc79"/>
<circle cx="72.2" cy="385.86" r="0.68" fill="#422ebe"/>
<circle cx="89.8" cy="375.14" r="0.52" fill="#afc637"/>
<circle cx="68.19" cy="392.2" r="0.65" fill="#01b9c8"/>
<circle cx="67.79" cy="377.03" r="0.77" fill="#83cc57"/>
<circle cx="75.27" cy="384.96" r="0.68" fill="#422ebe"/>
<circle cx="52.22" cy="393.5" r="0.55" fill="#0abdbd"/>
<circle cx="80.6" cy="361.82" r="0.76" fill="#edba33"/>
<circle cx="70.52" cy="415.29" r="0.76" fill="#5dcc75"/>
<circle cx="79.52" cy="388.43" r="0.75" fill="#422ebe"/>
<circle cx="76.43" cy="389.72" r="0.63" fill="#63cd70"/>
<circle cx="87.34" cy="381.42" r="0.68" fill="#2dc4a6"/>
<circle cx="86.77" cy="390.24" r="0.58" fill="#c8c129"/>
<circle cx="49.23" cy="380.44" r="0.5" fill="#47cb87"/>
<circle cx="68.86" cy="392.59" r="0.76" fill="#17bfb6"/>
<circle cx="80.11" cy="413.29" r="0.84" fill="#b4c533"/>
<circle cx="105.49" cy="387.74" r="0.46" fill="#d7be28"/>
<circle cx="71.41" cy="396.7" r="0.72" fill="#9bc945"/>
<circle cx="77.26" cy="409.13" r="0.49" fill="#8fcb4e"/>
<circle cx="100.53" cy="383.46" r="0.49" fill="#28c3ab"/>
<circle cx="76.05" cy="388.92" r="0.6" fill="#422ebe"/>
<circle cx="83.76" cy="395.3" r="0.72" fill="#8bcb51"/>
<circle cx="69.54" cy="407.3" r="0.65" fill="#45cb89"/>
<circle cx="62.74" cy="401" r="0.74" fill="#40ca8d"/>
<circle cx="97.54" cy="394.2" r="0.73" fill="#01b9c6"/>
<circle cx="86.23" cy="368.88" r="0.49" fill="#f0ba36"/>
<circle cx="75.16" cy="392.06" r="0.72" fill="#0fbeba"/>
<circle cx="60.09" cy="398.14" r="0.56" fill="#cfc028"/>
<circle cx="80.14" cy="382.82" r="0.85" fill="#422ebe"/>
<circle cx="76.76" cy="409.6" r="0.42" fill="#9dc943"/>
<circle cx="82.65" cy="408.53" r="0.8" fill="#24c1af"/>
<circle cx="92.89" cy="377.08" r="0.45" fill="#75cc62"/>
<circle cx="89.3" cy="379.1" r="0.75" fill="#fdbd3d"/>
<circle cx="80.65" cy="378.78" r="0.81" fill="#25c2ad"/>
<circle cx="72.04" cy="381.17" r="0.77" fill="#422ebe"/>
<circle cx="71.38" cy="396.41" r="0.45" fill="#28c2ab"/>
<circle cx="63.26" cy="414.53" r="0.49" fill="#5bcc76"/>
<circle cx="58.59" cy="381.44" r="0.81" fill="#43ca8b"/>
<circle cx="89.5" cy="370.49" r="0.84" fill="#debc2a"/>
<circle cx="62.9" cy="413" r="0.57" fill="#3ac993"/>
<circle cx="74.29" cy="407.63" r="0.46" fill="#81cc58"/>
<circle cx="58.62" cy="367.38" r="0.66" fill="#59cc78"/>
<circle cx="66.1" cy="368.23" r="0.77" fill="#24c2ae"/>
<circle cx="79.3" cy="363.57" r="0.42" fill="#29c3a9"/>
<circle cx="77.49" cy="381.16" r="0.43" fill="#422ebe"/>
<circle cx="65.63" cy="372.02" r="0.68" fill="#26c2ad"/>
<circle cx="55.23" cy="374.53" r="0.69" fill="#87cb54"/>
<circle cx="85.98" cy="378.29" r="0.81" fill="#6bcd69"/>
<circle cx="71.62" cy="410.46" r="0.67" fill="#7ecc5b"/>
<circle cx="65.74" cy="403.06" r="0.61" fill="#2fc5a3"/>
<circle cx="75.61" cy="370.87" r="0.72" fill="#64cd6f"/>
<circle cx="72.22" cy="364.61" r="0.73" fill="#b3c534"/>
<circle cx="88.72" cy="373.05" r="0.58" fill="#33c69d"/>
<circle cx="101.28" cy="394.29" r="0.51" fill="#32c69f"/>
<circle cx="66.72" cy="372.11" r="0.61" fill="#f5ba3a"/>
<circle cx="82.33" cy="369.92" r="0.67" fill="#86cb55"/>
<circle cx="76.15" cy="391.37" r="0.84" fill="#422ebe"/>
<circle cx="60.38" cy="406.26" r="0.58" fill="#39c895"/>
<circle cx="67.81" cy="398.84" r="0.69" fill="#01b9c8"/>
<circle cx="79.7" cy="376.3" r="0.44" fill="#38c896"/>
<circle cx="68.15" cy="361.69" r="0.42" fill="#86cb54"/>
<circle cx="63.67" cy="399.18" r="0.82" fill="#d5be28"/>
<circle cx="49.88" cy="392.63" r="0.82" fill="#40ca8d"/>
<circle cx="66.3" cy="388.62" r="0.52" fill="#5bcc77"/>
<circle cx="63.03" cy="370.82" r="0.74" fill="#fbbc3d"/>
<circle cx="61.15" cy="382.32" r="0.72" fill="#e9bb2f"/>
<circle cx="85.93" cy="378.94" r="0.47" fill="#6bcd69"/>
<circle cx="69.62" cy="398.94" r="0.75" fill="#40ca8d"/>
<circle cx="88.25" cy="372.25" r="0.4" fill="#2bc3a8"/>
<circle cx="97.84" cy="378.99" r="0.77" fill="#cdc028"/>
<circle cx="83.67" cy="367.91" r="0.67" fill="#01bac6"/>
<circle cx="90.51" cy="402.42" r="0.42" fill="#91ca4d"/>
<circle cx="62.5" cy="380.85" r="0.58" fill="#e0bc2a"/>
<circle cx="84.29" cy="367.78" r="0.41" fill="#38c896"/>
<circle cx="97.37" cy="393.16" r="0.61" fill="#d2bf27"/>
<circle cx="89.38" cy="372.66" r="0.49" fill="#6ccd68"/>
<circle cx="71.07" cy="400.58" r="0.84" fill="#9dc943"/>
<circle cx="98.32" cy="395.58" r="0.44" fill="#3bc993"/>
<circle cx="87.95" cy="381.69" r="0.78" fill="#a0c941"/>
<circle cx="91.39" cy="409.97" r="0.54" fill="#04bbc1"/>
<circle cx="61.08" cy="361.95" r="0.67" fill="#36c799"/>
<circle cx="90.81" cy="410.05" r="0.4" fill="#6dcd68"/>
<circle cx="83.63" cy="385.53" r="0.71" fill="#28c3aa"/>
<circle cx="70.64" cy="389.37" r="0.61" fill="#ccc028"/>
<circle cx="88.48" cy="408.47" r="0.69" fill="#34c79c"/>
<circle cx="59.78" cy="391.62" r="0.76" fill="#3ac994"/>
<circle cx="78.16" cy="372.33" r="0.72" fill="#d7be28"/>
<circle cx="69.56" cy="369.19" r="0.78" fill="#f1ba37"/>
<circle cx="62.99" cy="364.98" r="0.48" fill="#23c1af"/>
<circle cx="88.75" cy="399.67" r="0.72" fill="#92ca4b"/>
</g>
<rect x="14.6" y="327.1" width="123.6" height="123.3" fill="none" stroke="#1a1aff" stroke-width="0.9"/>
<path d="M34.71 450.4v-1.6M34.71 327.1v1.6M55.43 450.4v-1.6M55.43 327.1v1.6M76.15 450.4v-1.6M76.15 327.1v1.6M96.87 450.4v-1.6M96.87 327.1v1.6M117.59 450.4v-1.6M117.59 327.1v1.6M14.6 337.7h1.6M138.2 337.7h-1.6M14.6 348.06h1.6M138.2 348.06h-1.6M14.6 358.42h1.6M138.2 358.42h-1.6M14.6 368.78h1.6M138.2 368.78h-1.6M14.6 379.14h1.6M138.2 379.14h-1.6M14.6 389.5h1.6M138.2 389.5h-1.6M14.6 399.86h1.6M138.2 399.86h-1.6M14.6 410.22h1.6M138.2 410.22h-1.6M14.6 420.58h1.6M138.2 420.58h-1.6M14.6 430.94h1.6M138.2 430.94h-1.6M14.6 441.3h1.6M138.2 441.3h-1.6" stroke="#1a1aff" stroke-width="0.7" fill="none"/>
<text x="12.8" y="339.1" font-size="3.9" fill="#1a1aff" text-anchor="end" font-family="'Liberation Sans',Arial,sans-serif" font-weight="bold" stroke="#1a1aff" stroke-width="0.16">−25</text>
<text x="12.8" y="349.46" font-size="3.9" fill="#1a1aff" text-anchor="end" font-family="'Liberation Sans',Arial,sans-serif" font-weight="bold" stroke="#1a1aff" stroke-width="0.16">−20</text>
<text x="12.8" y="359.82" font-size="3.9" fill="#1a1aff" text-anchor="end" font-family="'Liberation Sans',Arial,sans-serif" font-weight="bold" stroke="#1a1aff" stroke-width="0.16">−15</text>
<text x="12.8" y="370.18" font-size="3.9" fill="#1a1aff" text-anchor="end" font-family="'Liberation Sans',Arial,sans-serif" font-weight="bold" stroke="#1a1aff" stroke-width="0.16">−10</text>
<text x="12.8" y="380.54" font-size="3.9" fill="#1a1aff" text-anchor="end" font-family="'Liberation Sans',Arial,sans-serif" font-weight="bold" stroke="#1a1aff" stroke-width="0.16">−5</text>
<text x="12.8" y="390.9" font-size="3.9" fill="#1a1aff" text-anchor="end" font-family="'Liberation Sans',Arial,sans-serif" font-weight="bold" stroke="#1a1aff" stroke-width="0.16">0</text>
<text x="12.8" y="401.26" font-size="3.9" fill="#1a1aff" text-anchor="end" font-family="'Liberation Sans',Arial,sans-serif" font-weight="bold" stroke="#1a1aff" stroke-width="0.16">5</text>
<text x="12.8" y="411.62" font-size="3.9" fill="#1a1aff" text-anchor="end" font-family="'Liberation Sans',Arial,sans-serif" font-weight="bold" stroke="#1a1aff" stroke-width="0.16">10</text>
<text x="12.8" y="421.98" font-size="3.9" fill="#1a1aff" text-anchor="end" font-family="'Liberation Sans',Arial,sans-serif" font-weight="bold" stroke="#1a1aff" stroke-width="0.16">15</text>
<text x="12.8" y="432.34" font-size="3.9" fill="#1a1aff" text-anchor="end" font-family="'Liberation Sans',Arial,sans-serif" font-weight="bold" stroke="#1a1aff" stroke-width="0.16">20</text>
<text x="12.8" y="442.7" font-size="3.9" fill="#1a1aff" text-anchor="end" font-family="'Liberation Sans',Arial,sans-serif" font-weight="bold" stroke="#1a1aff" stroke-width="0.16">25</text>
<text x="34.71" y="456.4" font-size="3.9" fill="#1a1aff" text-anchor="middle" font-family="'Liberation Sans',Arial,sans-serif" font-weight="bold" stroke="#1a1aff" stroke-width="0.16">−20</text>
<text x="55.43" y="456.4" font-size="3.9" fill="#1a1aff" text-anchor="middle" font-family="'Liberation Sans',Arial,sans-serif" font-weight="bold" stroke="#1a1aff" stroke-width="0.16">−10</text>
<text x="76.15" y="456.4" font-size="3.9" fill="#1a1aff" text-anchor="middle" font-family="'Liberation Sans',Arial,sans-serif" font-weight="bold" stroke="#1a1aff" stroke-width="0.16">0</text>
<text x="96.87" y="456.4" font-size="3.9" fill="#1a1aff" text-anchor="middle" font-family="'Liberation Sans',Arial,sans-serif" font-weight="bold" stroke="#1a1aff" stroke-width="0.16">10</text>
<text x="117.59" y="456.4" font-size="3.9" fill="#1a1aff" text-anchor="middle" font-family="'Liberation Sans',Arial,sans-serif" font-weight="bold" stroke="#1a1aff" stroke-width="0.16">20</text>
<text x="76.15" y="463.2" font-size="4.2" fill="#1a1aff" text-anchor="middle" font-family="'Liberation Sans',Arial,sans-serif" font-weight="bold" stroke="#1a1aff" stroke-width="0.16">x (mm)</text>
<text x="5.4" y="389.5" font-size="4.2" fill="#1a1aff" text-anchor="middle" font-family="'Liberation Sans',Arial,sans-serif" font-weight="bold" transform="rotate(-90 5.4 389.5)" stroke="#1a1aff" stroke-width="0.16">y (mm)</text>
<text x="76.15" y="325.9" font-size="4.64" fill="#111" text-anchor="middle" font-family="'Liberation Sans',Arial,sans-serif" font-weight="bold" stroke="#111" stroke-width="0.16">Reconstructed Image with Negative Phase Contrast</text>
<defs><linearGradient id="cbg" x1="0" y1="0" x2="0" y2="1"><stop offset="0" stop-color="#f9fb15"/><stop offset="0.03" stop-color="#f6ef20"/><stop offset="0.06" stop-color="#f5e327"/><stop offset="0.09" stop-color="#f9d62d"/><stop offset="0.12" stop-color="#feca33"/><stop offset="0.16" stop-color="#febe3c"/><stop offset="0.19" stop-color="#f1ba37"/><stop offset="0.22" stop-color="#debc2a"/><stop offset="0.25" stop-color="#c8c129"/><stop offset="0.28" stop-color="#afc637"/><stop offset="0.31" stop-color="#94ca4a"/><stop offset="0.34" stop-color="#77cc60"/><stop offset="0.38" stop-color="#5ccc76"/><stop offset="0.41" stop-color="#44ca8a"/><stop offset="0.44" stop-color="#34c79c"/><stop offset="0.47" stop-color="#28c2ab"/><stop offset="0.5" stop-color="#12beb9"/><stop offset="0.53" stop-color="#01b9c6"/><stop offset="0.56" stop-color="#0cb3d3"/><stop offset="0.59" stop-color="#1aacdd"/><stop offset="0.62" stop-color="#21a3e3"/><stop offset="0.66" stop-color="#269ae9"/><stop offset="0.69" stop-color="#2c90f0"/><stop offset="0.72" stop-color="#2e85f8"/><stop offset="0.75" stop-color="#347afd"/><stop offset="0.78" stop-color="#3f6efe"/><stop offset="0.81" stop-color="#4562fc"/><stop offset="0.84" stop-color="#4757f7"/><stop offset="0.88" stop-color="#484cef"/><stop offset="0.91" stop-color="#4741e5"/><stop offset="0.94" stop-color="#4536d5"/><stop offset="0.97" stop-color="#422ebf"/><stop offset="1" stop-color="#3e26a8"/></linearGradient></defs>
<rect x="141.3" y="327.3" width="7.3" height="123.1" fill="url(#cbg)" stroke="#333" stroke-width="0.3"/>
<text x="150.4" y="439.62" font-size="3.6" fill="#222" text-anchor="start" font-family="'Liberation Sans',Arial,sans-serif" stroke="#222" stroke-width="0.16">0.1</text>
<text x="150.4" y="427.34" font-size="3.6" fill="#222" text-anchor="start" font-family="'Liberation Sans',Arial,sans-serif" stroke="#222" stroke-width="0.16">0.2</text>
<text x="150.4" y="415.06" font-size="3.6" fill="#222" text-anchor="start" font-family="'Liberation Sans',Arial,sans-serif" stroke="#222" stroke-width="0.16">0.3</text>
<text x="150.4" y="402.78" font-size="3.6" fill="#222" text-anchor="start" font-family="'Liberation Sans',Arial,sans-serif" stroke="#222" stroke-width="0.16">0.4</text>
<text x="150.4" y="390.5" font-size="3.6" fill="#222" text-anchor="start" font-family="'Liberation Sans',Arial,sans-serif" stroke="#222" stroke-width="0.16">0.5</text>
<text x="150.4" y="378.22" font-size="3.6" fill="#222" text-anchor="start" font-family="'Liberation Sans',Arial,sans-serif" stroke="#222" stroke-width="0.16">0.6</text>
<text x="150.4" y="365.94" font-size="3.6" fill="#222" text-anchor="start" font-family="'Liberation Sans',Arial,sans-serif" stroke="#222" stroke-width="0.16">0.7</text>
<text x="150.4" y="353.66" font-size="3.6" fill="#222" text-anchor="start" font-family="'Liberation Sans',Arial,sans-serif" stroke="#222" stroke-width="0.16">0.8</text>
<text x="150.4" y="341.38" font-size="3.6" fill="#222" text-anchor="start" font-family="'Liberation Sans',Arial,sans-serif" stroke="#222" stroke-width="0.16">0.9</text>
<text x="150.4" y="329.1" font-size="3.6" fill="#222" text-anchor="start" font-family="'Liberation Sans',Arial,sans-serif" stroke="#222" stroke-width="0.16">1</text>
<rect x="182.2" y="329.9" width="363.4" height="47.4" fill="#fff"/>
<clipPath id="ch1"><rect x="182.2" y="328.9" width="363.4" height="48.4"/></clipPath>
<polyline clip-path="url(#ch1)" points="181.5,376.6 217,376.6 219.2,358.3 222.6,368.3 225.4,371.7 227.6,372.2 229.8,369.4 233.2,357.2 234.8,365 235.9,359.5 238.2,372.8 241.5,356 243.2,363 244.9,357.5 246,371.5 247.6,358.5 249.9,370.5 251.5,355.5 253.2,374 256.5,375.6 262,375.2 273.1,374.5 277.6,372.8 280.9,355 283.2,359.4 284.8,357.2 287.6,370.5 291,373.9 295.4,373.9 302,368.3 306.5,362.7 310,363.9 312.8,369.4 317.2,359.4 320.6,369 323.4,371.7 328.9,370 335.6,369.4 340.1,361.6 343.4,356.1 346.7,361.6 352.3,358.3 355.7,356.6 358,358.3 361.3,363.9 364.1,358.3 366.4,353.8 368.6,356.1 370.2,365 373,372.8 375.3,368.3 378.6,372.8 381.9,375 383.1,368.3 384.7,356.1 387,362.7 389.2,360.5 392.5,366.1 395.3,370.5 398.6,363.9 401.4,361 404.8,363.9 407.7,366.1 411.6,370.5 414.4,373.9 417.1,375.6 422.7,373.9 431.6,372.8 435.5,362.7 437.2,359.4 438.3,365 439.4,358.3 440.5,368.3 442.7,372.8 450.5,374.5 458,375.6 470,375.6 471.8,375 475.2,362.7 479.6,355.5 482.4,362.7 485.2,375 489.6,373.9 491.9,362.7 494.6,356.6 497.4,362.7 499.7,370.5 500.5,364 502.5,368 506,362.7 507.1,373.9 509.4,376.1 546,376.1" fill="none" stroke="#000" stroke-width="1.1" stroke-dasharray="2.4,1.8"/>
<polyline clip-path="url(#ch1)" points="181.5,330.6 182.81,330.6 184.13,330.88 185.44,330.6 186.76,330.6 188.07,330.6 189.39,330.6 190.7,330.6 192.02,330.62 193.33,330.76 194.65,330.6 195.96,330.6 197.28,330.6 198.59,330.78 199.91,330.67 201.22,330.6 202.54,330.93 203.85,330.92 205.17,330.64 206.48,330.6 207.8,330.6 209.11,330.6 210.43,330.6 211.74,330.6 213.06,330.6 214.37,330.6 215.69,330.6 217,330.6 218.9,349.35 220.9,339.71 222.55,336.92 224.2,334.53 225.9,333.55 227.6,332.85 229,333.76 230.4,334.7 232,343.15 233.2,352.65 234.3,337.31 235.4,345.19 236.8,338.13 238.2,331.36 240.4,345.81 241.8,352.31 243.2,341.24 244.3,351.51 246.5,333.01 247.6,353.7 249.9,333.11 251.5,354.11 253.8,330.6 255.17,330.66 256.53,331.2 257.9,330.72 259.27,331.1 260.63,330.6 262,330.6 263.4,331.17 264.8,331.85 266.2,331.94 267.6,332.33 268.98,332.82 270.35,333.67 271.73,333.76 273.1,333.46 274.6,333.57 276.1,333.44 277.6,333.4 278.7,335.27 279.3,336.71 280.9,352.75 282,353.15 283.7,343.52 285.4,354.01 286.3,348.67 287.8,333.93 289.8,333.45 292,331.53 294.3,334.14 295.95,332.49 297.6,331.42 299.9,330.77 301.5,334.72 303.2,337.35 304.6,338.49 306,340.4 307.4,343.57 308.8,346.13 310,344.54 311.4,340.34 312.8,334.64 314.27,339.15 315.73,344.08 317.2,348.15 318.7,343.48 320.2,338.65 321.7,334.03 323,335.01 324.3,335.24 325.6,336.09 326.94,336.1 328.28,336.4 329.62,337.07 330.96,336.87 332.3,337.17 334.25,337.68 336.2,337.31 337.5,340.09 338.8,343.57 340.1,346.29 341.5,348.57 342.9,351.32 344.25,351.27 345.6,350.9 347.9,341.33 349.37,343.81 350.83,345.54 352.3,347.09 354.25,349.78 356.2,352.34 358,352.28 359.4,348.12 360.8,342.46 363,343.98 364.4,346.93 365.8,350.79 367.2,351.69 368.6,352.51 370.8,337.91 372.5,335.1 374.7,337.81 376.9,335.76 378.6,334.4 380.3,333.02 382.5,331.7 384.2,352.5 386.4,340.88 388.6,348.03 389.7,348.96 391,345.09 392.3,341.15 393.6,336.7 395,335.71 396.4,334.78 397.7,338.3 399,341.24 400.3,344.78 401.7,345.8 403.1,346.43 405.05,341.99 407,337.87 408.33,338.31 409.67,338.44 411,338.88 413.2,334.47 414.6,333.32 416,331.18 417.7,331.42 419.4,330.6 420.87,331.86 422.33,332.45 423.8,333.41 425.3,333.04 426.8,333.65 428.3,332.82 429.97,332.87 431.63,332.68 433.3,332.46 435,340.71 436.1,346.18 437.2,336.26 438.3,343.07 439,336.87 440,352.87 441.6,335.26 443.9,333.03 445.22,332.63 446.54,332.96 447.86,333.03 449.18,332.77 450.5,332.81 452,332.03 453.5,331.64 455,331.1 456.75,330.6 458.5,330.63 459.86,330.94 461.21,330.84 462.57,330.71 463.92,330.6 465.28,330.71 466.63,330.6 467.99,330.6 469.34,330.8 470.7,330.6 472.1,331.83 473.5,332.28 475.2,339.49 476.3,348.28 477.9,352.46 480.2,352.38 481.8,348.3 483.2,337.2 484.6,331.98 486,330.83 487.4,330.6 488.8,331.42 490.2,332.86 492.4,342.43 494.6,352.4 496.3,341.97 497.8,338.39 499.3,334.85 501.6,339.75 502.1,341.44 504.4,335.05 506,345.23 507.1,333.14 508.2,330.78 509.5,330.87 510.81,330.84 512.11,330.6 513.41,330.6 514.72,330.6 516.02,330.6 517.32,330.6 518.63,330.8 519.93,330.81 521.23,330.69 522.54,330.91 523.84,330.6 525.14,330.6 526.45,330.6 527.75,330.6 529.06,330.6 530.36,330.6 531.66,330.61 532.97,330.6 534.27,330.6 535.57,330.81 536.88,330.93 538.18,330.6 539.48,330.6 540.79,330.6 542.09,330.84 543.39,330.6 544.7,330.69 546,330.5" fill="none" stroke="#ff1010" stroke-width="1.6" stroke-linejoin="round"/>
<polyline clip-path="url(#ch1)" points="181.5,330.6 182.81,330.6 184.13,330.88 185.44,330.6 186.76,330.6 188.07,330.6 189.39,330.6 190.7,330.6 192.02,330.62 193.33,330.76 194.65,330.6 195.96,330.6 197.28,330.6 198.59,330.78 199.91,330.67 201.22,330.6 202.54,330.93 203.85,330.92 205.17,330.64 206.48,330.6 207.8,330.6 209.11,330.6 210.43,330.6 211.74,330.6 213.06,330.6 214.37,330.6 215.69,330.6 217,330.6 218.9,349.35 220.9,339.71 222.55,336.92 224.2,334.53 225.9,333.55 227.6,332.85 229,333.76 230.4,334.7 232,343.15 233.2,352.65 234.3,337.31 235.4,345.19 236.8,338.13 238.2,331.36 240.4,345.81 241.8,352.31 243.2,341.24 244.3,351.51 246.5,333.01 247.6,353.7 249.9,333.11 251.5,354.11 253.8,330.6 255.17,330.66 256.53,331.2 257.9,330.72 259.27,331.1 260.63,330.6 262,330.6 263.4,331.17 264.8,331.85 266.2,331.94 267.6,332.33 268.98,332.82 270.35,333.67 271.73,333.76 273.1,333.46 274.6,333.57 276.1,333.44 277.6,333.4 278.7,335.27 279.3,336.71 280.9,352.75 282,353.15 283.7,343.52 285.4,354.01 286.3,348.67 287.8,333.93 289.8,333.45 292,331.53 294.3,334.14 295.95,332.49 297.6,331.42 299.9,330.77 301.5,334.72 303.2,337.35 304.6,338.49 306,340.4 307.4,343.57 308.8,346.13 310,344.54 311.4,340.34 312.8,334.64 314.27,339.15 315.73,344.08 317.2,348.15 318.7,343.48 320.2,338.65 321.7,334.03 323,335.01 324.3,335.24 325.6,336.09 326.94,336.1 328.28,336.4 329.62,337.07 330.96,336.87 332.3,337.17 334.25,337.68 336.2,337.31 337.5,340.09 338.8,343.57 340.1,346.29 341.5,348.57 342.9,351.32 344.25,351.27 345.6,350.9 347.9,341.33 349.37,343.81 350.83,345.54 352.3,347.09 354.25,349.78 356.2,352.34 358,352.28 359.4,348.12 360.8,342.46 363,343.98 364.4,346.93 365.8,350.79 367.2,351.69 368.6,352.51 370.8,337.91 372.5,335.1 374.7,337.81 376.9,335.76 378.6,334.4 380.3,333.02 382.5,331.7 384.2,352.5 386.4,340.88 388.6,348.03 389.7,348.96 391,345.09 392.3,341.15 393.6,336.7 395,335.71 396.4,334.78 397.7,338.3 399,341.24 400.3,344.78 401.7,345.8 403.1,346.43 405.05,341.99 407,337.87 408.33,338.31 409.67,338.44 411,338.88 413.2,334.47 414.6,333.32 416,331.18 417.7,331.42 419.4,330.6 420.87,331.86 422.33,332.45 423.8,333.41 425.3,333.04 426.8,333.65 428.3,332.82 429.97,332.87 431.63,332.68 433.3,332.46 435,340.71 436.1,346.18 437.2,336.26 438.3,343.07 439,336.87 440,352.87 441.6,335.26 443.9,333.03 445.22,332.63 446.54,332.96 447.86,333.03 449.18,332.77 450.5,332.81 452,332.03 453.5,331.64 455,331.1 456.75,330.6 458.5,330.63 459.86,330.94 461.21,330.84 462.57,330.71 463.92,330.6 465.28,330.71 466.63,330.6 467.99,330.6 469.34,330.8 470.7,330.6 472.1,331.83 473.5,332.28 475.2,339.49 476.3,348.28 477.9,352.46 480.2,352.38 481.8,348.3 483.2,337.2 484.6,331.98 486,330.83 487.4,330.6 488.8,331.42 490.2,332.86 492.4,342.43 494.6,352.4 496.3,341.97 497.8,338.39 499.3,334.85 501.6,339.75 502.1,341.44 504.4,335.05 506,345.23 507.1,333.14 508.2,330.78 509.5,330.87 510.81,330.84 512.11,330.6 513.41,330.6 514.72,330.6 516.02,330.6 517.32,330.6 518.63,330.8 519.93,330.81 521.23,330.69 522.54,330.91 523.84,330.6 525.14,330.6 526.45,330.6 527.75,330.6 529.06,330.6 530.36,330.6 531.66,330.61 532.97,330.6 534.27,330.6 535.57,330.81 536.88,330.93 538.18,330.6 539.48,330.6 540.79,330.6 542.09,330.84 543.39,330.6 544.7,330.69 546,330.5" fill="none" stroke="#ff1010" stroke-width="2.7" stroke-dasharray="0.5,1.4" opacity="0.8"/>
<rect x="182.2" y="329.9" width="363.4" height="47.4" fill="none" stroke="#222" stroke-width="0.9"/>
<path d="M213.32 377.3v-3.2M213.32 329.9v3.2M245.25 377.3v-3.2M245.25 329.9v3.2M277.18 377.3v-3.2M277.18 329.9v3.2M309.1 377.3v-3.2M309.1 329.9v3.2M341.02 377.3v-3.2M341.02 329.9v3.2M372.95 377.3v-3.2M372.95 329.9v3.2M404.88 377.3v-3.2M404.88 329.9v3.2M436.8 377.3v-3.2M436.8 329.9v3.2M468.73 377.3v-3.2M468.73 329.9v3.2M500.65 377.3v-3.2M500.65 329.9v3.2M532.57 377.3v-3.2M532.57 329.9v3.2M182.2 376.5h3.2M545.6 376.5h-3.2M182.2 365.07h3.2M545.6 365.07h-3.2M182.2 353.64h3.2M545.6 353.64h-3.2M182.2 342.21h3.2M545.6 342.21h-3.2M182.2 330.78h3.2M545.6 330.78h-3.2" stroke="#222" stroke-width="0.8" fill="none"/>
<text x="213.32" y="384.9" font-size="5" fill="#222" text-anchor="middle" font-family="'Liberation Sans',Arial,sans-serif" stroke="#222" stroke-width="0.12">50</text>
<text x="245.25" y="384.9" font-size="5" fill="#222" text-anchor="middle" font-family="'Liberation Sans',Arial,sans-serif" stroke="#222" stroke-width="0.12">100</text>
<text x="277.18" y="384.9" font-size="5" fill="#222" text-anchor="middle" font-family="'Liberation Sans',Arial,sans-serif" stroke="#222" stroke-width="0.12">150</text>
<text x="309.1" y="384.9" font-size="5" fill="#222" text-anchor="middle" font-family="'Liberation Sans',Arial,sans-serif" stroke="#222" stroke-width="0.12">200</text>
<text x="341.02" y="384.9" font-size="5" fill="#222" text-anchor="middle" font-family="'Liberation Sans',Arial,sans-serif" stroke="#222" stroke-width="0.12">250</text>
<text x="372.95" y="384.9" font-size="5" fill="#222" text-anchor="middle" font-family="'Liberation Sans',Arial,sans-serif" stroke="#222" stroke-width="0.12">300</text>
<text x="404.88" y="384.9" font-size="5" fill="#222" text-anchor="middle" font-family="'Liberation Sans',Arial,sans-serif" stroke="#222" stroke-width="0.12">350</text>
<text x="436.8" y="384.9" font-size="5" fill="#222" text-anchor="middle" font-family="'Liberation Sans',Arial,sans-serif" stroke="#222" stroke-width="0.12">400</text>
<text x="468.73" y="384.9" font-size="5" fill="#222" text-anchor="middle" font-family="'Liberation Sans',Arial,sans-serif" stroke="#222" stroke-width="0.12">450</text>
<text x="500.65" y="384.9" font-size="5" fill="#222" text-anchor="middle" font-family="'Liberation Sans',Arial,sans-serif" stroke="#222" stroke-width="0.12">500</text>
<text x="532.57" y="384.9" font-size="5" fill="#222" text-anchor="middle" font-family="'Liberation Sans',Arial,sans-serif" stroke="#222" stroke-width="0.12">550</text>
<text x="180" y="378.3" font-size="5" fill="#222" text-anchor="end" font-family="'Liberation Sans',Arial,sans-serif" stroke="#222" stroke-width="0.12">-1</text>
<text x="180" y="366.87" font-size="5" fill="#222" text-anchor="end" font-family="'Liberation Sans',Arial,sans-serif" stroke="#222" stroke-width="0.12">0</text>
<text x="180" y="355.44" font-size="5" fill="#222" text-anchor="end" font-family="'Liberation Sans',Arial,sans-serif" stroke="#222" stroke-width="0.12">1</text>
<text x="180" y="344.01" font-size="5" fill="#222" text-anchor="end" font-family="'Liberation Sans',Arial,sans-serif" stroke="#222" stroke-width="0.12">2</text>
<text x="180" y="332.58" font-size="5" fill="#222" text-anchor="end" font-family="'Liberation Sans',Arial,sans-serif" stroke="#222" stroke-width="0.12">3</text>
<text x="174.3" y="353.3" font-size="5.8" fill="#222" text-anchor="middle" font-family="'Liberation Sans',Arial,sans-serif" transform="rotate(-90 174.3 353.3)" stroke="#222" stroke-width="0.1">Intensity</text>
<text x="363.8" y="326.4" font-size="5.45" fill="#111" text-anchor="middle" font-family="'Liberation Sans',Arial,sans-serif" font-weight="bold" stroke="#111" stroke-width="0.16">Theoretical result</text>
<text x="364" y="391.2" font-size="5.5" fill="#222" text-anchor="middle" font-family="'Liberation Sans',Arial,sans-serif" stroke="#222" stroke-width="0.1">x(mm)</text>
<clipPath id="ch2"><rect x="182.4" y="401.3" width="363.2" height="49.5"/></clipPath>
<polyline clip-path="url(#ch2)" points="182.4,447.7 183.2,444 184.3,440.8 186.4,439.7 192.9,437.6 197.7,434.3 201.5,433.8 205.8,435.9 210,438.6 214.3,441.8 217.6,442.9 220.2,427.9 221.8,435.4 224,439.7 227.2,442.9 228,434.3 230.1,442.9 232.3,433.3 233.9,422.5 235,432.2 236.6,437.6 238.7,432.2 240.9,440.8 243,420.4 244.1,422.5 245.7,427.9 246.8,421.5 248.4,417.2 249.5,426.8 250.5,419.3 252.1,421.5 253.2,431.1 254.8,439.7 258,440.8 262.3,439.2 265.6,437.6 270.9,437.6 276,438.6 278.1,437.6 279.2,432.2 280.3,424.7 281.4,412.9 282.4,414 283.5,421.5 284.6,418.2 285.7,425.8 286.7,415 287.8,432.2 288.9,437.6 297.5,437 301.8,432.2 304.4,429 307.1,424.1 309.3,425.8 311.4,430 313.6,432.2 315.7,429 317.3,426.8 319.5,431.1 321.1,440.8 323.2,442.9 328.3,442.4 333.7,444 336.9,441.8 339,436.5 341.7,435.4 343.3,433.3 345.5,432.2 347.6,436.5 349.8,438.6 351.9,436.5 355.1,432.2 357.3,433.3 359.4,437.6 362.1,442.9 364.8,438.6 366.9,434.3 369.1,431.1 371.2,441.8 373.5,446.1 378.4,445.1 381.7,445.1 383.3,440.8 384.3,427.9 385.4,432.2 387,431.1 389.2,429 391.3,432.2 393.5,439.7 395.6,435.4 398.8,430 400.4,426.8 402.6,430 404.2,427.9 406.3,426.8 408.5,435.4 410.6,437.6 413.8,440.8 417.1,440.8 422.1,438.6 424.3,435.9 428.6,436.5 432.9,436.5 434.5,435.4 435.6,430 436.6,424.7 438.2,425.8 439.8,422 440.9,429 442,434.3 443.1,437.6 445.8,437 450,438.6 454.3,440.2 458.6,439.7 462.9,438.6 467.2,437.6 474.4,435.4 476,423.6 477.7,416.1 478.7,419.3 479.8,425.8 481.4,433.3 483,438.6 485.2,441.8 488.4,442.4 491.1,440.8 493.2,431.1 494.8,425.8 496.4,432.2 498.6,439.7 500.7,436.5 502.3,438.6 505,434.3 507.2,442.9 508.6,440.8 512.9,438.6 517.2,435.4 521.5,433.3 525.8,431.7 530,433.3 534.3,436.5 538.6,438.6 542.9,442.9 545.4,446.1" fill="none" stroke="#000" stroke-width="1.1" stroke-dasharray="2.4,1.8"/>
<polyline clip-path="url(#ch2)" points="182.4,447.78 183.2,443.77 184.3,443.25 185.73,441.62 187.17,441.06 188.6,440.75 190.03,439.33 191.47,439.4 192.9,437.78 194.33,436.77 195.77,435.76 197.2,435.56 198.63,435.54 200.07,435.96 201.5,436.19 202.82,436.49 204.15,436.8 205.48,436.6 206.8,436.14 208.15,436.6 209.5,436.36 210.85,436.29 212.2,436.97 213.63,436.72 215.07,435.55 216.5,435.13 218.1,434.11 219.7,446.34 220.2,447.72 221.55,443.29 222.9,438.91 224.5,436.87 226.1,435.75 227.27,434.82 228.43,432.77 229.6,432.72 231.2,436.77 232.8,444.66 233.9,447.14 235,435.55 236,444.49 237.1,434.15 238.2,439.78 239.8,430.46 240.9,432.56 242.5,446.63 244.1,447.16 245.7,440.98 246.8,436.15 247.8,447.47 248.9,437.98 250,447.37 251.1,433.56 252.1,446.86 253.2,446.58 254.3,435.98 255.53,436.14 256.77,435.78 258,436.25 259.43,435.52 260.87,436.06 262.3,435.83 263.4,435.75 264.5,435.97 265.6,436.93 266.93,437.34 268.25,437.87 269.57,437.81 270.9,437.53 272.2,438.57 273.5,437.78 274.8,438.76 276.1,438.11 277.4,438.4 278.6,441.1 279.8,442.47 280.8,446.78 282.4,447.72 284,447.47 285.1,441.21 286.2,447.43 287.3,448.53 288.3,438.59 290,438.64 292.1,437.1 294.2,437.27 296.4,436.53 298.5,435.15 300.1,434.57 301.8,439.87 303.4,442.43 305,441.21 306.6,442.97 308.2,443.77 310.3,443.36 312.5,440.11 313.6,438.58 315.2,441.45 317.3,444.42 318.9,443.46 320,440.78 321.1,438.69 322.7,432.94 324.3,434.34 325.75,434.85 327.2,435.53 328.8,433.78 330.4,433.86 331.67,432.59 332.93,431.71 334.2,431.46 335.55,432.28 336.9,433.29 338.5,437.83 340.1,438.08 341.7,437.65 343.3,441.7 344.9,443.45 346.5,441.31 348.1,436.22 349.8,434.27 351.4,436.05 352.4,439.62 354,437.98 356.2,441.28 357.8,443.97 359.9,440.58 361.6,435.03 363.2,437.74 364.8,440.21 366.4,442.46 368,445.44 369.6,445.53 370.7,437.23 371.7,429.67 373.4,429.22 375.2,431.99 377.4,428.83 379.5,426.94 380.85,424.73 382.2,423.88 383.3,427.45 384,445.11 385.4,436.2 386.5,440.44 387.6,436.54 389.2,443.92 390.8,440.65 392.4,436.4 394,434.34 395.6,434.99 397.8,440.45 399.9,445.26 402,444.17 404.2,445.14 406.3,446.52 408.5,440.93 410.6,439.03 412.8,439.38 414.9,434.59 416.5,434.17 418.1,433.78 419.43,433.41 420.77,433.74 422.1,434.81 424.3,435.56 425.9,437.05 427.5,437.47 429.1,436.86 430.7,437.29 432.9,437.27 434.5,439.41 436.1,444.62 437.2,447.6 438.2,440.71 439.8,444.35 440.9,447.25 442,440.68 443.1,438.82 444.45,438.32 445.8,438.84 447.2,439.05 448.6,438.96 450,438.66 451.43,437.47 452.87,437.77 454.3,437.91 455.73,437.77 457.17,438.16 458.6,437.73 460.03,437.22 461.47,436.89 462.9,436.44 464.33,437.06 465.77,437.02 467.2,437.08 468.53,436.41 469.87,436.29 471.2,436.14 472.8,436.91 474.4,437.09 475.5,440.21 477.1,446.71 478.2,447.77 479.8,444.54 482,436.45 484.1,433.62 485.45,432.29 486.8,431.66 488.9,432.22 490,434.27 491.1,436.62 493.2,442.32 494.8,446.94 496.4,441.21 498,435.02 499.7,438.54 501.3,436.79 502.9,441.19 504.5,436.63 506.1,441.4 507.2,432.22 508.2,432.12 509.45,433.97 510.7,434.66 512.13,434.91 513.57,435.47 515,435.56 516.43,435.45 517.87,435.85 519.3,435.91 520.73,436.68 522.17,436.67 523.6,436.21 525.03,436.99 526.47,436.79 527.9,436.83 529.33,437.24 530.77,437.12 532.2,438.08 533.63,438.59 535.07,438.9 536.5,439.52 537.93,440.05 539.37,440.15 540.8,441.07 542.9,440.28 544,442.71 545.4,447.7" fill="none" stroke="#ff1010" stroke-width="1.6" stroke-linejoin="round"/>
<polyline clip-path="url(#ch2)" points="182.4,447.78 183.2,443.77 184.3,443.25 185.73,441.62 187.17,441.06 188.6,440.75 190.03,439.33 191.47,439.4 192.9,437.78 194.33,436.77 195.77,435.76 197.2,435.56 198.63,435.54 200.07,435.96 201.5,436.19 202.82,436.49 204.15,436.8 205.48,436.6 206.8,436.14 208.15,436.6 209.5,436.36 210.85,436.29 212.2,436.97 213.63,436.72 215.07,435.55 216.5,435.13 218.1,434.11 219.7,446.34 220.2,447.72 221.55,443.29 222.9,438.91 224.5,436.87 226.1,435.75 227.27,434.82 228.43,432.77 229.6,432.72 231.2,436.77 232.8,444.66 233.9,447.14 235,435.55 236,444.49 237.1,434.15 238.2,439.78 239.8,430.46 240.9,432.56 242.5,446.63 244.1,447.16 245.7,440.98 246.8,436.15 247.8,447.47 248.9,437.98 250,447.37 251.1,433.56 252.1,446.86 253.2,446.58 254.3,435.98 255.53,436.14 256.77,435.78 258,436.25 259.43,435.52 260.87,436.06 262.3,435.83 263.4,435.75 264.5,435.97 265.6,436.93 266.93,437.34 268.25,437.87 269.57,437.81 270.9,437.53 272.2,438.57 273.5,437.78 274.8,438.76 276.1,438.11 277.4,438.4 278.6,441.1 279.8,442.47 280.8,446.78 282.4,447.72 284,447.47 285.1,441.21 286.2,447.43 287.3,448.53 288.3,438.59 290,438.64 292.1,437.1 294.2,437.27 296.4,436.53 298.5,435.15 300.1,434.57 301.8,439.87 303.4,442.43 305,441.21 306.6,442.97 308.2,443.77 310.3,443.36 312.5,440.11 313.6,438.58 315.2,441.45 317.3,444.42 318.9,443.46 320,440.78 321.1,438.69 322.7,432.94 324.3,434.34 325.75,434.85 327.2,435.53 328.8,433.78 330.4,433.86 331.67,432.59 332.93,431.71 334.2,431.46 335.55,432.28 336.9,433.29 338.5,437.83 340.1,438.08 341.7,437.65 343.3,441.7 344.9,443.45 346.5,441.31 348.1,436.22 349.8,434.27 351.4,436.05 352.4,439.62 354,437.98 356.2,441.28 357.8,443.97 359.9,440.58 361.6,435.03 363.2,437.74 364.8,440.21 366.4,442.46 368,445.44 369.6,445.53 370.7,437.23 371.7,429.67 373.4,429.22 375.2,431.99 377.4,428.83 379.5,426.94 380.85,424.73 382.2,423.88 383.3,427.45 384,445.11 385.4,436.2 386.5,440.44 387.6,436.54 389.2,443.92 390.8,440.65 392.4,436.4 394,434.34 395.6,434.99 397.8,440.45 399.9,445.26 402,444.17 404.2,445.14 406.3,446.52 408.5,440.93 410.6,439.03 412.8,439.38 414.9,434.59 416.5,434.17 418.1,433.78 419.43,433.41 420.77,433.74 422.1,434.81 424.3,435.56 425.9,437.05 427.5,437.47 429.1,436.86 430.7,437.29 432.9,437.27 434.5,439.41 436.1,444.62 437.2,447.6 438.2,440.71 439.8,444.35 440.9,447.25 442,440.68 443.1,438.82 444.45,438.32 445.8,438.84 447.2,439.05 448.6,438.96 450,438.66 451.43,437.47 452.87,437.77 454.3,437.91 455.73,437.77 457.17,438.16 458.6,437.73 460.03,437.22 461.47,436.89 462.9,436.44 464.33,437.06 465.77,437.02 467.2,437.08 468.53,436.41 469.87,436.29 471.2,436.14 472.8,436.91 474.4,437.09 475.5,440.21 477.1,446.71 478.2,447.77 479.8,444.54 482,436.45 484.1,433.62 485.45,432.29 486.8,431.66 488.9,432.22 490,434.27 491.1,436.62 493.2,442.32 494.8,446.94 496.4,441.21 498,435.02 499.7,438.54 501.3,436.79 502.9,441.19 504.5,436.63 506.1,441.4 507.2,432.22 508.2,432.12 509.45,433.97 510.7,434.66 512.13,434.91 513.57,435.47 515,435.56 516.43,435.45 517.87,435.85 519.3,435.91 520.73,436.68 522.17,436.67 523.6,436.21 525.03,436.99 526.47,436.79 527.9,436.83 529.33,437.24 530.77,437.12 532.2,438.08 533.63,438.59 535.07,438.9 536.5,439.52 537.93,440.05 539.37,440.15 540.8,441.07 542.9,440.28 544,442.71 545.4,447.7" fill="none" stroke="#ff1010" stroke-width="2.6" stroke-dasharray="0.5,1.4" opacity="0.8"/>
<rect x="182.4" y="401.3" width="363.2" height="48.5" fill="none" stroke="#222" stroke-width="0.9"/>
<path d="M228.7 449.8v-3.2M228.7 401.3v3.2M275.9 449.8v-3.2M275.9 401.3v3.2M323.1 449.8v-3.2M323.1 401.3v3.2M370.3 449.8v-3.2M370.3 401.3v3.2M417.5 449.8v-3.2M417.5 401.3v3.2M464.7 449.8v-3.2M464.7 401.3v3.2M511.9 449.8v-3.2M511.9 401.3v3.2M182.4 449.5h3.2M545.6 449.5h-3.2M182.4 439.88h3.2M545.6 439.88h-3.2M182.4 430.26h3.2M545.6 430.26h-3.2M182.4 420.64h3.2M545.6 420.64h-3.2M182.4 411.02h3.2M545.6 411.02h-3.2M182.4 401.4h3.2M545.6 401.4h-3.2" stroke="#222" stroke-width="0.8" fill="none"/>
<text x="228.7" y="457" font-size="5" fill="#222" text-anchor="middle" font-family="'Liberation Sans',Arial,sans-serif" stroke="#222" stroke-width="0.12">50</text>
<text x="275.9" y="457" font-size="5" fill="#222" text-anchor="middle" font-family="'Liberation Sans',Arial,sans-serif" stroke="#222" stroke-width="0.12">100</text>
<text x="323.1" y="457" font-size="5" fill="#222" text-anchor="middle" font-family="'Liberation Sans',Arial,sans-serif" stroke="#222" stroke-width="0.12">150</text>
<text x="370.3" y="457" font-size="5" fill="#222" text-anchor="middle" font-family="'Liberation Sans',Arial,sans-serif" stroke="#222" stroke-width="0.12">200</text>
<text x="417.5" y="457" font-size="5" fill="#222" text-anchor="middle" font-family="'Liberation Sans',Arial,sans-serif" stroke="#222" stroke-width="0.12">250</text>
<text x="464.7" y="457" font-size="5" fill="#222" text-anchor="middle" font-family="'Liberation Sans',Arial,sans-serif" stroke="#222" stroke-width="0.12">300</text>
<text x="511.9" y="457" font-size="5" fill="#222" text-anchor="middle" font-family="'Liberation Sans',Arial,sans-serif" stroke="#222" stroke-width="0.12">350</text>
<text x="180.2" y="451.3" font-size="5" fill="#222" text-anchor="end" font-family="'Liberation Sans',Arial,sans-serif" stroke="#222" stroke-width="0.12">0</text>
<text x="180.2" y="441.68" font-size="5" fill="#222" text-anchor="end" font-family="'Liberation Sans',Arial,sans-serif" stroke="#222" stroke-width="0.12">0.5</text>
<text x="180.2" y="432.06" font-size="5" fill="#222" text-anchor="end" font-family="'Liberation Sans',Arial,sans-serif" stroke="#222" stroke-width="0.12">1</text>
<text x="180.2" y="422.44" font-size="5" fill="#222" text-anchor="end" font-family="'Liberation Sans',Arial,sans-serif" stroke="#222" stroke-width="0.12">1.5</text>
<text x="180.2" y="412.82" font-size="5" fill="#222" text-anchor="end" font-family="'Liberation Sans',Arial,sans-serif" stroke="#222" stroke-width="0.12">2</text>
<text x="180.2" y="403.2" font-size="5" fill="#222" text-anchor="end" font-family="'Liberation Sans',Arial,sans-serif" stroke="#222" stroke-width="0.12">2.5</text>
<text x="172.3" y="425" font-size="5.8" fill="#222" text-anchor="middle" font-family="'Liberation Sans',Arial,sans-serif" transform="rotate(-90 172.3 425)" stroke="#222" stroke-width="0.1">Intensity</text>
<text x="182.5" y="399" font-size="3.6" fill="#222" text-anchor="start" font-family="'Liberation Sans',Arial,sans-serif" stroke="#222" stroke-width="0.16">×10<tspan dy="-1.2" font-size="2.8">-3</tspan></text>
<text x="363.8" y="398.4" font-size="5.3" fill="#111" text-anchor="middle" font-family="'Liberation Sans',Arial,sans-serif" font-weight="bold" stroke="#111" stroke-width="0.16">Experimental result</text>
<text x="363.8" y="463.3" font-size="5.5" fill="#222" text-anchor="middle" font-family="'Liberation Sans',Arial,sans-serif" stroke="#222" stroke-width="0.1">x(mm)</text>
<text x="80.9" y="156" font-size="10.5" fill="#111" text-anchor="middle" font-family="'Liberation Serif',serif" stroke="#111" stroke-width="0.4">(a)</text>
<text x="260.4" y="156.1" font-size="10.5" fill="#111" text-anchor="middle" font-family="'Liberation Serif',serif" stroke="#111" stroke-width="0.4">(b)</text>
<text x="455.3" y="155.8" font-size="10.5" fill="#111" text-anchor="middle" font-family="'Liberation Serif',serif" stroke="#111" stroke-width="0.4">(c)</text>
<text x="81.05" y="314.1" font-size="10.5" fill="#111" text-anchor="middle" font-family="'Liberation Serif',serif" stroke="#111" stroke-width="0.4">(d)</text>
<text x="260.5" y="313.9" font-size="10.5" fill="#111" text-anchor="middle" font-family="'Liberation Serif',serif" stroke="#111" stroke-width="0.4">(e)</text>
<text x="454.9" y="313.6" font-size="10.5" fill="#111" text-anchor="middle" font-family="'Liberation Serif',serif" stroke="#111" stroke-width="0.4">(f)</text>
<text x="81" y="479.7" font-size="10.5" fill="#111" text-anchor="middle" font-family="'Liberation Serif',serif" stroke="#111" stroke-width="0.4">(g)</text>
<text x="357.8" y="479.7" font-size="10.5" fill="#111" text-anchor="middle" font-family="'Liberation Serif',serif" stroke="#111" stroke-width="0.4">(h)</text>
</svg>
</body></html>
